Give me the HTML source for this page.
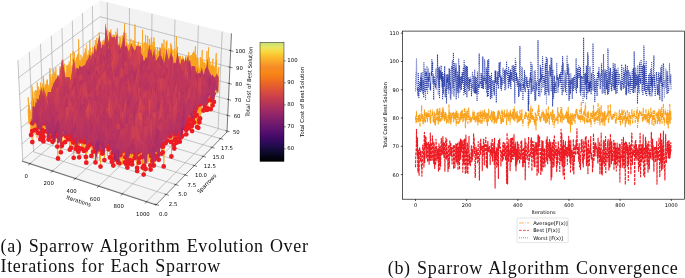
<!DOCTYPE html>
<html><head><meta charset="utf-8"><title>Sparrow Algorithm</title>
<style>
html,body{margin:0;padding:0;background:#fff}
body{width:685px;height:278px;overflow:hidden;position:relative}
svg{position:absolute;left:0;top:0;display:block}
.cap{position:absolute;font-family:"Liberation Serif",serif;color:#111;white-space:nowrap;font-size:18px;line-height:20.5px}
</style></head><body>
<svg width="685" height="278" viewBox="0 0 685 278">
<defs><clipPath id="ca"><rect x="0" y="0" width="343" height="232"/></clipPath></defs>
<g clip-path="url(#ca)">
<g transform="translate(-103.0,-55.0) scale(0.5364)" font-size="10" font-family="'DejaVu Sans','Liberation Sans',sans-serif"><g><g><path d="M 233.65 403.28 L 380.11 280.51 L 378.08 103.46 L 224.6 215.45 " style="fill: #f2f2f2; opacity: 0.5; stroke: #f2f2f2; stroke-linejoin: miter"/> </g> </g> <g><g><path d="M 380.11 280.51 L 615.14 348.82 L 623.52 165.67 L 378.08 103.46 " style="fill: #e6e6e6; opacity: 0.5; stroke: #e6e6e6; stroke-linejoin: miter"/> </g> </g> <g><g><path d="M 233.65 403.28 L 482.79 484.65 L 615.14 348.82 L 380.11 280.51 " style="fill: #ececec; opacity: 0.5; stroke: #ececec; stroke-linejoin: miter"/> </g> </g> <g><g><path d="M 247.73 407.88 L 393.45 284.39 L 391.98 106.98 " style="fill: none; stroke: #a4a4a4; stroke-width: 1.15"/> <path d="M 289.64 421.57 L 433.11 295.92 L 433.34 117.46 " style="fill: none; stroke: #a4a4a4; stroke-width: 1.15"/> <path d="M 332.32 435.51 L 473.44 307.64 L 475.42 128.13 " style="fill: none; stroke: #a4a4a4; stroke-width: 1.15"/> <path d="M 375.79 449.71 L 514.46 319.56 L 518.25 138.99 " style="fill: none; stroke: #a4a4a4; stroke-width: 1.15"/> <path d="M 420.07 464.17 L 556.17 331.69 L 561.85 150.04 " style="fill: none; stroke: #a4a4a4; stroke-width: 1.15"/> <path d="M 465.19 478.9 L 598.6 344.02 L 606.22 161.29 " style="fill: none; stroke: #a4a4a4; stroke-width: 1.15"/> </g> </g> <g><g><path d="M 225.46 214.83 L 234.47 402.6 L 483.53 483.89 " style="fill: none; stroke: #a4a4a4; stroke-width: 1.15"/> <path d="M 246.7 199.33 L 254.67 385.67 L 501.85 465.09 " style="fill: none; stroke: #a4a4a4; stroke-width: 1.15"/> <path d="M 267.44 184.2 L 274.41 369.11 L 519.74 446.72 " style="fill: none; stroke: #a4a4a4; stroke-width: 1.15"/> <path d="M 287.7 169.41 L 293.73 352.92 L 537.22 428.79 " style="fill: none; stroke: #a4a4a4; stroke-width: 1.15"/> <path d="M 307.5 154.96 L 312.62 337.09 L 554.29 411.27 " style="fill: none; stroke: #a4a4a4; stroke-width: 1.15"/> <path d="M 326.85 140.84 L 331.11 321.59 L 570.98 394.14 " style="fill: none; stroke: #a4a4a4; stroke-width: 1.15"/> <path d="M 345.78 127.03 L 349.2 306.43 L 587.3 377.4 " style="fill: none; stroke: #a4a4a4; stroke-width: 1.15"/> <path d="M 364.28 113.52 L 366.9 291.59 L 603.25 361.03 " style="fill: none; stroke: #a4a4a4; stroke-width: 1.15"/> </g> </g> <g><g><path d="M 615.23 346.8 L 380.09 278.55 L 233.55 401.21 " style="fill: none; stroke: #a4a4a4; stroke-width: 1.15"/> <path d="M 616.56 317.69 L 379.77 250.36 L 232.11 371.4 " style="fill: none; stroke: #a4a4a4; stroke-width: 1.15"/> <path d="M 617.92 288.16 L 379.44 221.78 L 230.66 341.14 " style="fill: none; stroke: #a4a4a4; stroke-width: 1.15"/> <path d="M 619.29 258.2 L 379.11 192.81 L 229.18 310.42 " style="fill: none; stroke: #a4a4a4; stroke-width: 1.15"/> <path d="M 620.68 227.8 L 378.77 163.44 L 227.68 279.24 " style="fill: none; stroke: #a4a4a4; stroke-width: 1.15"/> <path d="M 622.09 196.96 L 378.42 133.66 L 226.15 247.59 " style="fill: none; stroke: #a4a4a4; stroke-width: 1.15"/> </g> </g> <g><g><path d="M 233.65 403.28 L 482.79 484.65 " style="fill: none; stroke: #000000; stroke-width: 0.95; stroke-linecap:square"/> </g> <g><g><path d="M 249 406.8 L 245.18 410.04 " style="fill: none; stroke: #000000; stroke-width: 0.95; stroke-linecap:square"/> </g> <g><text text-anchor="middle" x="240.86" y="434.14" transform="rotate(-0 240.86 434.14)">0</text> </g> </g> <g><g><path d="M 290.89 420.47 L 287.13 423.76 " style="fill: none; stroke: #000000; stroke-width: 0.95; stroke-linecap:square"/> </g> <g><text text-anchor="middle" x="282.8" y="448.01" transform="rotate(-0 282.8 448.01)">200</text> </g> </g> <g><g><path d="M 333.55 434.39 L 329.85 437.74 " style="fill: none; stroke: #000000; stroke-width: 0.95; stroke-linecap:square"/> </g> <g><text text-anchor="middle" x="325.51" y="462.12" transform="rotate(-0 325.51 462.12)">400</text> </g> </g> <g><g><path d="M 377 448.57 L 373.36 451.98 " style="fill: none; stroke: #000000; stroke-width: 0.95; stroke-linecap:square"/> </g> <g><text text-anchor="middle" x="369.01" y="476.5" transform="rotate(-0 369.01 476.5)">600</text> </g> </g> <g><g><path d="M 421.26 463.01 L 417.69 466.49 " style="fill: none; stroke: #000000; stroke-width: 0.95; stroke-linecap:square"/> </g> <g><text text-anchor="middle" x="413.32" y="491.15" transform="rotate(-0 413.32 491.15)">800</text> </g> </g> <g><g><path d="M 466.35 477.72 L 462.85 481.27 " style="fill: none; stroke: #000000; stroke-width: 0.95; stroke-linecap:square"/> </g> <g><text text-anchor="middle" x="458.47" y="506.07" transform="rotate(-0 458.47 506.07)">1000</text> </g> </g> <g><text text-anchor="middle" x="337.84" y="480.67" transform="rotate(-341.91 337.84 480.67)">Iterations</text> </g> </g> <g><g><path d="M 615.14 348.82 L 482.79 484.65 " style="fill: none; stroke: #000000; stroke-width: 0.95; stroke-linecap:square"/> </g> <g><g><path d="M 481.43 483.2 L 487.73 485.26 " style="fill: none; stroke: #000000; stroke-width: 0.95; stroke-linecap:square"/> </g> <g><text text-anchor="middle" x="496.47" y="505.92" transform="rotate(-0 496.47 505.92)">0.0</text> </g> </g> <g><g><path d="M 499.77 464.42 L 506.02 466.43 " style="fill: none; stroke: #000000; stroke-width: 0.95; stroke-linecap:square"/> </g> <g><text text-anchor="middle" x="514.65" y="486.95" transform="rotate(-0 514.65 486.95)">2.5</text> </g> </g> <g><g><path d="M 517.68 446.07 L 523.88 448.03 " style="fill: none; stroke: #000000; stroke-width: 0.95; stroke-linecap:square"/> </g> <g><text text-anchor="middle" x="532.39" y="468.42" transform="rotate(-0 532.39 468.42)">5.0</text> </g> </g> <g><g><path d="M 535.17 428.15 L 541.32 430.07 " style="fill: none; stroke: #000000; stroke-width: 0.95; stroke-linecap:square"/> </g> <g><text text-anchor="middle" x="549.73" y="450.33" transform="rotate(-0 549.73 450.33)">7.5</text> </g> </g> <g><g><path d="M 552.26 410.64 L 558.36 412.52 " style="fill: none; stroke: #000000; stroke-width: 0.95; stroke-linecap:square"/> </g> <g><text text-anchor="middle" x="566.67" y="432.65" transform="rotate(-0 566.67 432.65)">10.0</text> </g> </g> <g><g><path d="M 568.97 393.53 L 575.02 395.36 " style="fill: none; stroke: #000000; stroke-width: 0.95; stroke-linecap:square"/> </g> <g><text text-anchor="middle" x="583.22" y="415.37" transform="rotate(-0 583.22 415.37)">12.5</text> </g> </g> <g><g><path d="M 585.3 376.8 L 591.3 378.59 " style="fill: none; stroke: #000000; stroke-width: 0.95; stroke-linecap:square"/> </g> <g><text text-anchor="middle" x="599.4" y="398.48" transform="rotate(-0 599.4 398.48)">15.0</text> </g> </g> <g><g><path d="M 601.26 360.44 L 607.22 362.19 " style="fill: none; stroke: #000000; stroke-width: 0.95; stroke-linecap:square"/> </g> <g><text text-anchor="middle" x="615.23" y="381.96" transform="rotate(-0 615.23 381.96)">17.5</text> </g> </g> <g><text text-anchor="middle" x="579.93" y="447.35" transform="rotate(-45.74 579.93 447.35)">Sparrows</text> </g> </g> <g><g><path d="M 615.14 348.82 L 623.52 165.67 " style="fill: none; stroke: #000000; stroke-width: 0.95; stroke-linecap:square"/> </g> <g><g><path d="M 613.26 346.23 L 619.18 347.95 " style="fill: none; stroke: #000000; stroke-width: 0.95; stroke-linecap:square"/> </g> <g><text text-anchor="middle" x="632.58" y="351.8" transform="rotate(-0 632.58 351.8)">50</text> </g> </g> <g><g><path d="M 614.58 317.12 L 620.54 318.82 " style="fill: none; stroke: #000000; stroke-width: 0.95; stroke-linecap:square"/> </g> <g><text text-anchor="middle" x="634.04" y="322.71" transform="rotate(-0 634.04 322.71)">60</text> </g> </g> <g><g><path d="M 615.91 287.6 L 621.93 289.27 " style="fill: none; stroke: #000000; stroke-width: 0.95; stroke-linecap:square"/> </g> <g><text text-anchor="middle" x="635.52" y="293.22" transform="rotate(-0 635.52 293.22)">70</text> </g> </g> <g><g><path d="M 617.27 257.65 L 623.33 259.3 " style="fill: none; stroke: #000000; stroke-width: 0.95; stroke-linecap:square"/> </g> <g><text text-anchor="middle" x="637.02" y="263.3" transform="rotate(-0 637.02 263.3)">80</text> </g> </g> <g><g><path d="M 618.65 227.26 L 624.75 228.89 " style="fill: none; stroke: #000000; stroke-width: 0.95; stroke-linecap:square"/> </g> <g><text text-anchor="middle" x="638.55" y="232.94" transform="rotate(-0 638.55 232.94)">90</text> </g> </g> <g><g><path d="M 620.04 196.43 L 626.19 198.03 " style="fill: none; stroke: #000000; stroke-width: 0.95; stroke-linecap:square"/> </g> <g><text text-anchor="middle" x="640.09" y="202.14" transform="rotate(-0 640.09 202.14)">100</text> </g> </g> <g><text text-anchor="middle" x="660.05" y="254.89" transform="rotate(-87.38 660.05 254.89)">Total Cost of Best Solution</text> </g> </g> </g>
<path d="M106.4,78.6l0-33.3 .4,21.4 0-25.1 .4,25.4 0-20.5 .3,6.9 .1-7.7 .4,16.2 .1-22.7 .3,25.6 .2-15.7 .5,35.1-.2-42.3 .5,26.1 .1-4.6 .1-9.6 .3-5.3 .2,12.6 0-15.2 .5,10.5 0-17.1 .3-5.5 .4,35 .2,7.5 .1-33.5 .3,10.1 0-10.4 .4-.9 .3,18.1 .2,2.1 0-24.4 .4,19.6 .1-16.8 .2,15.9 0-15.5 .5-6 .3,22.4 0-21.7 .5,41.6 0-39.2 .3,28.4 .3,3.8 .1-19.4 .3,13.9 .2-17 .3,.5 .3,35.3 0-47.7 .2,32 .3-19.9 .2,18.5 .2,6-.1-43.6 .4,10.5 .4,36.5 .4-2.3 0-22.7 .1-4.9 .1,17 .5,3.1 0-23.6 .4,24.3 .2-19 .1-11.5 .1,25.3 .5-5.1 .1-16.9 .2,23 .1-16 .4,6.8 .2,23.2 .1-31.8 .3,28.1 .3-37.3 .1,24.7 .3-7.7 .2,13 .3-20.8 .1,20.6 .2-30.1 .4,46.7 .1-46.5 .3,15.3 .2-27.2 .1,40.3 .2-19.4 .3,34.9 .3-12.9 .1-14 .2,23.3 .2-42.5 .4,37.6 .2-17.1 .1,17.4 .2-29 .2,3.5 .3,17.1 .4,14.9 .1-16.2 .1,10.3 .3-16.3 .2,6.1 .3-16.7 .2,12.3 .1,26.6 .2-38.1 .2,23.6 .2,1.7 .2-24 .3,32.9 .1-36.4 .3,6 .1,22 .5-1.8 .2-14.4 .1,13.6 .1-17.4 .4,4.4 .3-6.4 .1,5 .3,22.8 .3-29 .1,27.6 .2-11.2 .2-15.1 .2,22.1 .3-20.1 .2,13 .3-23.4 .1,28.8 .5-45.1 .2,20.2 .1,15.5 .4-15.9-.1,33 .2-2.8 .4-28.5 .3,17.1 0,9.6 .2-10.8 .3-11.9 .1,13.9 .3-16.4 .2,9.1 .2,17.3 .3-13.9 .2-18.3 .4,3.9-.1,34.5 .5-7.8 .2-21.6 .1-.5 .2,21.9 .3-24.3 0,32.9 .4-25 .1,22.6 .2,9.5 .4-38.5 .3-.3 .1,24 .2-19.2 .2,22.3 .1-4.6 .7-41.7-.2,38.3 .2-13.7 .4-2.5 .1,22 .1,10.9 .3-24.3 .4,2.6 .4-20.7 .1,32 .2-22.1 .2-.1-.1,20.8 .9-38.1-.2,33.9 .3-8.1 0,21 .7-38.8-.1,25.2 0,7.6 .3-20.8 .5,12.2 .2-12.6 0,17.8 .4-36.4 0,37 .2-8.5 .5-17.3 0,27.2 .4-4.4 .5-30.8 .2,1.6-.2,27.2 .6-23.5-.1,30.1 .1,.1 .4-18.3 .6-11.3-.2,29.1 .6-36.6-.2,32.5 .3-11.2 .1,10.4 .5-23.6-.1,36.4 .2-6.5 .3-14 .4-5.9 .1,12.2 .4-20.1 .2,15.2 .3-16.2-.2,30.5 .7-35.7-.2,34.5 .7-21.7 0,15.2-.1,12.7 .6-31.8-.2,34.3 .7-25.1-.1,17.4 .4-20.8 .3,19.4 .4-21.1-.3,26.2 .6-31.6 .4,10.1-.2,21.6 .2-6.3 .4-13.7 .4-10.1-.1,16.2 .4,.3 .3-10.2 .1,17.7 .6-27.1-.2,20.8 .5-12.7-.3,32.1 .7-40 .1,14.7 .2-9.4 .3,10.7 .5-14.4-.2,23.1 .7-29.3-.3,26.1 .6-13.1-.1,14.2 .6-26-.2,28.4 .7-23.6-.4,34.4 .6-28.2 0,19 .3-13.3 .1,20.4 .8-34.1-.3,26.1 .6-16.3 .4-3.3-.1,9.3-.2,22 .8-34.1-.2,33 .9-40.1 .1,9.6-.5,30.9 .4-2.7 .4-15.8 .3,7.4 .4-13.2 0,2.3 .1,8.9 0,17.3 .7-22.6 .4-17.8-.3,30.1 .2,3 .6-13.1 .4-11.7-.2,23.9 .5-21.7-.3,20.2 .9-29.3 0,21.5 .3-12.3 0,12.3 .7-26-.2,29 .1,12.7 .9-37.2-.6,34.4 .5-19.9 .4-4.5-.1,18.3 .5-8.5 .5-10.8-.7,37.2 1.3-46.4-.3,27.5 .8-28.4-.4,28.4 .3-6.2-.2,23.9 .6-18.5 .3-1.1 .6-20.6 .6-18-.8,43.6 .5-10.4 .4-10.5-.3,24.7 .9-21.7 .4-15.4-.3,28.5 .2,8.9 .3-8.1 .2-7-.1,9.4 .6-3.4 .3-7.8-.5,31.5 .8-31.2 .3,1.2 .1,11.3 .5-16.8-.3,23.1 .8-23.2-.2,20 .3-4.9 .5-10.5 .2,5.8-.1,10.2 .3,3.7 .6-21.2 .4-4.5-.4,18.1 .5-11 0,7.7 0,12.4 .9-31.1-.2,25.8 .7-23.4 0,7.8-.2,19.1 .6-16.2-.1,14.2 .3-3.6 .9-19-.3,13.8 .9-20 .2,4.4-.7,30.7 .9-28.9 .1,8.3 .4-10.6-.2,18.1 .1,8.9 .8-27.4-.2,20.9 .7-21.4 .2,3.7-.2,17.7 .7-17.2-.4,18 .6-11.8-.5,25.5 1.5-39.2-.6,28.2 .1,1.1 .6-14.1-.1,17.5 1-27.8-1.1,41.1 1.3-32.9 .1,5.6 .2-3.8 .2,2.2 .6-16.1 .4,5.8-.6,22.7 .2,3.2 1.2-37.4-.9,44.9 .8-21.1 .3,2.3 .8-24.9-.4,25.4 .4-9.4 .8-22.2-1.2,46.3 1.4-38.4-.5,26.3-.1,10.3 .8-22.6 0,14.7 .9-26-.4,21.5 .9-21.3-.5,27.4 .9-25.9-.4,26.8 .8-20-.3,15.9-.3,12.4 .8-12.6-.3,11 0,11.8 1.2-34.1-.4,20.7 .8-19 .6-2.1-.6,21.5 .8-18.5-.2,15.5 .7-11.5-.5,18 .1-.4 1.9-44-.6,26.8 .7-17.1 .2,5.7-.8,24.7-.2,10.4 1.5-38.5-.2,17.9 .5-6.7-.2,14.7 1-24.9-.3,17.7-.1,6.9-.1,9.4 .9-20 .8-12.2-1,31.2 .7-12.8 .3-5.1 .1,10.1 1.5-37.2-.3,17.7-.5,16.1 .8-15.7-.6,22.1 1.5-32.3-.5,20.9 .5-13-.8,27.7-.1,15.3 1.7-40.8 .4-3.8-1.5,43 1.9-43.7-.9,28.6 1-13.8 .6-13.6-.3,17.7 .6-11.7-.4,14.9 .9-19.7-.7,26.4 1.2-23.2-.9,26.3 1.6-32-.7,21.8 1.4-27.6-.6,17.7-.7,21 1.6-31.2-.7,27.6 .7-12.3 .7-15.9-1.2,39.7 1.4-27.9-.4,13.6 1.1-23.5-1,31.7 1-22.4 1.5-23.6-.8,25-.3,10.5 1.5-29.1-.5,14.6-.1,11.6-.1,8.4 1-21.3 0,6.2-.4,11.4 .7-6.1 .8-13.3 .3-3.7-.7,25.9 .3-2.5 1.1-24.1M102.6,73.7l0-30.5 .2,8.3 .3,16.4 .2-25.2 .2,10.8 .4,7-.1-20.7 .3,5.7 .4,20.8 .2-3 0-15.4 .1-6.6 .5,25.7 .3-4.2 0-8.6 0-30.4 .4,26.6 .3,1 .2,9.3 .1-20.2 .5,23.4-.1-27.3 .4,25.8 .2-23 .4,27.6 0-36.4 .4,31.8 0-5.7 .3,15.6 .4-3.6-.1-23 .3,.1 .4,23.6 0-13.7 0-23.5 .6,18.5 .4,33.9 0-15 .1-29.2 0-11 .4,22.7 .2-12.1 .2,27.1 .5,10 0-25.1 .3-4.5 .3,33.6 .2-17.5 .1-28.7 .2,16.6 .3,21.1 .2-4.5 0-23.3 .3,2.9 .5,18.7 .3,3.6 0-30.8 .3,7.6 .2,22.2 .2-32 .3,26.6 .3,7.6 0-16.1 .2,14.2 .2-22.9 .3,39 0-32 .4,11.5 0-26 .5,23.2 .2-11.2 .4,22.7 0-19.5 .2,13.6 .2-16.3 .3,8.7 .1-5.9 .3,16.6 0-14.4 .6,14 .1-24.4 .1-7.3 .1,24 .5,5.5 .1-6 .4,9.3 .1-21.7 .2,21.7 .1-22.2 .2-5.8 .3,23 .4,2.3 .1-13.6 .2,30 .3-35 .1,26.4 .2-44 .2,40 .1-34.1 .4,7.7 .1,44.5 .4-8.6 .2-33.1 .4,28.3 .1-22.1 .1,12.8 .2-18.7 .2,34.1 .2-37.9 .3-.5 .1,39.8 .3-6.4 .2-28.3 .5-2.3 .1,24.9 .3-4.2 .1-21.8 .1,15.4 .2-13.2 .4,19.5 .2-9.4 .2,3.3 .3-19.5 .3,.9 .1,16.8 .2-7.2 .2,20.5 .1,3.8 .3-28.3 .2-5.5 .3,33.9 .3-7.6 .2-18.3 .3,1.7 .1,27.5 .1-14.2 .2-18.5 .2,26 .4-25.8 .2,14.9 .3-9.5 0,27.7 .4-32.3 .1,1.5 .1,20.4 .4-10 .2,7.8 .2,11.2 .3-19.3 .2,11.1 .3-22.8 .2,4.3 .2,17.6 .3-18.7 .1,29.8 .1-10.6 .2-22.1 .3,12.8 .3,16.6 .2-33.6 .2,35.4 .2-22.9 .1,20.1 .5-29 .1,18.1 .2-11.6 0,15.2 .5,13.5 .3-32.4 .3-3.7 0,28.9 .4-19.9 0,16.1 .5-18.5 .1,14.6 .3-20.8 .1,24.3 .1,1.2 .3-18.1 .2,19.2 .3-24.1 .3-6.5-.1,33 .5-32.7 .1,41.3 .3-33.5 .1,29 .3-20.6 .1,6.6 .3,1.9 .3-11.2 .2,28.7 .4-35 .1,22.1 .4-21.8 0,7.4-.1,25.4 .7-38.9 0,21.9 .5-6.2-.1,27.3 .4-34.2 .2,20.5 0,3.8 .3-16 .5-15.8-.3,42.7 .7-34.1 0,20.7 .6-27.9 0,22.6 .2,4.1 .4-17.7 0,11.4 .4-17.6 .1,9.8 0,28.7 .2-8.3 .6-28.4-.1,26.7 .5-25.5 .2,2.6 0,23.5 .3-10.5 .4-28 .1,22.1 .2,8.1 .2-2 .5-19.9 .2,11.2 0,18 .5-11.1 .2-9.8 .1,.1 .1,23.9 .5-34.6-.2,25.1 .4-1.3 .4-23.9 .1,34 .4-19.9 .1,11.2 .2-10.4 .2,12.6 .4-17-.1,17.5 .3-14.1 0,24.7 .3-5.9 .5-21.3-.1,23 .3,4.7 .6-25.9 .3-.9-.3,25.7 .9-29.3-.1,16.2 0,7.4 .5-15.7 .2,11.2 .3-12.4 .4-6.5-.2,21.1 .4-4.7 .4-13.3 .2-1.2-.3,28 1-34.4-.3,27 .1,13.8 .6-30.9 .3-7-.1,20.8 .1,1.8 .4-12.4 .7-25.9-.5,43.3 .7-24.8 0,19.8 .1,5.7 .5-15.6 0,9 .5-23.9 .4,1.9-.5,34.4 1.1-47.8-.5,39.4 1.1-40.4-.6,38 0,28.2 .7-32.7 .2,2.1 .4-12.8-.2,26.6 .7-34.8 .1,7.8 .1,14.7 .5-15.9-.2,16.3 .3-1 .6-14.4 .3-11.8-.3,26.6 .4,.2 .4-16.1 .2,.9-.2,20.3 .9-17.9-.5,29.9 .6-20.4-.2,18 .3-3.5 .8-24.2-.3,25.8 .6-19 .6-11.9-.2,17.3 .1,5.4 .6-20.6-.6,39.7 1-41.4-.1,17.8 .4-15.1 .3,1.2-.2,23.2 0,12.6 1-32.1 .1,6 .5-19 .4,1.1-.3,22.2 .7-24-.4,24.1 0,10.7 .7-22.7-.4,27.5 .9-21.3 .1-1.2 .6-14-.6,33.9 .7-23.9 .6-10-.3,21.4-.1,13.5 1.2-35.9-.1,11.1-.2,20.4 .4-11.9 .5-11.7 .2,3.3-.1,13.4 .2,10.8 .7-25.5-.1,18.4 .8-25.7-.4,24.8 .9-27.1 .1,5.9-.4,19.8 .6-16.3-.1,11.5 .1,9.4 .8-27.6-.1,26.8 .6-19.7 .2,.9-.3,19.9 .3,3.4 .7-23.6 .3-.5-.3,14 .2,7.9 .6-18.4 .3-5.1-.2,20.7-.1,10 1-34.7-.4,34.6 1-30.5 .4-6.1-.3,19.3-.1,11.7 .7-20.8-.1,16.7 .6-15.5 .4-6.7-.5,20.5 .7-3.4-.5,23.6 1.4-48.8-.5,31.9 .4-11.7-.1,18.4 .5-14.8-.4,19.3 .7-13.8 .9-20.1 .5-2.8-.8,31.8 .5-7.1 .8-22.8 .2,2.9-.4,15.2 .3-1.5 .5-5.9 .2-2-.4,22.9-.2,12.8 1.5-38.2-1,38.7 1.6-51.8-.1,17.7 .9-19.5-.9,33.5 .5-12.4 .8-10.6-.6,23.4 .9-20.5-.7,28.8 .6-13.2 1.2-26.1-1,35.5 1.4-33.2 .1,2.3-.8,27.7 .1,7.7 1.1-23.4-.2,9.9 .5-7.6 .5-2.3-.6,22.3 1-18 .8-21.5-.9,33.8 .2-3.5 1.2-27.4-.5,21.2 .9-18.3-.5,22 .4-1.8 .7-18 .7-6.2-.7,24.8 .7-18-.2,14.9 .4-8.5 .1,5 0,15.2 .3-7.1 .7-9.6-.4,16.3 .4-7.7 .9-21.3 .3,3.6-.8,26.4 1-15.5-.6,18.4 .8-11.1 .4-8.6-.6,24.5 .8-18.8 .1,2.6-.2,9.9 .3,2.1 .8-14.2 1.4-35-1.7,52.7 .4-3.8 .9-13.8 .2,1.9 .7-13.5 0,3-.6,24.2 1.7-35.8-.9,28.6 1-24.2-1.1,35.1 1.5-29.4-.7,20.8 .4-3.7 1.2-23.9-.3,15-.6,19.8 1.6-34.3-.9,27.5 .2,.6 .9-17.3 .5-6.6-.7,24 .2,6 1.2-28.4-.7,23.4 1.3-28.3-.1,12.2-.2,7.8 .5-3.3-.6,18.3 .5-2.4 .9-19.4M98.4,49.4l.6,27.5-.1-23.2 .4,18.4 .4-2-.2-23.4 .4-4.9 .3,15.6 .1,1.6 .3,16.4 .1-25.2 0-8.4 .3,3.1 .5,16.6 .3,6.1-.1-14 .7,32.1 0-23 0-18.4 .5,26.9 0-30.5 .4,28 .2-6-.1-20.4 .4,8.4 .2,11.4 .3,1.6 .2-8.8 .1-11.9 .3,16.5 .4,21.9 .1-18.5 .2,9.6 .1-14.7 .3,2.3 .3,8.1 .1-11.7 .5,24 .3-4.3-.2-26.4 .5,17.8 0-14 .6,26.3-.2-27.7 .4,25 0-22.7 .2,.2 .4,13.7 .1-20 .4,21.1 .2-1.4 .1-16.3 .2-6.9 .4,26.3 .1-1.9 0-28.7 .4,29.5-.1-24 .4,3.4 .3,21.4 .3-16.8 .2,11.9 .3,13.3-.1-21.9 .5,18.6 .1-29.9 .2,18.1 .3-8.5 .4,15.3 0-21 .2,16.5 .3-16 .1,11.9 .2,14.3 .2-29.3 .2,18.7 .4-7.4 .3,9.4 .2-16.9 .2,14.3 0-33.8 .5,37.9 .1-15.8 .3,37.8 .1-15.2 .2-13.7 .3,9.9 0-23.2 .4,16.4 .1-15.8 .6,24.9 0-25.7 .3,22.8 .1-5.3 .4-17 .1,14.3 .2,2 .2,9.1 .1-32.7 .2,28.7 .4-15.7 .3,18.9 0-24.5 .2,20.6 .3,12 .3-24.2 .3-2.6 .2,34.2 .2-18.9 .2-6.9 .1-9.9 .1,18.8 .5-16.2 .2,9.9 .1,2.6 .3-20.5 .1-5 .2,31.3 .4,1 .1-34.3 .5,23 .1,12.3 .1-8.9 .2-20.6 .4,50.3 .1-47.3 .4-3 .1,27.4 .1,0 .2-26.7 .2,35.3 .2-35.7 .3,25.4 .1-27.6 .3,30.1 .1-17.6 .6,19.6 .1-5.2 .2-12.9 .1,22.2 .4,.9 .2-14.1 .1-.7 .2-11.9 .4,3.8 .2,16.1 .4-32.9 0,25.6 .1,7.9 .2-13.3 .4-17.1 .2,27.2 .3,7.7 .2-23.2 .2-4.4 .1,19 .5-32.2 0,48.3 .3-5.4 .2-20.6 .1,9.3 .2-7.3 .4,4.1 .2-10.1 .2,13.3 .3-7.9 .2,19.1 .3-36.2 0,33.4 .2-30.7 .3,15.1 .3-3.4 .3-9.9 0,26.6 .3-27.6 .1,28.1 .4,12.8 .3-32.7 0,26.1 .3-40.3 .2,16.7 .2,12.5 .3,2.9 .3-20.4 .4-1.9 .1,6.4 .1,6.9 .4-14.5 .1,30.6 .4-38.4 .2,3.5 .1,17.1 .1,12.9 .3-25.8 .1,12.2 .1,15.3 .3,18.7 .5-47.2 .3,14 0,13.6 .2-15.2 0,13.3 .6,1.3 .2-17.6 .3-1.2 0,21.8 .2-11.7 0,10.4 .7-19.8 .1,11.7 0,13.3 .4-14.8 .5-10-.1,23 .4-27.9 .1,24.3 .3-6.8 .3-18.3 .2,8.7 0,12.3 .3,1.1 .3-20.2 .1,14.8 0,9.5 .4,7.9 .6-37.9-.3,39.1 .5-39 .5-3.1-.2,33.8 .5-28.5-.2,42.1 .4-16.7 .3,7.6 .4-31.1-.1,30.2 .5-5.6 .4-26.8-.1,17.8 .1,8.6 .7-33.3-.1,30.2 .4-21.4-.1,34.5 .4-13.2 .5-17-.4,41.6 .6-43.4 .7-20.3-.4,41.3 0,21.5 .7-36.9-.2,30.9 .8-35.1 0,28.6 .5-34.8-.2,25.7 .4-20.4 .4-3.8-.2,27.7 .3,.2 .5-22.1 0,29.1 .5-29.5 .3,4.5-.5,44 .8-28.9 .3-8.9 .1,16.4 .3-15.2 0,9.5 .5-23.3-.1,32.4 .6-27.7 .1,4.8 .1,8.1 .1,25.5 .8-49.2 .3,6.3-.4,30.2 .6-28.8 0,18.3 .2-5.4 .4-10 .1,18.3 .5-25.7-.1,21.8 0,10.8 .2,3.6 .7-19.1-.2,16.2 .8-24.7-.3,27.8 .7-31-.3,31.7 .8-33.9-.5,39.4 .5-24 .1,18.9 .7-36.8 .2,10.5 .1,13.4 0,20.7 .7-36 .1,15.8-.1,10.8 .2,4.6 .8-33-.3,25.9 .6-27.2-.3,35.4 .9-36.8 0,19.3 0,6.4 .4-1.3 .5-18.4-.3,21.2 .4-18.6 .8-10.8-.4,27.8 .5-5.1 .5-21.8-.8,44.3 .7-28.9 .3,7.3 .6-17.2-.2,24.4 .4-17.8 .4,.3-.1,17.1 .5-11.4-.1,13.9 .7-32.5-.1,17.7-.4,29.2 .9-37.8-.1,23.6 .6-24.2 .5-6-.5,32.4 1-24.1-.2,16.7-.2,13.1 .9-26.7 .4-7.8-.1,16.3 .4-10.4-.1,13.4 .8-21.7-.5,34.3 .8-29.8-.5,24.7 .3,2.4 1.1-33.6 0,6.9-.4,22.1 .5-2 .7-24 .1,7.1-.6,27.7 1.2-33.7-1,43.8 1-25.5 .9-26.5 .1,8.6-.1,10.2 0,16.7 .8-24.8-.3,20.7 .8-23.8-.7,35.4 1-28.1-.4,22.3 1-28.7-.8,41.4 1.1-37.1-.3,24.5 .8-26.2 .1,9.6 .4-5.4 .3-9.9-.7,31.1 1.2-30.6-.7,36.8 .8-12.7-.2,9.6 0,6.9 1.2-43.4 .3,7.1-.8,34.4 1.1-24.2-.4,18.8 .3-6.3 .6-12.2-.3,28.4 1.4-47.5-.7,28.7 .7-10.9 0,2.6-.4,22.3 .5-9.4 .7-11.5 .4-11.8-.7,33.7 1.1-29.4-.7,28.6 .7-12 .7-12.6 0,6.8 1.1-27.4-1,39.3 .9-20.5-.4,23.4 .9-28.5 .7-15.7-1,37.1 .8-15.3-.3,16.3 .9-17.1-.2,13.9-.1,9.7 1.1-24.4-.3,18 .9-22.8-.6,27.9 1.3-40.9 .4-.4-1,37.3-.1,12.2 .9-26.5-.1,15.1 1.2-27.2-.4,19.7-.3,16 1-19.1-.7,25.8 1.1-27.1-.7,26.2 1.3-34.4-.7,26 .3,4.1 1.3-36-.1,11.5-.3,20.5 .1,.8 .5-8.3 .5-.8 .6-16.5-.5,17.9 1.3-27-1.3,41.8 1.5-41.5-.4,30.2 .8-21.1-.2,17.6 .7-16.6 .1-1.9-.2,15.9 1-16.8-.3,11.1-.2,9.5 .7-12.9 .2,.2-.3,14.4 1.5-33.3-1,38.8 .1-.9 .9-21.6-.5,25.5 .9-18.7-.4,16.2 1.1-23.7 .7-9.7-.4,17.3 .7-12.2-.9,29.8 .3,.4 1.1-27.4 .1,5.2-.3,9.4-.3,18.5 2.1-46.9-1,36.9 .9-21.7 1.1-19.6-1.5,44.9 .2-3 .8-12.5 .3-5.3-.1,6.1 .3,7.5 .9-20.9-.6,22.8 .6-12.5 .2,4.1 .7-11-.7,23.9 1.3-31.6-1.1,39.3 .9-20.6M94.6,52.5l.3,16.3 .5,3.9-.3-26.2 .8,29.6-.2-17.8 .5,10.9 0-14.5 0-9.4 .5,30 .1-37.5 .5,33.1-.1-13.1 .7,28.8 .2-14.2-.3-28.8 .7,27.7-.1-21 .2,11.5 .4,14.8 0-18.2 .5,25.7-.3-51.5 .9,53.9-.3-32.4 .5,22.8 .4,0 0-12.9 .4,18-.2-30.1 .2-4.5 .4,17.5 .2,4.5 0-24.6 .6,28.1 0-20.3 .3,6.9 .4,27.1 0-33 .4,19.8 .4,7.1-.1-21.6 0-10.2 .4,21.4 .3,3.8 .1-17.6 .4,17.7 .1-19.8 .4,10.9 .3,16.8-.1-19.3 0-20 .5,24.7 .2-11.8 .3,1.6 .4,29-.2-36.9 .3,17.5 .3,.5 .2-12.2 .2,12.5 .2,9.3 .4-1.6-.1-27.2 .4,2.4 .2,18.5 .5,7-.2-38.2 .6,41 0-23.8 .2,7.8 0-23.8 .3,4.1 .4,29.5 .2-17.7 .4,19.8 .1-1.5 .2-22.4 .1-6.4 .4,28.1 .1-.2 .1-7.7 .5-9.8 .2,18.4 .4,11.9 0-14.5 .2-2.7 .1-24.8 .3,34.6 .1-8.9 .2-17.9 .5,27.4 0-37.5 .3,34.7 .3-15.6 .2,20.4 .1-22.2 .4,32.7 .1-33 .4,21.1 .2-20.6 .1,7.6 .1-11.1 .4,31.2 .3-35.6 .2,21.2 0-12.6 .2,21.1 .4,1 .2-18.9 .3,18.3 .1-21.9 .2-4.1 .3,30.8 .2-31.7 .3,22 .1,7.2 0-25.6 .4,14.8 .3-17.6 .2,36.5 0-32.7 .4,12.8 .2-11.7 .3,24.2 .3-19.8 .3-7.2 .1,23.3 .1-36.2 .3,35.7 .4-27.4 .1,10.9 .2,1.2 .3,10.2 .2-26.1 .2,22.7 .1,2.9 .1,13.1 .6,2.5 .1-28 .1-11.9 .1,42.4 .5-7.4 .1-16 .2,7.4 .1-25.3 .4,22 .2-13.4 .2-6.7 .2,23.2 .2-24 .2,27.8 .4-11.7 .2,5.3 .3-18.9 .1,31.2 .4-20.8 .1,12.2 .2,2.5 .3-28.7 .1,47.1 .2-22.9 .3-5.6 .3-30.2 .3,25.7 .1,25.1 .1-29 .2,24.6 .5-29.6 .1,9 .1,12.9 .4-34.1 0,48.7 .2-40.5 .3,19.1 .3,16.1 .2-39.9 .3,18.9 0,25 .5-33.8 0,23.9 .2-14 .4-.9 .2,24.5 .4-45-.1,34.3 .3,1.1 .3-30.4 .2,2.8 .3,18.8 .3-21.8 .1,26.3 .2,4.2 .2-17.1 .2,14.5 .4-28 .3,2.6 0,28.8 .1,9.1 .5-35 .2,6.5 0,22.7 .5-22.3-.1,22.4 .3-5 .2-18.1 .5,11.8 .2-16.2 .2,10.5 0,15.5 .6-19.1 0,17.6 0,8.6 .4-24.9 .1,15.8 .3-19.2 .2,19.1 .4-22.7 .1,16.3 .2-10 .2,24.2 .3-17.1 .1,25.6 .6-46.6 0,30.5 .4-19 .1,17.5 .3-20.9 .1,7.4 .2,13.9 .3-.5 .3-20.2 .2,9.4 .1,19.3 .4-29.7 .1,24.9 .4-10.7 0,9.7 .4-1.8 .4-32.1 0,20.9 .2,5.6 .4-17 0,24.8 .3-15.4-.2,29.5 .6-26.9-.1,20.1 .7-22.7 .1,13.1 .3-19.6-.1,35.2 .6-26.6 .1,2.4 .3,3.6 0,12 .2-2.9 .4-7.3 .1,6.4 .6-25.6 .1,6 0,26.4 .5-31.1-.2,39.9 .4-8.9 .4-26.8 .1,14.7 .2-7.8 .5-2.4-.1,18.2 .1,3 .3-15 .7-11.5-.4,33.2 .4-8.8 .4-24 .1,29.2 .3-16.8 .7-13.4-.3,25.8 .2,8.6 .8-44 0,5.9-.1,33.4 .6-21.4-.1,15.9 .2,1.2 .5-17.4 0,6.6 .3-11.9 .4,0-.2,32.2 .5-14.1 .3-14.2 0,16.2 .5-12.6 0,23.1 .6-30.1-.3,26.6 .7-23.4 .3-3.8-.2,21.3 .6-18.3-.3,23.8 .3,7 .5-27.9 .2,2.3-.2,20.9 .6-9.3 .7-27.6-.1,25.5-.1,12.8 .8-34.3-.3,28.3 .6-23.4 .1,17 .1-2.4 .4-8.8 .3-2.7-.4,30.8 .7-15.6 .3-11.8 .1,16.1 .6-22.4 .1,1.3 0,16.5 .2-2.7 .5-14.7 .4-3.6-.4,31 .4-8.9-.2,12.8 1.1-36.2-.2,20.7 .4-3.8-.1,19.7 .3-11.9 1-43.4-.5,48.3 .6-20.2-.4,27.2 .6-14.3 .1,2.5 .6-16.8 .3-.2-.2,18.1 .3-2.4 .3-11.2 .6-11.5-.5,35.8 .6-11.4 .6-16.6-.1,19 .4-11.3-.1,13.7 .9-30.2-.7,38.7 .7-22.1 .6-17.8-.7,37.8 1-28 .1,8.7-.3,23 1.1-35.3-.5,27.3 .9-25.2-.3,15.2 .7-21.9-.4,32.2 1-31-.9,44.7 1-33.9-.7,40.7 1.4-45-.6,33.9 .9-32.2-.1,27.7 .8-30.9 .2,1.1-.3,23.6 .3-8 .8-18.2 0,4.5-.1,20 .5-14.2-.2,18.6 .3-3.3 .8-22.7-.5,24.4 .7-16.4 .1,4.4-.3,17.5 .5-6.8 .8-17.8 .4-11.4-.4,19.4 0,17.3 1.1-31.2-.5,24.8 1-34-.4,30.3 .6-21.5-.7,39.8 1.2-31.4 .4-5.4-.5,28.1 0,2.7 1-31.4 .3,1.8-.4,27.9 .8-17.9-.1,8.3 .8-21.7-.5,24.5 0,7.7 .7-20.9 .8-6.7-.4,19.8 .2-3.3 .3-8.6 .1,12.4 .6-15.9 .6-7.2-.4,22.6-.1,13.4 1.3-39.3 .4-7.5-.8,31.6 .5-5.2 .5-11.4 .1,9-.6,25.7 .7-15.9 .8-25.9 .6,.1-.5,20.3-.2,13 1.1-28-.1,9 .6-12.7 .7-6.1-1,37.7 .9-25-.4,24.1 .9-25.4-.5,22.4 .7-11.7-.1,11.1 1.4-31.3-.7,26.1 .9-23.5-.5,21.2 1.1-19.5-.8,28.2 0,8.3 1.2-29.6-.3,19 .8-20.6-.3,17.7 .8-23-.2,16.7 .4-6.3-.5,20.6 .9-18 .8-14.5-.8,27.6 .3,5.1 .8-20 .1-.1-.6,24.6 .9-19.7 .6-10.3 .5-5-1.3,43 1.4-30-.3,16.2 .1-1.2 1-17.5-.3,12.1 1.1-27.5 .2,11.3-.8,26.3 .2-3.6 1.3-25.1 .1,3.5-.7,23.9 1.2-28.1-.9,34.4 .3-1.5 1.4-32.9-.3,20.4 .4-10.3 1-17.5-1.2,37.6 .2,1.1 1.1-28.3-.7,27.1 1.2-25.6-.1,12.8 .7-14.9M90.6,51.6l.7,22.7 .1-3.7-.1-18.2 .4,12.1 .6,29.7-.2-38.1 .7,40.2-.3-34.6 .3,12.9 .6,9-.3-30.2 .5,19.3-.1-13.9 .5,14.6-.2-17.1 .3-2.7 .5,23 .3-2.4-.1-22.9 .7,21.5-.2-19 0-13.8 .4,18.8 .7,18.3-.3-28.4 .6,23.6 .1-9.8 .2,8.1 0-20.5 .5,28-.1-16.5 .2-14.5 .5,22 .1-16.2 .3,17.4 .3-5.3 .3,6.9 0-17.4 .3,17.3 .3,1.7-.1-17.6 .7,34.2-.1-33.6 .1-1.2 .4,23.2 .2-8.8 .1-14.6 .2-1.2 .5,16.7 .1,3.3 .1-19 .4,15.4 .1-17.8 .5,22.6 0-13.7 .4,15.2-.2-29.5 .3,9.2 .5,18.7 .1-2.4 0-13.7 .3-1.9 .3,7.9 0-17 .3,20.7 .7,19.1-.1-30.2 .5,16.6 0-15.9 .4,26.3-.1-24.7 .2,3.3 .2-10.3 .6,37.3-.1-25.9 .4-1.8 .1-9.8 .3,15.5 .2,8.7 .2-20.6 .2,19.5 0-33.5 .4,40.2 .2-36.2 .4,22.3 .2,8.8 .2-11.7 .2,12.3-.1-26.3 .5,14.4 .2,14.2 .5-6.5-.1-33.1 .7,54.9-.2-40.5 .2,11 .4,18.4 .2,4.6-.2-48.4 .4,7.8 .3,40.7 .5-8.6 .1-11.7 0-13.9 .3,9.9 .3,24-.1-41.6 .6,29.5 .2-10.5 .2,28.7 0-44.2 .5,8 .1-6.8 .3,33.2 .1-41.3 .4,39.7 0-25.7 .3,12.1 .2-18.7 .3,26.9 .3-6.9 .2,13.4 .1-17.4 .2,6.8 .3-19.8 .1-1.7 .4,21.5 .1-18.8 .1,16.3 .4,14.1 .3-18.6 .4,16.9 0-12.8 .2,13.1 .3-14.8 .3,21.5 .1-28.5 .4,34.5 .1-35.3 .1,22.1 .1-20 .5,27.8 0-50.5 .4,39.8 .2-24.2 .2,35.8 .2-25.8 .2,1.1 .2,22.5 .2-13.4 .4-22.4 .3,15.8 .1,21.3 .3-6.8 .2-38.4 .1,39.9 .2-16.8 .4-18.9 .2,44.3 .1-10.6 .1-27.9 .3,26.6 .3-39.5 .2,41.1 .3-28 .3,15 .2-21 .1,18.3 .2,15.9 .3-5.7 .2-33.4 .2,36.4 .1-19.3 .4,19 .2-23.4 .2,3.4 .2,27.9 .2-9.9 .4-11.3 0,19.4 .2-16.2 .4-26.2 .1,32.9 .5-20.3 .1,19.2 .4-9.1 0,20.3 .3-18.8 .1,10.7 .3-26 0,31.4 .3-.5 .3-21.7 .2,19.6 .4-10.1 .1,10 .2-11.7 .4,12.5 .3-31.3 0,6 .1,16.1 .3,6.6 .4-19.9 0,34.6 .2-29.2 .4,13.6 .1,10.1 .3-23.2 .2,34.7 .2-19.5 .2-10.7 .2,16.8 .5-22.4 .4-6.4 0,21 .2-15.8 .1,11.5 .3-4.8 .2,6.3 .2-2.2 .2,29.5 .4-25.7 .2-16.2 .4-5.9 0,28.9 .2-2.7 .4-22.6 .2,3.9-.1,27.2 .5-27.4-.1,26.7 .3,11.3 .4-43.2 .3-.8-.1,38.6 .8-34.9-.1,27.7 .4-18.4 .1,9.2 .1-.1 .3-14.3 .1,23.6 .4-18 .1,27.1 .5-49.1 0,47.4 .3-28.9 .4,8 .1,6.6 .2-17.6 .1,31.1 .4-33.4 0,26.9 .4-17-.2,27.8 .5-8.2 .8-47.6 .1,23.9 0,11.3-.1,15 .4-28.3 .3,21.1 .4-27.9 .1,23.9 .4-16.1 .2,4.9 0,20.2 .2-9.9 .5-15.7-.1,19.6 .5-14.4 .1,24.3 .4-30.4 0,20.7 .4-24 .3,2.5 0,22.9 0,10.6 .7-28.8 .4-3.2-.2,24.4 .5-10 .3-20.8 .2,4.4 0,17.2 .4-23.8 .1,23.3 0,10.2 .5-13.8 .3-4-.1,24.1 .4-3.3 .2-11.3 .3-13.1-.2,32.6 1-56.2-.4,40.6 .8-22.7-.2,18 .4-4-.1,16.5 .6-16.7-.1,15.2 .4-13.7 .1,14.6 .3-8.8 .2-8.9 .5-9.7-.1,17.9 .6-4.3 .5-20.9-.2,26.2 .6-22.8 0,2.6-.1,15.6 .4-.4 .2-6.4 .3,11.7 .6-28 .2-.1-.4,41.8 1-45.4-.6,45.2 .7-26.9-.3,29.8 .4-3.3 .6-27.7 .2-1.8-.1,30.8 .5-16.8 .1,5.6 .5-16.4-.2,20.1 .5-9.9 .6-17.7-.1,15.2-.5,35 1.3-47.4-.5,36 .8-36.2-.3,26.7 .4-8.3 0,12.5 1-30.5-.2,22.1 .1-2.8 .5-9.1 .4-14.7-.1,18.1 .1,16.7 .5-22.2 .4-2.9-.2,14.3 .8-14.7-.1,9.8-.3,28.3 .9-40.7 .7-14.9-.7,46.6 .8-35.9-.4,24.5 .7-4.6 .4-14-.3,22.7 .7-17.8 .5-8.8-.5,29.3 .1,.6 .6-19.5 .8-17.5-.6,35.7 .3-.9 .6-16 .4-7-.4,25.4 1.4-49-1.1,55.8 1.3-48.1-.7,35.4 .1,9.4 .6-20.3 .6-3.7-.7,35.1 1.2-41.3-.2,18.5 .2,.9 .9-35.6-.5,39.2 .6-15-.2,16 .6-10.9 .1,10.4 .7-22.3-.2,17.6 .3-6.8-.3,20.8 1.1-36.1 .1,5.5-.5,29.9 1-31.8-.5,26.5 .6-8.3 .4-7 .3,1.6-.2,10.8 .7-15.3-.2,20.3 .7-19.7 .4-4.6 .1,.1-.3,20.3 .2,1.6 1.1-36.7 .2,13.4-.7,30.8 .7-10.1 .7-22.9 .3-8.9-.8,36.5 1.1-27.3-1.1,42.8 .9-18.6 .7-22 .2,7-.2,15.2 .5-.9 1.4-45.5-1.4,55.7 .8-23.7-.1,22.8 .7-21.6-.4,17.9 1-26.7 .3,.7 0,8.2-.3,21.1 .8-20.7 .5-4.7-.5,21.7 .2,7.1 1.1-37.1-.2,11.5-.4,22.8 1.5-34.4-1.1,41.3 1-30.5-.7,29.2 1.1-27.5-.1,16.8-.1,6.5 .8-12.8-.5,23.3 1.4-40.4-.2,14.7-.1,7.3 .5-7.1-.2,18 .3-.9 1.1-29-.8,29.7 1.3-31.2-.5,19.2 1-20.1-1,36 1.1-30.3 0,11.5 1-21.8-1,40.5 .8-18.9 .1,2.8 1.2-30.9-1.3,46 1.2-31.6 .3,2.3-.1,10.4 1.2-24.2-1.7,56.9 .9-24.5 .9-18 .2-.3-.7,25.7 .8-11.4 1-23.1-1.3,42.3 1.6-41.6 .4,4.5-.6,22.8 .8-19.9-.6,21.1 .7-3.3 .7-18.7-.4,20 .5-7.2-.2,8.8 .7-18.4-.5,25.9 .7-13.7 .3-1.4 1-18.1M86.6,44.4l.6,30.1 .1-5.9-.1-13.1 .7,18.6-.1-9.7 .7,12.9-.3-23.1 .2,.3 .8,32.8-.1-19.2 .1-14.8 0-3.4 .7,25-.1-15.6 .5,16.1 .4-.8-.2-20.4 .2,8.8 .6,15.6-.2-26.8 .6,30.5 .2-8.9 .1-5.1 0-10.8 .7,24.6 .1,4.4-.4-39.4 .4,8.2 .5,28.4 .1-26.5 .5,25.5 0-12.8 .2-7.1 .6,28-.2-27.2 0-18.2 .5,21.9 .3,10.5-.1-19.5 .3,.1 .4,22.1 .5,7.4-.3-43.4 .6,28.8-.2-32.1 .4,26.2 .3,9 .3,1.5 .1-10.9 .6,15.1-.1-21.1 .4,14.4 .1-9.7 .3,4.9 0-12.9 .4,11.9 .2,11.8 .1-21.3 .3,10.4 .2-3.2 .3,14.1 .3-1.9 0-13.3 .4,8.9 0-22.2 .3,8.5 .3,15.6 .3,13.4 .1-21.4 .4,23.3 0-26.2 .4,22.1-.3-45.9 1,57.7-.2-35.1 .3-4.6 .2,9.4 .4,20.3-.3-46.6 .5,34.5-.1-23.4 .7,8.9 .3,20 0-9.9 .4,5.3 .1,6 .1-26 .6,28.3 0-16.5 .1,4.3 0-28.4 .7,40.2 0-12.4 .1-18 .3,20 .1-18.1 .6,28.1 .1-7.1 .1-10.5 .1-9.6 .6,27.4 0-5.4 .2-6.2 .1-14.2 .5,17.2 .3-5 .2,17.2 .3,2.8 0-27.4 .2,18.8 .1-13.2 .2-19.6 .5,26.3 .2-9.6 .2,14.7 .4,5.6-.1-33.7 .2,9.7 .4,24.7 .2-9.1 .2,9.7 .2-20.6 .3,25.8 .3-9.9 0-7.8 .3-11 .3,14.7 .1-27.5 .3,22.3 .4,4.1 0-25.5 .2,7.9 .2,17.6 .4-16.6 .2,20.9 .3-4.5 0-27.5 .3,38.3-.1-43.9 .4,10.4 .3,33.2 .2-16.1 .3-11.5 .1-3.8 .5,35.3 .3,.5 0-29.5 .2-.7 .2,28.2 .3-9.9 .1-8 .4,13.4 0-26.7 .3,27.2 .1-20.4 .4,5.1 .3,26.7 .1-7.1 .3-30.4 .4,1.1 .1,16.5 .1-11.2 .3,21.9 .2-16.8 .3,16.4 .2-37.5 .1,15.8 .3,22.6 .2-36.7 .2,32.4 .1-22.4 .4,19.3 .3-12.3 .1,6.4 .1-13.4 .5,15.8 .2-11.6 .2,5.2 .3,4.1 .2,19.8 .1-26.9 .3-14.9 .1,34.2 .3-15.6 .2-9.8 .4,26.3 .2-15.5 .1-15.6 .2,18.1 .4-19.5 0,27.7 .5,2.9 .1-25.3 .2,16.5 .3-13.2 .2-6.9 .2,26.7 .2,1.7 .3-24 .1-5.4 .3,29.3 .1,1.1 .2-15.2 .3,9.1 .2-22.3 .3,15 .1-11.7 .2,31.7 .4,7.5 .4-15 .1-14.5 .3,21.2 .2-32.4 .2,22.7 .2-28.2 .3,42.4 .1-16.6 .1,13.9 .2-30.4 .4,6.4 0,25.4 .4-19.6 0,13.2 .4-13 .4-18.3 .2,27.4 .3-13.1-.1,27.7 .5-42.8 .1,28.4 .3-13.6 .2,22.3 .2-23.6 .5-1.8 0,25.2 .3-6.5 0,23.8 .3-26.8 .2-19.1 .1,44.2 .6-49.3 .3,13.5 0,17.9 .2,5.1 .2-19.5 .4-17.3 0,25.7 .2,7.1 .5-19 .1-5.7-.1,32.7 .4-8.8 .7-41.1 .1,25 .2-8.3 .1,33.2 .3-27.8 .3-2.3 0,23.4 .3-22.7 .2,5.6 .5-9.5 0,23.1 .1,2.3 .4-25 .3-9.9-.4,55.7 .9-49 0,26.5 .5-28.8-.3,45.8 .5-31.5 0,12.6 .6,3.9 .2-16.2 0,10.7 .5-9.6 .2-6.1 .1,23.9 .3-20.6 .1,12.3 0,24 .4-31.8 .4-4.7 0,12.9 .6-3.8 .2-8.7 .2-3.8-.3,34.5 .5-12.6 .4-27.1 .1,27.3 .3-21.6 0,31.2 .6-34.7 .1,14.2 .4-21 .4,6.4-.3,32 .2,0 .7-43.6-.2,56.4 .9-56.4-.1,24.8-.1,16.4 .8-22.5-.1,16.4 .2-13 .2-6.4 .2,21.2 .4-17.2 .3-2.3-.2,26.5 .7-28.4-.1,14.9 .4-10.3 0,14.8 .5-9.7 .3-11.3 .6-9.3-.3,30 .5-11.9-.1,18.1 .5-22.6 0,18.1 0,7.2 .4-17.1 .3,8.4 .6-25.7-.5,41.7 .7-26.4 .1,8.9 .5-21.7 .1,14.4 .1,5.5 .1,15.8 .7-30.7 .1,2.4-.4,29.4 .6-8.3 .5-22.6 .3,.6-.4,31.5 .9-38.7-.1,16.9 .2,5.9 .7-20 .1-1.8-.2,31.8 .5-12.9 .3-9.4 .3-7-.2,21 .3,6.7 .5-19.8 .3-2.4 0,11.8 .9-24.2-.4,28.4 .7-29.6-.9,55.5 1.4-55.3-.3,33.8 0,1.6 .7-22.3 .6-17.5-.4,38.8 .3,0 .5-16.4-.5,29 .6-25.8 .5,7.2 .4-14.1 .5-5.8-.2,15.9 .3-10.2-.2,14.1 .3,1.5-.1,10.8 .9-23 0,9.7 .7-19-.3,22.4 .5-14.5-.2,18.6 .7-15.2-.3,23.6 .4-9.8 .6-13.1-.1,13.8 .6-16.3 .1,7.3 .6-15.9-.2,27.2 .8-31.1-.5,34.4 .8-26.5-.1,13.3-.2,14.6 1-34.3-.2,21.3 .4-6-.2,16.5 1.1-35.9-.6,31.3 .7-6 .7-25.1-.7,33.2 .3-7.8 .3,8.2 .9-28.4-.7,37.2 .7-14 .5-16.6 .1,9.2 .7-24.8-.7,40 .6-15.1-.1,17 .4-11.4 .2,9 1.2-32.9-.6,26.8 .3-6.4 .2,3.6-.2,19.1 1-29.6-.7,29.4 1.3-35.8-.2,15.3 .7-20.7-.3,26.7 .6-18.2-.2,17.6 .5-9.6-.1,20.3 1.1-36.2 .1,2.6-.3,18.6 .6-10.6-.7,29.6 .5-9.1 1.2-30.3 .3,3.6-.4,16.6-.1,7.3 .6-8.5 .2,1.9 .6-12.7 .2,.8-.5,25.3 .2,4 1-31.3-.3,24 .5-15.1 0,16.6 1-30.1 .3,2.8-.9,35.5 .9-28.3 0,9.6-.4,23.1 1.5-46 .1,9-.1,9.3 .8-14.5-.3,12.4 .1,10.3 .5-9.1 .7-17.5-.4,21.4 .8-21.8-.4,18.8-.1,16 .6-13.6-.1,11.2 .4-10.9-.3,21.1 1.5-39.5 0,7.8-.2,19.7 .6-13.2-.6,21.7 1.5-34.8-.7,26.9 .4-1.6-.7,23.7 1.5-31.4 1-26.2-.6,21.9-.5,19.9 1.4-31.8-.8,28.2 .2,12.4 .9-23.4-.8,25.6 1.7-43.8-.4,18.9 1.1-23.8M82.8,61l.5,15.9-.2-20.5 .6,16.9 0-10.9 .8,25.6-.1-16.5-.1-6.7 0-12.1 .7,30.4 .1-16.5 .7,24.8-.4-36.1 .7,30.2-.3-23.7 .5,19.9 .6,7.1-.1-17.7 .2,8.8-.1-17.2 .6,14.6 0-8.3 .3,3.8 .3,13.1 .1-15.5-.1-11.8 .7,9 .2,8.8 .3,4 0-8.4-.1-20.6 .6,24.2 .2,1.1-.2-36.6 .8,43.2 .1-14.7 0-4.4 .4,18.1 .6,6.3-.3-28.9 .2,.7 .5,22.1 .1-15 .2,6.1 0-12.1 .5,16.8 .2-.4 0-6.8 .2-13.8 .5,19 .2-3.5 .3,6.1 .2-6.9 .3,16.1 0-17.8 0-22.4 .4,18.1 .2,8.7 .3-17.5 .5,27.8-.2-18.3 .5,18.8 .3-5.2-.3-31.5 .8,32.7 0-10.5 .2,2.1 .3,15.5 .4-7.6 0-13.8 0-3.2 .7,33-.2-28.8 .2,6.8 .8,25.6-.3-32.8 .4,9.8 .1-17.6 .4,27.1 .2-13.2 .1-6.1 .5,21.4-.1-17 .1-20.1 .3,16.9 .3,16.6 .1-21.6 .4,23 .3-2.7-.1-15.5 .8,18.9-.1-17.9 .4,28.2-.1-39.2 .2,11.1 .4,15.1 0-33.1 .6,52.7 .2-3.2 0-42.5 .3,22.7 .2-18.1 .2,12.3 .4,31.2-.1-40.9 .4,10.1 .3,6.1-.1-26.7 .7,36.2 .1-15.4 .3,.7 .2,11.3 0-11.8 .3,16.3 .1-25.3 .5,21.3 .1-25.2 .4,28.7 0-10.8 .2-8.2 .4,18.9-.1-31.6 .4,15.9 .1-11.7 .3-1.1 .2,15.2 .1-17.9 .5,31.1 0-29.7 .4,18.9 .2-14.9 .3,31 .2-23.1 .3,6.8 .3,23.7-.2-60 .6,40.1 0-28.9 .1,2.5 .4,32.7 .3-22.1 .2,22.6 .3-24.7 .2,23.4 .2,1 .1-21.8 .3,15.2 0-14.9 .5,11.3 .1-9 .3,15 .3-12.3 .1,0 .1,12.8 .5-29.6 .2,20.7 .1-7.5 .3,18.4 .1-15.6 .4,8.8 .1,5.2 .3-18.8 .3,44.8 .1-48 .3,6.4 .1,11.9 .2-10.3 .2,17.3 .6,4.3 0-17.8 .2,1.8 .2,10.4 .3,13.7 .2-36.5 .2,18.4 .3-24 .1,23.9 .2-17.8 .3,23.2 .3-35.6 .3,4.9 .2,33.7 .1-6.8 .1-22.6 .6,23.1 0-33.8 .3,46.3 .2-34.6 .2,16.2 .2,10.3 .4,4.9 .1-9.7 .3-5.2 .2-24.8 .3,18.7 .1,18.8 .3-25.5 .1,24 .2-29.8 .1,29.7 .5-2.1 .1-26.4 .2,13.8 .3,18.3 .4-28.3 .1,26.3 .2-17.6 .3,12.3 .3-7.5 .1,28.7 .1-30 .2-12.7 .3,19.2 .1-9.7 .4,41 .2-45.6 .2,1 .1,19.3 .3,13.7 .3-24.3 .5-15.5 0,36.5 .4-5.6 .1-8.3 .2,8.2 .3-28.5 .3-7.6 .1,22.2 .4-20.6 .1,22.5 0,20.4 .5-28.3 .2-4.8 0,23.1 .4-12.8 .3-14.6 .1,3.4 .2,30.1 .4,.5 .2-35.5 .2-4.8 0,16.5 .5-5.9 .1,27.8 .1-6.7 .4-21.2 .3,25.4 .3-36.2 .2-7.2 0,31.9 .4,13.4 .2-20.6 .1,2.6 .3,19 .1-7.3 .5-22.5 0,23 .2-8.4 .4-9.1-.1,30.3 .7-19.4 .2-9.8 .1,16.7 .3-19.4 .1,6.3 .3,9.5 .1,14.8 .5-30.7 0,20.5 .3-19.4 .5,2.3 0,8 .1,8.5 .3-27.8 .3,34.2 .3-29.3 0,15.7 .3-23.1 .4,8 0,17.6 .5-13.6-.1,24.9 .5-21.2-.2,30 .5-26.4 .2,13.2 .2,8.4 .5-27.2 .1,9.1 .3-13.5 .2,2.9 .1,18.5 0,19.8 .8-49.2-.3,42.5 .4-30 .2,18.5 .5-18.7 0,7.9 .4-12.1 .1,15.2 .2-14.7 .1,45.1 .6-39.1 .5-11.9-.3,33.5 .4-23.4 .1,22.2 .2-13 .7-22.7-.1,27.1 .4-27.8 0,24.6 .4-8.1 0,13.8 .5-26.4 .2,22.9 .3-13.5 .1,9.8 .1,8 .2-7 .2,6.6 .3-6.8 .1,7.7 .6-18.8 .1,14.9 .5-23.5-.2,30.9 .3-9.6 .1,17.4 .3-3.3 .6-30.8 .1,5.7-.1,21.8 .1,9.1 .5-17.1 .4,2.9 .5-24.5-.1,18.2 .4-19.2 .1,16.6 0,18.8 .7-35.8-.3,34.2 .1,4 .6-29.1 .4-1.9 0,16.5 .2,.5 .3-12.6 .3,20.3 .6-31.2 .2,1.4-.3,25.6 .7-18.9-.2,17.2 0,12.3 .6-19.2-.2,22.6 1.1-41.2-.3,23.3 .6-26.8 .2,20-.3,25.9 .7-31.7-.4,40.2 .9-37.4 0,5.1 .7-10-.2,17.9 .4-12.5 0,10.5 .3,3 .7-32.2 .1,8.1-.6,40.8 .9-33.2-.2,21.2 .2,3.3 .7-15 .4-15.6-.3,30.8 1-32.2-.5,33.9 .9-27.6-.5,30.9 .3-2.9 .7-30.7 0,13 .1,5.7 .3,9.7 .3-12.3 .5-9.4-.6,32.5 1.1-36.1-.4,29.8 .3-6.2 .6-22.6 .2,13.4-.1,16.3 .3-10.4 .7-22.5 .3,1.1-.3,28 1-30.1-.4,22.7 .3-1.6 .5-16.3 0,9.8-.2,13.7-.3,28.3 1.2-48.4 .5,7-.3,17 .5-15.6-.1,17.7 .3-2.2 .9-28.5 0,5 0,15.9 .3-10-.3,31.2 .5-17.9 .9-22.7-.6,28.4 .8-21.4 .2,4.8 0,10.5 .9-25.1-.6,27.7 .8-21.4-.3,21.5 .7-20.1-.4,20.1 .5-3.6 .8-18.1 .1,.7-.6,26.7 1.1-27-.4,20.1 .3,3.5 .8-26.8 .1,9.9-.2,11 .8-6.1 .3-9.9-.2,18.8 .6-18.6 0,8 .7-16.8-.7,34.5 .7-20.9 .3,8.6 .7-21.7-.3,18 .7-12.8 0,6.1-.5,30.6 .3-7.4 1.4-36.1-.7,33.9 1.5-45.9-1,40.9 .5-12.9 .7-3.9-.4,17.2 .3-1 .5-13.5 .2,4.4-.1,10.8 .8-22.1-.8,32.8 1.4-31.8-.6,26.3 .6-6 .5-14.4 .2-1.9-.6,30.1 .9-17.4-.5,21.8 1.5-42.6-1.3,47.7 .9-20.8 .9-17-.1,7.2-.2,14.3 1-27.1-.6,26.1 .1,8.7 1.8-46.7-.1,5.6-.6,30.5 0,4.1 .9-23.9 0,10.8 .6-12.3 .9-12.6-1.3,46.1 .4-10 1.2-26.5M79.2,87.7l-.6-40.3 0-8.1 1,35.8 .2-6.7 .6,18.4-.1-16.5 .7,24.7-.4-27.5 .5,12.5 .5,18.4-.8-43.5 .4,2.3 .7,16 0-10.2 .5,15.5 .1-12.9 .2,5.6-.1-13.3 .6,15.2 .4,11.3-.1-16.7 0-8.4 .6,20.5-.2-20.7 .6,20.6 .4,9.3-.2-16.3 .2-17.8 .8,34.3-.4-40.8 .6,30.7 .3,6-.4-33.8 .4,2.9 1,44.8-.5-34.7 .6,26.1 .1-18.1 .3,11.7 .2,.8-.2-29.1 .9,37.1-.4-34.1 .3,4.1 .3,12.8 .7,15.3-.3-30.3 .8,38.7-.4-29.9 .4,1.3 .4,15 0-12.4 0-20.4 .6,31.2 0-14.6 .5,20-.2-25.7 .3,5.3 .4,15.3 .3,1.3 0-26.3 .6,35.3-.3-36.9 .7,26.4 0-11.1 .3-3.3 .4,19 .4,3.1-.1-14-.2-30.3 .6,29.1-.1-16.1 .5,24.7 .1-17.2 .6,23.1 .1-7.2 0-14.6 .6,26.1-.2-29.3 .6,28.9-.1-30.5 .2,4.8 .4,21.5 .6,9.9 0-13.1 .3,19.9-.1-20.7 .3,.4-.1-22.6 .4,3.1 .5,16.7 .2,6.1 .1-12.4 .4,1.4-.1-21.8 .2,8.9 .8,44.1-.4-48 .7,34.9-.4-48.1 .4,32 .5-10.2 .3,19 .1-24.3 .4,26.7-.1-36.4 .5,30.2-.2-28.7 .6,29.7 .1-15.9 .4,20.8 .1-4.3-.2-25.5 .5,13.6 .4,8.1 0-18.7 .6,29.8 .1-7.9 .1-19.5 .3,24.3 .1-25.5 .3,9.6 .4,16.5 .2,11.4 0-31 .4,22.1 .2-11 0-29.4 .4,34.3 .4,1.3 .1-7.4 .2-6.5 .3,14.2 .3,3.2-.1-38.2 .4,33.1 0-24.3 .5,37.2-.2-37.1 .4,1.7 .3,22.9 .2-14.2 .2,18.3 .3-4 .3-10.1 0-12.6 .5,35.8 .1-21.8 .1-10.9 .7,28.3-.1-31.1 .3,9.1 .2,10.1 .5,10.9-.1-26.2 .2-12.1 .3,24.5 .1-3.3 .5,14.8 .3-9.1 .1,10.2 .1-.2 .1-21.7 .4-2.5 .3,16 .3,16.4 .1-26.4 .2,17.7 .1-28.8 .2,6 .3,26.7 .5-6.1 0-32.5 .4,15 .1,5.8 .4,20.7 0-35.7 .4,36.1 0-9.6 .2-32.2 .1,18.9 .5-2.3 .2,14.9 .4-.2 .1-22.5 .1,5.9 .3,27.7 .1-29 .3,24.5 .2-26.3 .2,33.8 .3-22.5 0-19.2 .4,23.9 .2-30.8 .4,31.6 .2-29.6 .2,12.6 .3,27.3 .1-29.6 .2,24.2 .5,8.7 .1-31.2 .2,2.6 .1,15.2 .3-5.8 .1-11.5 .4,27.2 .3-6.4 .2,6.9 .1-33.1 .2,42 .4-25.4 .1-9.5 .1,23.5 .5-26.8 .1,12.2 .4,16.8 .1-16.8 .2,4.5 .1,3.6 .3,7.5 .3-24.8 .2-2.8 .2,31.4 .3-7.8 .3-18.1 .1-1.5 .3,31 .4-34.7 .1,30.5 .4-24.5 0,38.7 .3-52 .2,38.7 .3-24.6 .2,12.3 .1,6.5 .1-18.5 .6-6.8 .1,22.2 .1-10.5 .1,12 .3,.5 .5-28.7 .1,23.3 .2-18.6 .3-3.8-.1,34.8 .5-27.3 0,18.5 .3,15.9 .4-21.3 .1,25.4 .4-22.6 .3,14.8 .2-20.5 .2-6.6 .1,16.1 .2,4.2 .4-15.1 .1,15.7 .1-9.1 .7-35.6-.1,34 .2-.9 .2-11.6 .6-14.4-.1,46.6 .3-22.4 0,28.1 .7-26-.1,21.6 .4-28.9 .2,12.6 .2,1.6 .3-18.2 .3-9.7 .1,29.4 .2,5.3 .2-17.7 .5-10.9-.1,17.6 .4-10.8 .1,16.5 .6-15.5-.1,17 .4-21.5 0,19.3 .2,1.8 .5-26.7-.1,30.7 .6-23.4 .2,13.6 0,16.6 .4-30.3-.2,35.6 .5-15.2 .5-17.8 .1,3.7-.2,29.6 .7-16.4 .3-11.7-.1,14.7 .4-28.8 .4,20.4 .4-22.9-.3,34.3 .3-17 .3,13.8 .3-18.3 .4,1.6-.1,28.7 .3-13.7 .6-35 .4,4.6-.1,22.8 .2-6.1 .1,18.8 .1-2.4 .4-25.1 .2,16.2 .1,6.6 .6-16.6-.2,28.7 .6-33.9-.2,27.2 .7-23.9 0,15 .4-6.8 .4-16.7-.2,33.1 .4-10.3 .4-5.4 .3-15.5 .2,2.7-.2,25.5 .7-15.6 0,14.2 .5-26.4-.3,37 .7-25.1-.1,23.1 .4-12.9 .4-16 .2,2.3 .1,17.2 .3-17.4-.1,25.8 .8-21.7-.2,20.4 .4-.6 .4-21.3-.1,22.9 .6-23.5-.2,17.6 .5-19.4 .5-10.7-.4,49.5 .6-33.8 0,26.5 .9-40.6-.7,54.4 .7-39.5-.4,40.4 1.2-49.8-.3,25.6 .5-4.8 .4-14.6-.2,25.5 .6-28 0,15.9 .3-15.8 .3,3.9 .1,19.7 .5-19.3 .1,10.8 .3-11.8-.2,25.1 .8-24-.2,18.8 .4-4.9 .5-15.6 .4-10.2-.2,17.6 .9-25.8-.3,30.1 .4-15.8-.3,20.7 .5-10-.2,20 .8-13.5 .4-14.3 0,14.3 .5-13.9 .3-2.5-.2,15.9 .7-24.4-.3,23.4 .1,15.3 .6-22.8-.2,26.6 .8-32.8 0,13.2 .2-4.1-.1,33.3 .9-37 .5-9.6-.5,33.7-.3,16.6 1.2-49.1 .2,10.1-.3,20.6 1.1-37.7-.3,24.6 .4-1.8-.1,12.8 .1,3.9 .9-37 .5,3.7-.4,25.4 .6-17-.3,23.4 .5-13.2-.1,14.7 .4-11.9 .4-13.1 .7-11.1-.5,37.1 .6-24-.4,27.7 1.2-39.2-.2,19.2-.2,19.2 .3-8.5 .5-4.9 .6-15.6 .7-19.3-.8,36.4 .9-10-.3,14.5 .8-23.7-.7,39.5 .6-13.8 .5-13.6 .6-10.8-.2,17-.3,23.8 .7-18.7 .3-10-.1,19.2 1-24.7-.6,29.2 .8-29.7-.3,17.9 1.1-23.4-.4,24.6 .3-2.1 .5-16.1 .2,13 .5-17.7-.7,33.1 .9-26.2 .5-4.4-.6,31.9 .3-6.3 1.2-30 .1-.7-.3,25.1 .8-15.9-.5,21.2 .9-20.2-.7,29.7 .3-3.7 .9-21.5 .1-.6 .7-20.8-.4,28.7 .5-14.4 .9-8.3-.7,26.4-.3,15.3 1.1-33.5 1.1-22.2-1,45.5 .8-19.4-.3,12.7 .6-10.3-.2,8.3 .4,8.4 .8-23.6-.1,13.4-.4,17.7 .4-6.3 1-31-.7,36.7 .8-17.6 .7-14.8-.5,17.6M75.4,89.8l-.3-20.1 .1-4.2 .6,17.5-.2-20.9 .9,36.1 .1-6.9-.2-22.4 0-11.8 .8,29.2 .1-.8 .4,15.7 .3-11.1-.6-35.5 .7,23.8-.1-10.9 .9,28.1-.2-18.9 .1-10.7 .6,22.3-.3-21.4 .8,22.2-.2-12.1 .6,18.9-.2-28 .6,20.3 .6,15.9-.6-41.2 0-2.4 .5,13.5 .8,22.3-.4-31.9 .1,.1 .7,17.4 .6,16.8-.3-22.6 .2,6.7-.2-23.9 1.1,35.5-.4-28 .5,13.8-.1-18.2 .7,27-.5-34.2 .3,7 .6,24 .5,.1-.3-24.6 .3,13.5 .6,26 .2-8.7 .1-13.7 .6,20.8-.3-30 .5,24.7-.3-21.7 .4,3.5 .6,14.7-.2-26.4 .5,22.8 .5,15.9-.4-42.4 .4,10.6 .6,31.1-.2-28.6 .8,36.1-.4-44.4 .8,33.3-.3-28.5 .4,19.1 .2-17.4 .4,16.4-.6-40.1 1,40.6 0-8.9 .6,17.7-.2-20.1 .7,32.2-.1-35.6 .4,20.6-.1-20.3 .4,12.3-.1-16.6 .6,18.7 .1-4.4 .2,9.8 .3-7.7 .1-13.6 .2-3.4 .2,10.8 .3-6.9 .5,22.1 .2,2.3-.5-38.1 .5-10.3 .7,45 .1-11.8 .4,13.6 0-6.2 .1-16.9 .4,22.2-.2-29.5 1,49.1-.4-41.9 .4,16-.1-20.9 .6,26.1 0-15.1 .2-8.5 .6,28.8-.1-25.9 .3,18.7 .4-16.4 .2,12.8-.2-28.9 .5,31.4-.1-34.8 .8,39-.2-24.7 .5,22.3 .2-17-.1-17.3 .6,25.5 .1-14 .2,1.9 .2,9.4 .7,17-.3-33.9 .3,13 .2,11.5 .5,14.1 .1-21.1 .1-10.4 .3,14.1 .6,14.3-.2-26.6 .4,17.7 .1-8.8 .3,10.5 0-21.7 .5,29.6-.1-36.1 .3,7 .2,16.1 .5,14.9-.1-41.3 .4,17.6 .2,10.1 .2-28.8 .4,27.3 .5,15.9-.1-25.3 .3,28.2-.1-36.5 .5,28.8 .2-25.5 .2,21 .2-7.6 .3,6.4 .2,12.2 .2-16.5 0-28.6 .4,5 .4,27.2-.1-32.1 .4,38.2 .1-28.3 .3,23.2 .4,7 0-16.2 .4,12.4 .1-20.5 .4,5.5 .2,10.8 .4,9.7 .1-17.2 .2-9.5 .2,30.8 .2-23.2 .1,15.2 .4-23.3 .2,28.2 .2-10.8 .2,5.9 .6,10.4-.1-34.7 .2-1.6 .5,41.4 0-18.7 .2-10.3 .5,20.8 0-37.7 .2,33 .2-24.6 .3-6.2 .2,21.7 .4-11.2 .1,10.7 .1-.2 .1-13.1 .4,24.2 .2-26.9 .5,20.6 .1-11.7 .1-11.1 .4,19.5 0-16.9 .4,25.6 .1-19.4 .3,18.2 .2-5.6 .1,11.6 .4-32.1 .2,20.7 .3,1 .2-15.3 .4,16 .1-23 .2,15.3 .2,12.9 .3-7 .1-10.4 .4,31.8 .1-36.9 .2-5.4 .2,25.4 .5,1.9 .1-17.5 .3-13 .2,26.7 .3,15.1 .1-45.2 .1,7.7 .3,35.2 .2-23.6 .3,15.1 .3,2.5 .2-16.8 .1,12.9 .4-8.8 .1-10.2 .3,26.6 .3-25.3 .1,19 .2,1.2 .1-25.9 .5,2.8 .1,6.9 .2,3.3 .4,8.2 .1,1 .1-10.8 .4-2.6 .1,22.2 .4,6.1 .1-22.4 .2,15.6 .3-24.2 .3-1.3 .1,16.2 .3-11.5 .2,18.4 .2,1.7 .5-30 .1,.8 .3,13.6 .2-29.1 .2,27.5 .3-7.5 .1,9.8 .2,13.3 .2-21.7 .3,30.6 .4-33 0,27.6 .4-11.4 0,16.2 .3-38.9 .2,40.3 .4-42.8 .2,9.6 .2,30 .3-39.3 0,46.1 .6-19.9 .1-10.4 .2-15.9 0,43.2 .3-5.5 .3-18.3 .2,15.7 .4-17.8 .3,9.1 .2-11.4 .3,14.9 .1-7.9 0,21.5 .5-50.4 .4,26.2 0,10.4 .1-.9 .1,10.7 .6-36-.2,35.6 .6-31.1-.1,35.3 .5-22.7 0,24 .5-28.5 .3,9.8 .3-8.1 0,8.3 .2,9 .3-15.5 .2,13.8 .2-15.9 .8-20.9-.2,37.9 0,8.1 .2-8.5 .3,4.6 .6-30.1 .3,4.7 0,19.3 .1,6.3 .4-27.1 .1,19.3 .4-7.4 .2-7.3 .1,26.5 .2,3.4 .5-40.5 .1,12.3 .4-14.7 .1,25.4-.2,24 .4-12.2 .5-18.4 .1,7.7 .2-6.3 0,30.2 .6-35.9 0,25.8 .4-19.6 .3-4.6 0,16.7 .7-34.4-.1,32 .2,19 .5-28.6 0,17.9 .5-29.9 0,17.7 0,16.2 .3-1.1 .6-27-.2,28.1 .6-19.9 .2,6.8 .4-16.6 .3-7.6-.3,25.4 .3,6.1 .5-26.5 .2,26.7 .6-32.2 0,17.4 .4-11.6 .1,18.5 .2-11 .6-20.6-.4,32.1 .4-.2 .3-14.4 .2,19.3 .5-22.1 .2,2.5-.3,26.5 .3-6.5 .6-23.2 0,16.6 .7-23-.5,42.1 .5-24.6 .3,2.5-.2,26.5 1.1-46.4-.3,34.7-.1,9 .8-23.8-.1,27.3 .6-27.4-.4,32.8 .9-44 .1,25.1 .5-24 .4-9.6-.5,42.8 1-43.4-.3,25.6 0,26.2 .9-43 0,9.8-.2,17.2 .7-25.5-.1,27.1 .7-23.1-.2,14.2 .1,8.6 .7-29.8 .4-3.2-.5,36.9 .5-13.4 .6-24.5 0,29.3 .6-25.1 0,6.7-.4,36.6 .8-23.5 .7-29.8-.5,38.3 .7-21 .4-5.4-.3,21.4 .1,7.9 .5-16.5 .1,7.5 .7-13.8 .3-3-.2,18.2 .3-2.2-.1,16.7 1-39.7-.8,40.1 1.6-51-.6,39 .8-29.2-.6,36.9 .9-20.2-.3,21.4 1.2-43.4-.7,34.3 .9-22.1-.4,25.1 .8-23.7-.6,37.5 .1-.2 1.1-29.1 .6-18.1-.2,21.5 .4-12.2-.5,29.8 .9-26.9-.6,29.5 .7-12.7 .3-7.7 .2,11.4 .6-21.3 .2,1.6-.7,33.2 .8-15.8 .1,8.8 .4-7 .6-13.8-.4,31.1 1.5-54.9-1,45.2 .9-26.3 .2,2.1-.5,29 1.1-33.6-.6,33 .9-23 .4-9.3-.6,36 1.4-49.2-.2,16.2-.2,14.1 .9-11 .5-16.1-.4,28.7 .7-20.5 .5-5-1.1,44.2 1.5-49.4-.9,47.8 .1,4.4 .9-27.5 .8-20.4-.6,25.4 1.1-28.1-.8,42 .9-17.2-.3,13.9 .9-22.3-.3,13.6 .1,5.1 1.1-31.4 .4,1.5-.6,27.5M71,86.9l-.5-33.2 .5,14.7 .7,21.4-.2-18.5 .9,24.4-.3-16 0-12.5 .7,18.6-.2-20.8 .7,23.4-.2-18.9 .2,1.5 .5,14.3-.4-25.8 .9,27.7 .4,6.6-.3-25.4 0-15.7 .8,29.6 .3,7.2-.3-15 .4-1 1,31.4-.6-38.5 .6,20.5 .2,2.6-.4-22.7 .5,5 .7,21.5 .2-6.7-.5-29.5 .4,13.3 .6,22.5 .6,9.9-.5-31.3 .6,14.1 0-12 .5,19.4-.1-20 .7,23.1-.5-35.5 .8,31.9-.2-25.7 .4,15.4 .5,12.8 .5,1.8-.6-33.3 .8,30.4-.1-13.6 .5,8.9 0-6.2 .6,18.6-.4-33.4 .6,11.9-.1-13 .5,11.2 .8,35.1-.2-26.1-.2-19.4 .7,19.3-.2-17.3 .4,20.6 0-16.4-.1-15.1 1.1,45.4-.1-19.5-.1-22.6 .9,35.2-.2-20.6 0-2 .7,22.5 .4,4.5 0-3 0-13.3 .1-9.3 .5,15.1-.1-14.3 .4,6.1 .3,6.7 0-18.1 .7,30.1 .1-2.2-.4-33.2 1,30.7-.1-17.7-.3-25 .9,45.5 0-18.7 0-7 .5,12.6 .1-16.1 .6,30.7-.1-11.1 .4,3.6-.3-34.1 .8,38.6 .1-18.6 0-9.5 .5,16.5 .6,21-.2-29.2 0-8.1 .4,18.8 .6,8.7-.2-25 .2,7.8 .5,19.3 .5,8.5-.2-20.2 .4-2.2-.2-21.1 .4,12 .5,23.4 .1-21.2 .5,28.3 .1-12.1 0-13.8 .6,17.9-.1-19.5 .6,22.7-.3-32.1 .4,27.6-.2-25.1 .6,15.1 .1-16.2 .3-4.6 .4,27.4-.1-23 .6,32-.1-36.4 .4,25.3 .5,16.2-.2-27.6 .2-13.4 .7,37.5 0-26.3 .2,11.8 .3,10.2-.1-34.1 .6,21.2 .3,13.7 .1-12.5 .1,4 0-19.9 .6,29.8 0-23.9 .2,16.1 .2-13.4 .5,16 .3,.9-.2-30.8 .4,22.8 0-11.7 .5,9.9 .3,10 0-23.6 .3,20.3 .2-30.1 .4,33.7 .3-16.3 .3,20.4 .3-3-.1-29.9 .2,5.1 .4,30.1 .2-32.2 .4,37.5 .1-20.3 0-12.9 .4,26.1 0-12.2 .6-5.3 .2,20.6-.2-44.4 .7,41.9 .1,9.9 0-50.5 .2,10.9 .3,21.2 .3-20 .4,21.7 .2-19 .3,27.1 .4,15.4-.2-52 .4-.3 .3,38.2 .1-4.5-.1-38.1 .6,10.9 .2,14.1 .2,5.2 .2-18.9 .2-6 .3,31.1 0-30.2 .5,30.6 .1-1.9 .2-11.7 .3,20.3 .3-26.2 .3,13.9 .1,15 0-60.7 .6,48.5 .2,14.5 .1-20.7 .1-17.6 .3,35.9 .3,3.8 0-29.9 .4-9.5 .4,25.2 .1-21 .2,15.3 .3-11.6 .2,28.3 .2-10.8 .2-19.8 .2-2.9 .2,26.4 .4-12.4 .3,15.1 .2-8.8 .1-12 .2-6.4 .3,34.8 .2-4.8 .2-33 .3,11.6 .2,30.9 .4-8.2 .2-20.9 .2-14.4 .2,22.3 .4,7.9 .1-27.4 .3,22.9 .1-52.2 .2,35.1 .2-11.1 .5,31.6 .1-18.8 .3,1.9 .1,24.4 .2-40.3 .1,35.7 .4-5.5 .2-36.8 .2,8.1 .3,19.5 .1,4.5 .2-9.8 .3,23 .2-22.8 .3,3 .2,16 .2-3.3 .4-21.5 .2,36.6 .1-31.4 .3,9.4 .1-31.3 .6,18.9 .1,18.3 .1,1.2 .3-26.7 .1,25.6 .2-20.6 .3,17.4 .2-14.9 .4,9.5 .2,17.7 .2-35.7 .2,46.1 .1,6 .4-47.9 .2,37.1 .3-34 .2,9.2 .2-15.5 .2,26.1 .3,13.6 .3-41.4 0,23.5 .4-25.9 0,30.3 .4,15.7 .3-32.8 .1,16.1 .5-18.4 0,21 .3-11 .5-10.8 0,22.5 .1,8.4 .4-30.4 .1,21.2 .3-9.2 .2,22 .3-37.5 .1,27.7 .5-27.2 .3-2.2-.1,43.4 .4-32.6 .1,20.7 .1,10.7 .3-29.2 .5-9.7 .1,27.8 .4-23.5 .1,24.6 .4-11.7 .3-24.9 .1,22.4-.1,22.9 .6-33.7-.1,28.1 .5-13.2 .3-30.6 .1,50.9 .5-40 0,6.8 0,16.4 .6-27.5-.1,46.5 .3-5.2 .5-23 0,15.9 .4-25 .3,2.9-.1,26.4 .6-44.7-.1,41.8 .3,2.3 .4-14 .3-6.5-.2,26.5 .5-14.8 .4-19.5-.1,30.8 .3-22.7 .7-18.6-.2,25.9 .5-10-.3,38.8 .7-20.6 .3-18.4 .2-3.3 .1,17.3 .6-21.8-.1,23.2 .1,5.4 .4-22.3 .3,6 .2,7.2 0,10.7 .5-16.6 .5-11.4-.1,21.5 .2-8 .1,20.3 .7-27.4-.2,23.3 .2-8.5 .3-12.4 .4-2-.2,29 .7-17.7 .5-21.3-.2,24.2 .3-8.9 .4-9.9 .2,14.3 0,4.6 .2,15 .6-28.3 0,15.3 .2-6.2 .7-20.5-.3,31 .4-17.9 .1,20 .5-20 .3-8.7-.2,24.6 .6-19.2 0,8.9 .4,2.5-.1,23.1 .3-4.8 .7-29.1-.1,15.1 .1-1.9 .6-5.5 0,13.1 .2-3 .7-22.7 .2,1-.3,29.6 .7-11.7 .5-25.5-.2,30.4 .6-25.7 0,9.3-.3,28.6 1-29-.2,19.1 .5-18.6 0,14 .2,10.8 .6-25.9-.1,10.3 .1,16-.3,22.4 1-51 .3,11.7 0,12.2 .5-3.3 .2-8.7 .4,2.2-.3,19.2 .8-35.5-.6,36.5 1.3-34.2-.4,27.5 .5-14.5 .1,8.6 .5-21.6-.3,23 .5-5.6 .4-6.6 .6-11.4-.4,25.4 .7-28.6-.3,24.2 .1,17.2 1-40.7-.4,27.6 1-30.8 .1,2.6-.1,16.6-.1,17.9 .4-16.9 .1,18.7 .9-31.3-.5,29.5 1-32.4-.4,29.6 1-32.7-.6,33.4 .4-12.7 .4,8.4 .9-31.9-.4,26.3 .5-14.7 .3,1.9-.4,22.6 .8-23.4-.1,13.9-.2,17.4 1.1-29.2-.1,8.4 0,11.1 .9-23.2-.2,19.6 .2-4.4-.2,23.6 .3-6.8 .8-23.1 .5-7.9-.4,25.1 1.1-28.7-.7,33.1 .3-3.3 .6-17.2-.4,28.6 1.6-53-.2,13.5-.4,28.1 .2,.9 .7-17.2 .2,10.7 .7-23.9-.2,10.9-.1,15.4 1.1-25.4-.1,11.6-.4,17.9 1.1-35.8 .1,8.1-.7,32 .6-3.3 1-30.5 .5-4.1-.8,36.5 .9-20.6-.1,8.9M66.5,74.9l.6,10.4 .1-7.7 .8,23.1 .5,10.9-.9-41.4 .1-2.1 .7,15.1 .1,1 .5,15.8-.4-35.7 .7,24 0-8.3 .8,22.2 .1-3-.1-14.3 .6,8.9-.3-20.3 .8,28.5-.4-22.8 .8,22.1-.3-26.3 .4,8.9 0-11.1 .7,21.5-.2-16.5 .2,4 .4,4 .6,14.2-.5-28.4 .4,10.2 .6,19.1-.9-50 1.2,44.9-.2-24 .9,36 .1-9.6-.3-21.1 1,23.2-.8-40.6 1,33.6-.3-17.8 .1-5.3 .5,17.9 .5-.5-.3-21.1 .7,26.4 .1-13.8 .1-4 .7,25.2 0-16.4 .7,23.5-.5-24.7 .7,18.9-.5-33.1 .6,21.7 .5,6-.3-24.6 .7,22.4-.3-18.9 .5,6.4 .7,22.2-.5-31.8 .8,34.6-.1-19.7 .8,23.8-.2-23.5 .3,9.5-.2-20.9 .8,23.8-.2-16.9-.3-23.5 .6,12.2 .6,26.7 .3-4-.3-19 .2-2.5 .7,30.7 .5,5.1-.4-31.3 .8,25.3-.4-30.3 .6,19.3 0-9.1 .2,2.9 .3-7.1 .5,22.9 .1-14.2 .3,8.2-.1-17.4 .7,24.2-.2-24.4 .4,9.4 .3,10.7-.2-21.4 .6,15.3 .4,14.8-.2-29.3 0-10.8 .9,34.8-.1-27.3 .2,7.7 .1-8.9 .5,23.7-.1-19.2 .6,24.6 .2-19.6 .3,15.6-.1-20.8 .4,16.3 0-25.4 .7,36.6-.1-24.8 .3,16.1 .3,5.3 .1-18.5 .2-2.2 .5,22.3 .3-4.9-.3-27.4 .3-1.5 .9,48.3-.1-9.6-.2-25.2 .2-8.8 .7,30.6-.2-33.6 .7,41.6 .3-2.7-.1-17.1 .3,4.1-.2-23.8 .6,7.3 .5,23.5-.1-22.1 .3,17.5 0-24.9 .6,25.9 .3-1.4 0-14 .3,5.8-.3-31.9 .5,23.9-.1-24 .8,41-.1-11.4 .4,.7 .4,8.3 0-14.4 .4,26.6 .6,8.6-.4-44.5 .5,28.2-.1-16.6 .7,31.6 0-31.8 .4,2.8 .2,12.2-.1-29.2 .5,31.3 .1-25.7 .3,23.5 .1-10.6 .5,12.2 .2-4 0-12.8 .4,23.8 .1-14.2 .1-15.8 .6,23.3 0-19.5 .4,26.9 .3-16.6 .2,12.9 .4,2.3-.2-29.6 .6,38.9-.2-34.1 .7,49.3-.2-48.6 .1-8.8 .6,30.4 0-28.2 .4,15.4 .3,23.6 .1-30.3 .5,19.8-.1-32.2 .3,34.2-.1-42.5 .6,39.3 0-20.7 .8,34.7-.3-44.8 .5,26.6 0-12.7 .3-10.6 .4,37.8 0-36.6 .3,11.1 .3,16.1 0-30.8 .2,3 .3,26.7 .5,9.5 .1-18.9 .1-4.1 .2,7.6 .4-8.9 .3,7.2 .3-9.5 .2,14.7 0-24.2 .4,27.1 .2-10.2 .3,8.8 .1,6.1 .3-19.1 .1-7.9 .4,36.4 .2-1.6 .1-32.1 .5,12.8 .2,18.6 .2-40.4 .2,32.8 .3-23.3 .2,22.5 0-19.2 .3,17.6 .3-13.7 .1-13.4 .4,47.4 .2-24.9 .1-11.4 .2,22.1 .3-11.6 .1-21.3 .3-1.8 .4,31.2 .3-26.6 .2,16 .4,15.3 0-17 .3,27.9 .2-42.4 .1,34.1 .3-26.9 .4-.4 .1,8.9 .2-20.2 .3,28.3 .1,1.7 .4-9.8 .1,7.6 .1-14.2 .6,21.1 .1-31.5 .1,14.1 .3-8.3 .2,4 .3,26.9 .4-14.8 .1-31.2 .1,48.6 .2-34.7 .3-.3 .1,28.5 .3-10.8 .2-23 .3,14.7 .3,12.8 .4-10.5 .1,18.9 .1,.9 .2-22 .6-18.1 0,41.1 .2-37.2 .1,28.9 .3-4.9 .2-14.9 .3,21 .2-34 .3,27.2 .3-16.9 .1,24.6 .4-25.8 .2-5.7 0,21.8 .5,9.7 .1-22.5 .4-4.7 .1,36.9 .3-19.4 .2-22.2 .3,16.7 .2,21 .2-12.2 .4-31.3 0,40.4 .3-5.1 .5-19.9 0,27.3 .2,6.1 .4-35.9 0,33.7 .4-30.9 .1,.9 .1,9.5 .6-19.7 0,34.7 .2,4.9 .4-30 0,27 .5-38.4 .3,28 0,10.8 .1-.3 .5-21 0,20.5 .3-35.1 .2,29.1 .6-28.2 0,31.1 .4-31.6 .1,10 0,13.3 .3,7.2 .2-6.5 .4,8.7 .3-19.2 .5-5.8 0,7.1 .2-.8 .2,18.4 .1-7.4 .3-11.3 .1,20.7 .4-27.8 .4,5.2 .1,22.2 0,10.1 .6-27.5 .2-10.5-.2,41.9 .7-39.3 0,10.7 .6-15.3-.1,33.2 .4-16.5 0,11.7 .4-1.2 .3-15.9 0,20.5 .7-36.8 .2,7.4-.2,41.6 .4-28.7 0,19.8 .7-36.1-.3,38.8 .6-25.6-.2,27.2 .8-28 0,15.3 .4-23.4-.2,37.9 .6-5.8 .3-16.8 0,9 .5-18.9 .2,8.9 .1,17.1 .4-26.4 0,28.1 .8-40-.3,41.2 .6-19 0,5.2 .3-8.3 .1,13.7 .5-19.4-.1,17.2 .2,4.7 .7-24.6 .2,.4-.3,31 .6-27.3 .1,24.7 .4-24.2-.2,24.7 .5-14.2 .5-27.2-.2,43 .4-19.5 .5-11.7-.4,35.3 1.1-39.7-.4,34.7 .5-15.4-.3,26.1 1-36 .1,8.3-.3,28 1-38.7 .4-12.5-.2,18 .2,22.6 .5-24.6-.3,24.2 .3-11.2 .5-7.7 .1,17 .3-4 .8-32.5-.8,53.1 1.1-41.6 0,22.3 .3-15 .3-3.1-.6,44.1 .9-23.8 .7-36.3 0,12.8-.2,18.2 .2,14.4 .5-26.1 .5-8.3-.2,22.9 .6-15.1-.1,12.5 .8-18.3-.1,10.9-.2,23.3 .7-29.9 .1,13-.1,14.9 0,11.9 1.3-51.7-.2,24.3 .5-11-.3,17.5 1.1-38.4-.7,52.6 1.3-53.7-.7,42.1 1.1-52.9-.4,45.1-.1,11.3 0,10.6 .9-38.5 .2,9.8-.1,11.5 .7-8-.1,12.6 .1,3.3 1-31.6 .1-1 .1,16.2 .3-11.7 0,16.6 .8-26-.6,36.9 .4-7.1 .8-28.6-.9,54.2 1.1-39.7-.3,34.7 .9-35.2 .1,2.9-.2,17.8 .5-.7 .8-29.2-.7,43.3 1.1-45.9-.4,42 .6-23.8-.6,31.3 1.3-45.2-.3,27.9 .7-22.6-.1,24.1 .6-22.3-.7,34.6 1.2-42.6-.3,25.7 .7-16.8 .2,2.5-.4,29.3 0,4.6 .9-26.6 .5-3.1-.2,14.7 0,10.7 1.1-37.2-.6,30.9 1.3-35.4 .2,5.5-.7,34.7M62.2,70.4l.9,27.4-.4-31.1 1.3,41.4 0-7.4-.9-40.6 1.4,48.4-.8-37.6 1.2,25.2-.3-11.9-.3-15.2 .7,20.8-.4-26.1 .9,28.5 .4-1.9 .6,14.5 .2,2.9-.6-35.1 .6,19.3 0-13.9 0-12.5 .7,24.5 .6,14.1-.4-22.4-.2-16.4 .7,24.9-.2-21.8 .9,32.6 0-13.1 .3,3.3 .8,21-.7-30.9 0-19.8 .9,29.9-.4-23.2 .8,27.7 0-16.6 .6,16.1 0-8.9 .3,5.5 .3-4.9 .4,11.8-.3-15.8 .6,14.7 .1-4.7 .1-6.4 .5,10.7-.5-25.2 .4,5.5 .6,13.3-.6-32.3 1.2,34-.5-29.2 .6,20.3 .2-12.5 .4,14.8 .5,9.4-.8-35.9 .7,14 .6,20.6 .3,3.2 0-14.3 .5,12.5 .1-5.1 .2,4.3-.2-15.8 .5,4.7 .6,19.5-.1-14.2 .4,9.5-.5-31.5 .7,25.5 .2-14.3 .6,24.9-.8-50 1,40 0-13.9 .6,23.7-.1-20.1 .7,16.8 .4,16.8-.6-36.8 .2-7.4 .6,22.8 .5,1.1-.3-20.2 .8,29.2-.1-20.2 .4,17.9-.3-35.1 .5,16.1 .6,25.1-.1-22.2 .4,5.4 .2,5.7 .1-12.6 .2-6.7 .7,32.3 .1-12.3-.2-18.3 .5,12.6-.1-14.9 .4,17.6 0-13.6 .1-5.5 .8,21.4 .7,22.6-.5-32.7 .5,6.9-.1-14.2 .3,12.3-.2-24.3 .5,13.8 .3,7.5 .2-8.9 .6,29.1-.2-24.4 .4,16.2 .1-13.7 .1-11 .6,23.6-.1-22.9 .8,38.2-.2-30.5 .3-1.8 .2,5.5 .3,11.2-.1-20 .8,26.2-.3-25.6 .8,22 0-6.5 .1-11.3 .1-7.5 .5,25.9-.2-34.6 .8,40.4-.1-20.3 .3,1 .7,28.4-.3-23.9 .2-10.3 .2,8.2 .7,19.7-.1-12.9 0-26.9 .8,41.5-.2-30.3 .6,28.6-.1-24.9 .4,11.4 .3,9.1 .1,1.5 0-15.6 .7,29.5-.5-46.9 .6,15.1 .4,20.3 0-26 .4,21.8-.1-34.5 .6,38.7 .1-8.7 .1-14.1 .4,4.2 .2,9.4 .4,11.5 .1-14.9 .2-6.8 .1-7.8 .6,37.5-.3-30.1 .6,18.8-.1-26.4 .4,13.4 .1-20.7 .2,6.6 .4,12.4 .4-7.2 .2,15.9 .2,1.2 0-12.5 .6,26.2-.2-30.8 .7,16.3-.2-29.4 .4,2.1 .4,26.6 .2,2.2-.1-20.1 .5,23.3-.1-26.2 .5,12.4-.1-27.6 .8,39.3 0-10.8 .2-6.5 .4,23.9 .1-7.1-.1-24.1 .7,15.3 .3,18.3-.1-27.7 .6,36.9 .3-3-.2-40.5 .6,33.7-.1-29.6 .3,6.3 .3,15.1 .3-18.3 .3,27.8 .1-32.2 .3,33.2 .1-6.5 .1-36.3 .1,4 .7,39.8 .2-17.6 .2,13 .1-4.8 .1-21.5 .5,8.5 .2,10.8 .3,11 0-28.9 .2,6.5 .2-18.3 .5,36.7 .1-21.9 .1-3.9 .4,9.7 .4,21.7 .1-15.3 .2-5.2 .3,22.2 .1-29.3 .2,23.4 .3-11.8 .1-12.5 .2-2.3 .3,13.7 .2-10.3 .4,17.3 .2-2.3 .1-8.5 .2,3.3 .3-18.1 .2,4.1 .1,19.5 .4-5.1 .4,13.9 .1,11.8 .1-39.5 .3,7.5 .4,14.5 .4,17.1 0-28.1 .3,29.3 .1-34 .3,3.3 .3,15.8 .1-6.9 .2-29.4 .2,30.1 .4-11.5 .2,17.3 .1-32.5 .4,40.9 .2-21.6 .1-3.6 .3,23.8 .2-24.3 .2,12.2 .5-6.3 .1,15.3 .1-24.9 .3,21.7 .3,12.7 .3-41.8 .1,35.4 .3-16.2 .1,25.6 .4-27.7 .1-2.6 .3-8.6 .3,23.8 .3-46.8 .1,10.5 .2,17.3 .2,12.9 .2-26.6 .3-2.4 .1,47.6 .3-15.6 .4-9.1 .2,3.2 .1,12.1 .3,2.3 .4-23.2 .1,12.5 .2-17.9 .4,7.8 0,37.8 .4-16.4 .1-16.5 .3-21.9 .1,27.8 .4,4.4 .2-24.1 .2,13.2 .2,15.5 .3,3.7 .4-37.5 .1,2 .1,19.1 .4-16.1 .1,21 .5-35.2 .1,53 .3-22.1 .3-14.9 0,13.4 .2,22.9 .4-25.3 .1,17.8 .2,2.2 .5-23.3 .2,16.7 .3-32.2 .1,18.4 .4-12.5 .1,5.2 .2,21.4 .1-2.8 .3-7.9 .3-2.4 .2,21.9 .3-27.9 .1,19.7 .3-14.5 .1,25.4 .6-39.2-.1,28.3 .6-13.5-.1,27.3 .1,8.6 .4-39.5 .5-3.4-.1,34.9 .5-36.4-.1,20.4 .4-4.5 .3,12.1 .2,4.6 .3-31 .2,28.2 .4-28.3 .3-3.2 0,16.1 .4,3.7 .3-17.2 0,8.9 .2-9.4 .4,28.1 .2-11.3 .3,11 .6-51.9 0,23.2-.2,43.1 .7-45.4-.3,44.4 .8-29.8-.2,23.7 .5-12.5 .3-16.5 .5-32.9-.1,41.6 0,7.8 .5-25.8 .6-11.5-.3,48 .3-25.4 .2,19.5 .5-13.7 0,15 .1-1.6 .5-24 .1,20.3 .6-37-.1,29.6 .5-27.4-.2,43 .3-15.2 .2,13 .5-17.7 .1,3.5 0,20 .6-26.9-.2,45 .8-33.4-.1,10.1 .4-6.2 .6-39.3-.2,34 .4-4.3 0,6.8 .5-16.4 .4-3.5-.1,26.8 0,8.7 .7-24.4 .2-7.9 0,21.8 .4-3.6 .5-21.4-.2,39.7 .7-39 0,8 0,21.8 .8-26.9-.3,26.6 .6-30.5-.1,27.9 .7-25.2-.3,31.1 .6-23-.1,22.8 .8-24.3-.3,21.4 0,7.5 .9-38.2 0,28.4 .5-23.5 .1,7.5-.1,25.2-.1,11.4 1-39.6 .3-8.8-.1,20.4 .6-20.8-.4,27.2 .8-18.7-.1,21.7 .5-19.9 0,10.8 .4,1.3 .3-13 .4-8.3 0,19.6 .2,4.6 .8-40.1 .1,17.6-.5,31.4 .5-11 0,10.1 .8-29.5 .1,14.8-.2,19.3 .6-27 .3,5.8 0,13.8 .3-.4 .4-16.1 .3,10.1 .7-28.4-.8,45 .9-35 .1,16.5 0,13.4 .2,3.1 .9-31.8-1,51.9 1.1-42 .2,2 .6-8.7 .3-10.8-.4,39.5 .3-4.5 1.1-41.2-.3,21.1-.3,21.2 1-27.4-.7,42.8 .9-23.6 .7-22.9-.5,32.3 .6-16.3 .6-16.7-.3,22.9 .7-24.3-.4,24.2 .8-8.5-.1,8.8 .1,2.5 .6-11.2 .1,2.5 0,4.1 .9-23.2-.4,27.2M58.6,95.1l.6,14.1-.5-24.7 .8,16.4 0-8.6 .7,15.2-.6-23 .7,15.2-.6-30.5 1,30.1-.8-33.2 1.9,51.8-1.2-44.2 1.3,36.6-.6-33.8 .6,13.8 .3,7.9 0-12.6 .4,9.9-.2-15-.3-15.8 1.4,38.2 .2,1.9-.3-20.4 .7,17.7-.4-20.4 .6,12.9-.3-14.1 .4-.2 .7,21.7 .6,.5-.7-26.3 .9,27.7-.6-25.8 1,25.4-.1-12 .1-6.4 .7,21.7-.1-18.7 1.1,30.8-.5-20.5-.2-16.8 .1-6.3 .3,4.3 .8,18.5-.2-16.9 1.1,28.1-.5-24.7 .7,21.9-.3-22.3 .2-.6 .9,25.1-.3-12.9-.1-19.1 1,37-.5-34.8 0-5.2 1.1,30.7 .3,3.1-.6-27.9 1.3,37.3-.6-32.2 .7,24-.3-25.5 .3,6.9 .4,8.1 .4-2.8-.2-13.5 .8,30.3-.6-32.1 .5-3.2 .6,23 .1-8.4 .6,20.3-.2-16 .4,6.9 .4,8.4-.6-38.2 .8,18.2 .6,21.6 0-10.6 0-10.5-.2-18.1 1,35.4-.5-25.3 .7,25.8 .2-5.5-.4-23.9 .6-1.3 .7,29.3-.2-19.5 .7,24.2-.5-30.3 .8,20.8 .2,2.3-.2-24.1 .2,3.2 .6,19.1 .5,12-.1-16.4 .2-7.4 .5,22.3 .4-3-.4-27.3 .5,15.2 .3,4.6 .2,3.5-.4-23.7 .4,1.8 .5,19.1 .1-16.2 .6,25.1 .1-6.7-.2-25.2 .6,15.9 .5,12.8 0-18.9 .6,25.5-.3-25 .6,16.8 .2,2.5-.3-31.4 .8,40.5-.2-25.9 .8,19.1-.2-16.8 0-4.5 .6,16.3 .3-8.9 0-1.9 .8,30.8-.6-45.8 .7,31.6-.1-26.2 .2-3.6 .3,15 .4,4.3-.2-18.2 .5,2.1 .5,23.1 .5,17.1-.3-36.8 .7,26.2-.4-35.1 .3,10.7 .2,6.9 .1-16 .7,32.1-.2-30.4 .5,19 .2-11.3 .4,24.2 .2-14.8-.2-24.4 .5,19.3 .4,9.7 .6,16.3-.5-38.3 .4,16.4-.1-13.6 1,25.9-.3-26.7 .4,24.2-.3-39.3 .4,10.1 .4,22.5 .3-8.3 .4,14.8 .3,7.1-.1-24.2 .6,19.4-.1-13.8 .3-18.9 .4,25.5 .3,16.7 .1-23.1 .3,19.4-.2-30.2 .7,30.1-.1-32.4 .6,28.7 0-14.9 .1-3.1 .4,16.5 .2-11.4 .3,8.6 .2-10.5 .5,26.3-.1-23.9-.1-16 .9,30.2-.1-23.6 .1-2.6 .4,7.4 .2,4.7 .3-3.8 .2,13.9 .1-16.5 .6,32.6-.2-47.3 .3,13.2 .5,20.3 .3-3.7 0-10.2 .1-5.7 .7,31 0-16.2 0-25.2 .4,15 .1-14.8 .4,8.8 .2,9.7 .3,7.9 .1-8.2 .3,3.7 0-19.6 .5,29.5 .1-28.3 .4,7.7 .2,13.4 .3-4.3 .1-5.8 .5,17.3-.1-19.8 .5,12.9-.2-39.4 .7,41.6-.1-23.7 .3,4.8 .2,21.1 .3-20.3 .3,19.5 .3,3.6 .1-21.2 .3,28.5-.1-28.3 .5,1.5 .2,13.2 .1-15 .5,17.1 .1,1.9 .1-17.5 .3-7.7 .4,19.3 .1-24.9 .3,42.8 .2-22.5 0-24.8 .4,17.2 .2,18 .5-4.4 .1-11.9 .1-10.9 .5,38.4-.1-32.3 .5,16.9 .3-13.6 .2,20.1 .2-11.6 .1,15.7 .4-1.4 0-24 .2,4.1 .4,11.6 .2,12.6 .2-35.8 .2,6.8 .2,25.6 .5-23 .1,14.7 .4,4.5 .1-12.5 .4,11.1 .1-12.2 .1-6.1 .2,18.6 .5-21.6 .1,22.2 .4-.2 0-30.9 .2,11.6 .1,28.8 .3-31 .3,14.3 .2-5.9 .3,6.5 .2-7.7 .1,17.5 .5-19.8 .1,21.7 .2-4.6 .2-14.9 .4,22.9 .1-21.7 .3,7.6 .2-11.3 .3-10.3 .3,24.5 .2-22.6 .3,23.5 .1-9 .3,10.9 .2,18.9 .2-38 .2,34.7 .4-44.7 .2,34.3 .2-21.3 .4,21.3 .1-19.7 .1,21.4 .2-28.6 .3,33.8 .2-36.6 .3-.3 .2,20.2 .4-17.7 .2,35.1 .2-42.2 .2,34.3 .2-1.9 .3-13.8 .3,12.9 .2-17.6 .2-15.2 .1,33 .5-23.1 .2,24.2 .3,3.6 .2-27.8 .2,17.9 .3-21.8 .2,17.1 .2-18.1 .1,30 .1-7.7 .3,13.8 .3-25.6 .3-5.4 .1,21.3 .3-1.3 .3-12.8 .3-6.1 .2,29.8 .3-7.7 .2-22.2 .2,9.3 .2-14.5 .3,35.7 .2-15.2 .4,17.6 .3-33.9 .3,10.1 0,23.7 .4-27.6 .1,21.9 .2,8.3 .3-35 .2,25.1 .4-26.2 .1,35.5 .3-26.3 .4-17.4 0,29.6 .4-13.9-.1,26.9 .5-7.7 .3-21.2 .2-8.9-.1,25.3 .5,8.5 .2-11.5 .2-.7 .2,16.3 .1-2.5 .5-21.5 .1,16.3 .2-16.4 .5,.1 .1,16.4 .5-21.2 0,21.7 .3,1.7 .3-22.6 0,26 .5-36.2-.1,32 .4-18.4 .2,9.6 .5-16.4 .3-16-.4,59.5 .8-28.9 0,14.6 .5-11.2-.2,26.3 .5-39.2 .2,11 .1,11.2 .6-23.2 .1,21.2 .4-23.8 0,9-.1,29.8 .3-2.5 .5-35.3 .7-15.3-.3,44.5 .3,4.3 .4-21.1 .4-25.5 0,31.8 .4-15.9-.1,32.7 .6-42.3 .1,18.9 .2,9.6 .5-24.5 .1,6.1 .1,19.3 0,8.6 .6-32.1-.1,30.4 .4-24.2-.1,38 .6-39.5 0,31.3 .6-31.2 .2,6.1 .2,11.9 .2,3.8 .3-12.8 .3,12.4 .6-30.5-.4,34.1 .7-27.5-.4,39.9 1-41.6-.6,41.9 .7-24 .5-16.6-.3,23.3 .2,9 .7-17.7 .3-10.3-.1,29.6-.2,16.7 .9-39.9 0,17 .8-34.1-.2,32.4 .7-32.7 .2,8.9-.2,24.8 .6-16.1 .3-6-.2,18.2 .6-15.2 .2,4.4-.2,17.1 .4-8.3 .3-5.7-.1,25.4 .8-36.5 .5,1.4-.3,22 .4-16.2 .5-13.3-.2,33.1 .6-28.8 .2,5.4 0,15.7 .7-20.7-.4,26.8 .5-14.7 .6-10 .1,1.1-.3,27.7 .9-23.9-.3,23.9 .9-35.3-.3,25.5 .6-13.2-.4,23 .9-15.4 .3-12.6 .5-3.1-.2,13.8 .3-9.3 0,17.5 .7-20.1-.2,15.1 .1,11.8 .9-27.7-.6,35.4 .6-22.5 .7-19.5-.3,29.2 .4-10-.1,13.2M53.6,68.7l1.4,39.4-.6-23 .7,10.8-.3-16.1 .9,23-.8-28.9 1.2,32.3-.6-28.1 .8,14-.5-24.7 1.2,32.4-.6-21.4 1,20.1 .5,10.2-.5-24.6 .9,25.5-1-33.7 .9,11.7 .4,9 .1-2.7-.2-15.8 1.4,33.4-.7-26.1 .6,11.9-.4-19.1 .3,2.7 1.2,31.5-.4-25.4 .6,15.8 .2,1.2-.1-11.6-.2-10.2 .5,9.2 0-15.6 1.4,45.4-.8-40.5 .8,25.2-.4-22 1.1,31.2 0-7.8-.4-20.8-.2-12.9 1.1,29.4 .3,3.3-.6-29.2 1.1,27.7-.8-36.9 .6,12.4 1.2,35.2-.1-5-.5-27 .6,13-.2-9.9 1.1,16.9-.7-27.8 1,28.2-.3-16.3 1,29.6-.6-24.7 .2-6.3 .6,18.7-.5-31.7 1.2,35.4 .1-3-.2-21.1 .5,7.5 .3,5.2 0-10.3 .6,15.1 .1-9.2 .9,31-.6-32.8 .6,17.8-.7-32.6 .8,23 .6,9.9-.9-43.5 1.1,30.1 .5,15.7-.4-27 .6,15.4-.4-20.6 .8,27.8 0-12.5 .5,3.2 .3,8.3-.1-13.8 .6,18.2 .1-12.4 0-2.6 .5,9.5 .9,25-.6-31.6 .2-7.6 .6,20.9-.2-16.8 .8,21-.3-22-.1-16.5 .6,17.9 .2,4.6-.1-24 1.1,43.8-.3-25.9 .5,16 .4,1.4-.1-11.5 .1-8.2 .6,19.8-.3-16.9 .4,11.9 .1-9.5 .4,13.8 .1-23.1 .5,18 0-6.6 .8,25.9 .3-4.7-.4-26 .7,25-.8-45.4 1.2,35.3-.4-26.6 .8,35.5-.1-15.7-.1-17.5 .8,34.1 .1-21.7-.3-21.3 .7,30.6 0-15 .4,13.2 .6,9.5 0-16.9 .5,22.3-.6-41.5 .8,26.1 .2,4.3-.3-20.5 .5,1.9 .5,21.2 .4,10.5-.2-25 .4,10.8 0-19.1 .9,41.2-.5-33.4 .7,21.2-.3-24.6 .4,3.3 .6,16.7-.1-22 .8,36.9 .1-14.2-.3-26.1 .7,35.5-.5-41 1,36.6-.1-18.7 .1-8.2 .5,22.2-.1-18.4 .7,19.2-.1-19.8 .6,24.3-.3-29.2 .6,31.6 .4,2.4-.2-36-.1-9.6 .6,28.2 .6,7.8-.4-28.2 .6,18.8 .4,6.6-.1-21.1 .7,30 .2,1.2-.2-30.7 0-12.5 .7,38.7 .5,13.2-.4-42.5 .8,36.2-.2-28.4 .4,5.2 .6,26.3-.3-30.8 .6,24.4 .2-5.9-.1-16.1 .2-5.2 .7,34.5-.3-57.2 .7,49.4 .1-2.4 0-17.1 .6,23.6-.1-28.2 0-8.4 .5,21.7 .1-15.5 .5,21.1 0-19.4 .5,26.2 .1-26 .4,18.3 .1-2.3 .2,6.7 .2-24.2 .4,26.6 .1-7.1-.1-23.6 .8,22.5-.1-22.9 .2,9.5 0-11.7 .8,32.2-.1-20.3 .2,.4 .6,19.2 0-26.1 .2,18.1 .1-19 .6,28.5-.1-26.1 .6,32.2 0-29.9 .4,16.2 0-12 .3,21.2 .4-4.4 0-12.2 .5,.4 .2,13.1 .1-2.9 .2-22.9 .3,25-.1-22 .6-7.8 .3,32.4 .3-9.5 0-15.4 .1,3.8 .3,20.8 .4,4.6-.1-25.7 .4-10.7 .4,24.7 0-23.9 .6,35.6-.1-27.9 .4,10.6 .3,10.8 .2-13.7 .1-13.7 .3,27.3 .2-24.2 .3,29.6 .1-30.2 .6,40.3 .2-5.1 0-20.6 .3,10.7 0-19.4 .6,27.4 0-40.7 .3,32.3 .3-17 .1,4.2 .3,25 .1-33.6 .5,19.2 .1,15.5 .1-25.7 .6,11.7 .1-10.6 .3,30.4 0-24.7 .3,7.9 .3-15.5 .1-6.3 .3,29.9 .2-27.7 .3,19.6 .4-16.4 .2,16.7 .3-8.9 .2,23.2 .2-8.3 .1-32.8 .2-1.4 .2,24.8 .4-12.4 .1,17.2 .5-9.8 0-26.1 .2-5.8 .2,46.2 .4-8.3 .2-17 .1,.4 .3,10.7 .3-6.4 .2,6.5 .2,14.9 .2-34.7 .4,4.7 .3,48.9 .1-30.9 .3-16.6 .1,7.2 .3,29.3 .3-29.8 .1,19.3 .3-16.9 .2,27.4 .2-24.7 .3,28.7 .2-10.7 .1-22.5 .5,13.6 .3-20.1 .2-.9 .1,22.3 .3-10.1 .1,14.3 .3-4.8 .3-18.4 .3,28.9 .3-29.7 .1,3.9 .3,20.4 .2,4.2 .3-25.8 .3-9.8 0,36.8 .3-2.8 .1-15.2 .5,7.2 .3-22.4 0,24.1 .2-16.8 .4-15 0,49.7 .4-20.7 .4-47.9 .2,23.8 .1,25.7 .3-24.1 .1,17.2 .3,19.1 .4-23.1 .1,16.7 .2-9 .3-9.2 .3,24 .3-19.6 0,21.8 .4-8.7 .2-16.6 .2,17.2 .6-41.5-.2,55.9 .5-34.8 0,38.9 .4-43.1 .2,16 0,14.9 .5-25.3 .1,16.8 .3-2.5 .4-11.3 .1,14.2 .3-9.4 .1,11.7 .3-29 .3,44.8 .5-48.4 0,37.8 .5-40.1-.1,40.3 .5-29.4-.1,31.4 .6-40.9 .2,10 .1,24.4 .2-20.7 0,31.3 .5-27 0,14.5 .6,.8 .2-4.5 .2,14 .3-17.8 .1,12.7 .5-34.2 .1,7.2-.2,30.9 .6-8.6 .5-22.8 0,9.8 .1,14 .6-29.1-.2,33.7 .4-3.4 .4-14.8-.1,22.4 .6-29.8 .1,7.9 0,11.7 .4,7.1 .5-23-.1,22.2 .4-23.9 .3,12.8 .3-8.1 0,23.1 .5-27.1 .5-5.7-.2,31.4 .3-4.3 .5-24.7-.3,31.2 .4-20.3 .3,16.7 .5-19.4 0,24.1 .7-43.3-.1,14.2 0,24.5 .3-.7 .5-29.4 .1,14.1-.1,16.2 .7-8.2 .2-6.9 .5-13.4-.2,28.7 .7-28.3-.2,23.2 .5-10.8 0,13.9 .2-6.6 .5-15.1 .2,16.8 .4-14.7 .1,11.4-.2,20.3 .5-7.2 .4-20.2 .2,15.1 .5-24.6 .1,14.1-.2,17 .6-8 .3-8.2 .4-16.2 0,22.4 .6-33.6-.1,22.9 0,14.5 .4-10.4 .1,12.2 .5-15.5-.3,29.7 .9-38.2-.1,31 .5-25.9-.1,23.8 .9-41.4-.5,41.6 1-33.1-.4,37 .6-22.2 .4-8-.4,29.3 .9-26.4-.1,14.5 0,6.8 1.2-42.8 0,12.8-.5,32.3 .5-8.3 .1,4.7 .4-4.7 .4-12.6 .1,7.6 .4-16.8 .5,10.5-.2,15.6 .8-27-.3,23.7-.1,12.4 .9-27.3 .6-7.9-.4,25.1 .5-19.8-.3,27.3M49.5,82.7l.9,15.6 .2,2.9-.1-11.6 .2,1.2 .3,8.2 .9,14.9-.2-15.9 .6,7.6-.5-17.4 .3,4.5 .8,21.6-.9-37.7 .9,24.6 .2-2.8-.4-19.9 1.4,28.8-.9-30.2 .5,8.4 .8,20.7 .2-3.6-.9-32.2 1.1,28.9-.1-15.5 .2-3.8 1.1,30.7 .1-3.2-.6-27 1.1,28.3-.5-23.4 .6,8.4 .8,23.9-.8-29.3 1,20 0-2.3-.1-11.5-.2-17.5 1.1,28.7 .1-.7-.7-27 .4,1.4 .8,24.5 .6,5-.4-20.7 .6,12.1 .6,13.1-.8-32.2 1.4,43.2 0-10.4-.7-30 1.2,26.9-.5-18.2 .4,3.4-.3-13.2 .6,8.5 .7,20.8 .4,2.9-.8-31.5 1.1,25.5-.2-13.5 1.1,27.3-1-39.3 1.4,40.1-.5-30.6 .8,17.1-.9-36.1 .3,3 1.1,33.9-.1-19 .8,25.7 .3-.9-.1-8.7 .4,8.1-.3-22.4 .6,21.1-.1-14.9 .4,8.1-.2-17.5 0-13 .9,27.4-.2-18.1 .7,22.7-.1-9.5 .9,18.4 .3,4.8-1.1-48.7 .9,22.9-.1-11 .2,3 .8,22 .4,3.1-.2-18.1 .7,20.4-.7-35.5 .9,25.4-.1-16.4 .5,7.4 .8,27.2-.5-24.8-.2-11.6 .6,5.1 .6,17.8 0-6.8-.2-21.1 .5,13.9 .4,13.3-.2-24.3 .9,24.7-.3-18.8 .4,10.8 .4,1.3-.4-21.2 .6,9.4 .7,19.6 .2,.9-.2-16 .2-3.6 1.2,44.5-.1-14.6-.4-22.2 0-13.6 .9,35 .4,2.1-.5-28.7-.2-29.7 1.5,57.6-.1-9.7 .1-9.6 .1-7 .7,21.7-.1-6.1-.1-18.9 .5,13.6-.2-27.2 .6,15.3 .5,19.1 .3-5.4-.2-11.8 .1-6.4 .5,15.2-.4-29.2 .9,39.7 .1-14.2 .2-6.8 0-6 .4,17.2 .8,10.5-.3-21.3 0-11 .9,30.6 .1-2.7-.3-29.4 .7,33.5-.2-21.8 .7,19.7-.1-21.8 .1-2.1 .6,29.8 .3-2.2 0-14.3 .6,19.8-.2-24.6 .1-12.2 .9,36.7 .1-3-.3-19.6 .5-2 .7,35-.4-40.1 .8,31.1-.2-27.4 .4,11.9-.1-17.6 .3,12.2 .7,12.3-.1-13.3 .2,6.4 0-14 .3,.7 .5,27.9 .4-8-.3-23.6 .8,26.9-.1-13-.1-18.9 .9,39.9-.1-20.8 0-23.7 1,44-.2-22.7 .3,5.8-.2-16.5 .2-3.8 .7,29.6 .4,7.7-.1-29.6-.1-12.5 .8,35.3-.2-24 .5,18.2 .6,14.6-.3-29.7 .5,13.4-.2-25 .2-.8 .6,34.2 .6,7.6-.4-41.9 .2,9.2 .6,17.1 .4,3.5-.2-22.2 .6,24.1-.2-24.8 .3,8.6 .7,31.9-.2-37.8 .7,33.7-.1-26 .5,18.8-.2-24 .4,26.9 .2-26.3 .3,17.1 .1-15.2 .4,27.5 .6,2.6-.2-30.2 .1-.2 .5,24.4 .1-9.6 .2-14.4 .2-8.2 .5,42.8 .3-8.8-.2-25.6 .6,19 .1-12.4 .3,6.5-.2-29.4 .6,36.2 .1-25.1 .1-6.6 .4,31.5 .3-13.4 .5,36.8-.3-54.6 .5,41.1 .1-39.1 .5,39 .3-5-.1-36.8 .2,6.7 .6,44.9 .1-26-.1-39.4 .7,47.1 0-13.8 .2,6.4 .2-12.4 .4,22.7 .1-19.1 .2-7.7 .4,24.6 0-34.3 .4,23.8 .4,16 0-22.9 .2,.5 .5,11.9 .1-15.4 .2,10.3 .3,19.6 .1-40.5 .6,35 0-18.6 .1-4.8 .3,25.9 .4-22.9 .3,23.3-.1-34.3 .4,30.7 .3-38.8 .3,37.1 .1-25.1 .3,39.6 .4-13.4 .1-16.1 .4,9.1 .1,8.9 0-32.3 .3,33.5 .4-24.5 .2,13 .1,1 .2-13.9 .5,33.1-.1-48.4 .5,21.2 .3,15.4 .2-8.8 .2,14.1 .2-23.2 .2,12.4 .3,18 .1-22.2 .3,18.5 .3-25.3 .2-1.5 .3,24.5 .3-24.7 .2,12.8 .1-.6 .2-18 .2,1.6 .2,6.8 .5,4.6 .2-27.2 .1,27.9 .3,4.4 .5,18.6 0-26 .2,21.8 .3-31.6 .1-6 .4,33 .4,10.2 .1-24.4 .2-6.6 .1,11.4 .5,16.5 .1-21.6 .2-16.6 .3,29.4 .1-27.8 .1,25.4 .4,2.3 .1-22.8 .6,16.4 .1-9.7 .3,4.7 .2,17.9 .1-9.3 .4-21.4 .2,12.3 .1,26.8 .4,.6 .3-27.4 .3,11.1 .2-34.4 .1,35.2 .2-29.5 .2,23.9 .2-18.1 .4,25.9 .2-23.1 .2,22.9 .3-22.6 .3,3.6 .2,25.2 .2-24.9 .4-11.3 .3,.4 .1,21.9 .4-12.3 .1-12.3 .2,31.6 .2-23.3 .3,11.6 .2-14.1 .4,7.6 .1,16.8 .3-1.2 .2-11 .2-7.8 .1-10.2 .5,6.7 0,19.9 .3-8 .3,9.7 .2,8.4 .2-20.2 .5-2.2 .1,15.2 .1-5.5 .1,24.2 .5-43.2-.1,38.9 .4-15.6 .5-26.8 .2-6.1 0,36.2 .4,6.7 .5-42 .1,34.8 .2-9.2 .1,4.4 .3,13.5 .1-7.6 .5-32.8 .2,3 .1,36.7 .2,9.4 .6-43.6 .2,5.9 0,29.1 .2-10.3 .6-28.6-.2,31.8 .3-6.8 .2,12.7 .5-18.8 .1,24.6 .4-30.6 0,22.5 .2-8.6 .3,17.3 .5-40.6 .4-4.2-.1,25.8 .2-1.4 .3-13.6 .6,.5-.3,37.4 .4-22.3 .1,21.3 .5-31.1-.1,18.3 .5-4.5 0,16.1 .4-17.5 .3-4.2 .5-24.4-.2,39.3 .5-12 .2,7.9 .4-29.1 0,23.3 .3-1.4 .3-18.7-.2,52 1-58.7-.3,43 .5-26.6-.1,27.6 .8-34.6 .6-15.5-.5,43.2 .2,3.2 .6-32 .1,5.1 .1,11.2 0,21 .6-33.3 .2,11.9 .5-18.5 0,18 0,17.9 .5-14.4 .5-11.5 .3,1.1 .1,5.5 0,22.2 .6-34.5-.3,29.6 .8-27.8-.1,24 .5-23.5 .2,11.7 .2-10.7 .1,9.1-.1,20.6 .9-38.9-.1,22.2 .6-2.8-.2,19.2 .6-28.5-.1,24.6 .8-29.6-.3,28.8 .4-17.2-.2,30.6 .5-17.5 .6-11.8 0,10.9 .5-14.3 .2-3.8-.5,49.1 1.1-40.1-.2,21.2 .7-35.4-.2,24 .4,1.7 .4-14.7-.2,22.3 .5-14.9 .2,11.4 .7-33.3-.3,31.7 .7-24.7M46.3,110l-.9-25.6 1,16.5 .6,14.6-.2-14.1-.2-8.4 1.2,22.5-.5-16.7 .5,10.1-.1-11.7 .8,20.8-.5-23.9 .2,1.4-.2-10.7 .8,15.1 .5,11.5-.2-14.6 .5,4.9-.2-8.9 .3,4.8 1,14.2-.5-17.2-.3-20.5 1.3,34.8-.1-11.5 .6,16.1-.9-33.6 .8,14 .1-4.2 .7,15.8 0-5.9-.2-9.1 1.4,33.2-1.4-49.6 1.2,23.9 .6,14.3 .1-5.1-.5-21.5 1.4,38.5-.8-26.2 .3-8.3 1.1,29-1.1-40.3 .8,17.1 .8,19.5-.5-19.3-.4-23.4 1,24.8-.3-13 1.2,33.1 .1-7.6-.5-27.3 .1,2.5 1,21.9-.2-13.6 .7,21.4-.4-29.9 1,27.4-.1-15.9 .6,16.5-.3-20.8 .5,12.8 .6,14.8-1-36.7 .5-.6 .6,17.2-.2-12.1 1.1,32.8-.1-15.1-.3-20.5 1.3,40-.7-34.2 .7,18.2 0-12.3 0-4 1.1,27.8 .1-9.6-.5-19.1 1.2,36.2-.2-17.7 .1-4.6 0-9.1 .8,22.7-.8-38.6 1.5,50.8-1-43.1 1,26.2-.3-23.2 .8,24.1-.3-22.7 0-3.3 1.1,32.4 0-18.9-.6-25 1.2,39.5-.5-22.1 .3-6.9 .8,28.1 .5,7.4-.5-23.5 .8,17.8-.4-24 .3,4.8 1,24.9-.6-28.9 1.2,34.2 .3,1.5-.7-36.1 .5,12.4 0-9 .3,4.2 1,29.3-.8-40.2 .6,20.1 .3,2.5-.2-19.7 1.5,48-.6-28.5 0-15.5 1,30.9-.7-31.5 .7,18.8 .4,9.6 .2-5.7-.4-22.7 .7,25.3 0-24.9 .6,18 .2,6.6-.1-15-.1-20.4 .7,27.7-.2-22.1 .9,28.1-.1-18.2 .2,7.6-.1-16.3 .9,30.7-.2-24 .6,15.7 .5,12.9-.3-19.8 .1-5.6 .5,17.1 .3,.6-.3-20.2 .6,7.1 .6,20.3-.1-13.3-.1-12.4 .3-2.8 .2,7.5 .6-1.4 .3,8.6-.1-17.4 .5,17.1 .4,10.3-.2-27.2 .4,4.4 .4,13.9 0-3.6-.3-21.5 1.1,30.9-.2-17.4 .3,4 .2,8.4 .1-22.2 .9,35.3 .2-.7-.2-24.3 .1,1.8 .6,13.3 .3,7.6-.3-32.4 .7,31.6-.3-30.4 .7,22.4 0-14.5 .3,7.5 0-13.5 .6,9.8 .4,16.7 .3-2.7-.5-34.7 .7,21.8 .6,25.2 .1-4.6 0-15.7 0-5.1 .2-9.9 .4,.9 .4,18.4 .1,1.5-.2-24.6 .5,7.7 .6,25.6 .2-2-.1-29 .2,9.8 .7,19.8-.1-20 .7,28.3-.2-18 .1-17.1 .6,28-.2-20.6 .4-1.8 .3,14.6 .5,9.6-.2-22.5 .6,24.9-.2-36.3 .2,6 .7,32.4-.1-25.7 .5,8.3-.3-23 .8,31.6-.3-35 .5,30.2 .4,4.6 .1-16.6 .1-16.6 .5,22.8 .4,4.2-.3-30.2 .7,25.6 .3,12.6 .3,12-.4-36.2 .9,24.7-.1-14.1-.2-26 1,45.1 .1-3.5-.1-22.4 .3,8.5 .6,17.9-.2-24 .4,22.5 .3-7.6 0-19.7 .5,1.9 .4,31-.1-25.2 .4,18.4 .2-26.7 .5,39.2-.1-25.6-.2-23.5 .9,39.3 0-24.6 .1-2.8 .3,19.5 .5,11.7-.1-45.3 .2,4.2 .6,30.6 .3,16.3-.2-52.7 .8,48-.2-38 .7,42.7-.2-35.9 .1-.6 .3,18.4 .4-26.8 .3,22.8 .2,2.7 .4,23.5-.2-40.5 .5,21.2 .3,13.7 .1-31 .3,17 0-30.6 .3,13.2 .5,31.1 .1-24.6 .2,9 .2-26.6 .5,38.9-.1-33.6 .4,12.8 0-25 .7,48.4 .1-13.2 .2-11.8 .1-16.1 .3,32.4 .4,2.2 .1-21.6 .2,10.8-.1-25.6 .8,41.5 .1-15.3 .2-12.6 .3,36.2 .2-6.3-.1-36.4 .5,28.3 0-23 .5,33.8 0-36.9 .3-.6 .2,16.6 .4-7.1 .4,10.9 .3-5.8 0-21.8 .3,39.6 .1-37.5 .4,38.4 0-34.6 .4,7.3 .3,24.5 .3-2.7 .1-8.3 .5-12.8 .1,14 .2,10.1 .2-33.2 .4,7.1 .2,24.4 0-25.2 .2,16.3 .5-8.1 .1,16.1 .2-60.7 .4,47.6 .2-11.3 .2,31.5 .3-5.1 .1-31.8 .4,24.5 .2,9.8 .3-23.3 .2,4.2 .2-1 .2,21.2 .2-34.2 .2,22.7 .4-26.2 .1,38.2 .4-31.4 .1,24 .2-6.1 .2-31.4 .4,15.7 .3,25 .1-15.1 .1,18.1 .4-.1 .3-21.3 .4,19.2 .1-22.3 .1,32.7 .3-31.7 .2-2.9 .2,26.1 .3-21.1 .3,22.8 .2-2.6 .1-23.3 .6,3.6 .1,20 .2,11.2 .3-29.5 .2-5.5 0,23.9 .5-7 .2-12.3 .2-6.9 .2,19.8 .4,9.1 .3-27 0,29.8 .2-30 .6-2.3 .1,18.8 .2-1.7 .2-25 .2,32.9 .4-10.7 .3-26.8-.1,48.1 .4-26.1 .1,13.3 .5,9.5 .3-32.9 0,19.8 .2-21.9 .5,5 .1,22.4 .6-34.2-.1,47.8 .4-35.4 0,26.9 .4-39.3 .1,35.2 .3-24 .3,11.2 .1,12.8 .3-18.5 .4-13.1-.1,49.4 .6-32 .1,14.1 .3-27.1 0,25.3 .6-24.1-.2,45.4 .6-24.6 .2-12.9 .1,14.1 .4-30.7 .1,38.1 .3-20 .5-.3-.1,27.7 .5-9.8 .2-11.5 .2,11.1 .3-30.5 .2,7.2 0,13.5 .7-27.2-.1,30.6 0,37.6 .6-40.3 .2,6.9 .5-21.6-.1,19.9 .5-25.4-.1,32 .4-28.5 .3,23.6 .3-18.8 .2-1.7 .1,23.6 .4-4.4 .5-39.2-.2,41.4 .3-20.2 .2,16.2 .4-12.4 .1,13.4 .4-13.3-.2,45.3 .7-32.6 .4-13.4 .1,12.4 .5-22.1-.2,27.8 .5-25.4-.2,42 .5-19 .4-16.7 .1,15.4 .2-13.4 .3,7 .3,9 .2,9.3 .5-29.8-.1,18.1 .4-3 .3,9.8 .4-20.3 .2-1.1-.3,34.3 .7-33.7 0,19.5 .5-8.6-.3,26.5 1-35.7-.1,20.3 .5-28.9-.3,46.5 .8-45.5-.1,26.9 .1,4.1 .9-33.7-.5,48.3 .7-37 .5-8.4-.2,21.5 .3,5.8 .3-14.6 .4-8.5 0,13.8 .3,4.1 .4-13.7 .2,3.3-.2,18.3 .4-1.7 .7-17.7-.2,17 .7-26.3-.4,36.7 .8-30.8M41.1,95.4l1,19.6-.8-24.1 1.2,24.3-.3-11.5-.2-9.4 .2-2.4 1.4,26.7 .2,1.9-.9-26.6 1,14.6-.6-21.5 1.8,44.4-1.8-54.8 .6,5.6 1.4,34.5-.2-11.3-.2-8.4 .2-1.1 .9,15.2 0-5.9 .6,11.7-1-31.2 1.5,33.7-.1-7.1-.4-14.2 .9,12.4-.8-29.8 1.8,48.6-.8-30.1 .9,20.5-1.3-40.3 1.3,24.1 0-6.3-.1-6.2 .7,11.9-.3-13.8 1.2,27-.3-15.1 .8,14.7-.1-7.8-.3-14.3 .8,12.4-1.2-37.9 1.3,31.4 1.5,37.5-1.5-53.8 1.4,37.8-.5-23.8 1.4,36.9-.9-36.3 .9,20.9-.3-19.7 0-4.7 0-1.1 1.3,28.5-.9-31.2 1,20.6-.1-5.3 .7,8.4-1-32.9 1.6,39.9-.1-6.5-.3-16.9 1.2,21.4-.8-27.5-.2-13.6 1.3,37.3-.4-18.7 1.1,25.9 0-14.5-.3-12.5 .1,.1 .8,14.4-.2-13.4 .4,9.9 .9,16.8-.5-24.7-.1-9.5 .6,17.8-.2-14.6 .9,22.3 .5,4.3-.5-22.9 .7,17.3-.8-28.2 1.4,31-.2-12.8-.2-14.4 .9,21.8 .6,13.6-.5-26.9 .5,11.3-.5-19.5 .9,17 0-8.2 .7,18.8-.9-38.5 1.8,47-.7-30.1 .5,13-.5-28.3 1.2,39.3-.5-22.2 .8,12.5-.4-18.6 .7,14.5-.2-10.4 .3-5.8 .8,21.4 .6,11-.2-13.1 .9,24.5-.6-30.6 .7,18.4-.6-25.5 1,28.7-.3-25.2 .1-2.1 .9,27.1 .6,6.7-.4-21.4 0-6.1 .8,18.3 .2,5.8-.5-29.8 .7,18.7-.2-22.6 .5,8.4 .6,18 .4,7.8-.3-19.5 .1-13.5 .6,21.5 .2,3.5-.3-24.7 1.1,36.3-.5-26.7 0-10.9 .9,33.6-.4-30.8 .9,22.8 .4,8.7 0-9-.2-22.3 .9,27.3 .1-3.9-.5-24.6 .5,11.2 .9,28.6 0-10-.2-17 .1-13.7 .8,29.1 .3-2.9-.1-14-.2-13.9 1,40.3 .2-16.2-.2-15.4 .5,16.9 .2-6.4 .2,3.2-.2-13.5 .6,12.3 .6,11.5 .3,.2-.2-14.8 .8,22.9-.8-39.7 .5,7.4 .7,19.3-.6-32.4 .9,37.9 .4,0-.5-40.1 .9,38.2-.1-17.7 .6,21.4 0-18.8 0-7.9 .5,9.6 .4,16.2 0-15 .5,12.1-.4-34.4 .7,29.5 0-19 .3,9.7 .4,7.6 .4,9-.3-19.3 .4-4.7 .4,12.9 .4,10.5-.2-17.6 .4-3.7 .7,33.9-.3-36.9 .8,36.5 .1-3.3-.5-38.1 1.1,39.7-.2-28.1 .2-3.2 .3,15.1 .3,.4-.2-26.5 .9,30.9-.3-25.6 .6,29.8 .1-11.6-.2-23.8 1,49.7 .1-14-.2-31.6 .8,37-.3-35.7 .9,43-.5-42 .3,3.9 .6,18.3-.2-22.3 .9,41.6-.5-45 .8,36.4 .1-14.4 .2,4.4 .2-9.2 .3,13.2 .2-7.6-.2-16.8 .7,10.6 0-7.9 .1-8.2 .7,25.8-.1-15 .7,27.3 .2,4-.1-30.1 .5,24.1-.3-26.8 .5,7.4 .7,28.6 .2-3-.2-25.7 .2-5.4 .4,17.9 .2-14.2 .5,18.5 .2-7.7 0-13.9 0-9.6 .9,45.8 .3-.9-.2-28 .1-3.5 .6,18.1 .3,6.3-.3-40.1 .5,17.5 .4,19 .1-18.2 .3,16.5-.1-26.1 .6,32.7 .2,.4-.2-30.9 .8,26 .1-14.5 .2,11 .1-17.2 .6,31.7 0-26 .5,10-.1-16.2 .3,6.9 .3,12.6 .1-13 .4,16.5 .1-31.4 .3,18.6 .4,14.6 0-32.7 .3,8.3 .3,8.7 .1,2.3 .2-10.1 .2,2.1 .4,14.7 .2-20.5 .4,35.8-.2-52 .6,41.2 0-28.1 .2,17 .2-38.8 .6,43.3 .1-.5 .2-14.5 .5,25.5-.1-22.6 .3,9.6 .2,13.7 .5-.2 .1-18 .2,14.3 .3-23.3 .3,39.5 0-24.9 .3-13.7 .4,19.7 0-32.4 .5,38.1 .1-2.6 0-25.2 .7,27.2-.1-23.5 .5,3.2 .2,14.2 .2-21.3 .2,7.2 .5,37.1-.1-40.7 .3,8.7 .3,17.2 .2-32.5 .4,27.1 .2-.1 0-34.5 .5,4.6 .2,36.4 0-34.7 .5,22.7 .1,13.8 .3-42.6 .1,4.4 .4,26.3 .4-2.7 .2,26 .1-28.7 .1-30.5 .4,23.7 .2,20.8 .2,7.4 .1-38.3 .4,17.6 .1-11.7 .4,21.1 .3-20.6 .3,23.8 0-26.3 .4,10.7 .2-17.6 .3,11.5 .1,19.7 .3-18.1 .3-19.6 .4,15.6 .1,11.6 .4-11.3 .1,24 .2,4.1 .1-29.2 .4,31.3 .3-32.1 .2,13.1 .2,27.4 .4-13.6 .1-19.5 .3,18.4 .1-11.6 .2-26.9 .1,45 .4,4.9 .3-29.2 .3-6.7 .2,25.7 .1,19.1 .4-34.9 .3,19.7 .1-36.2 .3,10.4 0,23.7 .5-.6 .2-18 .3,11 .2-20.9 .1,46.6 .5-42.6 .3,19.1 .2-15.5 .3,16.5 .2-15 .1,25.9 .2-26.6 .3,3.2 .2-9.9 .4,29.2 .3-34.6 .2,3.4 .1,40.1 .3-41.6 .3,17.5 .3,19.1 .2-31.1 0,18.9 .4-26.4 .2,41.9 .4-27.7 0,7.3 .3,13.7 .5-26.4 .1,20.5 .3-14.9 0,12.5 .5-30.9 .1,30.2 .2,14.8 .5-33.7 .1-10.8 .3,24.3 .4-6.4 0,16.3 .2-20 .1,31.5 .2-1.2 .5-32.5 .5-1.3 0,20.7 .2-21.5 .2,15.7 .1,16.6 .5-23.5 .1,11.5 .5-20.9 .2,1.8 0,19.7 .5,1.3 .3-25.3 0,30.7 .5-32.8 .2,7.3 .1,20.3 .6-27.3-.2,35.1 .4-32.7-.1,31.1 .5-19 0,26.6 .3-7.2 .5-42.3 .2,45.6 .4-26.5 .2,5 0,14.7 .5-23.1-.2,36.1 .4-7.5 .5-23.9 .1,18.7 .4-25.5 .2,27.5 .3-12 .2-11.2-.2,30.4 .5,4.1 .6-45.6 .3,12.5-.3,36.9 .9-50.4-.3,30.6 .4,5.1 .4-20.7 .2,7.1 0,8.4 .7-21.1 0,20.1-.2,25.5 .7-37.1-.2,32.1 .7-34 0,16.3 .5-19.7 .1,21 .5-25.7-.1,35.7 .6-23-.1,15.2 .4-18.8 .3,2.9 0,17.7 .8-37.7-.5,41.9 .6,1.5 .4-21.6 .4-10.2-.1,16 .1,12.7 .6-14M36.9,101.8l.8,14.1-.7-19.1 1.3,24.7-.7-23 1.2,25.8-.8-26.5 1.1,21.1-1-27.8 1.8,35.1-.2-8-1.1-31.5 .5,5.4 .9,21.3 .9,10.6-1.1-32.5 1.5,30.7-.7-19.4 1.4,30.9-1.2-36-.3-15.1 1.5,33.1 .4,3.3-.4-16.2 .6,9.6-.8-24.3 .6,2.6 .8,17.1-.7-21.6 1.7,37.1-.9-32.2 1.1,24.3-.2-7.6 .8,13.7 .5,6.2-.7-20.9 1.1,17.1-1.2-37.3 1.4,36.9-1.1-33.2 1.5,31.3-1-33.1 1.1,23.5-.6-26.5 1.7,37.5-1.3-38.5 2,49.3-.7-23.5-.6-23.5 1,26.1-.4-22.1 .7,19.1 .4-1.5 .7,11.4-.8-24.4 1.2,29.8 .2-6.9-.3-14.1 .2-5.9 .7,17.8 .6,11.5-.8-26.5 .2-4.5 1.8,45.2-.3-15.2-1.3-45.3 1.3,34.8 0-9.8 .8,15.4-.8-29.4 1,28.8-.5-23.9 1,24.1 0-10-.3-13.8 1,28-.2-19.9-.3-12.2 .4-3 1.5,42.3-1.1-36.3 1.2,25.9 .4,10.2-.5-26.8 .8,22.5-.9-33.3 1.5,29.7-.1-6.7-.1-6.2 .7,16.2 .1-5.8-.8-31.8 1,25.3 .9,15.7-.8-27.5 .7,17.1-.3-24.8 .8,24.1-.2-17.8 1,23.1 .3,3.2-1.2-45.9 .8,19 1,23.6 .2-4.6-.8-30.2 1.4,44.1-.7-26.1 .5,2.8-.2-8.4 1.5,33.4-1.2-49.5 .6,14.8 .9,27.8 .1-6.7-.4-20.4 1.3,33-.4-22.6-.3-20.8 1.2,35.7 0-1.7-.6-36.4 1.1,32.8-.3-20.5 .7,22.8-.6-27.3 .5-1 1,30.1-.6-25.6 .8,22.5 .1-6.3 .6,15.9-.7-41 .5,15.4 .6,4.4 .5,15.6-.1-13.4 .6,13.4 0-9.1-.3-14.8 .6,10.4 .5,9.2 0-3-.1-19.4 1,34.3-.2-21.2 .4,7.9-.3-14.9 .8,22.5-.6-28.8 1.1,24-.4-21.4 .8,22.3 0-11.3 .1,.2 1.5,43.5-.3-19.6-.6-34.7 .3,10 .3,7.6 .8,6.3-.5-24.3 .3,2.8 .5,14 .2-.9-.1-11.4 .8,18.6-.5-28.2 .7,22.7-.3-20.3 .8,21.7-.6-32.1 1.5,43.8-.3-20.8 .2,.2 .8,21.2 .2,.2-.4-30-.3-19.7 1.3,43.3 .7,29.1-.7-50.2 .5,8.8 0-5.1-.1-9.2 1.1,32.9-.6-34.7 1,32.7-.2-15.7 .2,4.7 .5,2-.2-14.4 .8,15.1-.2-14.5 .4,6.1 .6,20.5-.4-27.5 .6,22.7 .5,6.9-.1-12.9 .4,7.7-.3-22.1 .6,5.1 .3,12.3 0-15.4 .7,19.4-.1-16.4 .5,12.9-.5-37.8 .7,32.5 .1-7.8 .8,33.7-.5-45.3 .7,25.2 0-10.8 .7,17.6-.1-13-.3-25.5 .6,19.9 .1-16.1 .2,6.8 .4,14 .3-4.7 .8,27.6 .2-.8-.3-23.9 .6,20.1-.3-29.2 .2-11.7 .7,35.7 .1-24.6 .4,19.2 .3,1.3 .1-8.3 .3,15.6-.1-23.3 .3,2.3 .5,26.2 .2-14.8-.1-17.6 .5,2.8 .3,13.7-.1-18.5 .5,12.7 .1-11.2 .3,7.5 .2-10.1 .4,14.9 .4,23.5-.4-39.3 .8,25.9-.4-34.8 .9,42.7-.2-40.3 .9,48.2-.3-26.4 .7,25.4-.3-44.1 .7,41.6-.4-49.4 .7,29.8-.1-15 .4,4.7 .6,28.9-.4-44.3 .6,30.9 .4,11 .1-12.1 .1-18.8 .3,18.6 .1-12.4 .4,19.5 0-24.8 .7,28 .2-6.5-.1-17.1 .4,17.7-.1-20.1 .4-2.7 .4,17.2 .3,5.2 .1-26.5 .4,21-.1-21.8 .6,15.6-.1-25 .7,42.3-.2-29 .9,49.5-.4-45.8 .4-8 .3,20.4 .4,8.1 0-20.8 .2,7.8 .3,20 .3-20.3 .4,23.2-.1-38.8 .5,38.3 .1-24.8 .3,21.6 .2-23.4 .4,22.9 0-26.3 .4,20 .3-16.7 .3,24.2 .3-1.4 0-15.3 .4-2 .2,21 0-15.7 .3-13.1 .5,30 0-22.6 0-19.6 .5,35.1 .4,7.2-.2-47.9 .6,9.6 .2,18 .5,19.5-.1-32.8 .1-.5 .5,15.5 .2,9.9-.1-26 .5,13.8 0-7.8 .5,25.9 .1-39.2 .4,27.3 .1-12.6 .4,29.9 0-24.5 .6,9.5 0-40.7 .3,28.2 .3,19.6 .3-4.1 .2,6.5 .2-10.1 .3,14 .3-17 .2-11.5 .4,29 0-43.5 .2,12.9 .3,27.6 .3,8.2 .1-30.3 .4-2.2 .2,23.2 .4-17.3 .2,16.9 .2-34.8 .2,36.1 .1-19.7 .3,22.7 .4-.7 0-28.6 .5,7.1 .2,27.8 0-39.8 .5,31 .1,7.8 .2-25.9 .3,19.5 .2-31.4 .2,25.3 .1-22.7 .6,34 .2-12.3 .1-3 .2-8.9 .3,3.9 .2,27.6 .5-21.6 .1,11.3 .2-1.5 .2-14.2 .2-4.4 .3,17.8 .2-34 .2,30.1 .4,1.8 .2-33.3 .2,26.9 .3-10 .3-7.9 .2,27.3 .4-24.9 .1,25.4 .4-33.2 .1,35.3 .2-17 .2,21.1 .3-31.6 .2,21.7 .3-19.9 .2,20.8 .2-21.2 .2,20.9 .4-27.1 .1,48.5 .3-18.1 .3-18.9 .3,5.5 .1,13 .5-42.9 .1,41.7 .3-4.6 0,14 .5-29.3 .2,19.6 .1,6.4 .3-14.7 .3-14.1 0,20.8 .4,16 .4-31.8 .2-7.8 .3,21.4 .2,3 .2-19.1 .3,15.4 .2-10.4 .1,16.3 .3-29.9 .4,3 .1,18.5 .4,25.3 .3-40.5-.1,36.4 .3-30 .3,10.4 .5-23.1 .2,10.6 0,17.5 .3-8.8 .1,7.3 .6-10 .1,13.4 .2,11.2 .5-38-.2,49.7 .5-39.3 .4-22.8-.3,60.9 .7-40.6 .2,21.4 .2,2.6 .4-24.7 .3,9.9 0,17.6 .4-29.3 0,31.4 .3-8.5 .3-9.9 .3,9.3 .3-19.8 .2,1.6 .2,23.6 .3-20.2 .4-18.3 .1,27.8 .2-7 .4-12.7 0,27.2 .5-25.9 0,19 .4,.6 0,19.6 .5-32.9-.1,24.3 .6-22.6 .1,28.3 .2-2.3 .5-21.4 .1,4.5 .4-24.4 .2,26.7 .4-15.2-.2,28.2 .5-27.6 .1,27.1 .7-36.1-.2,38.3 .4-20.6 0,30.8 .6-29.7 .2,6.2 .3-10-.2,31.6 .3-20.9 .6-1.9 0,15.6 .8-40.9-.3,43.7M32.9,114l-1-28.1 .3,2.9 1.4,28.2 0-3.2-.3-9.3 .9,7.7 1.1,22.6-1.1-29.4 .6,12.6-.1-11.3 1.1,23.1 .4,3.3-1.5-41.4 .7,10.9 1,23.2-.2-14.8-.6-21 1.6,31.5-.6-17.7-.1-13.3 1.8,42.6-1.1-32.5 1,19.2 .5,6.8-1.5-44 .7,15.2 1.1,25.8-.6-24.1 1,21-.4-19.2 1.4,27.7 .5,7.7-1.2-33.9-.2-12.9 1.6,34.8-.8-26.4 1.2,24.3-.8-27.7 1.9,44.3-.5-14.6-.2-14.5-.1-11.1 1.6,37.5-.4-16.1-.2-10.6 .6,13-.5-19.5-.2-17.6 1.7,43.6-1.5-45.8 1.3,26.7 .3,5 .5,4-.5-14.9 1.2,22.4 .1-3.4-.6-22.2 .5,6.3 .4,5.2 0-8 .9,21.2-.9-27.8 1.1,24.1 .5-.2-.7-21.4 1.6,39.1-.5-17.4-.4-20.5 1.2,27.6-.1-6.5-.9-29.4 .2-7.8 1.2,27.1 0-5.5 .9,19.3 .2-1.2-.2-11.9-.8-26.1 1.4,37.1-.3-21.7 1,21.5 .4,9.4-.6-24.9 .8,17.9-.2-17.3 .5,8.8 .7,17.8-1.1-39.4 1.6,43.7-.1-15.5 0-9.1 .1,.9 .8,20.5-.2-15-.1-16.6 .6,16.1-.4-19.2 .1-2.4 .9,18.2 .6,13.7-.4-18 1,22.3-.6-30 .1-1.2 1,21.1 0-6.6-.5-23.1 .8,20.8 .6,16.7-.5-32.1 1.2,32.6-.7-31.9 .9,22.4 0-3.8-.2-17.5 .3-2 .4,8.2 .8,25.2-.4-21.1 .9,14.4-.7-27.3 .7,14.3-.1-9.7 .4,8.4 1,31.9-.1-16.5-.5-25.1 0-9.7 1.4,37.8 .2-5.9-.4-17.2 .8,19.8-.4-19.4 .6,16.2-.8-40.2 1.3,41.2-.6-24.2 .7,1.6 .4,10.9 .4,10.8 0-13.6 .3,2-.2-12.7 .6,15.7 .6,19-.6-35.5 .9,28.4-.5-29.7 1,22.4 .1-4.2 .3,8.2-.4-24.8 1.2,38.2-.4-29.1 .4,10.5 .7,17.6-.7-31 1.6,42.4-.6-31.9-.3-15.5 1.3,34.4-.8-37.2 .9,23.7 .5,16-1-50.2 1.5,43.2-.5-26.9 .8,29.8-.2-24.3 .2,5.5 .8,19.7-.2-15.5 .6,15.8 0-9.3 .5,15.6-.5-44.5 1.1,40.7-.1-9.3-.3-18.4 .1-9.3 1.2,35.2-.3-18.9 .6,19.7 .3-8.2-.2-14.6 .1,.6 .8,27.1 .5,4.2-.5-33.2 1,33.9-1.1-55.7 .7,16.4 .5,12.7 .1-5.4 1.1,36.1-1.3-62 1.3,43.9-.4-29 .7,18.8 .2,1.9 .7,23.2-.4-26.2 .4,12.5-.4-33.9 .8,23.2 .2-11 .6,25 .3,.9-.5-34.2 .6,16.6 .6,15.9 .1,1-.6-41.9 .9,36.1 0-17.5 .4,2.4 .4,13.8 .1-2 .4,15.1 .3-8.5 0-16.3 .5,21.7-.1-25-.1-11.2 .7,24.1-.1-21.5 1.2,49.4-1.1-63 1.1,43.2 .1-13 .4,18.3-.1-30.9 .4,13.1-.4-26.6 1.3,49.7-.1-7.5-.4-30 .7,16.4 .3,11.4 .1-20.7 .5,15.5 .2,3.8 0-22.3-.2-19.3 .9,33.4 .5,9.7 0-7 .1,.4-.1-13.6 .7,22.9-.2-34.9 .3,3.6 .5,20.3-.3-34.7 .8,46.1 .1-28.9 .5,22.7-.1-12.6 .4,15.2 .4-15.5 .4,22.2-.5-40.5 .8,28.2 .1-10.8 .6,26.5-.6-55.1 1,57.2-.1-38.2 .6,30.6-.2-31.6 .5,22.7 0-23.5 .6,29.4-.2-21.2 .5,25.4 .5,15.7-.3-30.4 .1-18.5 .6,31.9 0-31.8 .7,29.2 0-9.6-.1-15.6 .9,21.9-.3-30.3 .7,36.9 0-22.1 .1,1.1 .4,15.7 .4,12-.1-29.4 .3-5 .4,14.5-.2-25.5 .6,30.1 .1-9 .3,15.1 .5,13.2-.1-21.2 .6,17.6 .1-20.6 .2-6.4 .3,22.2 0-30.2 .3,24.1 .4-3.6 .1-17.1 .5,38.8 0-16.2 .5-13.3 .2,14.2 .1-15.3 .3,13.5-.1-28.4 .5,27.5 .3,3.3 .1-21.1 .3-2.9 .3,19.3 .3,6.3 0-37.8 .7,32.4 0-4.6 .2-4.1 0-22 .3,7.3 .6,33.9 .1-15.8 .5,24.1-.2-35.2 .4,15.5 .3-9.7 .2,19.5 .1-18 .5,10.2 .2-20.5 .3,26.2-.1-30.2 .4,23.3 .5,14.9 .1-15.2 .3-5.8 .3,25.8-.1-30.4 .3,22.3 .5-.4 .1-15.7 .1-7 .3,18.5 .6,12.2-.1-38.1 .4,23.7 .1-21.1 .4,10.6 .1-12.8 .3,15.7 0-18.1 .5,27.8 .2-19.8 .2,24.4 0-22.8 .5,33.2 .2-33 .5,35.2-.1-35.3 .3-2.3 .2,31.6 .5-10.4 .1-37.3 .4,29.9 .2,8.7 .1-32.2 .4,40.5 0-33.8 .3,4.2 .4,11.8 .2,14.6 .3-8.6 0-34.8 .3,34.5 .2-28.7 .3,35.6 .2-30.4 .4,4.4 .3,24.9 .2-3.9 .1-12.3 .3-10 .2,31.8 .5-30.2 .1,18.6 .3-17.3 .2,36.1 .1-37.1 .4,28.5 .1-.8 .4-19.7 .1,31 .1-35.4 .6,26.9 .2-39.7 .1,31.9 .4-26.6 .3,25.5 .2-21.9 .1,22.2 .2-31.3 .4-4.1 .2,36.3 .3,4.3 .2-27.9 .3,21.6 .1-9.4 .4-4.5 0,30.5 .6-27.2 .1,18 .1-21.2 .3,22.9 .2-2.1 .1-18 .7-14 .1,22 .1,9.2 .4-25.8 .1,13.2 .1-14 .4,8.3 .4,3.4 .2,8.7 .2-26.5 .4,23.6 .2-27 0,27.8 .1,11.3 .6-40.4 .2,37.5 .5-33 0,29.5 .2-15.2 .1,19.2 .3,15.1 .3-34 .3,22.8 .3-33.1 .3,.9 0,22.9 .3-3.2 .4-2.7 .2-13.2 .2,16.5 .2-7.2 .1,14.5 .6-3.1 .3-30.9 .2,24.5 .3-26.6 0,22.3 .1,4.8 .8-25.8-.1,35.4 .2,1.5 .4-33.3 .4,6.8-.1,28 .3,3.3 .2-17.9 .2,5.8 .4,4.8 .4-26.7-.2,40.6 .6-28.2 0,17 .2,1.1 .3-20.4 .4,26.6 .4-25.2 .1,8.9 .4-16.1-.1,27.2 .5-31.1 .1,32.4 .3-7.9 0,12.7 .4-18.9 .4-10.4 0,19 .5-17.6 .2,19.5 .4-30.5-.1,33.8 .6-18.5 .3-16.1 .1,37 .3-17.9 .6-29.4-.4,56.9 .6-25.7-.1,16.1M28,109.3l.9,13.7 .2,1.2-.9-26.8 1.2,22.7-.5-12.7 1.1,16.4-.6-18.6 .8,13.3 .9,16.4 .1-.6-.7-23.9 .2,1.3 1.6,30.4-1-29.7 .9,18.8 0-6.2-.8-23.4 .4,2.2 .9,16.9-.1-7.9 .8,15.3-1-29.6 1.5,33.4-1.2-40.7 1.8,37-.2-11.5-.3-10 0-8.7 1.1,24.5-.3-10.1 1,16.1-.2-6.9-.4-19.8 .5,5.9 1.4,30.2-.6-17.4-.6-19.8 1.1,18.9-.6-21.8 1,22.6-.1-8.9 1,16.9-.4-12.6-.3-13.5 .8,13.8 .3,3.7-.5-16 .8,8.3 1.3,27.2-.3-12.8-1.2-36.4 1.5,35.8-.2-15.2 .5,8.2-.3-10.5 .8,7.9 .6,12.5 .1-2.2-.7-21 .7,10.3 1.2,23.9 .4,1.6-1.2-34.1 1.3,29.8-.8-28.8 1.3,26.6-1.1-34.2 .8,17.5 .7,10.6-.8-23.9 1.2,21.9 .4,5.6-.9-29.2 .3,3.5 1,19.2 .1-1.4-.1-6.5 .9,16-1-35 .6,3 1.3,33.1 .4,3.6-.9-28.7 1,17.3-.4-13.9 .5,7 .6,12.4-.9-29.4 .9,21.3 .4,.2-.3-13.1 .5,9.1-.3-15.3 1.5,29.6-.8-26.8 .1-.2 .6,12.9 .7,3.8-.7-22.8 1.2,31.9-.5-24.3-.2-11.8 1.7,41.4 0-7.6-.5-21.3 1.4,33.9-.8-27.1 .4,2.7 .8,17.9 .4,1.5-.7-24.6 .3,1.2 .6,16.1 .3,.2-.2-13.7-.3-21.2 1.4,39.7-.7-26.3 1.2,27.1-.2-11.3-.4-13.9 .3-4.7 1.5,38.7 .7,11.9-.8-30.8-.6-21.7 1.1,29.1-.6-26.5 .8,13.8 .1-1-.2-8.9 1.1,21.5-.5-24.6 .8,12.9 .6,15.2-1-35.3 1,25.5 0-9.7 1.1,34.3-.6-30.7 .5,13.4 .3-12.1-.5-17.9 1.5,38.8-1-39.2 .3,7.2 .7,10 .1-1.1 .2,5.4-.2-20.5 1,24.5 .2,.7-.7-26.1 1.4,31.7-.4-22.9 .5,14.8 .2-5.7 .7,19.6-.5-28.5 .7,19.2-.5-26.6 .8,15.7 .6,13.7-.8-35 .9,26.7 .2-6.6 .6,18.1 .2-3.8-.5-28.2 .2-5 .8,25.2 .6,13.4-.6-32.8 .2,6.1 .7,22.1 .3-8.3 .1-5.8 .3,7 0-5.8-.1-19.4 .8,21.3 .1-3.8 .8,26.9-.6-32.2 1.1,29.7 0-11.7-.7-34.3 .8,24 .6,16.1 .3-.1-.2-14.6 0-11.6 .8,18.6-.2-11.4 .5,10.5 .6,12.3-.5-25.9 .3-2.3 .9,31.7 .1-15.5-.3-16.3 .9,26.1-.3-23.4 .9,31.4-.7-37.6 .2,.1 1,28.9-.8-42.9 1.2,37.5 .5,11.8-.5-30.7 .7,26-.5-26.9 .9,13.3 .3,5.6 .1-2.6 .5,11.5-.3-25.2 .7,28 .3-6.2-.4-21.3 .1-7.5 .7,26.7 .3-.2 .1-15.7 .6,19.7 0-13.1-.1-10.6 1,31.2-.5-27.4 .8,28.5-.4-33.7 .7,30.6 .3-4.5-.2-17.4 .3-2.3 .7,18.2 .4,10-.7-43.1 .6,19.2 .2,3.2-.1-22.7 1,40.5 .2-2.5-.2-24.9 .3-6.6 1,48.7-.4-44.4 .5,24.7 .4,5-.4-33.6 .2,6.7 1,31.5-.2-17.2 0-4.2 .6,12.8-.1-28.1 0-6.8 .7,31 .4-8.1 .3,11.5-.2-19.2 .5,9.4 .4,8.9 0-8.2 .1-5.4 .6,18.6 .2-12.2 .5,20.5-.2-25.6 .4,6.7 .3,6.5 0-8.1 .5,10.9-.1-16.7 .4-3.6 .5,25.8-.2-24.6 .1,2.6 .5,10.5 0-15 .8,25.2-.2-31.3 .1,2 .7,29.9 .5,11.3-.4-33.6 .5,19.6-.1-30 .2-5.5 .6,21.9 .4,13.5 0-19.6 .3-6.6 .4,20.8 0-8.3 .2-13.2 .2,8 .6,16.4 .2,7.4-.2-25.8 .7,26.6-.1-15.4 .6,22-.2-36.6 .5,1.8 .6,40.8-.2-30.4 .1-21.4 .2,6.8 .3,9.9 .4,9.9 0-29.4 .4,25.1 .2-17.6 .2-1.4 .4,28.6 .3-23.4 .4,29.9 0-21.4 .5,21.7-.2-29.9 .6,17.9 .1-18.4 .4,23.6 .1-.6 .2-17.8 .2,4.9 .2,13.9 .5-3.3 0-21.6 0-12.2 .5,25.9 .1-17.3 .5,29.6 .1-16.6 .4,24.5 0-26.9 .3,16.7 .2-16 .5,17.8 .3,1.6-.1-25.3 .4,22.1 .3-16.8 .3,26.9 0-48.6 .5,31.5 0-25.6 .5,28.7 0-18.5 .5,20.3-.1-28.7 .5,14.9 .3,31.6 .3-31.4 .2,12.1 .2,15.7 0-24 .8,31.3-.2-41.1 .3-9 .3,23.2 .3,21.3 .2-15 .4,17.5-.1-27.3 .3,.7 .3,7.2 .5,16.1 .1-19.2 .1-23.8 .3,15.2 .2,16.3 0-24.9 .6,16.1 .1,6.2 .3,7.7 .1-39.8 .5,19 .3,21.4 0-10.6 .1-13.2 .4-7.5 .2,26.4 .2-25.5 .3,40.4 .5-39 .2,34.9 .1-27.2 .3,16.8 .4,16.4 0-19.7 .3,3.3 .3-26.3 .2,21.2 .1,15.6 .5-22.9 .3,28.2 0-31.2 .2,9.6 .5-1.6 .1-14.2 .3,10 .2,21.8 .5-1 .1-35.2 .1,18.2 .3,21.3 .3-11.4 .1-9.5 .4,9.7 .3-20 .1-19.1 .1,42.5 .4-20.9 .1,22.7 .6-7.6 .1,18.9 .1-7.6 .3-18.5 .2,22.5 .3-30.1 .4,20 .1-17.8 .2,21.2 .3-30.8 .2,3.5 .4,20.9 .3-36.7 .2,35.7 .4-20.1 .1,20.1 .1,14.6 .4-21.5 .1-14.3 .3,28.7 .4-37.9 .2,22.1 .3-18.2 0,32.2 .4-19.6 .1,14 .4-6.4 .2,14.9 .3-23.7 .1,21.7 .3-19.1 .1,20.5 .6-40.1 .1,30.3 .4-3.7 .2-17.1 0,33.9 .5-32.1 .1,24.7 .4-16.5 .2,3 .1,30.8 .3-35.6 .3,10 .2-11.5 .2,20.7 .3,8.1 .3-30.4 .4-.7 0,30.3 .6-29.3 0,19.2 .3-13.4 0,16.1 .4-1.1 .3-7.1 .2,7.5 .4-19.8 0,10.8 .4-11.7 .3-12.8-.1,36.9 .6-31.8-.1,45.1 .6-32.1 .2,10.3 .4,.2 .2-13.1-.2,38.7 .7-37.7 .3,7.1 0,15.2 .2,7.7 .4-24.2 .2,7.6 .3-14.1 .5,.1 0,16.6 .4-4.9 0,11.6 .3-22.8 .2,22.1" fill="none" stroke="#f9a21d" stroke-width="0.80" stroke-linejoin="round"/>
<path d="M106.4,78.6h0M106.4,71.6h0M99,76.9h0M59.3,106.2h0M63.2,92.6h0M106.8,66.7h0M103.1,67.9h0M64,108.1h0M67.9,94.4h0M68.5,111.6h0M92.3,94.2h0M84.5,88h0M64.5,108.5h0M34.8,130.1h0M92.8,96.3h0M92.8,89.1h0M43.8,120.5h0M100.6,75.4h0M31.1,134.9h0M39.9,126.2h0M81.6,98.4h0M77.7,101.2h0M35.8,129.8h0M61.8,117.9h0M45.1,131.4h0M109.1,84.2h0M32.3,142.1h0M97.9,86.6h0M70.2,99.2h0M40.9,124h0M32.2,131.2h0M66.5,104.8h0M102.2,78.8h0M102.4,85.7h0M54.1,107.3h0M32.4,123.2h0M42,133.7h0M37.2,121.5h0M99,76.6h0M102.9,71.2h0M71.6,101.3h0M50.7,111.8h0M99.5,84.1h0M38.3,133.1h0M63.7,104.8h0M68,104.1h0M80.3,95.9h0M100.1,86.5h0M111.5,76.3h0M38.7,126.6h0M100.3,76.9h0M92.7,82.1h0M92.8,86.5h0M81.3,104.1h0M100.7,76.9h0M60.9,112.4h0M48.5,129.3h0M101.1,82h0M108.7,64.6h0M44.2,123.3h0M69.9,112.2h0M82,96.3h0M93.9,82.7h0M57.6,117.7h0M53.6,123.7h0M40.9,136.7h0M74.3,95.2h0M109.7,69.4h0M36.4,130.2h0M74.9,107.8h0M87.1,98.6h0M62.9,121.2h0M102.7,76.3h0M67,106.8h0M103,86.6h0M110.7,84.6h0M55,124.2h0M42,130h0M107.2,76.2h0M68,118.9h0M46.5,121.6h0M80.1,96.1h0M103.8,80.5h0M55.6,118.7h0M100.3,90.1h0M96.4,87.9h0M108.1,79.9h0M43.4,136.5h0M108.3,77.2h0M112.1,77.1h0M52.6,137h0M112.3,73.8h0M116.2,68.6h0M61.2,124.5h0M112.7,81.1h0M116.6,83.2h0M89.8,92.5h0M90,99.3h0M53.4,134.1h0M40.3,139.3h0M65.8,110.5h0M113.4,68.8h0M113.5,72.6h0M78.7,107.4h0M82.8,101.6h0M86.9,99.2h0M78.9,101.6h0M110.3,71.2h0M71,113.7h0M49.9,125.2h0M54.3,121.3h0M107,86.1h0M63,115.2h0M118.4,68.4h0M118.6,73.2h0M84.2,113.4h0M67.8,117.2h0M71.9,107.5h0M67.8,110.2h0M96.2,85h0M88.6,102.7h0M72.6,116.9h0M96.5,85.5h0M43,139.8h0M64.6,123.8h0M81.1,106.5h0M43.4,141.4h0M52.5,141.8h0M43.5,137.1h0M52.2,126.6h0M89.8,109.5h0M81.8,110.6h0M116.8,85.4h0M48.6,139.6h0M77.9,103.2h0M48.7,136.7h0M102,90.4h0M109.8,78.7h0M57.5,122.6h0M66.1,117.8h0M102.5,92.3h0M106.4,84.5h0M98.9,97h0M71,123.8h0M102.9,88.2h0M87.3,101.9h0M122,72.5h0M75.3,111.8h0M99.4,89.9h0M103.6,100h0M91.8,96.5h0M91.9,97.3h0M75.9,111.1h0M84.1,103.2h0M92.4,109.4h0M92.5,104.1h0M64,127.4h0M84.6,108.3h0M64,119.8h0M55.8,132.7h0M81,116.4h0M96.9,93.1h0M89.2,101.9h0M123.9,81.6h0M56.3,132.5h0M109,82.4h0M116.8,91.6h0M69.3,118.6h0M65.4,130.9h0M69.6,123.4h0M98,100.8h0M77.9,108.5h0M98.3,107.6h0M90.4,100h0M125.1,79h0M48.6,132.8h0M121.6,71.5h0M53.6,140.2h0M57.7,127.9h0M78.8,108h0M125.7,75.4h0M87.2,101.7h0M79.3,112.7h0M95.4,95.2h0M103.5,98h0M75.8,129.9h0M58.7,128.2h0M58.9,131.3h0M122.9,85.2h0M75.8,111.4h0M111.9,95.5h0M76,111.6h0M88.5,106.1h0M72.1,114.3h0M104.6,104.6h0M100.9,110.8h0M104.8,101.4h0M127.6,66.9h0M127.7,77.3h0M101.2,97.7h0M93.5,107.7h0M124.3,90.7h0M81.5,114.2h0M124.5,74.4h0M56.5,136.1h0M98.1,114.6h0M117.4,85.9h0M78,119.6h0M121.3,82.4h0M52.5,131.7h0M129,83.4h0M70.2,128.7h0M61.8,134.7h0M121.9,86.6h0M87.1,120.4h0M122.1,89.8h0M125.9,83.4h0M95.4,108.7h0M99.4,99.1h0M53.8,137.8h0M115.1,94.9h0M126.5,84.8h0M130.3,77.1h0M71.6,131h0M126.8,78.4h0M67.6,133.1h0M119.6,85.2h0M80,109.2h0M116,85.1h0M131.1,69.3h0M88.7,109.9h0M96.9,107.7h0M120.2,82.7h0M73,141.7h0M77.3,138.2h0M72.9,129h0M73,127.4h0M81.3,117.4h0M81.5,120h0M73.4,128.6h0M121.1,90.8h0M77.7,122.8h0M69.4,130.6h0M94.4,116.8h0M86.3,120.1h0M117.8,84.6h0M114.2,95h0M57.3,146.6h0M106.7,104.4h0M61.9,145.8h0M58,158.5h0M78.9,124.1h0M107.1,95.5h0M83.2,118.7h0M95.5,111.8h0M130.2,73.8h0M130.3,77.6h0M95.8,109.1h0M99.9,104h0M96,107.6h0M127,83.5h0M88.4,128.3h0M112.1,97.5h0M131.1,77.7h0M88.5,114.1h0M100.7,109.1h0M120.2,83.9h0M84.7,114h0M135.3,76.5h0M112.9,104.9h0M105.2,99.7h0M132,81h0M72.9,131.3h0M121,90.9h0M77.2,124.2h0M68.8,127.4h0M109.8,102h0M60.9,152.3h0M121.5,96.9h0M94.4,118.4h0M106.3,100.4h0M90.6,127.7h0M118.1,90.2h0M102.7,102.1h0M86.7,121.4h0M122.3,91.5h0M91,117.1h0M122.5,89h0M70.5,135h0M66.2,136.3h0M62.1,143.8h0M119.2,94.1h0M87.8,129.3h0M95.9,113.8h0M111.8,102.7h0M87.9,119.8h0M88,117.1h0M134.8,80.2h0M75.9,135.3h0M123.8,86.6h0M75.9,125.3h0M100.9,117.3h0M92.8,117.2h0M101,110.4h0M109,106h0M68.2,139.3h0M132.1,81h0M89.4,127.4h0M97.7,123.1h0M125,84.7h0M139.9,80.7h0M73.7,157.8h0M89.9,122.6h0M73.4,138.2h0M94.3,123.3h0M121.8,100h0M65.1,142.2h0M69.8,149.7h0M110.6,104h0M126.1,94.8h0M86.7,124.9h0M130,97.5h0M99.1,111.6h0M137.7,80.7h0M119.1,114.2h0M137.9,76.7h0M123.1,90.8h0M87.5,124.8h0M70.8,139.2h0M123.4,88.9h0M108,106.1h0M131.2,89.6h0M100.3,113.9h0M116.2,104.1h0M88.5,135.2h0M88.5,131.6h0M92.7,123.6h0M80.4,133.9h0M139.3,84.1h0M88.9,126.2h0M101.3,121.9h0M117.1,99.3h0M105.4,108.4h0M143.6,75.4h0M121.3,103.9h0M85.4,127h0M77.1,133h0M109.9,107.4h0M98.1,122.8h0M73.3,142.6h0M73.3,136.9h0M73.5,140.2h0M110.5,114.8h0M106.7,116.3h0M137.4,91.2h0M73.9,138.8h0M107.2,131.5h0M118.9,102.6h0M118.9,93h0M119.1,102h0M79.2,157.3h0M127,97.9h0M115.5,102.6h0M145.7,81.7h0M96,130h0M142.4,77.4h0M71,148h0M135.2,90.5h0M108.4,115.3h0M96.4,123.7h0M112.6,121.6h0M88.5,134h0M124.4,93.4h0M76.1,142.7h0M120.8,103.2h0M117.1,113.2h0M109.2,106.8h0M76.6,146.9h0M93.4,128.1h0M97.5,120.4h0M105.7,109.7h0M77.1,147.6h0M117.8,105h0M121.8,105.1h0M110.2,115.8h0M140.9,78.6h0M110.5,117.6h0M98.5,127.7h0M94.5,125.9h0M94.6,128.2h0M90.6,128.2h0M78.4,151.7h0M73.9,141.6h0M141.7,99h0M87,138.8h0M111.4,113.9h0M103.7,129.2h0M99.6,124h0M103.9,127.8h0M123.6,99.5h0M87.6,135.1h0M96.1,130.2h0M79.6,148.5h0M146.5,89.1h0M116.4,107.9h0M88.2,136.7h0M116.6,111.1h0M108.9,125.8h0M136,95.9h0M76,149.1h0M109.2,122.8h0M105.4,126.8h0M117.3,106h0M147.6,90.1h0M97.5,129.9h0M80.8,138.1h0M133.1,96.4h0M133.3,97.7h0M133.4,100.1h0M129.7,110.8h0M118.2,114.8h0M86.1,149.6h0M118.5,110.9h0M110.7,117.3h0M126.4,108.7h0M90.7,143.8h0M94.8,134.3h0M111.1,118.3h0M90.8,129.8h0M130.8,118.6h0M99.5,135.4h0M87,136.3h0M99.6,125.3h0M91.4,135.2h0M135.2,100.1h0M150,90.1h0M131.6,107h0M92,142.5h0M116.4,118h0M83.7,141h0M116.6,116.4h0M136,98.8h0M139.9,88.2h0M139.9,105.2h0M154.7,82.2h0M125,115.4h0M93.1,142h0M89,145.3h0M155.1,84.7h0M89.2,144.5h0M155.4,84.6h0M105.8,120.3h0M148.3,90.5h0M81,141.4h0M102.2,132.7h0M85.9,157h0M98.4,139.1h0M114.6,114.7h0M102.6,126.7h0M81.9,148.9h0M134.3,106.4h0M126.8,108.5h0M123,119.5h0M130.9,101.5h0M119.4,126h0M123.4,111.3h0M103.6,137.3h0M131.3,115.7h0M111.9,125h0M142.9,97.3h0M150.4,85.8h0M87.6,147.8h0M139.5,98.1h0M92,143.9h0M116.5,116.1h0M139.7,114.5h0M96.5,139.6h0M84,150.9h0M136.4,103h0M121,108.3h0M140.3,112.8h0M155.3,78.9h0M155.4,82.1h0M129.3,107.1h0M144.6,90.1h0M84.8,142h0M152.2,89.8h0M97.8,142.8h0M159.6,87.8h0M122.2,123.9h0M106.5,146h0M126.3,112.6h0M152.7,101.2h0M106.7,132.5h0M138.2,98.6h0M86.3,162.7h0M94.7,146.8h0M157.1,83.1h0M107.3,132.4h0M157.3,82.9h0M153.6,100.3h0M142.7,104h0M150.3,96.4h0M146.7,96.7h0M120,128.8h0M157.9,87.2h0M108.3,142.2h0M100.2,145.5h0M136,113.7h0M96.3,149.2h0M100.5,144.6h0M132.5,105.4h0M132.6,106.4h0M96.7,148.2h0M121.2,128.4h0M117.3,117.6h0M105.4,142.7h0M121.5,129.6h0M117.6,121.7h0M144.8,97.3h0M148.6,95.4h0M129.8,119h0M106,138h0M114.3,133.8h0M134,105.7h0M114.5,128.7h0M106.5,142.7h0M153,99.6h0M126.7,119.5h0M153.4,90.7h0M156.9,108.4h0M94.6,147.8h0M103,139.2h0M146.2,116.9h0M95,149.9h0M161.3,84.7h0M165,85.2h0M123.8,122.7h0M108,146.8h0M91.4,155.9h0M154.6,89.6h0M165.6,84.1h0M147.3,111.4h0M100.1,135.6h0M108.6,141.2h0M104.6,145.3h0M155.2,96.3h0M140.4,110h0M117.1,131.7h0M166.5,81.8h0M133.1,117.3h0M133.2,122.5h0M133.3,128.5h0M109.6,136.3h0M159.7,101.1h0M93.2,151.8h0M137.7,113.8h0M118.2,137.5h0M106.1,136.1h0M114.4,131.5h0M167.6,88.3h0M167.7,88.7h0M157,96.9h0M110.8,137.6h0M149.8,114.8h0M127.1,122.3h0M146.3,110.8h0M150.2,109.1h0M168.7,81.4h0M150.6,91.2h0M115.7,140.7h0M111.8,140.2h0M131.8,110.8h0M95.5,162.4h0M139.7,114.4h0M95.6,150.6h0M162.3,91.3h0M104.4,160.1h0M124.6,121.8h0M120.8,135.3h0M100.4,149.6h0M166.5,86.9h0M166.3,106.9h0M159.4,97.4h0M148.4,115.6h0M129.4,128.1h0M156.2,95.3h0M129.6,124.3h0M152.6,106.6h0M113.9,138.8h0M156.5,103.5h0M145.5,108.7h0M164,97.7h0M118.4,139.1h0M114.5,147.1h0M106.3,144.7h0M102.3,153.6h0M122.9,126.9h0M153.8,103.5h0M98.4,145.8h0M102.8,150h0M146.6,114.3h0M158,95.7h0M146.9,112.3h0M127.7,135.7h0M111.6,140.3h0M131.8,138h0M135.9,115.8h0M172.9,95.9h0M162.4,98.9h0M128.4,128.7h0M140.1,122.1h0M120.6,136.1h0M166.5,95.6h0M144.3,115.8h0M100.5,166.6h0M113,152.6h0M167,88.5h0M113.2,142.8h0M125.5,146.6h0M174.4,91.2h0M174.4,94.7h0M171.1,92.5h0M164,95.6h0M130,128.9h0M134,123.7h0M126.3,135.6h0M149.6,112.7h0M110.2,141.7h0M171.9,90.6h0M118.7,136.5h0M126.9,120.5h0M142.6,113.1h0M127.1,135.1h0M127.2,135.6h0M131.3,129.6h0M146.9,113.8h0M165.6,100.1h0M127.7,139.6h0M135.7,130h0M119.9,136.8h0M173,101.5h0M124.2,140h0M173.4,94.9h0M169.8,102.9h0M116.5,155.7h0M136.5,129.3h0M163.1,100.2h0M136.8,120.4h0M148.4,110.1h0M163.4,103.3h0M125.2,131.2h0M160,103.4h0M174.4,99.8h0M125.6,141.4h0M145.2,123.3h0M178.3,98.8h0M145.5,118.1h0M168.1,94.2h0M109.9,157.5h0M160.8,110.7h0M149.8,117.5h0M126.5,138.3h0M118.5,141.9h0M154,105.5h0M122.8,136.2h0M179.7,86.4h0M127.1,129.5h0M172.5,105h0M131.3,130h0M150.7,124h0M169.5,98.5h0M176.7,93.6h0M162.4,107.2h0M165.9,116.4h0M139.9,126.5h0M132.2,128.4h0M162.8,108.3h0M147.9,120.7h0M120.5,155.1h0M151.9,125h0M112.5,153.5h0M140.7,129.2h0M129,135.9h0M174.5,98.7h0M108.7,149.3h0M163.8,109.5h0M113.2,158.3h0M121.5,147.8h0M133.7,140h0M129.8,144.3h0M141.7,132.1h0M141.8,140.7h0M130.2,144.9h0M149.7,130.6h0M183,88.7h0M122.5,136.5h0M138.6,127.7h0M154,124h0M176.3,96.1h0M118.9,152h0M127.1,139.1h0M115,157.8h0M127.4,138.6h0M135.5,133.1h0M154.9,113.7h0M155,117.3h0M139.8,130h0M155.3,116.2h0M143.9,128.9h0M111.8,161.8h0M144.1,128.1h0M128.4,147.3h0M170.5,112.1h0M156,111.2h0M148.4,129.1h0M163.6,112h0M178.3,97.6h0M137.1,134.7h0M160.2,121.9h0M117.1,150.1h0M167.7,121.7h0M113.3,165.5h0M160.8,114.6h0M117.6,160.5h0M175.6,102h0M153.7,112.2h0M161,128.4h0M138.3,141h0M118.3,162.7h0M161.3,129.3h0M165.2,121.7h0M122.7,151.2h0M138.8,145.1h0M131.1,139.3h0M127.1,154.5h0M173.4,99.1h0M154.9,121.8h0M184.4,90.4h0M147.3,138.9h0M177.2,108h0M177.5,102.7h0M147.7,137.9h0M119.9,147.6h0M177.5,114.8h0M128.3,146.3h0M188.6,95.3h0M148.3,131.8h0M128.7,151.2h0M181.8,105.6h0M167.5,115h0M152.7,121.5h0M185.9,95.4h0M182.6,93h0M125.3,157.3h0M157,122.1h0M129.6,160.1h0M186.5,95.3h0M141.8,142.9h0M125.9,147h0M190,102.1h0M130.3,144.9h0M176.5,96.9h0M150.3,130h0M161.8,121.9h0M142.7,132.5h0M176.6,113.9h0M169.7,108.2h0M169.7,110.8h0M139.2,140.3h0M162.4,126.3h0M139.4,144.2h0M184.6,102.2h0M119.4,163.3h0M174.1,109.6h0M163.2,114.6h0M132,160.9h0M192.4,88.8h0M185.3,100.3h0M188.8,104.1h0M163.7,117.8h0M182.2,99.6h0M148.5,143.1h0M160.2,126.7h0M164.1,119.4h0M164,132.5h0M171.7,117.1h0M125.2,162.4h0M145.5,134.4h0M190.1,98.4h0M186.6,104.8h0M149.6,143.9h0M179.8,105.4h0M157.6,127.2h0M153.9,131.9h0M165.4,122.8h0M126.3,164.3h0M146.5,135.2h0M187.6,100h0M154.3,150h0M195,90.9h0M158.5,132.9h0M166.1,131.2h0M135.3,154.1h0M184.6,108.5h0M143.5,147.6h0M151.4,139.9h0M178,105h0M159.3,133.2h0M188.9,100.2h0M132.1,164.4h0M132.2,151.3h0M185.7,102.5h0M182.4,100.5h0M171.2,126.3h0M152.6,131.3h0M192.9,108h0M137,152.4h0M124.9,162.3h0M186.6,100.8h0M175.3,134.4h0M137.5,145.5h0M141.5,156.6h0M194.1,96.5h0M179.9,111.7h0M190.9,97.2h0M146,143.6h0M154,137.6h0M187.6,101.7h0M197.9,104h0M130.4,162.7h0M184.3,106.7h0M165.7,143h0M146.9,144.2h0M169.9,130h0M166.4,122.8h0M151.2,135.8h0M139.4,151.5h0M195.8,97.1h0M127.4,167.6h0M127.5,160h0M185.2,116.8h0M163.2,143.6h0M178.3,123.5h0M128,164h0M152.4,130.7h0M197,89.5h0M148.5,148.1h0M156.4,145.4h0M168,126.3h0M190,107.3h0M149,147.1h0M157,137.2h0M183.2,115.2h0M161.1,130.6h0M161.2,131.1h0M183.5,115h0M145.6,169h0M149.9,145.9h0M176.8,114.4h0M201.6,100.6h0M202.1,90h0M191.4,110.2h0M173.4,124.8h0M142.7,149.2h0M173.6,125.2h0M138.9,162.7h0M195.6,101.6h0M139.1,158.6h0M166.6,130.7h0M163,134.3h0M195.9,108.3h0M163,146.5h0M182,113.6h0M196.3,107.4h0M196.6,101.5h0M167.3,140.6h0M171.3,129.7h0M167.9,121.1h0M175.4,122.1h0M152.4,161.1h0M197.2,103.1h0M186.6,114.6h0M204.4,96.1h0M160.8,135.4h0M137.1,168h0M190.8,107h0M179.8,125.7h0M153.5,146.4h0M169,133.9h0M205.5,88.3h0M176.6,129.8h0M161.5,153.7h0M191.5,112.6h0M191.7,109h0M142.4,156.8h0M150.4,165.5h0M142.6,167.6h0M181.2,124.9h0M134.8,157.8h0M170.2,136.4h0M159.1,137h0M199.6,104.6h0M181.9,118.8h0M155.4,148h0M192.7,118.9h0M167.3,131.9h0M182.3,123.3h0M207.2,100.9h0M207,109.9h0M152.2,154.2h0M144.4,153.8h0M171.9,127.1h0M194,107.7h0M207.6,108.3h0M186.8,122.1h0M168.5,135.6h0M179.7,128.6h0M179.9,127.4h0M137.2,171.1h0M194.7,111.2h0M205.4,100.7h0M180.7,115h0M180.6,121.6h0M184.3,122.9h0M191.5,120.3h0M158.1,146.9h0M146.4,152.2h0M195.5,115.1h0M150.6,151.9h0M181.2,131.9h0M185.1,124.2h0M173.9,145h0M151.1,156h0M206.9,100h0M174.5,132.5h0M203.7,103.6h0M196.6,115h0M174.7,140h0M178.6,134.5h0M178.9,127.7h0M190,119.3h0M144.1,165.7h0M186.7,117.6h0M171.4,156.5h0M211.6,97.4h0M156.5,157.5h0M186.9,127.1h0M187.2,123.4h0M176.1,138.9h0M205.4,102.6h0M161.2,145.1h0M180.5,122.9h0M205.7,103h0M157.5,156h0M198.3,127.8h0M176.8,142.5h0M212.7,105.3h0M210,93.1h0M191.9,126h0M154.3,159.4h0M162.4,146.6h0M192.1,131.1h0M203.5,103.6h0M188.9,128.2h0M158.8,159.8h0M210.7,100.3h0M174.3,148.5h0M200.1,118.5h0M193.6,109h0M178.7,132.7h0M186.2,129.9h0M143.7,174.6h0M186.3,134.3h0M197.1,127.1h0M163.7,166.4h0M194.1,122.5h0M205,107.1h0M212.3,94.2h0M179.7,137.1h0M179.7,141.7h0M179.8,141.7h0M153.1,159.5h0M187.7,125.7h0M195.2,116h0M184.3,128.1h0M191.7,125.2h0M188.3,122.4h0M153.8,165.5h0M180.9,137.4h0M199.3,120.1h0M154.3,155.6h0M199.4,122.3h0M203.4,110.5h0M213.9,101.9h0M150.6,169.6h0M162.7,152.4h0M210.7,109.2h0M170.8,141.8h0M182.2,135.9h0" fill="none" stroke="#ed1c24" stroke-width="4.8" stroke-linecap="round"/>
<g fill-opacity="0.95"><path fill="#bf375d" d="M110.4,42.4l2.2,7.2 2.1-7.3 2.3,6.6 2.1-5.7 2.2,9.1 2.2-13.6 2.2,20.6 2.2-1.7 2.2,4.4 2.2-12.6 2.2,8.1 2.2-3.5 2.2,.6 2.3,.3 2.1,11.5 2.3-9.5 2.2,4.1 2.2,1.2 2.3,.7 2.3-8.5 2.1,11.7 2.4-10.9 2.3,.9 2.1,7.7 2.3-2.2 2.1,9.9 2.7-19.1 2.2,5.2 1.9,16.2 2.8-22 2.1,11.3 2.1,7.6 2.5-7.3 2.4-2.4 2,8.9 2,11.6 2.7-10.7 2.1,5.6 2.4-3.1 2.4-.3 2,9.3 2.8-13.3 2.5-2.4 2.1,5.7 2.3,4 2.2,2.6 2.6-5.1 2.1,3.8-.6,15.5-2.1-3.7-2.6,5.1-2.2-2.7-2.2-3.9-2.2-5.6-2.4,2.3-2.8,13-2-9.1-2.3,.3-2.5,3-2.1-5.5-2.6,10.5-2-11.4-2.1-8.9-2.3,2.4-2.5,7.1-2.1-7.4-2-11.2-2.8,21.7-1.9-16-2.2-5.2-2.6,18.8-2.1-9.7-2.3,2.2-2.1-7.7-2.3-.9-2.4,10.8-2.1-11.6-2.3,8.4-2.2-.8-2.2-1.2-2.2-4-2.3,9.4-2.1-11.4-2.2-.3-2.2-.7-2.3,3.5-2.1-8-2.2,12.4-2.2-4.4-2.2,1.7-2.2-20.4-2.1,13.5-2.2-9-2.2,5.6-2.2-6.6-2.1,7.2-2.2-7.1z"/><path fill="#b53263" d="M106.6,41.2l2.2,8.5 2.1-13.5 2.3,11.4 2.1-2.5 2.3,7.9 2.2-2.4 2.1-5.9 2.3,1.7 2.2-.3 2.2,10 2.2-10 2.2,6.9 2.3-.1 2.2-5.2 2.2,13.1 2.2-.5 2.3,.4 2.2-1.5 2.3-1.6 2.2,9.4 2.3-4.2 2.2,1.2 2.4-6.4 2.1,7.2 2.3-1.1 2.2,4.8 2.4-1.9 2.2,1.4 2.3,1.7 2.4-5 2.4-2.5 2,14 2.5-11.6 2.4-.5 2.1,7.3 2.6-8.3 2.4-3.3 1.9,14.9 2,12.5 2.7-12.1 2.2,5 2.8-12.9 2.1,8.8 2.2,4 2.5-4.2 2.3,3.9 2.1,5.4 2.4-1.8-.7,15.6-2.3,1.7-2.1-5.3-2.3-3.9-2.5,4.2-2.2-4-2-8.7-2.8,12.7-2.2-5-2.7,12-1.9-12.4-1.9-14.7-2.4,3.3-2.6,8.1-2.1-7.2-2.3,.4-2.6,11.5-2-13.8-2.3,2.4-2.4,4.9-2.3-1.7-2.2-1.3-2.3,1.8-2.2-4.7-2.3,1-2.1-7.1-2.4,6.3-2.2-1.2-2.3,4.1-2.2-9.2-2.2,1.5-2.3,1.5-2.2-.5-2.2,.5-2.2-12.9-2.2,5.1-2.2,.1-2.2-6.9-2.2,9.9-2.2-9.9-2.2,.3-2.2-1.7-2.2,5.8-2.2,2.3-2.2-7.7-2.2,2.4-2.2-11.3-2.1,13.3-2.2-8.4z"/><path fill="#bf375d" d="M102.8,49.5l2.3,14.1 2.1-7.7 2.2-3.5 2.1-1.1 2.3,5.9 2.1-17.1 2.3,12.9 2.2,2.2 2.2-3 2.2,6.4 2.2,9 2.3-5.5 2.2-9.8 2.2,10.3 2.3-3.3 2.2-1.5 2.3-2.3 2.2,4.5 2.2,11.1 2.3-9.2 2.4-6.3 2.3-3.3 2,27.4 2.3-8.8 2.3-.2 2.5-10.6 2,14.8 2.5-10.8 2.1,14 2.6-14.9 2.1,8.8 2.4-1.9 2.4-4.5 2.3-.8 1.9,17.8 2.8-18.6 2.2,8.7 2.1,6.7 2.3,2.2 2.3,2 2.4-1.9 2.3,1.8 2.2,5.8 2.6-6.5 2.2,4.1 2.3,4.2 2.9-14.7 1.9,8.6-.6,15.7-1.9-8.6-2.9,14.5-2.2-4.1-2.2-4.1-2.6,6.4-2.2-5.8-2.2-1.8-2.4,1.9-2.3-2-2.3-2.1-2.1-6.7-2.2-8.6-2.7,18.4-1.9-17.6-2.4,.8-2.4,4.3-2.3,1.9-2.1-8.6-2.6,14.6-2.1-13.8-2.4,10.6-2.1-14.6-2.4,10.5-2.3,.2-2.3,8.6-2-27-2.3,3.2-2.3,6.2-2.3,9-2.2-11-2.2-4.4-2.2,2.2-2.3,1.5-2.2,3.2-2.2-10.1-2.2,9.7-2.3,5.3-2.2-8.9-2.2-6.3-2.2,2.9-2.2-2.1-2.2-12.8-2.1,16.9-2.2-5.8-2.2,1-2.2,3.4-2.1,7.6-2.3-13.9z"/><path fill="#b53263" d="M98.9,53.2l2.2-5.3 2.2,9.1 2.2-.9 2.3,2.8 2.1-2.1 2.3,5.1 2.1-10.4 2.3,4.6 2.2,7.5 2.3,8.9 2.2-17.2 2.2-3.1 2.2,1.4 2.3,14.3 2.2-.6 2.3,2 2.3-13 2.2,7.7 2.2,6.4 2.3-3.7 2.3-1 2.2,2.3 2.4-6.4 2.3,1.9 2.1,13 2.5-14.6 2.3,2.9 2.1,10.2 2.3-.1 2.4-1.9 2.2,3.1 2.2,7 2.5-9.8 2.5-3.7 1.9,19.3 2.6-11.3 2.4-1.1 2.2,4.3 2.3,.8 2.4-1.3 2.4-.1 2.6-9 2.3,5.8 2.3,1.6 2.3,2.5 2.2,6 2.6-5.1 2.4-4.8-.6,15.9-2.4,4.7-2.6,5-2.1-6-2.3-2.5-2.3-1.5-2.2-5.7-2.7,8.8-2.3,.1-2.4,1.2-2.3-.8-2.2-4.3-2.4,1.1-2.6,11.1-1.9-19-2.4,3.6-2.5,9.7-2.2-6.9-2.2-3.1-2.3,1.8-2.3,.1-2.2-10.1-2.2-2.9-2.5,14.4-2.1-12.8-2.3-1.9-2.3,6.3-2.2-2.3-2.3,1-2.3,3.7-2.2-6.4-2.2-7.7-2.3,12.9-2.2-2-2.3,.6-2.2-14.1-2.2-1.4-2.2,3-2.2,17-2.2-8.9-2.3-7.4-2.2-4.6-2.1,10.3-2.3-5-2.1,2-2.2-2.7-2.2,.8-2.3-8.9-2.1,5.1z"/><path fill="#bf375d" d="M95.1,59.5l2.2,5.4 2.1-8.1 2.3,6.6 2.2-.4 2.2-.8 2.2-2.2 2.2,.6 2.2-8.5 2.3,23.7 2.2-8.2 2.3,4.1 2.2-.7 2.2-3.1 2.3,4 2.2-7.3 2.3,9.8 2.3-16.6 2.2,2.5 2.3,12.2 2.2-3 2.4-5.2 2.2,8.4 2.3-7.4 2.2,15.4 2.3-3.9 2.4-6.5 2.2,6.4 2.3,4.3 2.4-8.4 2.5-8.4 2.1,14.5 2.5-8.9 2.1,12.7 2.6-12.9 2.1,10.7 2.2,7.9 2.4-2.9 2.6-11.5 2.3,2.5 2.4-1.3 2.2,8.5 2.4-1.9 2.1,11.6 2.3,1.8 2.6-5.9 2.6-6.7 2.2,6 2.6-8.2-.6,15.9-2.5,8.1-2.2-5.9-2.6,6.5-2.6,5.8-2.3-1.7-2-11.5-2.4,1.8-2.2-8.4-2.4,1.3-2.3-2.5-2.6,11.4-2.4,2.8-2.1-7.9-2.2-10.5-2.5,12.7-2.1-12.5-2.5,8.7-2.1-14.3-2.4,8.3-2.4,8.2-2.3-4.3-2.2-6.3-2.3,6.5-2.4,3.8-2.1-15.2-2.3,7.2-2.2-8.3-2.3,5.1-2.3,3-2.2-12.1-2.3-2.4-2.3,16.3-2.2-9.6-2.2,7.1-2.3-4-2.2,3.1-2.2,.7-2.2-4.1-2.2,8.1-2.3-23.4-2.2,8.4-2.2-.6-2.2,2.1-2.1,.8-2.2,.3-2.3-6.5-2.1,8-2.2-5.4z"/><path fill="#b53263" d="M91.2,68l2.1-8.2 2.2-3 2.2,3 2.3,7.1 2.3,8 2.1-7.1 2.3-1.2 2.1-7.6 2.3,13 2.3-.6 2.2-9.4 2.2-2.8 2.3,10.1 2.2,1 2.3,4.9 2.3-.9 2.2-6.9 2.3-5.1 2.3,10.3 2.3-2.7 2.2,8 2.2,12.6 2.5-20.7 2.2,2 2.4-.2 2.2,2.8 2.2,9.5 2.3,3.7 2.4-8.1 2.3,2.7 2.2,10 2.5-12.9 2.3,3 2.6-11.5 1.9,24.1 2.6-14.6 2.2,8.6 2.7-13.3 2.1,11.9 2.3,.1 2.4-.4 2.5-3.1 2.3,2.3 2.5-1.6 2.3,1.5 2.5-2.4 2.3,3.7 2.3,.6-.5,15.9-2.3-.6-2.3-3.7-2.4,2.4-2.4-1.6-2.4,1.7-2.3-2.3-2.5,3-2.3,.4-2.4-.2-2.1-11.7-2.6,13.1-2.2-8.5-2.6,14.3-1.9-23.7-2.5,11.3-2.3-3-2.5,12.7-2.2-9.9-2.3-2.6-2.4,7.9-2.2-3.6-2.2-9.4-2.3-2.8-2.3,.1-2.3-1.9-2.4,20.4-2.2-12.4-2.2-7.9-2.3,2.6-2.2-10.2-2.3,5-2.2,6.8-2.3,.9-2.2-4.9-2.3-1-2.2-10-2.3,2.7-2.1,9.3-2.2,.6-2.4-12.8-2.1,7.5-2.2,1.1-2.1,7-2.3-7.9-2.3-7-2.2-3-2.2,3-2,8z"/><path fill="#bf375d" d="M87.2,66.6l2-12 2.3,6.1 2.4,8.1 2.1-5.7 2.2-1 2.3,3.1 2.2,4.8 2.3,1.9 2.2-1.3 2.2-3.9 2.3,1.6 2.3,4.7 2.2,3.3 2.3,.8 2.2-3.9 2.3,1.7 2.3,5.2 2.3-3.2 2.2-2 2.3,1.7 2.3,11.9 2.4-21.7 2.2,17.5 2.3-5.4 2.3-.1 2.3,4.2 2.4-7.3 2.3,6.6 2.3-1.8 2.3,2.1 2.3,.7 2.3,4.6 2.5-6.6 2.2,5.1 2.5-3.1 2.4-5.5 2.1,13.1 2.4,.4 2,17.2 2.9-21 2.4-2.7 2.1,12.3 2.3,2.4 2.9-17.5 2.3,4.2 2.2,9 2.7-10.9 2.2,3.4-.5,16-2.2-3.4-2.7,10.8-2.2-9-2.2-4.1-2.9,17.2-2.3-2.3-2.1-12.1-2.4,2.5-2.8,20.7-2-16.9-2.4-.4-2.1-13-2.4,5.4-2.4,3.1-2.3-5.1-2.4,6.5-2.3-4.6-2.3-.7-2.3-2.1-2.3,1.8-2.3-6.5-2.3,7.2-2.3-4.2-2.3,.1-2.3,5.3-2.2-17.3-2.4,21.4-2.2-11.8-2.3-1.6-2.2,1.9-2.3,3.1-2.3-5.1-2.2-1.7-2.3,3.8-2.2-.8-2.2-3.2-2.3-4.7-2.3-1.6-2.1,3.8-2.3,1.3-2.2-1.9-2.3-4.7-2.2-3.1-2.2,1-2.1,5.6-2.3-8.1-2.3-6-2,11.8z"/><path fill="#b53263" d="M83.2,70.3l2.2-3.4 2.3,6.3 2.1-5 2.3,6.1 2.2-6 2.4,11.4 2-12.7 2.2-9.5 2.3,11.9 2.4,10.1 2.2-1.2 2.2-11.1 2.3,9.3 2.3,5.7 2.2-11.1 2.3-5.5 2.3,6.1 2.3-.9 2.3,11.3 2.3-2 2.3,.1 2.3-1.5 2.3-3.7 2.3,12.3 2.3-6.1 2.3,3.3 2.3,3.2 2.4-6.3 2.3,2.3 2.3,6.9 2.4-9.7 2.4-3.2 2.2,12.3 2.5-4.9 2.3-1.3 2.4,3.2 2.3,1.3 2.3,5.1 2.1,14.4 2.6-13.2 2.6-6.1 2.2,9.8 2.5-4.5 2.3,1.5 2.4,3.2 2.4-.9 2.3,6.1 2.5-7.1-.5,15.9-2.5,7-2.2-6-2.5,.9-2.3-3.1-2.3-1.6-2.5,4.4-2.2-9.7-2.5,6.1-2.6,13-2.1-14.3-2.3-5-2.3-1.3-2.3-3.2-2.4,1.2-2.4,4.9-2.2-12.2-2.4,3.2-2.4,9.5-2.3-6.8-2.3-2.3-2.3,6.2-2.3-3.2-2.3-3.2-2.3,6-2.3-12.2-2.3,3.6-2.3,1.5-2.2-.1-2.3,1.9-2.3-11.2-2.3,.9-2.3-6-2.2,5.5-2.2,10.8-2.3-5.6-2.3-9.2-2.2,11-2.2,1.1-2.3-9.9-2.4-11.9-2.1,9.5-2,12.4-2.4-11.2-2.1,5.9-2.3-6.1-2.1,5-2.3-6.3-2.2,3.3z"/><path fill="#bf375d" d="M79,65.2l2.3,2.9 2.3,1.8 2.4,8.9 2.3,5.7 2.1-8.5 2.1-5.4 2.3,1.2 2.3,10 2.1-10.6 2.3-2.4 2.4,17.9 2.3-.9 2.2-3.6 2.2-1.9 2.3,4.3 2.3,2.1 2.3-5.3 2.3,6.9 2.3-3.6 2.3-2.3 2.3-.3 2.3-3.1 2.3,9.3 2.3-6.1 2.3,9.6 2.4-11.5 2.2,13.3 2.4-2.9 2.3-1.5 2.3,7.2 2.4-4.3 2.2,12.6 2.5-12.8 2.5-9.2 2.2,11.9 2.4,.2 2.3,7.9 2.4-6.4 2.6-10.2 2.1,16.2 2.3,3.9 2.7-10.5 2.5-4.2 2.1,11 2.7-9.4 2.2,9.6 2.8-13.8 1.8,16.7-.4,16-1.9-16.6-2.8,13.7-2.1-9.6-2.7,9.3-2.1-10.8-2.5,4.1-2.6,10.3-2.3-3.9-2.1-16-2.5,10.1-2.5,6.3-2.2-7.8-2.4-.3-2.2-11.7-2.5,9-2.5,12.6-2.1-12.4-2.4,4.2-2.3-7.1-2.3,1.5-2.4,2.8-2.2-13.1-2.4,11.3-2.2-9.5-2.3,6-2.3-9.2-2.3,3.1-2.3,.2-2.3,2.3-2.3,3.6-2.3-6.9-2.2,5.2-2.3-2.1-2.2-4.2-2.3,1.8-2.2,3.5-2.2,.9-2.4-17.7-2.3,2.4-2.1,10.5-2.3-10-2.3-1.1-2.1,5.2-2.1,8.4-2.3-5.6-2.3-8.8-2.3-1.8-2.2-2.9z"/><path fill="#b53263" d="M75.2,78.1l2-10.1 2.3,5 2.4,5.6 2.1-6.8 2.2,.5 2.4,11.4 2.2-4.7 2.4,10.8 2-14 2.4,7.9 2.2-2.1 2.3,3.6 2.3-5.6 2.3,2.1 2.3,8.7 2.2-6.8 2.3-.6 2.4,10.4 2.3,3.5 2.2-18.1 2.3,5.6 2.4-1.7 2.3-5.1 2.3,17.5 2.3-3.8 2.4-3.1 2.3,5.2 2.4-3.9 2.3-5.8 2.4,4.4 2.3,7.9 2.4-6.6 2.4-1.2 2.2,9.4 2.5-9.5 2.3,8.4 2.3,7.7 2.5-4.7 2.4-1.9 2.3,4.9 2.6-9.7 2.2,12.6 2.3,2.1 2.7-11.1 2.1,15.7 2.8-16.3 2.1,15 2.4-4.2-.5,16.1-2.4,4-2-14.7-2.8,16-2.1-15.5-2.6,10.9-2.4-2-2.1-12.5-2.6,9.5-2.3-4.9-2.4,2-2.4,4.5-2.3-7.5-2.3-8.3-2.4,9.2-2.3-9.2-2.4,1.2-2.4,6.4-2.3-7.8-2.3-4.3-2.3,5.7-2.4,3.8-2.3-5.2-2.3,3.1-2.3,3.8-2.3-17.3-2.3,5-2.3,1.6-2.3-5.5-2.3,17.9-2.3-3.6-2.3-10.2-2.3,.5-2.2,6.7-2.3-8.6-2.3-2-2.2,5.4-2.3-3.5-2.2,2-2.3-7.7-2.1,13.8-2.4-10.8-2.1,4.6-2.4-11.2-2.3-.5-2,6.6-2.4-5.5-2.3-4.9-1.9,9.9z"/><path fill="#bf375d" d="M71.2,85.7l2-9.5 2.3,4.4 2.2-.9 2.3,3.5 2.2-5.3 2.4,8.2 2.2-1.8 2.1-9.2 2.4,13.5 2.2-8.2 2.3,6.1 2.2-5.4 2.3,2.2 2.3,1.8 2.4,3.2 2.2-11.2 2.4,15.2 2.3,.8 2.2-5.9 2.4,12.5 2.3-12.4 2.3,1.9 2.3-1.1 2.4-.4 2.3,2.3 2.3,5.3 2.4,.2 2.3,5.4 2.4-2.6 2.3,4.4 2.4-8.9 2.4,3.5 2.3,3.3 2.5-12.4 2.2,14.6 2.5-5.8 2.4-1.5 2.4,5.4 2.2,8.1 2.4,.8 2.6-7.5 2.4-.8 2.1,16 2.8-18.5 2.4,4.7 2.3,5.4 2.1,12.5 2.4-2.7-.4,16-2.4,2.6-2.1-12.4-2.3-5.3-2.3-4.6-2.8,18.2-2.1-15.8-2.4,.8-2.5,7.3-2.4-.8-2.3-8-2.3-5.3-2.4,1.5-2.4,5.7-2.3-14.5-2.4,12.2-2.4-3.3-2.3-3.4-2.4,8.7-2.3-4.3-2.4,2.5-2.3-5.3-2.3-.2-2.3-5.3-2.3-2.3-2.3,.4-2.4,1.1-2.3-1.9-2.2,12.2-2.4-12.3-2.2,5.7-2.3-.8-2.4-14.9-2.2,11-2.3-3.3-2.3-1.7-2.3-2.2-2.1,5.3-2.4-6-2.1,8-2.5-13.3-2,9-2.2,1.8-2.4-8.1-2.1,5.2-2.3-3.5-2.2,.9-2.3-4.4-2,9.4z"/><path fill="#b53263" d="M66.9,80.3l2.5,12.9 2-8.2 1.8-18.1 2.7,19.7 2-14.9 2.7,25.2 2.1-9.1 2.1-6.9 2.4,4.9 2.3,4.4 2.3,.7 2.2-3.2 2.4,6.6 2.2-4.1 2.5,12.3 2.2-7.8 2.3,2.3 2.2-4.6 2.3-4.8 2.4,10.5 2.3-10.2 2.3,.6 2.4,7.2 2.3-1 2.3-1.2 2.4,12.4 2.3-5.7 2.4,.8 2.3-2.6 2.4-3.1 2.4,3.3 2.4,.5 2.4-3.5 2.3,5.8 2.4,3.5 2.4-6 2.4,6.3 2.3,3.2 2.3,7.9 2.6-8.8 2.2,10.7 2.8-18.8 2.2,8.9 2.5,.2 2.4,2.5 2.5-3.1 2.6-5.6 2,11.8-.4,16.1-2-11.7-2.6,5.6-2.5,3-2.3-2.5-2.5-.2-2.2-8.8-2.7,18.5-2.3-10.5-2.5,8.6-2.3-7.8-2.3-3.2-2.3-6.2-2.5,5.9-2.3-3.5-2.4-5.7-2.3,3.4-2.4-.5-2.3-3.2-2.4,3-2.4,2.5-2.3-.8-2.3,5.6-2.4-12.2-2.3,1.2-2.3,.9-2.3-7.1-2.4-.7-2.2,10.1-2.4-10.3-2.2,4.7-2.3,4.5-2.3-2.3-2.2,7.7-2.4-12.2-2.2,4.1-2.4-6.6-2.2,3.2-2.2-.8-2.3-4.3-2.4-4.9-2.1,6.8-2.1,8.9-2.7-24.8-1.9,14.7-2.7-19.5-1.8,17.8-2,8.1-2.5-12.7z"/><path fill="#bf375d" d="M62.3,70.6l2.5,7.7 2.5,9.8 2.1-2.2 2.2-2.7 2.3,3 2.3-.2 2.4,8.9 2.3-.6 2.3,.2 2-10.1 2.6,13.9 2.1-8.8 2.3,2.2 2.3-2.4 2.4,9.3 2.3-2 2.2-4.1 2.3-.8 2.4,4.4 2.3-1 2.4,4.4 2.3,3.7 2.3-4.8 2.4-2 2.3,5 2.4-5.9 2.3,10.3 2.4-5.4 2.4,9.4 2.3-1.6 2.4-7.9 2.4,6.7 2.4,1.9 2.3,4.1 2.4-2.9 2.5-4 2.5-13.7 2.3,13.9 2.5-10.5 2.2,22.6 2.5-5.7 2.5-8.8 2.3,12.7 2.4-1.4 2.6-6.3 2.5,.3 2.4,1.3 2.2,5.5-.3,16.2-2.2-5.4-2.5-1.4-2.4-.3-2.5,6.2-2.5,1.4-2.2-12.6-2.6,8.7-2.4,5.6-2.2-22.3-2.5,10.3-2.3-13.6-2.5,13.4-2.4,4-2.4,2.7-2.3-4-2.4-1.9-2.3-6.6-2.4,7.7-2.4,1.6-2.3-9.2-2.3,5.2-2.4-10.1-2.3,5.7-2.4-4.9-2.3,2-2.3,4.7-2.3-3.7-2.4-4.3-2.3,.9-2.3-4.3-2.3,.7-2.2,4.1-2.3,1.9-2.4-9.2-2.2,2.3-2.3-2.2-2.2,8.7-2.5-13.7-2,9.9-2.3-.2-2.2,.6-2.4-8.7-2.3,.1-2.3-2.9-2.2,2.6-2.1,2.1-2.5-9.7-2.4-7.6z"/><path fill="#b53263" d="M58.5,86.8l2.3,2.4 2.2,.2 2.4,6.8 2-11.9 2.6,15.2 2-9.3 2.3-.3 2.3,.2 2.2-.2 2.5,7.9 2.2-1.1 2.4,2.1 2.1-6.7 2.4,1 2.1-9.3 2.3,.4 2.5,12.6 2.3-7.3 2.4,12.8 2.3-6 2.4,.9 2.3,1.5 2.3-6.5 2.4,2.4 2.4,6.4 2.4,7.9 2.3-2.7 2.4,.1 2.3,1.1 2.4,7.1 2.4-7.6 2.4,2.3 2.4-9.8 2.4,14.1 2.4-8 2.4,6.9 2.4-4.2 2.4,4.7 2.5-2.6 2.4,1.3 2.5-3.2 2.3,7.1 2.4,4.7 2.7-18 2.1,22.5 2.5-.6 2.5-5 2.4-1-.3,16.2-2.4,1-2.5,4.9-2.5,.6-2-22.1-2.8,17.6-2.3-4.6-2.4-7-2.4,3.1-2.4-1.3-2.4,2.6-2.4-4.7-2.4,4.1-2.4-6.8-2.4,7.8-2.3-13.9-2.5,9.6-2.3-2.2-2.4,7.4-2.3-6.9-2.4-1.1-2.3-.2-2.4,2.7-2.4-7.9-2.3-6.3-2.4-2.4-2.3,6.4-2.3-1.5-2.3-.8-2.3,5.8-2.4-12.6-2.3,7.1-2.4-12.4-2.3-.4-2.2,9.1-2.3-1-2.1,6.7-2.4-2.2-2.2,1.1-2.4-7.7-2.3,.1-2.2-.3-2.3,.4-2,9.1-2.6-15.1-1.9,11.8-2.4-6.7-2.3-.2-2.3-2.4z"/><path fill="#bf375d" d="M54.1,87.4l2.5,6.1 1.8-11.6 2.6,8.7 2.3,1.4 2.4,7.6 2.1-5.1 2.4,3.1 2.1-5.2 2.2-6.2 2.3,2.5 2.6,13.2 1.9-17.5 2.5,5.5 2.6,18.8 2.1-11.6 2.5,8.2 2.1-8.9 2.4,2.4 2.4,6.2 2.3-6.7 2.4,8.9 2.4,3.2 2.2-9.9 2.5,12.6 2.3-9 2.3-5.2 2.4,.2 2.4,11.8 2.4-.7 2.4-1.3 2.4,6.4 2.4-1.2 2.4-.7 2.4-3.9 2.4,8.4 2.4-1.7 2.5-14.8 2.4,3.9 2.3,18.5 2.5-6.7 2.4,2.7 2.2,17 2.8-22.6 2.4,3.3 2.4,1.9 2.5-.4 2.6-5.2 2.2,10.1-.4,16.3-2.1-10-2.6,5.1-2.4,.4-2.4-1.9-2.4-3.3-2.7,22.2-2.3-16.7-2.4-2.6-2.4,6.5-2.3-18.3-2.4-3.8-2.5,14.5-2.4,1.7-2.4-8.3-2.4,3.8-2.4,.7-2.3,1.2-2.4-6.3-2.4,1.2-2.3,.7-2.4-11.7-2.4-.2-2.3,5.1-2.3,8.9-2.4-12.5-2.3,9.7-2.3-3.1-2.4-8.8-2.3,6.6-2.4-6.1-2.3-2.4-2.2,8.7-2.4-8-2.1,11.4-2.6-18.7-2.4-5.4-2,17.3-2.5-13-2.3-2.5-2.2,6.1-2.1,5-2.3-3-2.1,5-2.5-7.5-2.3-1.4-2.5-8.6-1.9,11.4-2.4-6z"/><path fill="#b53263" d="M50,96.4l2.2-3 2.4,4.7 2.2,.9 2-8.3 2.8,16.5 2-10 2.1-7.2 2.6,14.8 2.2-3.7 2.2-6 2.3,4 2.5,5.1 2.1-6.7 2.5,6.5 2.2-2.6 2.4,1.2 2.3-.8 2.4,3.8 2.5,10.3 2.2-3.2 2.4-2.6 2.3,2.6 2.3-3.9 2.4-.7 2.3-3.2 2.4,1.8 2.4,4 2.5,8.5 2.3,3.2 2.4-.4 2.4-1.2 2.4-13.8 2.4,8.1 2.4-1.4 2.4,6.3 2.4-.2 2.5,1.6 2.4-8.5 2.4,14.6 2.5-4.3 2.5-5 2.4-.8 2.4,4.8 2.5,0 2.5-3.3 2.3,12.9 2.6-8.9 2.3,5.6-.3,16.3-2.2-5.6-2.6,8.9-2.3-12.8-2.5,3.3-2.5-.1-2.3-4.7-2.5,.7-2.5,5-2.4,4.2-2.4-14.5-2.4,8.4-2.4-1.6-2.4,.2-2.4-6.2-2.4,1.3-2.4-8-2.4,13.6-2.3,1.1-2.4,.5-2.4-3.2-2.4-8.4-2.4-4-2.3-1.8-2.4,3.2-2.3,.6-2.3,3.9-2.3-2.6-2.3,2.5-2.3,3.1-2.5-10.1-2.3-3.8-2.3,.7-2.4-1.1-2.2,2.5-2.4-6.4-2.2,6.5-2.4-4.9-2.4-4-2.1,5.8-2.2,3.7-2.6-14.6-2.1,7.1-1.9,9.8-2.8-16.3-2,8.2-2.2-.9-2.4-4.7-2.1,2.9z"/><path fill="#bf375d" d="M45.7,100.5l2.4,4.7 2.1-5.6 2.3,1.1 1.8-13.8 2.7,12.6 2.1-6.4 2.7,16.5 2.1-7.8 2.4,6 2.3,.9 2.4,.9 2-12.4 2.6,14.8 2.3-3 2.3-1.4 2.1-6.5 2.6,13.1 2.4,4.5 2.3-2.5 2.2-12.3 2.4,8.1 2.5,7.3 2.3-6.7 2.3,.4 2.5,6 2.2-11.3 2.5,13.2 2.4-5.6 2.3-3.4 2.5,.1 2.4,11.4 2.4-5.4 2.4,6.6 2.4-3.8 2.4,5 2.5-5.3 2.4,3.9 2.5-3.7 2.4,3.8 2.5-12.1 2.4,5.3 2.4,9.7 2.4,5.6 2.6-10.5 2.4,5.8 2.4,12.6 2.6-14.8 2.4,3.5-.3,16.4-2.3-3.5-2.7,14.6-2.3-12.4-2.4-5.7-2.5,10.2-2.4-5.5-2.4-9.6-2.4-5.2-2.5,11.9-2.4-3.7-2.4,3.5-2.4-3.8-2.5,5.2-2.4-4.9-2.4,3.6-2.4-6.5-2.3,5.4-2.5-11.3-2.4-.1-2.3,3.3-2.3,5.5-2.5-13-2.3,11.1-2.4-5.9-2.3-.5-2.3,6.7-2.4-7.3-2.5-7.9-2.1,12-2.3,2.5-2.4-4.5-2.5-12.9-2.2,6.4-2.3,1.3-2.2,3-2.6-14.6-2,12.2-2.3-1-2.3-.9-2.5-5.9-2,7.7-2.8-16.3-2,6.3-2.7-12.4-1.8,13.5-2.3-1.1-2,5.5-2.4-4.6z"/><path fill="#b53263" d="M40.7,87.9l2.9,14.9 2.4,5.4 1.7-15.2 2.6,8.5 2.5,7.4 1.9-12 2.7,13.2 2.4,3.5 2-11.3 2.6,10.8 2.2-4.1 2.3,1.2 2.2-5.9 2.5,8.7 2.3-.1 2.7,18.2 1.9-22.2 2.6,10.6 2.1-8.3 2.3-3.4 2.5,4.4 2.4,3.2 2.4,2 2.3-3 2.4-.3 2.5,8.6 2.3-8.3 2.4,1.8 2.4,4.1 2.4-3.3 2.5,11.8 2.4,.1 2.4,5.4 2.4-14.2 2.4,8.2 2.5,3.8 2.4-4.8 2.5-6.1 2.4,10.3 2.4-3 2.6-8 2.4,8.6 2.5-3.8 2.5,.5 2.5-1.7 2.4,8.9 2.3,11.5 2.4-.2-.2,16.3-2.4,.2-2.3-11.3-2.4-8.9-2.5,1.6-2.4-.4-2.5,3.7-2.4-8.5-2.5,7.9-2.5,2.9-2.4-10.2-2.4,6.1-2.4,4.6-2.4-3.8-2.5-8-2.3,13.9-2.5-5.3-2.3-.2-2.5-11.5-2.4,3.2-2.4-4.1-2.4-1.8-2.3,8.2-2.4-8.5-2.4,.2-2.3,2.9-2.4-1.9-2.4-3.2-2.4-4.4-2.3,3.4-2.1,8.2-2.6-10.5-1.8,21.8-2.7-18-2.3,.2-2.5-8.6-2.2,5.7-2.3-1.1-2.2,4-2.6-10.6-1.9,11.1-2.4-3.5-2.7-13.1-1.8,11.9-2.5-7.3-2.6-8.4-1.7,14.9-2.5-5.3-2.8-14.7z"/><path fill="#bf375d" d="M36.6,98.8l2.3,.5 2.7,12.1 2-7.4 2.4,3.1 2.4,4.4 2.1-6.2 2.5,5.4 2.5,6.4 2.2-.3 2-11.5 2.4,4.6 2.5,5.6 2.2-3.3 2.2-7.9 2.5,7.4 2.2-6.9 2.4,1.5 2.7,16.9 2.3-1.8 2.3-2.9 2.4,1.2 2.4,2.3 2.4,4.9 2.3-5.5 2.4-1.1 2.4,1 2.5,11.5 2.4,.5 2.3-4 2.5,1.7 2.3-10.5 2.5,14.5 2.4-2.5 2.5,3 2.4-2.1 2.4-.3 2.4-8.4 2.5,2.1 2.5,.4 2.4,12 2.5-12.1 2.5,3.1 2.5-2.3 2.5-1 2.4,6 2.4,10.3 2.7-16.1 2.2,16.3-.2,16.4-2.2-16.1-2.6,15.9-2.4-10.2-2.4-5.9-2.5,.9-2.5,2.3-2.4-3-2.5,11.9-2.5-11.9-2.4-.5-2.4-2-2.5,8.2-2.4,.3-2.4,2.1-2.4-3-2.4,2.4-2.5-14.3-2.3,10.4-2.4-1.7-2.3,3.9-2.4-.6-2.5-11.3-2.4-1-2.3,1.1-2.3,5.4-2.5-4.9-2.3-2.3-2.4-1.2-2.3,2.8-2.3,1.8-2.7-16.7-2.3-1.4-2.2,6.7-2.5-7.3-2.1,7.8-2.2,3.2-2.5-5.5-2.4-4.6-2,11.3-2.2,.3-2.5-6.4-2.5-5.3-2,6.1-2.4-4.3-2.4-3.1-2,7.3-2.7-12-2.3-.5z"/><path fill="#b53263" d="M32.3,106.5l2.3,.2 2.4,4.3 2.3,0 2.2-1.6 2.1-5.1 2.8,13.2 2.2-2.9 2.5,5.4 2.1-5.6 2.4,2.5 2.2-2.2 2.3,.4 2.1-7.6 2.8,14 2.2-5.3 2.3-.7 2.5,4.7 2.3-1.3 2.3,.8 2.5,5.4 2.2-6.9 2.5,3.2 2.4,3.8 2.5,2.6 2.3-3.4 2.5,5.1 2.3-4.7 2.6,12 2.2-15.6 2.5,12.8 2.3-10 2.5,2.4 2.5,5.8 2.4,3 2.5,.3 2.4-1 2.5-5.1 2.4,1 2.5,5.4 2.5,8.8 2.4-6.9 2.5-1 2.5-5.1 2.5,2.1 2.5,3.7 2.6-7.9 2.3,17.3 2.4,.2-.1,16.5-2.4-.3-2.4-17-2.5,7.8-2.5-3.7-2.4-2.1-2.5,5-2.5,1-2.5,6.7-2.4-8.6-2.5-5.4-2.4-1-2.4,5-2.4,1-2.5-.4-2.4-2.9-2.5-5.7-2.4-2.5-2.3,9.9-2.5-12.6-2.2,15.3-2.6-11.8-2.3,4.6-2.4-5-2.4,3.3-2.4-2.6-2.4-3.8-2.4-3.1-2.2,6.8-2.5-5.5-2.3-.8-2.3,1.3-2.5-4.6-2.3,.7-2.2,5.2-2.7-13.9-2.1,7.5-2.3-.4-2.2,2.1-2.4-2.4-2.1,5.4-2.5-5.3-2.1,2.8-2.8-13-2.1,5.1-2.2,1.5-2.2,0-2.5-4.3-2.2-.2z"/></g>
<g fill-opacity="0.93"><path fill="#942571" d="M124.3,81.5l.4-8.5 3.7-3.1-.4-.1z"/><path fill="#9c286e" d="M170.6,84.9l.6-6.4 3.2,16.2-.2-12.1zM194.6,88l.5-.9 2.8,16.9 .1-18.3z"/><path fill="#a02a6c" d="M105,48.6l.5,10.7 3.9,8.7-.3,16.2zM170.2,82.1l.4,2.8 3.6-2.3-.5-.1zM171.2,78.5l.5-2.2 3.4,4.9-.7,13.5zM193,92.1l.5,.1 3.6-6.5-.6,3.1zM212.5,100.2l.5-2.6 3.6-6.9-.6,2.8z"/><path fill="#a82d69" d="M108.7,71l.4-2.9 3.7-3-.5-11.1zM164.1,70.7l.2,13.4 3.4,4.6-.2-11.9zM192.6,90.1l.4,2 3.5-3.3-.2-6.9zM195.1,87.1l.8-12.2 3.1,8.5-1.1,20.6zM197.2,78.6l0,14.6 3.4-.9-.4-2.5zM197.2,93.2l.5,.2 3.9-18.1-1,17zM209.3,95.2l1.2-18.2 2.2,28.3 .3-18.2zM210.5,77l-.1,15.9 3.3-1-1,13.4z"/><path fill="#ae2f66" d="M111.6,54.4l.5,11.8 3.7-4.1-.4,3.8zM123.8,35.8l.5,45.7 3.7-11.7-.4-.1zM124.7,73l.5-16.3 3.7,11-.5,2.2zM126.5,75.4l.4-14.3 3.7,10-.4-14.6zM147.6,87.4l.7-20.6 3.6-5.4-.5,6.7zM149.6,70.2l.3,9.8 3.7-3.1-.3-13.9zM163.1,74.9l.5-3 3.4,6.3-.5,3.6zM164.3,84.1l.8-23.6 3.4,9.6-.8,18.6zM169.8,81.2l.4,.9 3.5,.4-.1-13.4zM171.7,76.3l.2,14.3 4.1-27.8-.9,18.4zM192.6,74.9l0,15.2 3.7-8.2-.7,6.7zM193.5,92.2l1-16.6 3.1,10.5-.5-.4zM194.5,75.6l.1,12.4 3.4-2.3-.4,.4zM197.7,93.4l.7-9.3 3.3,5-.1-13.8zM198.4,84.1l.4,1.8 3.3,4.5-.4-1.3zM205.3,88.3l.1,12.4 4.3-26.8-1,13.4zM205.4,100.7l.6-5 4-17.7-.3-4.1zM207.1,90.8l.4,1.8 3.5-3.2 0-11.4zM208.6,89.4l.6-2.6 3.6-8.3-1.2,18.9zM210.4,92.9l.7-7.4 3.5-3.8-.9,10.2zM211.6,97.3l.7-5.1 3.9-15.5-.9,11.3zM212.3,92.2l.2,8 3.5-6.7 .2-16.8zM213,97.6l.9-10.4 3.4-1.6-.7,5.1z"/><path fill="#b33164" d="M109.1,68.1l.2-23.1 3.9,13.7-.4,6.4zM114.6,52.4l.5,4.6 3.7,.9-.4,7.1zM115.5,51.5l.5,10.4 3.7,1.1-.4-2.7zM116,61.9l.4-9.3 3.7,7.4-.4,3zM121.2,54.7l.4,7.6 3.8,6.8-.5-12.5zM121.6,62.3l.5-11.9 3.7,12-.4,6.7zM122.5,53.1l.4-5.4 3.8,21.7-.4,1.1zM126,61.3l.5,14.1 3.7-18.9-.4,3.3zM126.9,61.1l.5-6.6 3.7,16.1-.5,.5zM132.7,65.4l.4-4.9 3.7,2.4-.5,6.4zM133.5,69.6l.5-2.2 3.7-2.1-.4-8.7zM136.7,45.2l.4,10.6 3.5,32-.3-18.9zM138.9,69.1l.5-11 3.5,15.8-.4-9.4zM139.4,58.1l.4-3.6 3.6,19.6-.5-.2zM139.8,54.5l.4,6.9 3.6,12.8-.4-.1zM140.2,61.4l.5-.6 3.6,4.9-.5,8.5zM141.6,64.6l.3,12.6 3.8-13.9-.5,1.6zM141.9,77.2l.5,.7 3.8-21.3-.5,6.7zM145.1,74.9l.3,10.1 4-34.1-.6,10.6zM149.1,75.1l.5-4.9 3.7-7.2-.6,8.2zM149.9,80l.6-10.6 3.9-20.7-.8,28.2zM155.3,80.7l.5-6.9 3.8-13-.6,9.5zM157.1,78.1l.6-5.3 3.6-3.9-.3-7.9zM157.7,72.8l.3,10 3.9-22.3-.6,8.4zM160,69.9l.3,8 3.5,3.6-.2-15.5zM160.3,77.9l.6-11.9 3.6-.5-.7,16zM162,58.1l.2,17.7 3.4,8.3-.3-8.5zM163.6,71.9l.5-1.2 3.4,6.1-.5,1.4zM169.5,73.3l.3,7.9 3.8-12.1-.5-.4zM173,80.7l.1,17.2 4.5-44.3-.9,18.3zM174.7,67.6l-.1,26.5 4-24.6-.5,.6zM174.6,94.1l1-24.9 3.6-3.6-.6,3.9zM177.2,78.1l.6-4.7 3.3,5.9-.3-5.8zM177.8,73.4l.4,3.2 3.3,8-.4-5.3zM178.2,76.6l.4,1.4 3.7-10.3-.8,16.9zM183.8,73.2l.6-5 3.1,12.8-.6,4.2zM185.3,69.5l0,17.5 3.5-3.7 0-13.9zM185.3,87l.6-6.2 3.8-12.9-.9,15.4zM187,59.8l-.3,27.8 3.4,1.2-.4-1.9zM186.7,87.6l1.3-32.7 2.6,32.3-.5,1.6zM188.9,72.9l.4,1.9 3.1,14-.4-1.3zM190.3,92l.8-12.9 3.5-1.4-.5-.9zM191.1,79.1l.1,11.4 4-18.5-.6,5.7zM191.2,90.5l.7-5.7 3.6-6.9-.3-5.9zM191.9,84.8l.7-9.9 3,13.7-.1-10.7zM198.8,85.9l1-15.2 2.8,19.2-.5,.5zM199.8,70.7l-.2,20.4 3.9-14.6-.9,13.4zM199.6,91.1l.9-13.1 3,12.6 0-14.1zM200.5,78l.6-3.6 2.6,22.1-.2-5.9zM201.1,74.4l.4,1.7 3.3,3.4-1.1,17zM204.4,76l.6-3.7 2.1,33.2 .1-15.9zM205,72.3l-.2,17.7 4.2-23.7-1.9,39.2zM204.8,90l.5-1.7 3.4-1 .3-21zM206,95.7l.6-1.9 4.1-21.1-.7,5.3zM206.6,93.8l.5-3 3.9-12.8-.3-5.3zM207.5,92.6l1-12 3.5-5.1-1,13.9zM208.5,80.6l.1,8.8 3,8 .4-21.9zM209.2,86.8l.1,8.4 3.7-8.1-.2-8.6zM212,74.6l-.4,22.7 3.7-9.3-.1-9.7z"/><path fill="#bb3560" d="M105.5,59.3l.2-33.7 4,25.7-.3,16.7zM108,39.7l.7,31.3 3.6-17-.4,.4zM112.1,66.2l.3-23.3 3.8,11.4-.4,7.8zM112.9,58.2l.5,6.8 3.7-14.8-.5-10.2zM114.2,53l.4-.6 3.8,12.6-.5-14.5zM115.1,57l.4-5.5 3.8,8.8-.5-2.4zM116.4,52.6l.4,.7 3.8,3.9-.5,2.8zM117.7,63.6l.5,.6 3.7-15.8-.5,8.5zM122.1,50.4l.4,2.7 3.8,17.4-.5-8.1zM122.9,47.7l.5-1.1 3.7,20.1-.4,2.7zM125.2,56.7l.4-9.1 3.7,22.6-.4-2.5zM125.6,47.6l.4,13.7 3.8-1.5-.5,10.4zM127.4,54.5l.4-4.3 3.7,4.9-.4,15.5zM128.7,69.5l.4-8.4 3.8-11.3-.5,4zM130,49.7l.5,6.5 3.6,13-.4-6.5zM130.5,56.2l.4-11 3.7,26.4-.5-2.4zM130.9,45.2l.5,11.7 3.6,7.7-.4,7zM131.4,56.9l.4-6.1 3.6,21.1-.4-7.3zM132.3,46.2l.4,19.2 3.6,3.9-.4-14.5zM133.1,60.5l.4,9.1 3.8-13-.5,6.3zM134,67.4l.5-8.9 3.6,3.2-.4,3.6zM134.5,58.5l.3,17.2 3.8-25.9-.5,11.9zM134.8,75.7l.5-8.3 3.7-7-.4-10.6zM137.1,55.8l.5,.8 3.7-3.6-.7,34.8zM140.7,60.8l.5-6.6 3.5,20.2-.4-8.7zM141.2,54.2l.4,10.4 3.6,.3-.5,9.5zM142.4,77.9l.6-21.6 3.6,3.5-.4-3.2zM143,56.3l.3,10 3.7-1.1-.4-5.4zM143.3,66.3l.5,3.6 3.8-23.8-.6,19.1zM143.8,69.9l.4,.7 3.6,.2-.2-24.7zM144.2,70.6l.5-9.2 3.7-1.9-.6,11.3zM144.7,61.4l.4,13.5 3.7-13.4-.4-2zM145.4,85l.7-25.6 3.7-5.4-.4-3.1zM146.1,59.4l.4,9.5 3.5,7-.2-21.9zM146.5,68.9l.5-8.2 3.6-1-.6,16.2zM147.4,62.8l.2,24.6 3.8-19.3-.2-19.3zM148.9,50.6l.2,24.5 3.6-3.9-.4-2.8zM150.5,69.4l.4,4.3 3.7-12.7-.2-12.3zM150.9,73.7l.4,.6 3.8-15.8-.5,2.5zM151.3,74.3l.7-22.6 3.4,19.7-.3-12.9zM152,51.7l.3,17.7 3.7-7.3-.6,9.3zM152.3,69.4l.5-5.8 3.5,10.7-.3-12.2zM152.8,63.6l.4,1.1 3.7-4.9-.6,14.5zM153.7,64.4l.5-1.1 3.6,1.5-.5,1.8zM154.2,63.3l.3,12.3 3.7-8-.4-2.8zM154.5,75.6l.7-21.2 3.5,10.7-.5,2.5zM155.2,54.4l.1,26.3 3.7-10.4-.3-5.2zM158,82.8l.8-22.4 3.4,5.9-.3-5.8zM159.1,68.3l.4,.2 3.6,.1-.3-7.9zM159.5,68.5l.5,1.4 3.6-3.9-.5,2.6zM162.2,75.8l.7-16.2 3.5,.2-.8,24.3zM162.9,59.6l.2,15.3 3.4,6.9-.1-22zM166.5,86.9l.6-8.4 4-21-.6,2.6zM167.1,78.5l.3,11.6 4.3-43.2-.6,10.6zM167.4,90.1l.7-15.6 3.8-13.6-.2-14zM171.9,90.6l.8-19 3.7-8.6-.4-.2zM172.7,71.6l.3,9.1 3.7-8.8-.3-8.9zM173.1,97.9l1.2-35.7 3.3,10.7 0-19.3zM176.9,72.3l.3,5.8 3.6-4.6-.4-4zM178.6,78l.7-8.9 3.2,10.2-.2-11.6zM179.7,71.8l.5-1.7 3.1,12.2 .1-20.8zM180.2,70.1l.6-5.2 3.2,8.5-.7,8.9zM180.8,64.9l0,18.2 3.8-12.7-.6,3zM183.7,59.1l.1,14.1 3.1,12-.1-11.5zM184.4,68.2l.3,6.5 3.4,1.5-.6,4.8zM185.9,80.8l1.1-21 2.7,27.1 0-19zM188,54.9l-.2,24.5 3.2,7.9-.4-.1zM187.8,79.4l.6-4.4 3.6-5.2-1,17.5zM188.4,75l.5-2.1 3.1,14.6 0-17.7zM189.3,74.8l.8-11 2.9,19.3-.6,5.7zM190.4,70.2l-.1,21.8 3.8-15.2-.3-3.2zM195.9,74.9l.4,2.9 3.3,2.6-.6,3zM196.3,77.8l.7-6.6 3.2,5.8-.6,3.4zM197,71.2l.2,7.4 3,11.2 0-12.8zM203.5,87l.9-11 2.8,13.6 .7-31.4zM211.1,85.5l.9-10.9 3.2,3.7-.6,3.4z"/><path fill="#bf375d" d="M107.2,51.6l.4-6.4 3.9,13.7-.6-22.8zM107.6,45.2l.4-5.5 3.9,14.7-.4,4.5zM110.2,49.6l.5,.6 3.8,7.1-.5-13zM116.8,53.3l.4-10.1 3.8,7.3-.4,6.7zM117.2,43.2l.5,20.4 3.7-6.7-.4-6.4zM118.2,64.2l.4,2.3 3.7-29.8-.4,11.7zM118.6,66.5l.4-6.9 3.7-12.1-.4-10.8zM123.4,46.6l.4-10.8 3.8,33.9-.5-3zM128.3,51.6l.4,17.9 3.7-15.7-.4-.6zM129.1,61.1l.5-6.8 3.7,2.4-.4-6.9zM129.6,54.3l.4-4.6 3.7,13-.4-6zM131.8,50.8l.5-4.6 3.6,8.6-.5,17.1zM135.3,67.4l.5-16.8 3.7,6.4-.5,3.4zM135.8,50.6l.5-2 3.6,19.5-.4-11.1zM136.3,48.6l.4-3.4 3.6,23.7-.4-.8zM137.6,56.6l.4,12.5 3.7-9.5-.4-6.6zM138,69.1l.5-20.8 3.7,8.3-.5,3zM138.5,48.3l.4,20.8 3.6-4.6-.3-7.9zM148.3,66.8l.6-16.2 3.4,17.8-.4-7zM153.2,64.7l.5-.3 3.6,2.2-.4-6.8zM155.8,73.8l.5,.5 4-26.3-.7,12.8zM156.9,61.1l.2,17 3.9-17.1-.4-8.6zM158.8,60.4l.3,7.9 3.7-7.6-.6,5.6zM160.9,66l.6-4.2 3.5,3.5-.5,.2zM161.5,61.8l.5-3.7 3.3,17.5-.3-10.3zM165.1,60.5l.5,1 3.4,8.7-.5-.1zM166.7,49.1l-.2,37.8 4-26.8-.6,11zM168.1,74.5l.6-8.1 3.7-6.6-.5,1.1zM169.1,69.6l.4,3.7 3.6-4.6-.3-8.3zM174.3,62.2l.4,5.4 3.4,2.5-.5,2.8zM175.6,69.2l.5-2.5 3.2,10.4-.1-11.5zM176.1,66.7l.7-10.4 3.2,12.2-.7,8.6zM176.8,56.3l.1,16 3.5-2.8-.4-1zM179.3,69.1l.4,2.7 3.7-10.3-.9,17.8zM180.8,83.1l1-24.9 3.3,11.3-.5,.9zM184.7,74.7l.6-5.2 3.5-.1-.7,6.8zM190.1,63.8l.3,6.4 3.4,3.4-.8,9.5zM201.5,76.1l.6-4.4 3.1,8.2-.4-.4zM202.1,71.7l.5,1.1 3.3,2.1-.7,5zM202.6,72.8l.4,1.3 3.3,1.7-.4-.9zM203,74.1l0,14.1 4.1-21.8-.8,9.4zM203,88.2l.5-1.2 4.4-28.8-.8,8.2z"/><path fill="#c63b58" d="M106.3,46.1l.4-1.7 3.9,8.6-.5-7.4zM106.7,44.4l.5,7.2 3.7-15.5-.3,16.9zM111,38l.6,16.4 3.8,11.5-.6-29.2zM112.4,42.9l.5,15.3 3.7-18.2-.4,14.3zM113.4,65l.3-21.2 3.7-10-.3,16.4zM119,59.6l.4-3.7 3.8-17.5-.5,9.1zM119.4,55.9l.5,6.6 3.7-22.9-.4-1.2zM119.9,62.5l.4-3.5 3.7-25.1-.4,5.7zM120.8,62.7l.4-8 3.7,1.9-.4-28.1zM127.8,50.2l.5,1.4 3.7,1.6-.5,1.9zM147,60.7l.4,2.1 3.8-14-.6,10.9zM156.3,74.3l.6-13.2 3.7-8.7-.3-4.4zM165.6,61.5l.4,3.7 3.7-8.7-.7,13.7zM168.7,66.4l.4,3.2 3.7-9.2-.4-.6zM181.8,58.2l0,19.5 4.1-21.7-.8,13.5zM182.9,72.3l.8-13.2 3.1,14.6-.2-9.2z"/><path fill="#cc3f54" d="M109.3,45l.4-13.8 3.8,11.8-.3,15.7zM110.7,50.2l.3-12.2 3.8-1.3-.3,20.6zM113.7,43.8l.5,9.2 3.7-2.5-.5-16.7zM166,65.2l.7-16.1 3.2,22-.2-14.6zM181.8,77.7l.9-17.6 3.5,2.9-.3-7zM182.7,60.1l.2,12.2 3.7-7.8-.4-1.5z"/><path fill="#d04251" d="M105.7,25.6l.6,20.5 3.8-.5-.4,5.7zM109.7,31.2l.5,18.4 3.8-5.3-.5-1.3zM120.3,59l.5,3.7 3.7-34.2-.5,5.4z"/><path fill="#9c286e" d="M141.4,74.5l.3,18.9 3.7-8.4-.3-10.1zM166.5,95.6l.5-6.5 3.6-4.2-.4-2.8zM181.7,93.2l.1,12.4 4.1-24.8-.6,6.2z"/><path fill="#a02a6c" d="M163,86.8l.3,4.7 3.8-13-.6,8.4zM166.2,83l.3,12.6 3.7-13.5-.4-.9zM167,89.1l.3,7.6 3.9-18.2-.6,6.4zM188.9,100.2l.9-13.3 3.2,5.2-.4-2zM202.5,87.5l0,11.5 3.5-3.3-.6,5z"/><path fill="#a82d69" d="M104.7,55.7l.6,18.5 3.8-6.1-.4,2.9zM153.9,85.4l.5,0 3.6-2.6-.3-10zM156.2,86l.4,3.4 3.7-11.5-.3-8zM167.3,96.7l.6-7.9 3.8-12.5-.5,2.2zM187.7,93.1l.5,0 3.7-8.3-.7,5.7zM189.8,86.9l.3,2.4 3.4,2.9-.5-.1zM190.9,97.2l.5-1.3 3.7-8.8-.5,.9zM193.2,96.4l.5,.1 3.5-3.3 0-14.6zM203.8,102.9l.6-3.3 4.1-19-1,12zM205.7,103l.6-2.9 4.2-23.1-1.2,18.2zM209.5,90l.3,4 3.2,3.6-.5,2.6z"/><path fill="#ae2f66" d="M105.3,74.2l.4-2.4 3.6-26.8-.2,23.1zM114.4,74.2l.4-14.2 3.8,6.5-.4-2.3zM120.5,55.6l.5,12.1 3.7,5.3-.4,8.5zM138.3,63.1l.4,8.1 3.7,6.7-.5-.7zM141.7,93.4l.7-27.9 3.7-6.1-.7,25.6zM143.7,64.2l.3,18.4 3.6,4.8-.2-24.6zM144,82.6l.6-13.6 3.7-2.2-.7,20.6zM147.2,74.6l.5,2.3 3.6-2.6-.4-.6zM154.4,85.4l.5-4.7 3.9-20.3-.8,22.4zM155.7,85.9l.5,.1 3.8-16.1-.5-1.4zM163.3,91.5l.9-26.8 3.2,25.4-.3-11.6zM167.9,88.8l.7-12.9 3.3,14.7-.2-14.3zM170.9,77.6l.3,8.8 3.4,7.7 .1-26.5zM181.2,93l.5,.2 3.6-6.2 0-17.5zM187,86.7l.4,.8 3.7-8.4-.8,12.9zM187.4,87.5l.3,5.6 3.5-2.6-.1-11.4zM188.7,89.3l.2,10.9 3.7-10.1 0-15.2zM190.1,89.3l.4,3.3 4-17-1,16.6zM190.5,92.6l.4,4.6 3.7-9.2-.1-12.4zM191.4,95.9l.4,.1 4.1-21.1-.8,12.2zM196,99l.8-11 3.7-10-.9,13.1zM202.1,83l.4,4.5 2.9,13.2-.1-12.4zM202.5,99l1.1-18.3 3,13.1-.6,1.9zM203.9,86l-.1,16.9 3.7-10.3-.4-1.8zM205.9,84.7l-.2,18.3 3.6-7.8-.1-8.4zM206.3,100.1l.4,.1 3.7-7.3 .1-15.9zM206.7,100.2l1-12.3 3.4-2.4-.7,7.4zM208.5,91.4l.7-5.9 3.1,6.7-.7,5.1zM209.2,85.5l.3,4.5 3,10.2-.2-8z"/><path fill="#b33164" d="M104.4,71.5l.3-15.8 4,15.3-.7-31.3zM107.8,58.7l.5,6.1 3.8,1.4-.5-11.8zM113.9,57l.5,17.2 3.8-10-.5-.6zM121,67.7l.4-5.3 3.8-5.7-.5,16.3zM122.3,65.7l.4,1.6 3.8,8.1-.5-14.1zM122.7,67.3l.5-12.5 3.7,6.3-.4,14.3zM124.5,75.8l.4-5 3.8-1.3-.4-17.9zM124.9,70.8l.5-9.5 3.7-.2-.4,8.4zM128.9,65l.5,17.7 3.7-22.2-.4,4.9zM129.4,82.7l.4-19.5 3.7,6.4-.4-9.1zM141,71.9l.4,2.6 3.7,.4-.4-13.5zM144.9,80.8l.5,.9 3.7-6.6-.2-24.5zM145.4,81.7l.6-19.2 3.6,7.7-.5,4.9zM146,62.5l.3,12.9 3.6,4.6-.3-9.8zM146.3,75.4l.6-10.5 3.6,4.5-.6,10.6zM147.7,76.9l.4,6.1 3.9-31.3-.7,22.6zM152.2,74.8l.5,1.1 3.6-1.6-.5-.5zM153.8,55l.1,30.4 3.8-12.6-.6,5.3zM156.6,89.4l.7-18.8 3.6-4.6-.6,11.9zM158,85.1l.5-2.3 3.7-7-.2-17.7zM158.5,82.8l.3,7.6 4.1-30.8-.7,16.2zM164.2,64.7l.3,8.8 3.6,1-.7,15.6zM165.9,76.5l.3,6.5 3.6-1.8-.3-7.9zM169.6,75.1l.7-13.7 2.8,36.5-.1-17.2zM171.2,86.4l.7-13.9 3.7-3.3-1,24.9zM174.6,78.9l.3,6.1 3.7-7-.4-1.4zM178.5,88.2l.3,10.6 4.1-26.5-.2-12.2zM180.3,91.1l.4,1.8 4-18.2-.3-6.5zM180.7,92.9l.5,.1 4.1-23.5-.6,5.2zM181.8,105.6l.9-16.5 4.3-29.3-1.1,21zM186.6,82.5l.4,4.2 3.3,5.3 .1-21.8zM188.2,93.1l.5-3.8 3.9-14.4-.7,9.9zM192.8,93.2l.4,3.2 4-17.8-.2-7.4zM193.7,96.5l1.4-30 2.6,26.9-.5-.2zM195,84.5l.2,6.9 3.6-5.5-.4-1.8zM195.2,91.4l.5,.2 4.1-20.9-1,15.2zM195.7,91.6l.3,7.4 3.6-7.9 .2-20.4zM196.8,88l.1,11 4.2-24.6-.6,3.6zM196.9,99l.3,4.1 4.3-27-.4-1.7zM197.2,103.1l.7-5.4 4.2-26-.6,4.4zM199,91.3l.5-1.1 3.5-2 0-14.1zM199.5,90.2l.8-9.9 3.2,6.7-.5,1.2zM200.7,98.5l.9-13.6 3.2,5.1 .2-17.7zM201.6,84.9l.5-1.9 3.2,5.3-.5,1.7zM203.6,80.7l.3,5.3 3.2,4.8-.5,3zM204.4,99.6l1.2-19.7 3,9.5-.1-8.8zM209.8,94l.7-6.1 3.4-.7-.9,10.4z"/><path fill="#bb3560" d="M101.1,48.3l.6,14.1 3.8-3.1-.5-10.7zM101.7,62.4l.7,18.4 3.3-55.2-.2,33.7zM106.5,63.9l.4-4.2 3.8-9.5-.5-.6zM108.3,64.8l.3-5.7 3.8-16.2-.3,23.3zM109,50.4l.6,16.2 3.8-1.6-.5-6.8zM111.3,67.7l.4-14.6 3.8-1.6-.4,5.5zM112.1,56.8l.5,5.1 3.8-9.3-.4,9.3zM112.6,61.9l.5,2.5 3.7-11.1-.4-.7zM114.8,60l.4-9.4 3.8,9-.4,6.9zM120.1,69.2l.4-13.6 3.8,25.9-.5-45.7zM121.4,62.4l.5,19.3 3.7-34.1-.4,9.1zM121.9,81.7l.4-16 3.7-4.4-.4-13.7zM123.6,66.3l.5,7.1 3.7-23.2-.4,4.3zM124.1,73.4l.4,2.4 3.8-24.2-.5-1.4zM125.4,61.3l.4,16.2 3.8-23.2-.5,6.8zM125.8,77.5l.5-4 3.7-23.8-.4,4.6zM126.3,73.5l.4,4.2 3.8-21.5-.5-6.5zM128.5,78.2l.4-13.2 3.8,.4-.4-19.2zM129.8,63.2l.5-3.5 3.7,7.7-.5,2.2zM130.7,58l.5,.3 3.6,17.4-.3-17.2zM132.9,83l.5-11.2 3.7-16-.4-10.6zM133.4,71.8l.4-2.7 3.8-12.5-.5-.8zM133.8,69.1l.5,1.4 3.7-1.4-.4-12.5zM134.3,70.5l.4,2.1 3.8-24.3-.5,20.8zM134.7,72.6l.5-1.4 3.7-2.1-.4-20.8zM138.7,71.2l.6-18 3.7,3.1-.6,21.6zM139.7,62.3l.4,3.1 3.7,4.5-.5-3.6zM142.4,65.5l.3,9.4 3.8-6-.4-9.5zM142.7,74.9l.5-6.5 3.8-7.7-.5,8.2zM144.6,69l.3,11.8 4-30.2-.6,16.2zM146.9,64.9l.3,9.7 3.7-.9-.4-4.3zM149.5,73.6l.5-3.7 3.7-5.5-.5,.3zM151.9,59l.3,15.8 3.6-1-.5,6.9zM152.7,75.9l.5-10.3 3.7-4.5-.6,13.2zM154.9,80.7l.6-11.3 3.6-1.1-.3-7.9zM155.5,69.4l.2,16.5 3.8-17.4-.4-.2zM157.6,77.2l.4,7.9 4-27-.5,3.7zM158.8,90.4l.7-18.2 3.6,2.7-.2-15.3zM159.5,72.2l.5,1.2 3.6-1.5-.5,3zM160,73.4l.5-3.6 3.6,.9-.5,1.2zM160.5,69.8l.5-3.9 3.3,18.2-.2-13.4zM161.7,79.6l.4,.7 3.9-15.1-.4-3.7zM162.6,78.2l.4,8.6 3.5,.1 .2-37.8zM168.6,75.9l.6-7 3.5,2.7-.8,19zM169.2,68.9l.4,6.2 3.4,5.6-.3-9.1zM170.3,61.4l.3,8.6 3.7-7.8-1.2,35.7zM174.4,68.3l.2,10.6 3.6-2.3-.4-3.2zM176.8,83.2l.5,.9 3.5-1 0-18.2zM177.3,84.1l.5-3.8 4-22.1-1,24.9zM178.3,78.2l.2,10 4.2-28.1-.9,17.6zM182.7,89.1l.9-18.7 3.1,17.2 .3-27.8zM184.4,75.6l.4,5.9 3.6-6.5-.6,4.4zM191.8,96l.9-13 3.6-5.2-.4-2.9zM192.7,83l.1,10.2 4.2-22-.7,6.6zM195.1,66.5l-.1,18 3.4-.4-.7,9.3zM197.9,97.7l.4,.1 4.3-25-.5-1.1zM198.3,97.8l.7-6.5 4-17.2-.4-1.3zM200.3,80.3l.1,12.3 4-16.6-.9,11zM200.4,92.6l.3,5.9 4.3-26.2-.6,3.7zM205.6,79.9l.3,4.8 3.3,2.1-.6,2.6zM207.7,87.9l.6-3.4 3.7-9.9-.9,10.9zM208.3,84.5l.2,6.9 3.1,5.9 .4-22.7z"/><path fill="#bf375d" d="M102.9,48.3l.6,15.8 3.7-12.5-.5-7.2zM103.5,64.1l.3-7.7 3.8-11.2-.4,6.4zM103.8,56.4l.6,15.1 3.6-31.8-.4,5.5zM105.7,71.8l.4-2.5 3.6-38.1-.4,13.8zM106.1,69.3l.4-5.4 3.7-14.3-.5-18.4zM106.9,59.7l.5,2.2 3.6-23.9-.3,12.2zM107.4,61.9l.4-3.2 3.8-4.3-.6-16.4zM108.6,59.1l.4-8.7 3.9,7.8-.5-15.3zM109.6,66.6l.3-20 3.8-2.8-.3,21.2zM110.8,46.9l.5,20.8 3.8-10.7-.5-4.6zM111.7,53.1l.4,3.7 3.9,5.1-.5-10.4zM113.1,64.4l.4-5.6 3.7-15.6-.4,10.1zM113.5,58.8l.4-1.8 3.8,6.6-.5-20.4zM116.5,43.5l.5,10.8 3.8,8.4-.5-3.7zM117.8,51.2l.5,4.2 3.8-5-.5,11.9zM118.3,55.4l.5,13.5 3.7-15.8-.4-2.7zM118.8,68.9l.4-13.9 3.7-7.3-.4,5.4zM123.2,54.8l.4,11.5 3.8-11.8-.5,6.6zM126.7,77.7l.5-17.3 3.7-15.2-.4,11zM127.6,57.5l.4,9 3.8-15.7-.4,6.1zM128,66.5l.5,11.7 3.8-32-.5,4.6zM130.3,59.7l.4-1.7 3.8,.5-.5,8.9zM131.2,58.3l.5-14.8 3.6,23.9-.5,8.3zM135.2,71.2l.5-18.9 3.7,5.8-.5,11zM138,45.9l.3,17.2 3.6,14.1-.3-12.6zM140.1,65.4l.6-19 3.5,24.2-.4-.7zM140.7,46.4l.3,25.5 3.7-10.5-.5,9.2zM143.2,68.4l.5-4.2 3.7-1.4-.4-2.1zM148.1,83l.7-33.9 3.5,20.3-.3-17.7zM151.4,66.3l.5-7.3 3.4,21.7-.1-26.3zM153.2,65.6l.6-10.6 3.3,23.1-.2-17zM157.3,70.6l.3,6.6 3.9-15.4-.6,4.2zM161,65.9l.5-.6 3.6-4.8-.8,23.6zM161.5,65.3l.2,14.3 3.9-18.1-.5-1zM162.1,80.3l.5-2.1 4.1-29.1-.7,16.1zM164.5,73.5l.8-16.6 3.4,9.5-.6,8.1zM165.6,66l.3,10.5 3.6-3.2-.4-3.7zM170.6,70l.3,7.6 3.8-10-.4-5.4zM171.9,72.5l.3,8.4 3.9-14.2-.5,2.5zM173.4,69.6l.5-.9 3.3,9.4-.3-5.8zM173.9,68.7l.5-.4 3.4,5.1-.6,4.7zM174.9,85l.9-21.3 3.5,5.4-.7,8.9zM177.8,80.3l.5-2.1 3.5-.5 0-19.5zM178.8,98.8l1.2-34.6 3.7-5.1-.8,13.2zM180.4,67.5l-.1,23.6 4.1-22.9-.6,5zM183.6,70.4l.2,10.4 4.2-25.9-1.3,32.7zM186.1,66.2l-.1,22.4 4.1-24.8-.8,11zM186,88.6l.6-6.1 3.8-12.3-.3-6.4z"/><path fill="#c63b58" d="M102.4,80.8l0-36.3 3.9,1.6-.6-20.5zM110.4,54.3l.4-7.4 3.8,5.5-.4,.6zM115.2,50.6l.4-9.7 3.8,15-.4,3.7zM116,44.9l.5-1.4 3.8,15.5-.4,3.5zM117,54.3l.4-9.4 3.8,9.8-.4,8zM117.4,44.9l.4,6.3 3.8,11.1-.4-7.6zM119.2,55l.4,8.9 3.8-17.3-.5,1.1zM119.6,63.9l.5,5.3 3.7-33.4-.4,10.8zM127.2,60.4l.4-2.9 3.8-.6-.5-11.7zM131.7,43.5l.4,18.8 3.7-11.7-.5,16.8zM132.5,53.3l.4,29.7 3.8-37.8-.4,3.4zM136.1,61.8l.5-9.1 3.6,8.7-.4-6.9zM136.6,52.7l.4,.7 3.7,7.4-.5,.6zM137,53.4l.4,9.5 3.8-8.7-.5,6.6zM139.3,53.2l.4,9.1 3.6,4-.3-10zM149.3,45.3l.2,28.3 3.7-8.9-.4-1.1zM150,69.9l.7-19.9 3.5,13.3-.5,1.1zM151.1,50.3l.3,16 3.8-11.9-.7,21.2zM172.2,80.9l.7-8.7 3.9-15.9-.7,10.4zM172.9,72.2l.5-2.6 3.5,2.7-.1-16zM175.8,63.7l.3,11.2 3.6-3.1-.4-2.7zM176.1,74.9l.8-15.2 3.3,10.4-.5,1.7zM176.9,59.7l-.1,23.5 4-18.3-.6,5.2zM183.8,80.8l.6-5.2 3.4,3.8 .2-24.5zM184.8,81.5l1-22.7 3.1,14.1-.5,2.1z"/><path fill="#cc3f54" d="M102.4,44.5l.5,3.8 3.8-3.9-.4,1.7zM109.9,46.6l.5,7.7 3.8-1.3-.5-9.2zM115.6,40.9l.4,4 3.9,17.6-.5-6.6zM132.1,62.3l.4-9 3.8-4.7-.5,2zM135.7,52.3l.4,9.5 3.7-7.3-.4,3.6zM137.4,62.9l.6-17 3.6,18.7-.4-10.4zM150.7,50l.4,.3 3.4,25.3-.3-12.3zM165.3,56.9l.3,9.1 3.5,3.6-.4-3.2zM185.8,58.8l.3,7.4 3.2,8.6-.4-1.9z"/><path fill="#d04251" d="M148.8,49.1l.5-3.8 3.5,18.3-.5,5.8zM180,64.2l.4,3.3 3.4,5.7-.1-14.1z"/><path fill="#942571" d="M162.4,98.9l.5-4.7 3.6,1.4-.3-12.6zM178.1,96.5l.4,.1 3.3,9-.1-12.4z"/><path fill="#9c286e" d="M162.9,94.2l.6-6.5 3.5,1.4-.5,6.5zM177.2,96.2l.3,6.5 3.7-9.7-.5-.1zM177.5,102.7l.6-6.2 3.6-3.3-.5-.2zM178.5,96.6l.6-4.6 3.6-2.9-.9,16.5z"/><path fill="#a02a6c" d="M118.1,80l.4,1 3.8-15.3-.4,16zM129.6,82.1l.4,15.4 3.8-28.4-.4,2.7zM143.5,88.4l.3,7.8 3.9-19.3-.5-2.3zM143.8,96.2l.6-15.8 3.7,2.6-.4-6.1zM163.5,87.7l.5-1.4 3.3,10.4-.3-7.6z"/><path fill="#a82d69" d="M97.9,64.3l.5,3.6 4,12.9-.7-18.4zM130,97.5l.5-23 3.8-4-.5-1.4zM159.4,84.1l.5-5.7 3.4,13.1-.3-4.7z"/><path fill="#ae2f66" d="M100.5,66.6l.5,7.2 3.7-18.1-.3,15.8zM101.7,58.3l.6,10.2 3.8,.8-.4,2.5zM117.6,65.9l.5,14.1 3.8,1.7-.5-19.3zM118.5,81l.5-.6 3.7-13.1-.4-1.6zM120.3,68.4l.4,9 3.8-1.6-.4-2.4zM120.7,77.4l.5-5.7 3.7-.9-.4,5zM121.6,77.3l.5-4.3 3.7,4.5-.4-16.2zM122.1,73l.4-4 3.8,4.5-.5,4zM122.5,69l.4,1 3.8,7.7-.4-4.2zM125.2,68.3l.4,11.3 3.8,3.1-.5-17.7zM125.6,79.6l.5-7 3.7-9.4-.4,19.5zM129.2,69.2l.4,12.9 3.8-10.3-.5,11.2zM131,78.4l.4,2.4 3.8-9.6-.5,1.4zM141.3,75.8l.4,1.4 3.7,4.5-.5-.9zM148.8,92.6l.6-8.2 3.8-18.8-.5,10.3zM152.6,82.1l.6-11.9 3.4,19.2-.4-3.4zM154.5,74.8l.4,6.8 3.6,1.2-.5,2.3zM164,86.3l.7-19.5 3.2,22-.6,7.9zM170.7,94.4l.7-8.7 3.5-.7-.3-6.1zM174.5,91.1l.4,.2 3.6-3.1-.2-10zM174.9,91.3l1-21.2 2.9,28.7-.3-10.6zM177.2,72.4l0,23.8 3.5-3.3-.4-1.8zM182.2,97.9l.7-8.1 3.7-7.3-.6,6.1zM188.2,83.7l.3,6.1 3.3,6.2-.4-.1zM197.3,83.2l-.1,18.1 3.5-2.8-.3-5.9z"/><path fill="#b33164" d="M98.4,67.9l.3-3.7 3.7-19.7 0,36.3zM100,62.8l.5,3.8 3.9,4.9-.6-15.1zM101,73.8l.2-20.8 4.1,21.2-.6-18.5zM101.2,53l.5,5.3 4,13.5-.4,2.4zM102.3,68.5l.3-10.1 3.9,5.5-.4,5.4zM104.5,69.6l.4,4.3 3.7-14.8-.3,5.7zM107.5,67.2l.5,9.6 3.7-23.7-.4,14.6zM108,76.8l.4-.5 3.7-19.5-.4-3.7zM109.2,58.5l.6,19.3 3.7-19-.4,5.6zM119.8,63.6l.5,4.8 3.8,5-.5-7.1zM121.2,71.7l.4,5.6 3.8-16-.5,9.5zM124.7,76.2l.5-7.9 3.7-3.3-.4,13.2zM130.5,74.5l.5,3.9 3.7-5.8-.4-2.1zM140.9,72.4l.4,3.4 3.6,5-.3-11.8zM148.7,59.9l.1,32.7 3.9-16.7-.5-1.1zM152.4,59.9l.2,22.2 3.6,3.9-.5-.1zM153.2,70.2l.2,19.6 3.9-19.2-.7,18.8zM153.4,89.8l.6-15.6 3.6,3-.3-6.6zM154,74.2l.5,.6 3.5,10.3-.4-7.9zM154.9,81.6l.6-13 3.3,21.8-.3-7.6zM162.3,73.2l.1,25.7 3.8-15.9-.3-6.5zM165.4,80.4l.2,19.2 4-24.5-.4-6.2zM167.2,85.1l.5-3.2 3.5,4.5-.3-8.8zM168.3,98.1l.8-13.7 3.8-12.2-.7,8.7zM170.3,94.3l.4,.1 3.9-15.5-.2-10.6zM173.2,84.7l.6-4 3.5,3.4-.5-.9zM173.8,80.7l.3,6.5 3.7-6.9-.5,3.8zM174.1,87.2l.4,3.9 3.8-12.9-.5,2.1zM175.9,70.1l-.2,29.6 4.3-35.5-1.2,34.6zM182,89.8l.2,8.1 3.8-9.3 .1-22.4zM182.9,89.8l.6-5.9 3.5,2.8-.4-4.2zM183.5,83.9l.5,1.4 3.4,2.2-.4-.8zM185.2,74.7l.1,13.7 3.4,.9-.5,3.8zM185.3,88.4l.8-11.2 2.8,23-.2-10.9zM186.6,90l.6-2.8 3.3,5.4-.4-3.3zM187.2,87.2l.8-12.1 2.9,22.1-.4-4.6zM188,75.1l.2,8.6 3.2,12.2-.5,1.3zM188.5,89.8l.7-5.8 3.5-1-.9,13zM189.2,84l.1,11.1 3.5-1.9-.1-10.2zM189.3,95.1l1.1-20.1 2.8,21.4-.4-3.2zM190.4,75l-.1,18.3 3.4,3.2-.5-.1zM195.1,76.4l.3,5.4 2.9,16-.4-.1zM197.2,101.3l1.2-24.2 3.2,7.8-.9,13.6zM200.1,97.1l.9-11.4 2.8,17.2 .1-16.9zM201,85.7l.6-3.5 2.8,17.4-.6,3.3zM202.8,87.5l1-13.7 2.5,26.3-.6,2.9zM203.8,88.3l.4,.3 3.5-.7-1,12.3zM204.9,95.7l.2,9.4 4.1-19.6-.7,5.9zM205.1,105.1l1.1-18.5 3.3,3.4-.3-4.5zM206.5,91.1l.2,8.4 3.8-11.6-.7,6.1z"/><path fill="#bb3560" d="M97.5,67.7l.4-3.4 3.8-1.9-.6-14.1zM102.6,58.4l.4-3 3.9,4.3-.4,4.2zM103,55.4l.5,7.5 3.9-1-.5-2.2zM103.5,62.9l.4-9.6 3.9,5.4-.4,3.2zM103.9,53.3l.6,16.3 3.8-4.8-.5-6.1zM104.9,73.9l.4-7.4 3.7-16.1-.4,8.7zM105.3,66.5l.4-8.7 3.9,8.8-.6-16.2zM105.7,57.8l.5,8.3 3.7-19.5-.3,20zM107.1,68.1l.4-.9 3.8,.5-.5-20.8zM108.4,76.3l.3-22.4 3.9,8-.5-5.1zM109.8,77.8l.2-20.9 3.9,.1-.4,1.8zM110,56.9l.5,2.5 3.9,14.8-.5-17.2zM110.5,59.4l.4-1.4 3.9,2-.4,14.2zM115.8,66.8l.4-11.3 3.9,13.7-.5-5.3zM117.1,60.3l.5,5.6 3.8-3.5-.4,5.3zM119,80.4l.4-17.8 3.8-7.8-.5,12.5zM122.9,70l.5-19.3 3.8,9.7-.5,17.3zM124.2,44.4l.5,31.8 3.8,2-.5-11.7zM131.4,80.8l.5-14.9 3.8-13.6-.5,18.9zM134.6,72.3l.4-3.7 3.7,2.6-.4-8.1zM137.3,72.3l.5-15.2 3.6,17.4-.4-2.6zM137.8,57.1l.5-4.5 3.4,40.8-.3-18.9zM138.3,52.6l.4,10 3.7,2.9-.7,27.9zM140,65.1l.5-1.8 3.5,19.3-.3-18.4zM140.5,63.3l.4,9.1 3.7-3.4-.6,13.6zM141.7,77.2l.6-10.4 3.7-4.3-.6,19.2zM142.7,69.6l.5-2.3 3.7-2.4-.6,10.5zM143.2,67.3l.3,21.1 3.7-13.8-.3-9.7zM144.4,80.4l.5-1.9 3.9-29.4-.7,33.9zM145.8,77.8l.5-8.9 3.7,1-.5,3.7zM150.5,67.5l.4-3.3 3.5,21.2-.5,0zM150.9,64.2l.4,5.1 3.6,11.4-.5,4.7zM151.3,69.3l.4,7.2 3.8-7.1-.6,11.3zM151.7,76.5l.7-16.6 3.3,26-.2-16.5zM155.5,68.6l.5-2.6 3.5,6.2-.7,18.2zM156,66l.1,22.2 3.9-14.8-.5-1.2zM156.1,88.2l.8-24.7 3.6,6.3-.5,3.6zM158.2,68.4l.4,10.6 3.5,1.3-.4-.7zM158.6,79l.7-18 3.3,17.2-.5,2.1zM159.3,61l.1,23.1 3.6,2.7-.4-8.6zM159.9,78.4l.5-1.4 3.8-12.3-.9,26.8zM160.4,77l.2,16.9 3.9-20.4-.3-8.8zM160.6,93.9l.6-8.4 4.1-28.6-.8,16.6zM164.7,66.8l.4,9 3.5,.1-.7,12.9zM165.6,99.6l.7-15.2 4-23-.7,13.7zM166.3,84.4l.4,4.7 3.9-19.1-.3-8.6zM166.7,89.1l.5-4 3.7-7.5-.3-7.6zM167.7,81.9l.7-13.1 3.5,3.7-.7,13.9zM168.4,68.8l-.1,29.3 3.9-17.2-.3-8.4zM169.1,84.4l.4,.8 3.9-15.6-.5,2.6zM171.4,85.7l.6-9.5 3.8-12.5-.9,21.3zM172.8,83.3l.4,1.4 3.6-1.5 .1-23.5zM179.1,92l.9-17.3 3.6-4.3-.9,18.7zM184,85.3l.9-18.2 2.8,26-.3-5.6zM184.9,67.1l.3,7.6 3,18.4-.5,0zM186.1,77.2l.4-.5 3.3,10.2-.9,13.3zM186.5,76.7l.1,13.3 3.5-.7-.3-2.4zM191.4,87.2l.6-2.6 3.2,6.8-.2-6.9zM192,84.6l.9-14.8 2.8,21.8-.5-.2zM192.9,69.8l0,14.3 3.1,14.9-.3-7.4zM192.9,84.1l.8-8.9 3.1,12.8-.8,11zM194.3,70.5l.3,4.8 2.6,27.8-.3-4.1zM194.6,75.3l.5,1.1 2.8,21.3-.7,5.4zM195.4,81.8l.5-1.5 3.1,11-.7,6.5zM195.9,80.3l.4,2.7 3.2,7.2-.5,1.1zM198.5,88.7l.6-4.8 3.4,3.6-.4-4.5zM199.1,83.9l.5-.9 2.9,16 0-11.5zM202.4,85.9l.4,1.6 2.9,15.5 .2-18.3zM203.8,73.8l0,14.5 2.9,11.9-.4-.1zM204.9,82l0,13.7 3.6-4.3-.2-6.9zM206.2,86.6l.3,4.5 3.3,2.9-.3-4z"/><path fill="#bf375d" d="M98.7,64.2l.4-3.6 3.8-12.3-.5-3.8zM99.3,35.6l.7,27.2 3.8-6.4-.3,7.7zM106.2,66.1l.4-2.9 3.8-8.9-.5-7.7zM106.6,63.2l.5,4.9 3.7-21.2-.4,7.4zM108.7,53.9l.5,4.6 3.9,5.9-.5-2.5zM110.9,58l.6,11.8 3.7-19.2-.4,9.4zM112.7,64.1l.6,14.7 3.7-24.5-.5-10.8zM113.3,78.8l.3-14.9 3.8-19-.4,9.4zM115.3,55.5l.5,11.3 3.8-2.9-.4-8.9zM116.2,55.5l.5,4.5 3.8-4.4-.4,13.6zM116.7,60l.4,.3 3.9,7.4-.5-12.1zM119.4,62.6l.4,1 3.8,2.7-.4-11.5zM128.7,54.4l.5,14.8 3.7,13.8-.4-29.7zM133.2,80.7l.5-14.6 3.7-3.2-.4-9.5zM133.7,66.1l.4,12.4 3.9-32.6-.6,17zM134.1,78.5l.5-6.2 3.7-9.2-.3-17.2zM135.9,71.3l.5-10 3.7,4.1-.4-3.1zM138.7,62.6l.4,.4 3.6,11.9-.3-9.4zM139.1,63l.5,1.5 3.6,3.9-.5,6.5zM139.6,64.5l.4,.6 3.7-.9-.5,4.2zM142.3,66.8l.4,2.8 3.6,5.8-.3-12.9zM145.4,74.6l.4,3.2 3.7-4.2-.2-28.3zM150,63.2l.5,4.3 3.4,17.9-.1-30.4zM157.6,78.8l.6-10.4 3.5,11.2-.2-14.3zM161.9,70.9l.4,2.3 3.6,3.3-.3-10.5zM165.1,75.8l.3,4.6 3.8-11.5-.6,7zM175.7,99.7l.8-17.6 3.9-14.6-.4-3.3zM176.5,82.1l.7-9.7 3.1,18.7 .1-23.6zM180,74.7l.4,3.7 3.4,2.4-.2-10.4zM180.4,78.4l.4,2.6 3.6-5.4-.6,5.2zM180.8,81l.5-2.6 3.5,3.1-.4-5.9zM181.3,78.4l.2,13.2 4.3-32.8-1,22.7zM181.5,91.6l.5-1.8 4.1-23.6-.3-7.4zM190.3,93.3l1.3-27.2 3.5,.4-1.4,30zM193.7,75.2l.6-4.7 2.6,28.5-.1-11zM196.3,83l1-14.9 3,12.2-.8,9.9zM197.3,68.1l0,15.1 3.1,9.4-.1-12.3zM198.4,77.1l.1,11.6 3.6-5.7-.5,1.9zM199.6,83l.9-12.9 3.1,10.6-1.1,18.3zM200.5,70.1l-.4,27 3.8-11.1-.3-5.3zM201.6,82.2l.7-7.8 3.3,5.5-1.2,19.7zM204.2,88.6l.7-6.6 3.4,2.5-.6,3.4z"/><path fill="#c63b58" d="M99.1,60.6l.2-25 4.2,28.5-.6-15.8zM112.3,68.3l.4-4.2 3.8-20.6-.5,1.4zM113.6,63.9l.5-1.5 3.7-11.2-.4-6.3zM114.1,62.4l.4-3.5 3.8-3.5-.5-4.2zM114.5,58.9l.3-19.6 4,29.6-.5-13.5zM126.1,72.6l.4-27.8 3.8,14.9-.5,3.5zM131.9,65.9l.4,2.5 3.8-6.6-.4-9.5zM132.3,68.4l.5-9 3.8-6.7-.5,9.1zM132.8,59.4l.4,21.3 3.8-27.3-.4-.7zM146.3,68.9l.5,2.6 3.9-21.5-.7,19.9zM147.1,78.9l.6-6.9 3.7-5.7-.3-16zM147.7,72l.4-1.6 3.8-11.4-.5,7.3zM148.1,70.4l.6-10.5 3.5,14.9-.3-15.8zM149.4,84.4l.6-21.2 3.8-8.2-.6,10.6zM157.4,60.3l.2,18.5 3.9-13.5-.5,.6zM161.2,85.5l.7-14.6 3.7-4.9-.3-9.1zM169.5,85.2l1-27.6 3.4,11.1-.5,.9zM170.5,57.6l-.2,36.7 4.1-26-.5,.4zM172,76.2l.4,1.4 3.7-2.7-.3-11.2zM172.4,77.6l.4,5.7 4.1-23.6-.8,15.2zM191.6,66.1l-.2,21.1 3.6-2.7 .1-18zM202.3,74.4l.1,11.5 3.5-1.2-.3-4.8z"/><path fill="#cc3f54" d="M111.5,69.8l.3-18.3 3.8-10.6-.4,9.7zM114.8,39.3l.5,16.2 3.9-.5-.4,13.9zM123.4,50.7l.4,7.2 3.8-.4-.4,2.9zM123.8,57.9l.4-13.5 3.8,22.1-.4-9zM126.5,44.8l.4,17.9 3.8-4.7-.4,1.7zM126.9,62.7l.5-13.9 3.8,9.5-.5-.3zM128.3,62.6l.4-8.2 3.8-1.1-.4,9zM135,68.6l.5-19 3.8,3.6-.6,18zM135.5,49.6l.4,21.7 3.8-9-.4-9.1zM136.9,46.3l.4,26 3.7-.4-.3-25.5zM144.9,78.5l.5-3.9 3.9-29.3-.5,3.8zM146.8,71.5l.3,7.4 4-28.6-.4-.3zM156.9,63.5l.5-3.2 3.6,5.6-.5,3.9z"/><path fill="#d04251" d="M111.8,51.5l.5,16.8 3.7-23.4-.4-4zM127.8,55l.5,7.6 3.8-.3-.4-18.8z"/><path fill="#d7474c" d="M136.4,61.3l.5-15 3.8,.1-.6,19z"/><path fill="#da4b49" d="M127.4,48.8l.4,6.2 3.9-11.5-.5,14.8z"/><path fill="#9c286e" d="M145.1,95.9l.5-3.5 3.8-8-.6,8.2z"/><path fill="#a02a6c" d="M125.8,84.8l.5-19.8 3.7,32.5-.4-15.4zM192.7,118.9l.9-15 3.6-2.6 .1-18.1z"/><path fill="#a82d69" d="M96.7,77.7l.4-6.1 3.9,2.2-.5-7.2zM105.6,87.7l.3-13 3.9,3.1-.6-19.3zM114.7,82.8l.4-11.6 3.9,9.2-.5,.6zM117.4,81.1l.4,3.5 3.8-7.3-.4-5.6zM117.8,84.6l.5-4.8 3.8-6.8-.5,4.3zM121,90.9l.4-8 3.8-14.6-.5,7.9zM139.8,79.2l.5-2.1 3.5,19.1-.3-7.8zM156.5,94.7l.5-1.5 3.6,.7-.2-16.9zM158.9,90.2l.6-11.7 3.4,15.7-.5,4.7zM178.2,98.6l.5-.4 3.5-.3-.2-8.1z"/><path fill="#ae2f66" d="M94.6,76.2l.3-4.6 3.8-7.4-.3,3.7zM96.3,74.4l.4,3.3 3.8-11.1-.5-3.8zM100.7,78.8l.2-17.5 4,12.6-.4-4.3zM103.3,79.6l.4-7.3 3.8-5.1-.4,.9zM105.9,74.7l.5,9.8 3.6-27.6-.2,20.9zM114.2,56.4l.5,26.4 3.8-1.8-.4-1zM116.5,83.5l.4-8.4 3.8,2.3-.4-9zM116.9,75.1l.5,6 3.8-9.4-.5,5.7zM121.8,71.1l.5,20.4 3.8-18.9-.5,7zM125.4,76.8l.4,8 3.8-2.7-.4-12.9zM126.3,65l.4,15.1 3.8-5.6-.5,23zM142.9,93.2l.5-8.3 3.7-6-.3-7.4zM149.2,92.6l.5-1.2 3.7-1.6-.2-19.6zM156.1,94.5l.4,.2 3.9-17.7-.5,1.4zM157,93.2l.7-19.3 3.5,11.6-.6,8.4zM158.5,83.6l.4,6.6 3.5,8.7-.1-25.7zM166.8,88.5l.6-6.8 3.3,12.7-.4-.1zM170.7,77.5l-.1,28.3 3.9-14.7-.4-3.9zM174.7,68.1l-.2,31.4 3.6-3-.6,6.2zM174.5,99.5l.8-19 3.2,16.1-.4-.1zM178.7,98.2l.6-6.6 3.6-1.8-.7,8.1zM185.4,92l.1,15.1 3.8-12-.1-11.1zM193.6,103.9l.4,3.8 4.4-30.6-1.2,24.2zM196.9,90.4l-.3,24.6 4.4-29.3-.9,11.4zM201.6,93.7l.1,11.6 3.4-.2-.2-9.4z"/><path fill="#b33164" d="M93.6,70l.2-13.1 4.1,7.4-.4,3.4zM93.8,56.9l.8,19.3 3.8-8.3-.5-3.6zM94.9,71.6l.5,1.9 3.7-12.9-.4,3.6zM97.1,71.6l.4-2.4 3.7-16.2-.2,20.8zM100.2,71.6l.5,7.2 3.8-9.2-.6-16.3zM102.4,74.6l.3-6.5 3.9-4.9-.4,2.9zM102.7,68.1l.6,11.5 3.8-11.5-.5-4.9zM103.7,72.3l.3-8.9 4,13.4-.5-9.6zM104,63.4l.5-.3 3.9,13.2-.4,.5zM105,71.3l.6,16.4 3.6-29.2-.5-4.6zM107.3,89.6l.2-33.4 4,13.6-.6-11.8zM115.1,71.2l.5-1.8 3.8-6.8-.4,17.8zM116,72.9l.5,10.6 3.8-15.1-.5-4.8zM118.3,79.8l.4-12.4 3.8,1.6-.4,4zM120.5,84.5l.5,6.4 3.7-14.7-.5-31.8zM121.4,82.9l.4-11.8 3.8,8.5-.4-11.3zM122.3,91.5l.4-6.4 3.8-40.3-.4,27.8zM126.7,80.1l.5-6.9 3.8,5.2-.5-3.9zM129.4,83.7l.5-1.8 3.8-15.8-.5,14.6zM129.9,81.9l.4,.7 3.8-4.1-.4-12.4zM130.3,82.6l.5-3.7 3.8-6.6-.5,6.2zM136.6,79.1l.4,13.5 3.9-20.2-.4-9.1zM137,92.6l.6-17 3.7,.2-.4-3.4zM139.4,76.7l.4,2.5 3.7,9.2-.3-21.1zM140.3,77.1l.5-18.8 3.6,22.1-.6,15.8zM144.8,76.1l.3,19.8 3.7-3.3-.1-32.7zM147.4,100.3l.6-16.1 3.7-7.7-.4-7.2zM148.9,77.5l.3,15.1 4-22.4-.6,11.9zM149.7,91.4l.6-11.8 3.7-5.4-.6,15.6zM151.1,87l.4,5.3 4-23.7-.6,13zM155.8,78.3l.3,16.2 3.8-16.1-.5,5.7zM159.5,78.5l.4,5 3.6,4.2-.6,6.5zM159.9,83.5l.6-8.3 3.5,11.1-.5,1.4zM165,86l.6-10.9 3.5,9.3-.8,13.7zM167.4,81.7l.3,7.8 3.7-3.8-.7,8.7zM169.2,80.9l.2,18.6 3.8-14.8-.4-1.4zM179.3,91.6l.5-1.5 3.7-6.2-.6,5.9zM191.3,102.3l.2,10.3 4.4-32.3-.5,1.5zM191.5,112.6l.7-7.8 4.1-21.8-.4-2.7zM192.6,105l.1,13.9 4.6-35.7 0-15.1zM194,107.7l.4,2.8 4.1-21.8-.1-11.6zM194.4,110.5l.9-13.6 3.8-13-.6,4.8zM199.8,105.3l.7-9.6 3.7-7.1-.4-.3zM201.7,105.3l1-15.3 3.5-3.4-1.1,18.5z"/><path fill="#bb3560" d="M97.5,69.2l.4-5.2 3.8-5.7-.5-5.3zM97.9,64l.3-5.9 4.1,10.4-.6-10.2zM98.2,58.1l.6,8.1 3.8-7.8-.3,10.1zM99.7,71.1l.5,.5 3.7-18.3-.4,9.6zM100.9,61.3l.4-.5 4,5.7-.4,7.4zM101.8,62.8l.6,11.8 3.8-8.5-.5-8.3zM104.5,63.1l.5,8.2 3.7-17.4-.3,22.4zM106.4,84.5l.2-25.4 3.9,.3-.5-2.5zM106.6,59.1l.7,30.5 3.6-31.6-.4,1.4zM108.4,57.3l.6,23.1 3.7-16.3-.4,4.2zM109,80.4l.2-31 4.1,29.4-.6-14.7zM109.2,49.4l.6,18 3.8-3.5-.3,14.9zM112.9,77.5l.4-8.8 3.8-8.4-.4-.3zM113.7,60.7l.5-4.3 3.9,23.6-.5-14.1zM115.6,69.4l.4,3.5 3.8-9.3-.4-1zM118.7,67.4l.5,12.2 3.7-9.6-.4-1zM119.2,79.6l.4,4.6 3.8-33.5-.5,19.3zM119.6,84.2l.5,.1 3.7-26.4-.4-7.2zM120.1,84.3l.4,.2 3.7-40.1-.4,13.5zM123.2,77.8l.4,5.7 3.8-34.7-.5,13.9zM124.5,74.1l.5,11.6 3.7-31.3-.4,8.2zM125,85.7l.4-8.9 3.8-7.6-.5-14.8zM127.2,73.2l.4-10.6 3.8,18.2-.4-2.4zM127.6,62.6l.5,7.3 3.8-4-.5,14.9zM128.1,69.9l.4,6.8 3.8-8.3-.4-2.5zM129,65l.4,18.7 3.8-3-.4-21.3zM130.8,78.9l.5-13.3 3.7,3-.4,3.7zM137.6,75.6l.4-2.2 3.7,3.8-.4-1.4zM138,73.4l.4,8.8 3.9-15.4-.6,10.4zM138.4,82.2l.5-5.9 3.8-6.7-.4-2.8zM140.8,58.3l.4,20 3.7,.2-.5,1.9zM141.2,78.3l.5-16.4 3.7,12.7-.5,3.9zM141.7,61.9l.3,22 3.8-6.1-.4-3.2zM143.4,84.9l.5-11.6 3.8-1.3-.6,6.9zM145.6,92.4l.6-18.8 3.8-10.4-.6,21.2zM147.1,80.4l.3,19.9 3.9-31-.4-5.1zM150.3,79.6l.5-1 3.7-3.8-.5-.6zM150.8,78.6l.3,8.4 3.8-5.4-.4-6.8zM151.5,92.3l.5-4.6 4-21.7-.5,2.6zM152,87.7l.7-19.9 3.4,20.4-.1-22.2zM157.7,73.9l.3,12 3.9-15-.7,14.6zM158,85.9l.5-2.3 3.8-10.4-.4-2.3zM162,67.8l.4,7.6 3.2,24.2-.2-19.2zM162.4,75.4l.5-6.4 3.4,15.4-.7,15.2zM163.8,71.7l.1,24.1 3.8-13.9-.5,3.2zM163.9,95.8l.7-14.6 3.8-12.4-.7,13.1zM164.6,81.2l.4,4.8 3.3,12.1 .1-29.3zM165.6,75.1l.4,6.3 3.5,3.8-.4-.8zM167.7,89.5l.7-11 3.6-2.3-.6,9.5zM168.6,88.2l.6-7.3 3.6,2.4-.4-5.7zM169.4,99.5l.8-22 3.6,3.2-.6,4zM170.6,105.8l1.5-50.7 2.8,36.2-.4-.2zM172.7,71.9l.4,3.1 3.4,7.1-.8,17.6zM173.3,87.4l.6-7.2 3.3,16 0-23.8zM173.9,80.2l.8-12.1 2.8,34.6-.3-6.5zM175.3,80.5l.9-17.2 2.9,28.7-.6,4.6zM175.8,100.2l.7-8.2 3.9-13.6-.4-3.7zM176.5,92l.6-4.3 3.7-6.7-.4-2.6zM177.1,87.7l.4,1.6 3.8-10.9-.5,2.6zM178.4,68.5l-.2,30.1 3.8-8.8-.5,1.8zM179.8,90.1l.6-3.9 3.6-.9-.5-1.4zM185.1,86.5l.3,5.5 3.8-8-.7,5.8zM185.5,107.1l1.4-34 3.5,1.9-1.1,20.1zM187.8,91.3l.4,3.4 3.8-10.1-.6,2.6zM188.2,94.7l.4,3.1 4.3-28-.9,14.8zM189.4,103.9l.6-4.9 4.3-28.5-.6,4.7zM192.2,104.8l.4,.2 4.7-36.9-1,14.9zM195.3,96.9l.2,8.9 4.1-22.8-.5,.9zM196.6,115l1.4-29.6 3.6-3.2-.6,3.5zM199.5,97.1l.3,8.2 4-17 0-14.5zM202.7,90l0,11.6 3.8-10.5-.3-4.5zM202.7,101.6l1.1-16.5 2.9,14.4-.2-8.4z"/><path fill="#bf375d" d="M95.6,55.7l.7,18.7 3.7-11.6-.7-27.2zM98.8,66.2l.3-10.2 3.9-.6-.4,3zM99.1,56l.6,15.1 3.8-8.2-.5-7.5zM101.3,60.8l.5,2 3.9-5-.4,8.7zM107.5,56.2l.5,11 3.8-15.7-.3,18.3zM108,67.2l.4-9.9 3.9,11-.5-16.8zM109.8,67.4l.3-13.7 4,8.7-.5,1.5zM110.1,53.7l.6,24.1 3.8-18.9-.4,3.5zM111.6,71.9l.4-10.9 3.8,5.8-.5-11.3zM113.3,68.7l.4-8 3.9,5.2-.5-5.6zM122.7,85.1l.5-7.3 3.7-15.1-.4-17.9zM124,68.1l.5,6 3.8-11.5-.5-7.6zM128.5,76.7l.5-11.7 3.8-5.6-.5,9zM132.1,78.7l.5-15.7 3.8-1.7-.5,10zM136.2,65.3l.4,13.8 3.9-15.8-.5,1.8zM138.9,76.3l.5,.4 3.8-9.4-.5,2.3zM142,83.9l.7-25.2 3.6,10.2-.5,8.9zM142.7,58.7l.2,34.5 3.9-21.7-.5-2.6zM143.9,73.3l.5-3.5 3.7,.6-.4,1.6zM148,84.2l.5-6.3 3.9-18-.7,16.6zM148.5,77.9l.4-.4 3.7,4.6-.2-22.2zM152.7,67.8l.4,7.3 3.8-11.6-.8,24.7zM155,71l.3,13.1 4-23.1-.7,18zM155.3,84.1l.5-5.8 3.6,5.8-.1-23.1zM160.5,75.2l.4,5.3 3.8-13.7-.7,19.5zM166.5,77.5l.3,11 3.5,5.8 .2-36.7zM168.4,78.5l.2,9.7 3.8-10.6-.4-1.4zM170.2,77.5l.5,0 3.4,9.7-.3-6.5zM172,81.9l.7-10 3,27.8 .2-29.6zM173.1,75l.2,12.4 3.9-15-.7,9.7zM176.2,63.3l-.4,36.9 4.2-25.5-.9,17.3zM177.5,89.3l.9-20.8 3.1,23.1-.2-13.2zM180.4,86.2l.4,2.2 4.1-21.3-.9,18.2zM181.2,90l.7-7 3.4,5.4-.1-13.7zM181.9,83l.5-3.6 3.7-2.2-.8,11.2zM182.4,79.4l.2,13 3.9-15.7-.4,.5zM182.6,92.4l.9-15.3 3.1,12.9-.1-13.3zM183.5,77.1l.4-.6 3.3,10.7-.6,2.8zM185,72.8l.1,13.7 3.4,3.3-.3-6.1zM186.9,73.1l0,16.3 3.4,3.9 .1-18.3zM186.9,89.4l.6-2 4.1-21.3-1.3,27.2zM187.5,87.4l.3,3.9 3.6-4.1 .2-21.1zM189.6,78.7l-.2,25.2 4.3-28.7-.8,8.9zM190,99l.6-5.1 4-18.6-.3-4.8zM191.3,86.5l0,15.8 4.1-20.5-.3-5.4zM195.5,105.8l.8-12.6 4.2-23.1-.9,12.9zM196.3,93.2l.6-2.8 3.2,6.7 .4-27zM198.8,90.5l.6-3.7 3.4,.7-.4-1.6zM199.4,86.8l.1,10.3 4.3-23.3-1,13.7zM200.5,95.7l1.1-17.2 3.3,3.5-.7,6.6zM201.6,78.5l0,15.2 3.3,2 0-13.7z"/><path fill="#c63b58" d="M95.4,73.5l.2-17.8 3.7-20.1-.2,25zM110.7,77.8l.4-19.8 3.7-18.7-.3,19.6zM123.6,83.5l.4-15.4 3.8-13.1-.4-6.2zM131.7,65.7l.4,13 3.8-7.4-.4-21.7zM133.5,63.2l.5,6.4 3.8-12.5-.5,15.2zM134.9,72.7l.4-5.7 3.8-4-.4-.4zM144.4,69.8l.4,6.3 3.9-16.2-.6,10.5zM146.7,67.2l.4,13.2 3.8-16.2-.4,3.3zM153.5,76.2l.5-2.4 3.6,5-.2-18.5zM154,73.8l.6-6.2 3.6,.8-.6,10.4zM154.6,67.6l.4,3.4 3.6,8-.4-10.6zM160.9,80.5l.5-5.4 3.7,.7-.4-9zM161.4,75.1l.6-7.3 3.4,12.6-.3-4.6zM162.9,69l.8-17 3,37.1-.4-4.7zM163.7,52l.1,19.7 3.4,13.4-.5,4zM166,81.4l.5-3.9 4-19.9-1,27.6zM180.8,88.4l.4,1.6 4-15.3-.3-7.6zM188.6,97.8l1-19.1 3.3,5.4 0-14.3zM190.6,93.9l.7-7.4 3.8-10.1-.5-1.1zM198.5,85.7l.3,4.8 3.6-4.6-.1-11.5z"/><path fill="#cc3f54" d="M111.1,58l.5,13.9 3.7-16.4-.5-16.2zM112.3,37.2l.6,40.3 3.8-17.5-.5-4.5zM131.3,65.6l.4,.1 3.8-16.1-.5,19zM133,73.5l.5-10.3 3.8,9.1-.4-26zM134.4,68.4l.5,4.3 3.8-10.1-.4-10zM135.3,67l.5-3 3.8,.5-.5-1.5zM135.8,64l.4,1.3 3.8-.2-.4-.6zM146.2,73.6l.5-6.4 3.8,.3-.5-4.3zM153.1,75.1l.4,1.1 3.9-15.9-.5,3.2zM172.1,55.1l-.1,26.8 3.9-11.8-1,21.2zM198,85.4l.5,.3 3.8-11.3-.7,7.8z"/><path fill="#d04251" d="M112,61l.3-23.8 3.9,18.3-.4,11.3zM132.6,63l.4,10.5 3.9-27.2-.5,15zM134,69.6l.4-1.2 3.9-15.8-.5,4.5zM183.9,76.5l.9-15 3.2,13.6-.8,12.1z"/><path fill="#d7474c" d="M184.8,61.5l.2,11.3 3.2,10.9-.2-8.6z"/><path fill="#942571" d="M189.5,110.2l.7-7.6 3.4,1.3-.9,15z"/><path fill="#9c286e" d="M103,83.8l.6,16.2 3.7-10.4-.7-30.5z"/><path fill="#a02a6c" d="M102.1,83.5l.4,.1 3.9,.9-.5-9.8zM139.2,91.8l.4,2.4 3.8-9.3-.5,8.3zM141,94.6l.4,5.4 3.7-4.1-.3-19.8zM141.4,100l.6-19.4 3.6,11.8-.5,3.5zM189.7,84.6l-.2,25.6 3.2,8.7-.1-13.9z"/><path fill="#a82d69" d="M101.2,83.3l.3-11.3 4.1,15.7-.6-16.4zM101.5,72l.6,11.5 3.8-8.8-.3,13zM102.5,83.6l.5,.2 3.6-24.7-.2,25.4zM103.6,100l.1-26.7 3.8-17.1-.2,33.4zM111,92.9l.3-15 3.8-6.7-.4,11.6zM112.7,83.3l.4,3.4 3.8-11.6-.4,8.4zM113.1,86.7l.5-2.1 3.8-3.5-.5-6zM126.5,78.8l.5,19.1 3.8-19-.5,3.7zM146.1,85.8l.2,24.6 4-30.8-.6,11.8zM152.5,84.2l.4,11.1 3.6-.6-.4-.2zM162.4,107.2l.4,.8 4-19.5-.3-11zM174.7,94.2l.4,7.2 3.6-3.2-.5,.4zM190.2,102.6l.5-2 3.3,7.1-.4-3.8zM190.7,100.6l.7-8.6 3,18.5-.4-2.8z"/><path fill="#ae2f66" d="M90.4,64.4l.7,11.8 3.8-4.6-.3,4.6zM95.8,74.2l.6,7.6 3.8-10.2-.5-.5zM96.4,81.8l.2-13.4 4.1,10.4-.5-7.2zM100.8,83.1l.4,.2 3.8-12-.5-8.2zM112.2,81.3l.5,2 3.8,.2-.5-10.6zM113.6,84.6l.3-12.5 3.9,12.5-.4-3.5zM113.9,72.1l.6,12.5 3.8-4.8-.5,4.8zM118.4,63.4l.5,16.1 3.8,5.6-.4,6.4zM118.9,79.5l.4,3.6 3.9-5.3-.5,7.3zM121.6,80.9l.4,8.5 3.8-4.6-.4-8zM126.1,85.3l.4-6.5 3.8,3.8-.4-.7zM133.3,95.3l.5-19.1 3.8-.6-.6,17zM136,94.7l.4-4.4 3.9-13.2-.5,2.1zM138.7,97.4l.5-5.6 3.7,1.4-.2-34.5zM145.7,78.4l.4,7.4 3.6,5.6-.5,1.2zM152.9,95.3l.6-17.9 3.5,15.8-.5,1.5zM154.7,98.5l.5-7.3 3.7-1-.4-6.6zM160.2,96.8l.4,3.4 4-19-.7,14.6zM160.6,100.2l.5,.2 3.9-14.4-.4-4.8zM162.8,108l.7-10.3 3.9-16-.6,6.8zM165.3,100.6l.6-9.8 3.5,8.7-.2-18.6zM172.2,105.4l.8-16.6 3.5,3.2-.7,8.2zM175.1,101.4l.6-8.3 3.6-1.5-.6,6.6zM181.8,97.3l.3,5 3.4,4.8-.1-15.1zM183.2,115.2l.9-17.2 3.7-6.7-.3-3.9zM188.1,92.2l.4,1.9 3,18.5-.2-10.3zM188.5,94.1l.5-.1 3.2,10.8-.7,7.8zM191.9,91.1l-.2,23.9 3.8-9.2-.2-8.9z"/><path fill="#b33164" d="M90.2,76.2l.2-11.8 4.2,11.8-.8-19.3zM91.1,76.2l.2-14.4 4.1,11.7-.5-1.9zM92,79.2l.2-13.4 4.1,8.6-.7-18.7zM92.4,52.8l.9,30 3.8-11.2-.4,6.1zM93.3,82.8l.1-25.1 4.1,11.5-.4,2.4zM96.6,68.4l.5,3.5 3.8-10.6-.2,17.5zM98.5,73.9l.4-3 3.8-2.8-.3,6.5zM98.9,70.9l.4,.5 4,8.2-.6-11.5zM99.3,71.4l.4-6.6 4,7.5-.4,7.3zM103.7,73.3l.6,16.7 3.7-22.8-.5-11zM110.4,74.8l.6,18.1 3.7-10.1-.5-26.4zM116.6,67.2l.4-5.1 4,28.8-.5-6.4zM119.3,83.1l.4-17.4 3.9,17.8-.4-5.7zM120.2,83.1l.5,5.2 3.8-14.2-.5-6zM120.7,88.3l.4-17.9 3.9,15.3-.5-11.6zM121.1,70.4l.5,10.5 3.8-4.1-.4,8.9zM122,89.4l.5-9.2 3.8-15.2-.5,19.8zM122.9,74.4l.5,15.2 3.8-16.4-.5,6.9zM125.6,71.6l.5,13.7 3.8-3.4-.5,1.8zM132.9,64.2l.4,31.1 3.7-2.7-.4-13.5zM134.7,83.9l.4-2.4 3.8-5.2-.5,5.9zM137.8,90.5l.4,3.1 3.8-9.7-.3-22zM138.2,93.6l.5,3.8 4-38.7-.7,25.2zM139.6,94.2l.5-8 3.8-12.9-.5,11.6zM140.5,94.5l.5,.1 3.8-18.5-.4-6.3zM143.9,68.7l.3,16.9 3.8-1.4-.6,16.1zM146.3,110.4l.9-44.1 3.6,12.3-.5,1zM147.9,87.2l.5-5.4 3.6,5.9-.5,4.6zM151.1,87l.2,22.4 4-25.3-.3-13.1zM151.3,109.4l.8-30.3 3.7-.8-.5,5.8zM155.2,91.2l.5-.4 3.8-12.3-.6,11.7zM159.9,86.7l.3,10.1 3.7-1-.1-24.1zM161.1,100.4l.5-5.2 4-20.1-.6,10.9zM162.1,93l.3,14.2 4.1-29.7-.5,3.9zM165.9,90.8l.4,1.6 3.9-14.9-.8,22zM166.7,95.9l.8-13.9 3.1,23.8 .1-28.3zM169.5,97.5l.5,1.3 3.9-18.6-.6,7.2zM170.4,101.2l.4,.8 3.7-2.5 .2-31.4zM170.8,102l.7-9.9 3.8-11.6-.8,19zM171.9,97.2l.3,8.2 3.6-5.2 .4-36.9zM175.7,93.1l.4,4.2 3.7-7.2-.5,1.5zM176.1,97.3l.4,3.2 3.9-14.3-.6,3.9zM181.1,106.1l.7-8.8 3.6-5.3-.3-5.5zM183.2,97.1l0,18.1 4.3-27.8-.6,2zM184.8,89.8l.2,9.9 3.6-1.9-.4-3.1zM189,94l.7-9.4 2.9,20.4-.4-.2zM191.4,92l.5-.9 3.4,5.8-.9,13.6zM191.7,115l1.4-32.7 3.2,10.9-.8,12.6zM198.6,107.1l.6-3.5 3.5-2 0-11.6z"/><path fill="#bb3560" d="M89.5,62.7l.7,13.5 3.6-19.3-.2,13.1zM91.3,61.8l.7,17.4 3.6-23.5-.2,17.8zM92.2,65.8l.2-13 4.3,24.9-.4-3.3zM93.4,57.7l.5,7.8 4-1.5-.4,5.2zM93.9,65.5l.8,20.8 3.5-28.2-.3,5.9zM97.1,71.9l.5,1.7 3.7-12.8-.4,.5zM97.6,73.6l.3-7.2 3.9-3.6-.5-2zM97.9,66.4l.6,7.5 3.9,.7-.6-11.8zM99.7,64.8l.5,7.5 3.8-8.9-.3,8.9zM100.2,72.3l.6,10.8 3.7-20-.5,.3zM104.3,90l.2-28.8 3.9-3.9-.4,9.9zM104.5,61.2l.5,10.5 4,8.7-.6-23.1zM105,71.7l.5,5.1 3.7-27.4-.2,31zM105.9,69.9l.5,10.8 3.7-27-.3,13.7zM106.7,55.3l.7,30.3 3.7-27.6-.4,19.8zM107.4,85.6l.3-16.8 3.9,3.1-.5-13.9zM107.7,68.8l.5,8.6 3.8-16.4-.4,10.9zM108.9,60.3l.6,12.3 3.8-3.9-.4,8.8zM111.3,77.9l.4-7.2 3.9-1.3-.5,1.8zM111.7,70.7l.5,10.6 3.8-8.4-.4-3.5zM114.5,84.6l.3-18.8 3.9,1.6-.4,12.4zM115.6,55.7l.5,2.6 4,26-.5-.1zM116.1,58.3l.5,8.9 3.9,17.3-.4-.2zM117.9,61.7l.5,1.7 3.9,28.1-.5-20.4zM119.7,65.7l.5,17.4 3.8-15-.4,15.4zM122.5,80.2l.4-5.8 3.8,5.7-.4-15.1zM124.7,72.2l.5,10.2 3.8-17.4-.5,11.7zM125.2,82.4l.4-10.8 3.8,12.1-.4-18.7zM127,97.9l.4-35.7 3.9,3.4-.5,13.3zM127.9,75.1l.4,12.4 3.8-8.8-.4-13zM128.3,87.5l.5-20.2 3.8-4.3-.5,15.7zM133.8,76.2l.4,3.1 3.8-5.9-.4,2.2zM134.2,79.3l.5,4.6 3.7-1.7-.4-8.8zM135.6,66.8l.4,27.9 3.8-15.5-.4-2.5zM137.4,90l.4,.5 3.9-28.6-.5,16.4zM140.1,86.2l.4,8.3 3.9-24.7-.5,3.5zM142,80.6l.4-1.2 3.8-5.8-.6,18.8zM142.4,79.4l.4,17.6 3.9-29.8-.5,6.4zM144.2,85.6l.6-14.2 3.7,6.5-.5,6.3zM145.2,76.2l.5,2.2 3.5,14.2-.3-15.1zM147.6,64.5l.3,22.7 3.6,5.1-.4-5.3zM152.1,79.1l.4,5.1 3.6,10.3-.3-16.2zM153.5,77.4l.4,5.7 3.8-9.2-.7,19.3zM154.5,74l.2,24.5 3.8-14.9-.5,2.3zM155.7,90.8l.6-11.3 3.6,4-.4-5zM156.3,79.5l.2,17.7 4-22-.6,8.3zM156.5,97.2l.7-17.1 3.7,.4-.4-5.3zM161.6,95.2l.5-2.2 3.9-11.6-.4-6.3zM163.5,97.7l.7-18.8 3.5,10.6-.3-7.8zM164.6,87.2l.5-1.7 3.5,2.7-.2-9.7zM165.1,85.5l.2,15.1 3.9-19.7-.6,7.3zM166.3,92.4l.4,3.5 4-18.4-.5,0zM167.9,108.6l.8-16.4 4-20.3-.7,10zM169.4,81.3l.1,16.2 3.8-10.1-.2-12.4zM170,98.8l.4,2.4 4.3-33.1-.8,12.1zM173,88.8l.7-12.1 3.4,11-.6,4.3zM173.7,76.7l0,24.6 3.8-12-.4-1.6zM173.7,101.3l.7-12.4 4-20.4-.9,20.8zM174.4,88.9l.3,5.3 3.5,4.4 .2-30.1zM176.5,100.5l.8-15 3.5,2.9-.4-2.2zM179.4,95.1l.3,9.8 4.2-28.4-.4,.6zM182.1,102.3l.8-12 4-17.2-1.4,34zM184.1,98l.7-8.2 3.4,4.9-.4-3.4zM185,99.7l.6-4.8 4-16.2-1,19.1zM185.6,94.9l.5-.7 3.3,9.7 .2-25.2zM186.1,94.2l.9-16.5 3,21.3-.6,4.9zM187.6,92.2l.5,0 3.2,10.1 0-15.8zM193.7,78.3l0,18.6 2.9,18.1 .3-24.6zM193.7,96.9l1.1-21.5 3.2,10-1.4,29.6zM194.9,102.9l.9-12.4 3.6-3.7-.6,3.7zM196.2,92.6l.5-1.5 3.1,14.2-.3-8.2zM196.7,91.1l.6-4.1 3.2,8.7-.7,9.6zM197.9,98.2l.8-9 3,16.1-.1-11.6zM198.7,89.2l-.1,17.9 4.1-17.1-1,15.3zM199.2,103.6l.8-9.7 3.8-8.8-1.1,16.5z"/><path fill="#bf375d" d="M94.7,86.3l-.1-40.2 4.2,20.1-.6-8.1zM95.1,55.8l.7,18.4 3.9-3.1-.6-15.1zM105.5,76.8l.4-6.9 3.9-2.5-.6-18zM106.4,80.7l.3-25.4 4,22.5-.6-24.1zM109.5,72.6l.4-9.2 3.8-2.7-.4,8zM114.8,65.8l.4-12.2 4,26-.5-12.2zM115.2,53.6l.4,2.1 4,28.5-.4-4.6zM117,62.1l.4-18.4 4,39.2-.4,8zM123.4,89.6l.4-28.2 3.8,1.2-.4,10.6zM124.3,68.7l.4,3.5 3.8,4.5-.4-6.8zM129.7,79.9l.4-6.2 3.9-4.1-.5-6.4zM135.1,81.5l.5-14.7 3.8,9.9-.5-.4zM136.4,90.3l.6-23.4 3.8-8.6-.5,18.8zM137,66.9l.4,23.1 3.8-11.7-.4-20zM142.8,97l.7-37.2 3.6,20.6-.4-13.2zM143.5,59.8l.4,8.9 3.5,31.6-.3-19.9zM144.8,71.4l.4,4.8 3.7,1.3-.4,.4zM148.4,81.8l.5-2.4 3.8-11.6-.7,19.9zM149.3,78.6l.5,.4 3.7-2.8-.4-1.1zM149.8,79l.4,3.8 3.8-9-.5,2.4zM150.2,82.8l.4,9.7 4-24.9-.6,6.2zM150.6,92.5l.5-5.5 3.9-16-.4-3.4zM153.9,83.1l.6-9.1 3.5,11.9-.3-12zM157.2,80.1l.5-1.1 3.7-3.9-.5,5.4zM158,89.2l.5-1.3 3.9-12.5-.4-7.6zM158.5,87.9l.5,.5 3.9-19.4-.5,6.4zM164.2,78.9l.4,8.3 3.8-8.7-.7,11zM171.5,92.1l.4,5.1 4.3-33.9-.9,17.2zM177.3,85.5l.6-4 3.3,8.5-.4-1.6zM177.9,81.5l.3,4.8 3.7-3.3-.7,7zM178.2,86.3l.3,8.9 3.9-15.8-.5,3.6zM178.5,95.2l.7-11.3 3.4,8.5-.2-13zM179.2,83.9l.2,11.2 4.1-18-.9,15.3zM179.7,104.9l.4,1.5 4.7-44.9-.9,15zM181,87.9l.1,18.2 4-19.6-.1-13.7zM182.9,90.3l.3,6.8 3.7-7.7 0-16.3zM187,77.7l.3,6 3.3,10.2-.6,5.1zM187.3,83.7l.3,8.5 3.7-5.7-.7,7.4zM194.9,89.6l0,13.3 3.9-12.4-.3-4.8zM195.8,90.5l.4,2.1 3.3,4.5-.1-10.3z"/><path fill="#c63b58" d="M108.2,77.4l.4-4.8 3.7-35.4-.3,23.8zM108.6,72.6l.3-12.3 4,17.2-.6-40.3zM109.9,63.4l.5,11.4 3.8-18.4-.5,4.3zM117.4,43.7l.5,18 3.9,9.4-.4,11.8zM127.4,62.2l.5,12.9 3.8-9.4-.4-.1zM129.3,58.4l.4,21.5 3.8-16.7-.5,10.3zM130.6,56.3l.4,21.8 3.9-5.4-.5-4.3zM131,78.1l.5-14.2 3.8,3.1-.4,5.7zM147.2,66.3l.4-1.8 3.5,22.5-.3-8.4zM148.9,79.4l.4-.8 3.8-3.5-.4-7.3zM157.7,79l.3,10.2 4-21.4-.6,7.3zM159,88.4l.2,11.5 4.5-47.9-.8,17zM159.2,99.9l.7-13.2 3.9-15-.1-19.7zM167.5,82l.6-8.9 4-18-1.5,50.7zM168.1,73.1l-.2,35.5 4.1-26.7 .1-26.8zM168.7,92.2l.7-10.9 3.7-6.3-.4-3.1zM180.1,106.4l.9-18.5 4-15.1-.2-11.3zM193.1,82.3l.6-4 3.2,12.1-.6,2.8zM198.1,77.1l-.2,21.1 3.7-4.5 0-15.2z"/><path fill="#cc3f54" d="M94.6,46.1l.5,9.7 4,.2-.3,10.2zM123.8,61.4l.5,7.3 3.8,1.2-.5-7.3zM128.8,67.3l.5-8.9 3.7,15.1-.4-10.5zM130.1,73.7l.5-17.4 3.8,12.1-.4,1.2zM132.5,59.6l.4,4.6 3.7,14.9-.4-13.8zM194.8,75.4l.1,14.2 3.6-3.9-.5-.3zM197.3,87l.8-9.9 3.5,1.4-1.1,17.2z"/><path fill="#d04251" d="M131.5,63.9l.5,4.4 3.8-4.3-.5,3zM132,68.3l.5-8.7 3.7,5.7-.4-1.3z"/><path fill="#942571" d="M98.9,70.6l.7,24.7 4,4.7-.6-16.2z"/><path fill="#9c286e" d="M99.6,95.3l.2-21.6 3.9-.4-.1,26.7z"/><path fill="#a02a6c" d="M106.6,84.2l.5,7.6 3.9,1.1-.6-18.1zM107.1,91.8l.3-9.3 3.9-4.6-.3,15zM130.8,116.8l.5-24.1 3.8-11.2-.4,2.4zM132.2,90.9l.4,5.7 3.8-6.3-.4,4.4zM142.3,85.4l.3,19.4 3.7,5.6-.2-24.6zM157,95.1l.4,8.8 3.7-3.5-.5-.2zM158.9,93.8l.5-.2 3.4,14.4-.4-.8zM176,108.8l.5,.4 3.6-2.8-.4-1.5z"/><path fill="#a82d69" d="M86.3,83.3l.6,5.5 3.5-24.4-.2,11.8zM86.9,88.8l.3-6.2 3.9-6.4-.7-11.8zM116.4,88.9l.5,3.2 3.8-3.8-.5-5.2zM134,88.2l.5,9 3.7-3.6-.4-3.1zM134.5,97.2l.5-15.9 3.7,16.1-.5-3.8zM142.6,104.8l.6-10 4-28.5-.9,44.1zM147.2,102.5l.7-18.6 3.4,25.5-.2-22.4zM157.4,103.9l.5-3.9 3.7-4.8-.5,5.2zM158.3,102.2l.6-8.4 3.5,13.4-.3-14.2zM175.5,109l.5-.2 3.7-3.9-.3-9.8zM177.4,109.9l.7-8.7 3.7-3.9-.7,8.8z"/><path fill="#ae2f66" d="M87.2,82.6l.4-3.1 3.7-17.7-.2,14.4zM87.6,79.5l.5,5.3 3.9-5.6-.7-17.4zM96.7,75.7l.4-1.9 4.1,9.5-.4-.2zM97.1,73.8l.6,9.2 3.8-11-.3,11.3zM101.7,84.6l.5,2.4 3.7-17.1-.4,6.9zM103.4,82.1l.5,1.2 3.8-14.5-.3,16.8zM107.4,82.5l.6,9.8 3.7-21.6-.4,7.2zM109.1,73.4l.6,14.4 3.9-3.2-.5,2.1zM117.7,87.9l.5-6.5 3.8,8-.4-8.5zM118.2,81.4l.4,6.3 3.9-7.5-.5,9.2zM124,78.7l.5,21.6 3.8-12.8-.4-12.4zM124.5,100.3l.5-12.6 3.8-20.4-.5,20.2zM130.4,78l.4,38.8 3.9-32.9-.5-4.6zM131.7,101.4l.5-10.5 3.8,3.8-.4-27.9zM132.6,96.6l.5,1.4 3.9-31.1-.6,23.4zM135,81.3l.4,4.1 3.8,6.4-.5,5.6zM135.4,85.4l.5,3.5 3.7,5.3-.4-2.4zM137.7,86.7l.4,3.2 3.9-9.3-.6,19.4zM146.9,89.9l.3,12.6 3.9-15.5-.5,5.5zM157.9,100l.4,2.2 3.8-9.2-.5,2.2zM159.4,93.6l.5-2.2 3.6,6.3-.7,10.3zM171.1,96.4l.2,11.1 3.8-6.1-.4-7.2zM176.5,109.2l.5-2.7 4-18.6-.9,18.5zM177,106.5l.4,3.4 3.7-3.8-.1-18.2zM179.4,106.4l.8-15.4 3,24.2 0-18.1z"/><path fill="#b33164" d="M85.5,63.3l.8,20 3.9-7.1-.7-13.5zM88.1,84.8l0-26.7 4.1,7.7-.2,13.4zM92.2,65.9l.6,9.8 3.8-7.3-.2,13.4zM96.1,65.8l.6,9.9 4.1,7.4-.6-10.8zM97.7,83l.3-10.7 4.1,11.2-.6-11.5zM98,72.3l.4-3.7 4.1,15-.4-.1zM98.4,68.6l.5,2 4.1,13.2-.5-.2zM99.8,73.7l.4-1.8 4.1,18.1-.6-16.7zM102.2,87l.2-15.8 4,9.5-.5-10.8zM105.1,69.7l.8,37.3 3.6-34.4-.6-12.3zM105.9,107l.1-33.2 3.9-10.4-.4,9.2zM108,92.3l.2-20.6 4,9.6-.5-10.6zM108.7,68.3l.4,5.1 4,13.3-.4-3.4zM109.7,87.8l.3-18.1 3.9,2.4-.3,12.5zM112.9,103.2l.4-18.2 3.7-22.9-.4,5.1zM115,85.5l.4-10.4 3.9,8-.4-3.6zM115.9,85.9l.5,3 3.8-5.8-.5-17.4zM116.9,92.1l.4-10.3 3.8-11.4-.4,17.9zM117.3,81.8l.4,6.1 3.9-7-.5-10.5zM120.9,85.9l.4-1.3 3.9-2.2-.5-10.2zM122.2,72.2l.5,19.2 3.8-12.6-.4,6.5zM122.7,91.4l.4-22.8 3.9,29.3-.5-19.1zM125.9,87.7l.4,7.1 3.8-21.1-.4,6.2zM129,78.4l.5,17 3.8-.1-.4-31.1zM129.5,95.4l.5-25.2 3.8,6-.5,19.1zM131.3,92.7l.4,8.7 3.9-34.6-.5,14.7zM133.6,73.9l.4,14.3 3.8,2.3-.4-.5zM135.9,88.9l.5-15.3 3.7,12.6-.5,8zM137.3,69l.4,17.7 3.7,13.3-.4-5.4zM138.6,85.1l.4,8.9 3.8,3-.4-17.6zM139,94l.5,.7 4-34.9-.7,37.2zM140.4,88.8l.4,18.7 4-36.1-.6,14.2zM151,95.3l.6-13.4 3.6,9.3-.5,7.3zM155.2,89.2l.4,4.9 3.6,5.8-.2-11.5zM156.9,73.2l.1,21.9 3.6,5.1-.4-3.4zM167.1,83.3l.3,9.6 3.4,9.1-.4-.8zM168.6,79.2l.2,15.4 3.4,10.8-.3-8.2zM170.2,91.1l.2,15.9 4-18.1-.7,12.4zM170.4,107l.7-10.6 3.6-2.2-.3-5.3zM171.3,107.5l.9-17.5 3.5,3.1-.6,8.3zM174.8,100.5l.3,8.3 4.1-24.9-.7,11.3zM175.1,108.8l.4,.2 3.9-13.9-.2-11.2zM178.1,101.2l.5-.5 3.5,1.6-.3-5zM178.6,100.7l.4,.6 3.9-11-.8,12zM179,101.3l.4,5.1 3.8-9.3-.3-6.8zM181.3,104.7l.8-12.5 3.5,2.7-.6,4.8zM182.1,92.2l-.1,21.4 4.1-19.4-.5,.7zM182,113.6l.6-2.6 4.4-33.3-.9,16.5zM184.4,97.7l.1,13.8 4-17.4-.4-1.9zM184.5,111.5l.9-15.5 3.6-2-.5,.1zM185.7,102l.3,3.9 3.5,4.3 .2-25.6zM186,105.9l.9-14.5 3.3,11.2-.7,7.6zM191.8,106.1l.1,12.5 4.3-26-.4-2.1z"/><path fill="#bb3560" d="M88.7,68.6l.5,2.1 4.1,12.1-.9-30zM89.2,70.7l.2-13.6 4,.6-.1,25.1zM89.8,54.3l.6,10.7 4.3,21.3-.8-20.8zM90.4,65l.6,9.5 3.6-28.4 .1,40.2zM91.6,58.7l.6,7.2 4.2,15.9-.6-7.6zM92.8,75.7l.3-3.9 4,.1-.5-3.5zM93.1,71.8l.5,.2 4,1.6-.5-1.7zM93.6,72l.5,4.1 3.8-9.7-.3,7.2zM94.1,76.1l.4-2.2 4,0-.6-7.5zM94.5,73.9l.4-3 4,0-.4,3zM94.9,70.9l.5,2.5 3.9-2-.4-.5zM95.4,73.4l.4,.2 3.9-8.8-.4,6.6zM95.8,73.6l.3-7.8 4.1,6.5-.5-7.5zM100.2,71.9l.4-4.9 3.9-5.8-.2,28.8zM101,65.9l.7,18.7 3.8-7.8-.5-5.1zM102.9,75.2l.5,6.9 4,3.5-.7-30.3zM103.9,83.3l.2-24 4.1,18.1-.5-8.6zM106,73.8l.6,10.4 3.8-9.4-.5-11.4zM108.2,71.7l.5-3.4 4,15-.5-2zM110.4,63.5l.6,18.4 3.8-16.1-.3,18.8zM112.3,73.7l.6,29.5 3.7-36-.5-8.9zM114.6,85.9l.4-.4 3.9-6-.5-16.1zM115.4,75.1l.5,10.8 3.8-20.2-.4,17.4zM118.6,87.7l.5-9.9 3.8-3.4-.4,5.8zM119.1,77.8l.4-1.3 3.9,13.1-.5-15.2zM119.5,76.5l.5,16.4 3.8-31.5-.4,28.2zM120,92.9l.4-12.7 3.9-11.5-.5-7.3zM120.4,80.2l.5,5.7 3.8-13.7-.4-3.5zM121.3,84.6l.5-1.8 3.8-11.2-.4,10.8zM121.8,82.8l.4-10.6 3.9,13.1-.5-13.7zM125.4,94.6l.5-6.9 3.8-7.8-.4-21.5zM127.2,95.1l.5-2.3 3.8-28.9-.5,14.2zM127.7,92.8l.4-5 3.9-19.5-.5-4.4zM133.1,98l.5-24.1 3.8,16.1-.4-23.1zM136.4,73.6l.5-3.4 3.6,24.3-.4-8.3zM136.9,70.2l.4-1.2 3.7,25.6-.5-.1zM138.1,89.9l.5-4.8 3.8-5.7-.4,1.2zM140.8,107.5l.6-22.5 3.8-8.8-.4-4.8zM141.4,85l.4,9.3 3.9-15.9-.5-2.2zM141.8,94.3l.5-8.9 3.8,.4-.4-7.4zM146.5,82.8l.4,7.1 3.7,2.6-.4-9.7zM147.9,83.9l.5-4.5 3.7-.3-.8,30.3zM148.8,78.5l.5-.4 3.6,17.2-.4-11.1zM150.7,78.2l.3,17.1 3.7,3.2-.2-24.5zM151.6,81.9l.4,6.7 3.7,2.2-.5,.4zM152,88.6l.5-2.5 3.8-6.6-.6,11.3zM152.5,86.1l.4,4.6 3.6,6.5-.2-17.7zM152.9,90.7l.5-3.9 3.8-6.7-.7,17.1zM153.8,89l.5-2.8 3.7,3-.3-10.2zM154.3,86.2l.5,1.6 3.7,.1-.5,1.3zM154.8,87.8l.4,1.4 3.8-.8-.5-.5zM155.6,94.1l.7-14.1 3.6,6.7-.7,13.2zM159.9,91.4l.6-11.5 3.7-1-.7,18.8zM161.3,90.1l.6-8.7 3.4,19.2-.2-15.1zM161.9,81.4l.5-.1 3.5,9.5-.6,9.8zM163.3,80.2l.3,15.8 3.9-14-.8,13.9zM164.9,73.1l.1,20.3 3.7-1.2-.8,16.4zM165,93.4l.3,10.2 4.1-22.3-.7,10.9zM165.3,103.6l.8-19.1 3.4,13-.1-16.2zM166.1,84.5l.4,4.5 3.5,9.8-.5-1.3zM166.5,89l.6-5.7 3.3,17.9-.4-2.4zM167.4,92.9l.7-14.8 3.4,14-.7,9.9zM168.8,94.6l.7-12.6 3.5,6.8-.8,16.6zM169.7,92.1l.5-1 3.5,10.2 0-24.6zM172.2,90l.5-2.9 3.4,10.2-.4-4.2zM172.7,87.1l.4,.8 3.4,12.6-.4-3.2zM173.1,87.9l.3,11.4 3.9-13.8-.8,15zM174.5,90.4l.3,10.1 3.7-5.3-.3-8.9zM180.2,91l.8-12.3 3.1,19.3-.9,17.2zM181.1,94.1l.2,10.6 3.7-5-.2-9.9zM183.5,92.8l0,18.5 4.1-19.1-.3-8.5zM183.5,111.3l.9-13.6 3.7-5.5-.5,0zM185.4,96l.3,6 4-17.4-.7,9.4zM186.9,91.4l.4,3.8 3.4,5.4-.5,2zM188.1,100.2l.9-13.9 2.7,28.7 .2-23.9zM191.7,92.8l.1,13.3 4-15.6-.9,12.4zM191.9,118.6l1.4-30.6 3.4,3.1-.5,1.5zM193.8,104.6l.4,1.9 3.7-8.3 .2-21.1zM195.5,93.4l.8-8.6 2.9,18.8-.6,3.5z"/><path fill="#bf375d" d="M91.5,77.4l.1-18.7 4.2,15.5-.7-18.4zM102.4,71.2l.5,4 3.8-19.9-.3,25.4zM104.1,59.3l.5,10.6 4,2.7-.4,4.8zM104.6,69.9l.5-.2 3.8-9.4-.3,12.3zM110,69.7l.4-6.2 4.1,21.1-.6-12.5zM114.1,72.8l.5,13.1 3.8-22.5-.5-1.7zM123.1,68.6l.5,1.5 3.8-7.9-.4,35.7zM125,87.7l.4,6.9 3.9-36.2-.5,8.9zM126.3,94.8l.5-19.8 3.8-18.7-.5,17.4zM126.8,75l.4,20.1 3.8-17-.4-21.8zM128.1,87.8l.5-.3 3.9-27.9-.5,8.7zM130,70.2l.4,7.8 3.8,1.3-.4-3.1zM140,78l.4,10.8 3.8-3.2-.3-16.9zM144.3,71.5l.4,5.6 3.7,4.7-.5,5.4zM145.6,78.1l.4,3.4 3.8-2.5-.5-.4zM146,81.5l.5,1.3 3.7,0-.4-3.8zM148.4,79.4l.4-.9 3.7,5.7-.4-5.1zM149.3,78.1l.4,5.6 3.8-6.3-.6,17.9zM149.7,83.7l.5,.2 3.7-.8-.4-5.7zM153.4,86.8l.4,2.2 3.9-10-.5,1.1zM156.3,80l.6-6.8 3.3,23.6-.3-10.1zM161,82.3l.3,7.8 3.8-4.6-.5,1.7zM162.4,81.3l.6-7.4 3.3,18.5-.4-1.6zM163,73.9l.3,6.3 3.4,15.7-.4-3.5zM163.6,96l.6-8.1 3.9-14.8-.6,8.9zM164.2,87.9l.7-14.8 3,35.5 .2-35.5zM168.1,78.1l.5,1.1 3.3,18-.4-5.1zM173.4,99.3l.6-9.3 3.9-8.5-.6,4zM181,78.7l.1,15.4 3.7-4.3-.7,8.2zM182.6,111l.9-18.2 3.8-9.1-.3-6zM187.3,95.2l.8-13.1 3.3,9.9-.7,8.6zM188.1,82.1l0,18.1 3.8-9.1-.5,.9zM189,86.3l.3,4.5 3.8-8.5-1.4,32.7zM190.3,91l-.1,20.3 4.6-35.9-1.1,21.5zM191.4,85.5l.3,7.3 3.2,10.1 0-13.3zM193.3,103.3l.5,1.3 4.3-27.5-.8,9.9zM194.2,106.5l1.2-23.7 3.3,6.4-.8,9zM195.4,82.8l.1,10.6 3.1,13.7 .1-17.9z"/><path fill="#c63b58" d="M88.1,58.1l.6,10.5 3.7-15.8-.2,13zM91,74.5l.5,2.9 3.6-21.6-.5-9.7zM100.6,67l.4-1.1 4,5.8-.5-10.5zM113.3,85l.4-6.3 3.7-35-.4,18.4zM123.6,70.1l.4,8.6 3.9-3.6-.5-12.9zM128.6,87.5l.4-9.1 3.9-14.2-.4-4.6zM139.5,94.7l.5-16.7 3.9-9.3-.4-8.9zM143.2,94.8l.5-13.1 3.9-17.2-.4,1.8zM143.7,81.7l.6-10.2 3.6,15.7-.3-22.7zM144.7,77.1l.5-6.1 3.7,8.4-.5,2.4zM145.2,71l.4,7.1 3.7,.5-.4,.8zM150.2,83.9l.5-5.7 3.8-4.2-.6,9.1zM160.5,79.9l.5,2.4 3.6,4.9-.4-8.3zM169.5,82l.2,10.1 4-15.4-.7,12.1zM174,90l.5,.4 3.7-4.1-.3-4.8zM189.6,97.7l.7-6.7 3.4,5.9 0-18.6zM190.2,111.3l1.2-25.8 3.5,4.1-.1-14.2zM193.3,88l0,15.3 4-16.3-.6,4.1zM196.3,84.8l.4,1.8 3.3,7.3-.8,9.7z"/><path fill="#cc3f54" d="M89.4,57.1l.4-2.8 4.1,11.2-.5-7.8zM111,81.9l.3-17.4 3.9-10.9-.4,12.2zM189.3,90.8l.3,6.9 4.1-19.4-.6,4z"/><path fill="#d04251" d="M111.8,66.6l.5,7.1 3.8-15.4-.5-2.6zM113.7,78.7l.4-5.9 3.8-11.1-.5-18z"/><path fill="#da4b49" d="M111.3,64.5l.5,2.1 3.8-10.9-.4-2.1z"/><path fill="#9c286e" d="M126.5,99.3l.5-.3 3.8,17.8-.4-38.8z"/><path fill="#a02a6c" d="M97.8,91l.4-4.1 4,.1-.5-2.4zM127,99l.5-24 3.8,17.7-.5,24.1zM128.8,92.7l.5,6.7 3.8-1.4-.5-1.4zM171.4,112.3l.4,.1 3.7-3.4-.4-.2z"/><path fill="#a82d69" d="M82.1,73.7l.5,3.6 4.3,11.5-.6-5.5zM82.6,77.3l.4-.3 4.2,5.6-.3,6.2zM83,77l.7,9.9 3.9-7.4-.4,3.1zM83.7,86.9l.2-9.4 4.2,7.3-.5-5.3zM127.9,91.4l.5-.3 3.8-.2-.5,10.5zM171.1,102.9l.3,9.4 3.7-3.5-.3-8.3zM171.8,112.4l.8-12.6 3.4,9-.5,.2z"/><path fill="#ae2f66" d="M91.5,85.6l.5,3.2 3.8-15.2-.4-.2zM95.1,86l.3-9.6 4.2,18.9-.7-24.7zM95.4,76.4l.6,13.5 3.8-16.2-.2,21.6zM96,89.9l.5,5.6 3.7-23.6-.4,1.8zM96.5,95.5l.4-2.4 3.7-26.1-.4,4.9zM97.4,90.9l.4,.1 3.9-6.4-.7-18.7zM105.4,93l.4-3.5 3.9-1.7-.6-14.4zM106.8,102l.4-8.6 3.8-11.5-.6-18.4zM108.4,79.1l.5,13.5 4,10.6-.6-29.5zM108.9,92.6l.3-26.9 4.1,19.3-.4,18.2zM114.3,88.7l.5,6.9 3.8-7.9-.4-6.3zM114.8,95.6l.4-5.7 3.9-12.1-.5,9.9zM121.1,78.2l.5,20 3.8-3.6-.4-6.9zM125.6,99.3l.5,.5 3.9-29.6-.5,25.2zM128.4,91.1l.4,1.6 3.8,3.9-.4-5.7zM129.3,99.4l.4-5.3 3.9-20.2-.5,24.1zM136.6,98.9l.5-14.7 3.7,23.3-.4-18.7zM167.4,99.3l.2,9.9 3.7-1.7-.2-11.1zM172.6,99.8l.3,6.2 3.6,3.2-.5-.4zM172.9,106l.7-10.8 3.4,11.3-.5,2.7zM173.6,95.2l.3,9.6 3.5,5.1-.4-3.4zM178.9,96l.2,12.5 3.5,2.5-.6,2.6zM181.4,91.1l-.4,35.8 4.4-30.9-.9,15.5zM181,126.9l1-20 3.7-4.9-.3-6zM182,106.9l.1,11.7 3.9-12.7-.3-3.9zM182.1,118.6l.7-8.3 4.1-18.9-.9,14.5z"/><path fill="#b33164" d="M89.1,69.5l.9,29.1 3.6-26.6-.5-.2zM90,98.6l0-27.3 4.1,4.8-.5-4.1zM91,77.3l.5,8.3 3.9-12.2-.5-2.5zM92,88.8l.3-8.5 3.8-14.5-.3,7.8zM92.7,74.8l.6,11.3 3.8-12.3-.4,1.9zM93.3,86.1l.3-12.2 4.1,9.1-.6-9.2zM93.6,73.9l.6,15.2 3.8-16.8-.3,10.7zM96.9,93.1l.5-2.2 3.6-25-.4,1.1zM101.1,67.2l.5,7.8 4.3,32-.8-37.3zM101.6,75l.4-6.6 4,5.4-.1,33.2zM105.8,89.5l.4-5.9 3.8-13.9-.3,18.1zM110.7,87l.4-10.6 3.9,9.1-.4,.4zM112.4,77.6l.5,2.4 4,12.1-.5-3.2zM112.9,80l.5,.6 3.9,1.2-.4,10.3zM115.6,75l.6,26.8 3.8-8.9-.5-16.4zM116.2,101.8l.3-34.7 3.9,13.1-.4,12.7zM117,92l.4-13.8 3.9,6.4-.4,1.3zM120.6,77.3l.5,.9 3.9,9.5-.5,12.6zM121.6,98.2l.3-36.1 4,25.6-.5,6.9zM123.8,78.8l.5,7.3 3.8,1.7-.4,5zM125.2,74.1l.4,25.2 3.9-3.9-.5-17zM126.1,99.8l.4-.5 3.9-21.3-.4-7.8zM127.5,75l.4,16.4 3.8,10-.4-8.7zM130.2,88.1l.5-3.8 3.8,12.9-.5-9zM130.7,84.3l.4,13 3.9-16-.5,15.9zM134.8,94.9l.5-8.2 3.7,7.3-.4-8.9zM135.3,86.7l.4,8 3.8,0-.5-.7zM135.7,94.7l.4,5.3 3.9-22-.5,16.7zM136.1,100l.5-1.1 3.8-10.1-.4-10.8zM137.1,84.2l.4,7.6 3.9-6.8-.6,22.5zM137.5,91.8l.5,2.7 3.8-.2-.4-9.3zM143.1,93.7l.5-7.5 3.6,16.3-.3-12.6zM145.3,101.5l.4,10.4 4-28.2-.4-5.6zM146.6,109.5l.7-17.2 3.7,3-.3-17.1zM153.9,83.9l.4,10.1 3.6,6-.5,3.9zM154.3,94l.6-11 3.4,19.2-.4-2.2zM167.6,109.2l.8-15.1 3.8-4.1-.9,17.5zM169.7,99.1l.2,13.8 4.1-22.9-.6,9.3zM169.9,112.9l.4,3.8 4.2-26.3-.5-.4zM170.3,116.7l.8-13.8 3.7-2.4-.3-10.1zM173.9,104.8l.9-19.8 3.3,16.2-.7,8.7zM178.1,107.4l.8-11.4 3.1,17.6 .1-21.4zM179.1,108.5l.4-.8 4-14.9-.9,18.2zM180.4,92l0,21.7 4-16-.9,13.6zM180.4,113.7l1-22.6 3.1,20.4-.1-13.8zM186.3,107.4l.3,5.8 3.6-1.9 .1-20.3z"/><path fill="#bb3560" d="M81.7,73.4l.4,.3 4.2,9.6-.8-20zM83.9,77.5l.4-2.9 3.8-16.5 0,26.7zM86.9,70.6l.5,6.8 4.1,0-.5-2.9zM87.4,77.4l.5,2.6 3.7-21.3-.1,18.7zM87.9,80l.7,12.8 3.6-26.9-.6-7.2zM88.6,92.8l0-25.1 4.2,8-.6-9.8zM90,71.3l.5,1.9 4,.7-.4,2.2zM90.5,73.2l.5,4.1 3.9-6.4-.4,3zM92.3,80.3l.4-5.5 4,.9-.6-9.9zM98.2,86.9l.2-21.9 4,6.2-.2,15.8zM98.8,65l.6,13.6 4,3.5-.5-6.9zM99.4,78.6l.2-19.2 4.3,23.9-.5-1.2zM102.5,69.3l.4-1.4 4.2,23.9-.5-7.6zM102.9,67.9l.5,2.6 4,12-.3,9.3zM103.4,70.5l.4-5.2 4.2,27-.6-9.8zM103.8,65.3l.6,14.3 3.8-7.9-.2,20.6zM104.8,81.4l.6,11.6 3.7-19.6-.4-5.1zM106.2,83.6l.6,18.4 3.6-38.5-.4,6.2zM108,92.1l.4-13 3.9-5.4-.5-7.1zM110.2,81.1l.5,5.9 3.9-1.1-.5-13.1zM111.1,76.4l.5,4.6 3.8-5.9-.4,10.4zM111.6,81l.3-8.5 4,13.4-.5-10.8zM111.9,72.5l.5,5.1 4,11.3-.5-3zM113.4,80.6l.3-12.3 4,19.6-.4-6.1zM113.7,68.3l.6,20.4 3.9-7.3-.5,6.5zM115.2,89.9l.4-14.9 3.9,1.5-.4,1.3zM116.5,67.1l.5,24.9 3.9-6.1-.5-5.7zM117.4,78.2l.5-5.4 3.9,10-.5,1.8zM118.3,79.4l.5,10 3.9,2-.5-19.2zM120.1,74.7l.5,2.6 3.9,23-.5-21.6zM121.9,62.1l.5,16 3.9,16.7-.4-7.1zM122.4,78.1l.5,3.3 3.9-6.4-.5,19.8zM123.3,67.4l.5,11.4 3.9,14-.5,2.3zM124.3,86.1l.4-12.4 3.9,13.8-.5,.3zM129.7,94.1l.5-6 3.8,.1-.4-14.3zM133.9,81.6l.5,3.1 3.7,5.2-.4-3.2zM134.4,84.7l.4,10.2 3.8-9.8-.5,4.8zM139,79.8l.5-12.9 3.7,27.9-.6,10zM141.7,94.8l.4,8.1 3.9-21.4-.4-3.4zM142.1,102.9l.6-24.4 3.8,4.3-.5-1.3zM143.6,86.2l.5-3.4 3.8,1.1-.7,18.6zM145.7,111.9l.7-30.1 3.8,2.1-.5-.2zM146.4,81.8l.2,27.7 4.1-31.3-.5,5.7zM148.7,85.9l.4,12.6 3.8-7.8-.4-4.6zM149.1,98.5l.6-13.1 3.7,1.4-.5,3.9zM149.7,85.4l.3,10.8 3.8-7.2-.4-2.2zM150,96.2l.6-9 3.7-1-.5,2.8zM150.6,87.2l.3,11.8 3.9-11.2-.5-1.6zM150.9,99l.7-15.2 3.6,5.4-.4-1.4zM151.6,83.8l.2,17.5 3.8-7.2-.4-4.9zM151.8,101.3l.7-16.6 3.8-4.7-.7,14.1zM153.4,83.6l.5,.3 3.5,20-.4-8.8zM154.9,83l.3,9.5 3.7,1.3-.6,8.4zM159.2,107.1l.8-23.3 3.6,12.2-.3-15.8zM167.4,70.8l0,28.5 3.7-2.9-.7,10.6zM175.6,90.9l.4,6.8 3.4,8.7-.4-5.1zM177.4,96l.6-5.7 3.3,14.4-.2-10.6zM178,90.3l.1,17.1 4-15.2-.8,12.5zM179.5,107.7l.9-15.7 3.1,19.3 0-18.5zM186.6,113.2l.7-8.3 4.1-19.4-1.2,25.8zM187.3,104.9l.2,9.9 4.2-22-.3-7.3zM187.5,114.8l1.3-28.4 3,19.7-.1-13.3zM188.8,86.4l.2,11.1 2.9,21.1-.1-12.5zM189,97.5l.4,1.6 3.9-11.1-1.4,30.6zM190.7,103.9l.2,11.5 4.5-32.6-1.2,23.7zM190.9,115.4l.6-4.8 4-17.2-.1-10.6z"/><path fill="#bf375d" d="M84.3,74.6l.4-.9 4-5.1-.6-10.5zM84.7,73.7l.3-8.6 4.2,5.6-.5-2.1zM86.3,60.2l.6,10.4 4.1,3.9-.6-9.5zM88.6,67.7l.5,1.8 4,2.3-.3,3.9zM94.2,89.1l0-36.9 4.2,16.4-.4,3.7zM94.2,52.2l.9,33.8 3.8-15.4-.5-2zM102,68.4l.5,.9 4.1,14.9-.6-10.4zM104.4,79.6l.4,1.8 3.9-13.1-.5,3.4zM107.2,93.4l.2-28.4 3.9-.5-.3,17.4zM109.6,62.5l.6,18.6 3.9-8.3-.4,5.9zM117.9,72.8l.4,6.6 3.9-7.2-.4,10.6zM118.8,89.4l.4-20.1 3.9-.7-.4,22.8zM122.9,81.4l.4-14 3.9,27.7-.4-20.1zM124.7,73.7l.5,.4 3.8,4.3-.4,9.1zM131.1,97.3l.5-29.9 3.8,18-.4-4.1zM131.6,67.4l.5,10.9 3.8,10.6-.5-3.5zM133.4,90.8l.5-9.2 3.8,5.1-.4-17.7zM138,94.5l.6-30.5 3.7,21.4-.5,8.9zM138.6,64l.4,15.8 3.6,25-.3-19.4zM139.5,66.9l.4,20.5 3.8-5.7-.5,13.1zM139.9,87.4l.4,9.1 4-25-.6,10.2zM141.2,95.1l.5-.3 3.9-16.7-.4-7.1zM142.7,78.5l.4,15.2 3.8-3.8-.4-7.1zM144.1,82.8l.4,10.1 3.9-13.5-.5,4.5zM144.5,92.9l.5-3.2 3.8-11.2-.4,.9zM145,89.7l.3,11.8 4-23.4-.5,.4zM147.3,92.3l.6-19 3.7,8.6-.6,13.4zM148.3,81.5l.4,4.4 3.8,.2-.5,2.5zM152.8,101.6l.6-18 3.6,11.5-.1-21.9zM155.2,92.5l.7-13.3 3.5,14.4-.5,.2zM157.1,91.8l.6-7 3.6,5.3-.3-7.8zM157.7,84.8l.3,8.1 3.9-11.5-.6,8.7zM158.9,96.1l.3,11 4.1-26.9-.3-6.3zM160,83.8l.4,9.1 3.8-5-.6,8.1zM160.4,92.9l.4,4.6 4.1-24.4-.7,14.8zM161.6,78l.3,9.9 3.4,15.7-.3-10.2zM161.9,87.9l.6-10.1 3.6,6.7-.8,19.1zM162.8,87.2l.2,16.8 4.1-20.7-.6,5.7zM163,104l.9-23.2 3.5,12.1-.3-9.6zM165.7,86.4l.3,11.5 3.7-5.8-.2-10.1zM166,97.9l.8-20.6 3.4,13.8-.5,1zM168.4,94.1l.4,4.3 3.9-11.3-.5,2.9zM169.5,86.1l.2,13 3.7,.2-.3-11.4zM174.8,85l.4,1.7 3.4,14-.5,.5zM175.2,86.7l.4,4.2 3.4,10.4-.4-.6zM176,97.7l.7-9.6 3.5,2.9-.8,15.4zM176.8,102.9l.6-6.9 3.7-1.9-.1-15.4zM182.8,110.3l1-19.9 3.5,4.8-.4-3.8zM183.8,90.4l0,19.5 4.3-27.8-.8,13.1zM183.8,109.9l.8-11.5 3.5,1.8 0-18.1zM184.6,98.4l.4,2.3 4-14.4-.9,13.9zM186.1,95l.2,12.4 4-16.4-.7,6.7zM189.4,99.1l.5-.5 3.4,4.7 0-15.3zM189.9,98.6l1-16.5 2.9,22.5-.5-1.3zM190.9,82.1l-.2,21.8 3.5,2.6-.4-1.9zM191.5,110.6l.4,1.6 4.4-27.4-.8,8.6z"/><path fill="#c63b58" d="M85,65.1l.5,2.9 3.9-10.9-.2,13.6zM98.4,65l.4,0 4.1,10.2-.5-4zM99.6,59.4l.6,12.6 3.9-12.7-.2,24zM107.4,65l.6,27.1 3.8-25.5-.5-2.1zM109.2,65.7l.4-3.2 4.1,16.2-.4,6.3zM132.1,78.3l.4-.2 3.9-4.5-.5,15.3zM132.5,78.1l.5,11.8 3.9-19.7-.5,3.4zM133,89.9l.4,.9 3.9-21.8-.4,1.2zM140.3,96.5l.5-14.1 3.9-5.3-.4-5.6zM140.8,82.4l.4,12.7 4-24.1-.5,6.1zM152.5,84.7l.3,16.9 4.1-28.4-.6,6.8zM155.9,79.2l.5-4.6 3.5,16.8-.5,2.2zM158,92.9l.5-.8 3.9-10.8-.5,.1zM158.5,92.1l.4,4 4.1-22.2-.6,7.4zM160.8,97.5l.8-19.5 3.4,15.4-.1-20.3zM164.8,85.4l.3,7.8 3.7,1.4-.2-15.4zM165.1,93.2l.6-6.8 3.8-4.4-.7,12.6zM166.8,77.3l.6-6.5 3,36.2-.2-15.9zM168.8,98.4l.7-12.3 3.6,1.8-.4-.8zM176.7,88.1l.1,14.8 4.2-24.2-.8,12.3zM185,100.7l.6-5.4 3.7-4.5-.3-4.5zM185.6,95.3l.5-.3 3.5,2.7-.3-6.9zM191.9,112.2l1.1-18.4 3.7-7.2-.4-1.8z"/><path fill="#cc3f54" d="M85.5,68l.6,7.4 3.7-21.1-.4,2.8zM86.1,75.4l.2-15.2 4.1,4.8-.6-10.7zM100.2,72l.4-10.1 4,8-.5-10.6zM100.6,61.9l.5,5.3 4,2.5-.5,.2zM119.7,68.6l.4,6.1 3.9,4-.4-8.6zM147.9,73.3l.4,8.2 3.7,7.1-.4-6.7zM156.4,74.6l.4,6.7 3.7-1.4-.6,11.5zM156.8,81.3l.3,10.5 3.9-9.5-.5-2.4zM162.5,77.8l.3,9.4 3.7,1.8-.4-4.5zM163.9,80.8l.4,5.4 3.8-8.1-.7,14.8z"/><path fill="#d04251" d="M119.2,69.3l.5-.7 3.9,1.5-.5-1.5zM164.3,86.2l.5-.8 3.8-6.2-.5-1.1z"/><path fill="#9c286e" d="M86,100.8l.3-8.7 3.7-20.8 0,27.3z"/><path fill="#a02a6c" d="M85.3,86l.7,14.8 4-2.2-.9-29.1zM132.3,112.7l.5-10.3 3.8-3.5-.5,1.1zM142.9,110.7l.4-.4 4-18-.7,17.2zM163.9,114.6l.1,17.9 4.4-38.4-.8,15.1z"/><path fill="#a82d69" d="M121.7,86.7l.5,18.8 3.9-5.7-.5-.5zM124.5,93.1l.5,20.3 3.8-20.7-.4-1.6zM125,113.4l.4-24.6 3.9,10.6-.5-6.7zM131.8,94.3l.5,18.4 3.8-12.7-.4-5.3zM163.4,114l.5,.6 3.7-5.4-.2-9.9zM166.3,110.1l.7-12.6 3.3,19.2-.4-3.8zM178.3,107.9l.2,10.6 3.6,.1-.1-11.7zM179.7,128.6l.8-11.2 4.1-19-.8,11.5z"/><path fill="#ae2f66" d="M78.9,93l.1-12.8 4-3.2-.4,.3zM83.9,78.9l.6,10.4 4.1,3.5-.7-12.8zM84.5,89.3l.4-1.2 3.7-20.4 0,25.1zM86.3,92.1l.6,7.1 3.6-26-.5-1.9zM87,83.2l.6,9.3 3.9-6.9-.5-8.3zM87.6,92.5l.2-14.3 4.2,10.6-.5-3.2zM87.8,78.2l.7,14.5 3.8-12.4-.3,8.5zM91.9,80l.4-1.2 4.2,16.7-.5-5.6zM92.3,78.8l.5,1.4 4.1,12.9-.4,2.4zM93.1,72.7l.7,17 4,1.3-.4-.1zM102.6,74.1l.6,15.5 4,3.8-.4,8.6zM106.4,97.9l.4-2.4 3.9-8.5-.5-5.9zM110.5,104.8l.2-26.5 4.1,17.3-.5-6.9zM111.8,99.5l.4-2.7 4,5-.6-26.8zM122.2,105.5l.4-27.2 3.9,21-.4,.5zM136.4,113l.5-9.1 3.9-21.5-.5,14.1zM142.5,103.9l.4,6.8 3.7-1.2-.2-27.7zM148,108.6l.4,1.6 4.1-25.5-.7,16.6zM154.5,112.5l.5-1.9 3.9-14.5-.4-4zM164,132.5l1-28.2 3.8-5.9-.4-4.3zM178.5,118.5l.9-16.5 3.4,8.3-.7,8.3zM179.6,114.7l.1,13.9 4.1-18.7 0-19.5zM183.8,99.8l-.2,26.4 3.9-11.4-.2-9.9z"/><path fill="#b33164" d="M78.1,78.7l.8,14.3 3.7-15.7-.5-3.6zM79,80.2l.4-4 4.3,10.7-.7-9.9zM79.4,76.2l.5,3.7 4-2.4-.2,9.4zM80.1,65.8l1.1,33.1 3.5-25.2-.4,.9zM86.9,99.2l.1-16 4-5.9-.5-4.1zM88.5,92.7l.3-10 3.9-7.9-.4,5.5zM88.8,82.7l.5,6.5 4-3.1-.6-11.3zM89.3,89.2l.2-15.3 4.1,0-.3,12.2zM91,80l.5,3.1 3.9-6.7-.3,9.6zM91.5,83.1l.4-3.1 4.1,9.9-.6-13.5zM92.8,80.2l.3-7.5 4.3,18.2-.5,2.2zM93.8,89.7l.2-18 4.2,15.2-.4,4.1zM97.3,84.9l.8,29.7 3.5-39.6-.5-7.8zM102.2,80.3l.4-6.2 4.2,27.9-.6-18.4zM103.2,89.6l.5,7.2 3.7-31.8-.2,28.4zM103.7,96.8l.4,.4 3.9-5.1-.6-27.1zM104.1,97.2l.3-14.2 4-3.9-.4,13zM104.4,83l.6,14.5 3.9-4.9-.5-13.5zM105,97.5l.5,.2 3.7-32-.3,26.9zM106.8,95.5l.5,1 3.8-20.1-.4,10.6zM107.3,96.5l.4-1.7 3.9-13.8-.5-4.6zM109.9,92.1l.6,12.7 3.8-16.1-.6-20.4zM112.2,96.8l.4-7.9 3.9-21.8-.3,34.7zM113.2,99.9l.3-12.4 3.9-9.3-.4,13.8zM114.4,83.1l.6,17.3 3.8-11-.5-10zM117.2,91l.4-3.9 4,11.1-.5-20zM119.9,95.8l.5,4.9 3.9-14.6-.5-7.3zM121.3,102.3l.4-15.6 3.9,12.6-.4-25.2zM122.6,78.3l.5,17.8 3.9,2.9-.5,.3zM123.1,96.1l.5-5.3 3.9-15.8-.5,24zM124,88.3l.5,4.8 3.9-2-.5,.3zM125.4,88.8l.5-.1 3.8,5.4-.4,5.3zM125.9,88.7l.4,5.5 3.9-6.1-.5,6zM126.3,94.2l.5,11.6 3.9-21.5-.5,3.8zM126.8,105.8l.5-28.2 3.8,19.7-.4-13zM132.8,102.4l.4-11.8 3.9-6.4-.5,14.7zM136,89.5l.4,23.5 3.9-16.5-.4-9.1zM137.9,85.6l.4,11.3 3.8,6-.4-8.1zM140.1,107.7l.5-6 3.9-8.8-.4-10.1zM140.6,101.7l.5-5.2 3.9-6.8-.5,3.2zM141.1,96.5l.4,3.7 3.8,1.3-.3-11.8zM141.5,100.2l.7-25.9 3.5,37.6-.4-10.4zM143.3,110.3l.5,4.2 4.1-41.2-.6,19zM146.7,92.7l.4,17.1 3.8-10.8-.3-11.8zM147.1,109.8l.6-14.3 3.9-11.7-.7,15.2zM147.7,95.5l.3,13.1 3.8-7.3-.2-17.5zM148.4,110.2l.6-5.5 3.8-3.1-.3-16.9zM150.8,108.5l.5,.9 3.9-16.9-.3-9.5zM152.6,111.4l.5,.1 4-19.7-.3-10.5zM153.1,111.5l.5-3.5 4.1-23.2-.6,7zM154.2,99.4l.3,13.1 4-20.4-.5,.8zM155,110.6l.7-20.1 3.5,16.6-.3-11zM167,97.5l.4,5.1 3.7,.3-.8,13.8zM171.9,117l.5-1.2 4.3-27.7-.7,9.6zM173.1,103.3l.2,14.1 4.1-21.4-.6,6.9zM173.3,117.4l.3,7.8 4.4-34.9-.6,5.7zM174.8,115.7l.7-11.8 3.6,4.6-.2-12.5zM178.5,80.9l-.2,27 3.7-1-1,20zM180.5,117.4l.5-1.9 4-14.8-.4-2.3zM182.8,102.6l.4,3.2 3.4,7.4-.3-5.8zM183.6,126.2l.9-16 4.3-23.8-1.3,28.4zM186.5,125.1l1.2-24 3.2,14.3-.2-11.5z"/><path fill="#bb3560" d="M77.4,67.9l.7,10.8 4-5-.4-.3zM79.9,79.9l.2-14.1 4.2,8.8-.4,2.9zM81.2,98.9l-.2-31.3 4-2.5-.3,8.6zM81.9,92.4l.1-19.3 4.1,2.3-.6-7.4zM83,77.8l.3-6.6 4.1,6.2-.5-6.8zM83.3,71.2l.6,7.7 4,1.1-.5-2.6zM84.9,88.1l.4-2.1 3.8-16.5-.5-1.8zM89.5,73.9l.5,2 4.2,13.2-.6-15.2zM96.4,86.2l.5,5.5 3.7-29.8-.4,10.1zM98.1,114.6l-.1-42.3 4-3.9-.4,6.6zM100.4,83.3l.4-7.3 4,5.4-.4-1.8zM100.8,76l.4-1.7 4.2,18.7-.6-11.6zM101.2,74.3l.4-4 4.2,19.2-.4,3.5zM101.6,70.3l.6,10 4,3.3-.4,5.9zM105.9,91.6l.5,6.3 3.8-16.8-.6-18.6zM108.6,99.8l.3-24 4,4.2-.5-2.4zM109.5,88.3l.4,3.8 3.8-23.8-.3,12.3zM110.7,78.3l.5-7.1 4,18.7-.4,5.7zM111.2,71.2l.6,28.3 3.8-24.5-.4,14.9zM112.6,88.9l.6,11 3.8-7.9-.5-24.9zM113.5,87.5l.6,14.1 3.8-28.8-.5,5.4zM114.1,101.6l.3-18.5 3.9-3.7-.4-6.6zM115,100.4l.3-17.4 3.9-13.7-.4,20.1zM120.4,100.7l.4-6.9 3.9-20.1-.4,12.4zM120.8,93.8l.5,8.5 3.9-28.2-.5-.4zM123.6,90.8l.4-2.5 3.9,3.1-.4-16.4zM130.5,81.8l.4,13.5 3.9-.4-.4-10.2zM130.9,95.3l.5-4 3.9-4.6-.5,8.2zM131.4,91.3l.4,3 3.9,.4-.4-8zM133.2,90.6l.5-2.2 3.8,3.4-.4-7.6zM133.7,88.4l.5,5.5 3.8,.6-.5-2.7zM138.3,96.9l.5-11.6 3.9-6.8-.6,24.4zM139.3,91.9l.4,.6 3.9-6.3-.5,7.5zM139.7,92.5l.4,15.2 4-24.9-.5,3.4zM142.2,74.3l.3,29.6 3.9-22.1-.7,30.1zM143.8,114.5l.4-3 4.1-30-.4-8.2zM144.2,111.5l.6-14.5 3.9-11.1-.4-4.4zM144.8,97l.6-6.1 3.7,7.6-.4-12.6zM145.4,90.9l.3,13.9 4-19.4-.6,13.1zM145.7,104.8l.6-11.4 3.7,2.8-.3-10.8zM146.3,93.4l.4-.7 3.9-5.5-.6,9zM149,104.7l.5-5.1 3.9-16-.6,18zM149.5,99.6l.3,17.9 4.1-33.6-.5-.3zM149.8,117.5l.7-25.3 3.8,1.8-.4-10.1zM150.5,92.2l.3,16.3 4.1-25.5-.6,11zM151.3,109.4l.4-.2 4.2-30-.7,13.3zM151.7,109.2l.5,2 4.2-36.6-.5,4.6zM152.2,111.2l.4,.2 4.2-30.1-.4-6.7zM153.6,108l.6-8.6 3.8-6.5-.3-8.1zM156.6,95.2l.5,.1 3.7,2.2-.4-4.6zM162.2,101.1l.3,13.2 4.3-37-.8,20.6zM166.3,86.4l0,23.7 3.6,2.8-.2-13.8zM167.4,102.6l.7-12.8 3.3,22.5-.3-9.4zM168.1,89.8l.7-7.9 3,30.5-.4-.1zM170.3,99.7l.3,11 4.2-25.7-.9,19.8zM171.8,98.4l.1,18.6 4.1-19.3-.4-6.8zM172.4,115.8l.7-12.5 3.7-.4-.1-14.8zM173.6,125.2l1.4-40.7 3.1,22.9-.1-17.1zM175,84.5l-.2,31.2 4.1-19.7-.8,11.4zM175.5,103.9l1-22.2 3,26-.4,.8zM177.3,90.7l-.1,22.1 4.2-21.7-1,22.6zM177.2,112.8l1.3-31.9 2.5,46 .4-35.8zM179.4,102l.2,12.7 4.2-24.3-1,19.9zM183.2,105.8l.6-6 3.5,5.1-.7,8.3zM187.7,101.1l.5-1.9 3.3,11.4-.6,4.8zM188.2,99.2l.4,3.7 3.3,9.3-.4-1.6z"/><path fill="#bf375d" d="M81,67.6l.9,24.8 3.6-24.4-.5-2.9zM82,73.1l.6,11.8 3.7-24.7-.2,15.2zM82.6,84.9l.4-7.1 3.9-7.2-.6-10.4zM90,75.9l.6,6 3.6-29.7 0,36.9zM90.6,81.9l.4-1.9 4.1,6-.9-33.8zM96,88.2l.4-2 3.8-14.2-.6-12.6zM96.9,91.7l.4-6.8 3.8-17.7-.5-5.3zM99,77.6l.5,8.2 3.9-15.3-.5-2.6zM99.9,76.2l.5,7.1 4-3.7-.6-14.3zM105.5,97.7l.4-6.1 3.7-29.1-.4,3.2zM107.7,94.8l.2-25.4 4,3.1-.3,8.5zM107.9,69.4l.7,30.4 3.8-22.2-.5-5.1zM108.9,75.8l.6,12.5 3.9-7.7-.5-.6zM115.3,83l.6,17.7 3.8-32.1-.5,.7zM115.9,100.7l.4-11.9 3.8-14.1-.4-6.1zM116.7,77.5l.5,13.5 3.9-12.8-.5-.9zM117.6,87.1l.5,.4 3.8-25.4-.3,36.1zM118.5,76.5l.5,14.5 3.9-9.6-.5-3.3zM119,91l.4-5.7 3.9-17.9-.4,14zM119.4,85.3l.5,10.5 3.9-17-.5-11.4zM128.2,98.2l.4-9.5 3.9-10.6-.4,.2zM128.6,88.7l.5-4.7 3.9,5.9-.5-11.8zM129.1,84l.5-3.4 3.8,10.2-.4-.9zM134.2,93.9l.4-6.8 4-23.1-.6,30.5zM136.9,103.9l.6-28.7 3.7,19.9-.4-12.7zM137.5,75.2l.4,10.4 3.8,9.2-.5,.3zM138.8,85.3l.5,6.6 3.8,1.8-.4-15.2zM155.7,90.5l.4,6.2 3.9-12.9-.8,23.3zM156.1,96.7l.5-1.5 3.8-2.3-.4-9.1zM159.7,79.5l.1,26.3 4.1-25-.9,23.2zM159.8,105.8l.5-3.6 4-16-.4-5.4zM160.9,93l.3,8.4 3.9-8.2-.3-7.8zM161.2,101.4l.7-9.2 3.8-5.8-.6,6.8zM161.9,92.2l.3,8.9 3.8-3.2-.3-11.5zM163.3,90.1l.1,23.9 4-14.7 0-28.5zM165,104.3l.8-16 3.7-2.2-.7,12.3zM168.8,81.9l.2,14.3 3.6,3.6-.8,12.6zM169,96.2l.7-15.3 3.2,25.1-.3-6.2zM170.1,88.6l.2,11.1 3.6,5.1-.3-9.6zM170.6,110.7l.6-6.4 4-17.6-.4-1.7zM181,115.5l1-20.6 3.6,.4-.6,5.4zM182.4,98l.4,4.6 3.5,4.8-.2-12.4zM185.6,104.3l.7-7.1 3.6,1.4-.5,.5zM186.7,100.6l-.2,24.5 4.2-21.2 .2-21.8zM188.6,102.9l.6-5.7 3.8-3.4-1.1,18.4z"/><path fill="#c63b58" d="M94,71.7l.4-3 4-3.7-.2,21.9zM95.2,63.4l.8,24.8 3.6-28.8-.2,19.2zM98,72.3l.6,6.5 3.9-9.5-.5-.9zM98.6,78.8l.4-1.2 3.9-9.7-.4,1.4zM99.5,85.8l.4-9.6 3.9-10.9-.4,5.2zM116.3,88.8l.4-11.3 3.9-.2-.5-2.6zM127.3,77.6l.4,9.1 3.9-19.3-.5,29.9zM127.7,86.7l.5,11.5 3.9-19.9-.5-10.9zM129.6,80.6l.4-2.8 3.9,3.8-.5,9.2zM130,77.8l.5,4 3.9,2.9-.5-3.1zM135.6,87.6l.4,1.9 3.9-2.1-.4-20.5zM158,96.7l.5-1.5 4-17.4-.6,10.1zM159,94.7l.7-15.2 3.3,24.5-.2-16.8zM160.3,102.2l.6-9.2 3.9-7.6-.5,.8zM169.7,80.9l.4,7.7 3.5,6.6-.7,10.8zM171.2,104.3l.6-5.9 3.8-7.5-.4-4.2zM176.8,90.5l.5,.2 3.1,23 0-21.7zM182,94.9l.4,3.1 3.7-3-.5,.3zM184.5,110.2l.9-16 3.6,3.3-.2-11.1zM185.4,94.2l.2,10.1 3.8-5.2-.4-1.6z"/><path fill="#cc3f54" d="M94.9,72.4l.3-9 4.2,15.2-.6-13.6zM118.1,87.5l.4-11 3.9,1.6-.5-16zM157.1,95.3l.6-14.2 3.9-3.1-.8,19.5zM158.5,95.2l.5-.5 3.8-7.5-.3-9.4zM162.5,114.3l.8-24.2 4.1-19.3-.6,6.5zM165.8,88.3l.5-1.9 3.4,12.7-.2-13zM176.5,81.7l.3,8.8 3.6,1.5-.9,15.7zM186.3,97.2l.4,3.4 4.2-18.5-1,16.5z"/><path fill="#d04251" d="M94.4,68.7l.5,3.7 3.9-7.4-.4,0zM134.6,87.1l.5-5.8 3.9-1.5-.4-15.8zM135.1,81.3l.5,6.3 3.9-20.7-.5,12.9zM157.7,81.1l.3,15.6 3.9-8.8-.3-9.9z"/><path fill="#8f2372" d="M93.6,107.9l.3-9.5 4.2,16.2-.8-29.7z"/><path fill="#942571" d="M160.2,111.1l.3,10.8 3.5,10.6-.1-17.9z"/><path fill="#9c286e" d="M81.9,95.2l.3-2.9 4.1-.2-.3,8.7zM160.5,121.9l.7-11 3.8-6.6-1,28.2z"/><path fill="#a02a6c" d="M116,105.2l.5,.2 3.9-4.7-.5-4.9zM116.9,102.9l.5,10.5 3.9-11.1-.5-8.5zM117.4,113.4l.5-2.4 3.8-24.3-.4,15.6zM145.5,118.1l.5-5.2 3.8,4.6-.3-17.9z"/><path fill="#a82d69" d="M81,76.9l.9,18.3 4.1,5.6-.7-14.8zM82.2,92.3l.2-13.7 4.5,20.6-.6-7.1zM92.9,90.4l.7,17.5 3.7-23-.4,6.8zM93.9,98.4l.3-6.4 3.8-19.7 .1,42.3zM101.9,93.7l.5,5.8 4-1.6-.5-6.3zM102.4,99.5l.4-7 4,3-.4,2.4zM109.2,100.3l.5,1.5 3.8-14.3-.3,12.4zM116.5,105.4l.4-2.5 3.9-9.1-.4,6.9zM117.9,111l.4-13.4 3.9,7.9-.5-18.8zM135.8,104.4l.4,14.9 3.9-11.6-.4-15.2zM136.2,119.3l.6-21.8 3.8,4.2-.5,6zM138.6,100.1l.4,14.2 3.9-3.6-.4-6.8zM159.8,107.8l.4,3.3 3.7,3.5-.5-.6zM171.2,112.6l.1,17.1 4.2-25.8-.7,11.8z"/><path fill="#ae2f66" d="M78.1,86.6l.7,10.6 3.8-12.3-.6-11.8zM80.2,79.6l.6,7.4 4.1,1.1-.4,1.2zM89.9,97.6l.5,2.4 3.6-28.3-.2,18zM92.5,93.5l.4-3.1 4,1.3-.5-5.5zM101.4,89.3l.5,4.4 4-2.1-.4,6.1zM102.8,92.5l.4-7.1 4.1,11.1-.5-1zM103.2,85.4l.5,10.1 4-.7-.4,1.7zM108.7,98.4l.5,1.9 4-.4-.6-11zM110.6,102.7l.4-5.3 4,3-.6-17.3zM115.6,101.7l.4,3.5 3.9-9.4-.5-10.5zM122.9,106.5l.5,.3 3.9-29.2-.5,28.2zM128.4,95l.5,2.3 3.9,5.1-.5,10.3zM129.3,103l.5,16 3.9-30.6-.5,2.2zM132.6,95.6l.4,5.1 3.9,3.2-.5,9.1zM139,114.3l.7-32.7 3.6,28.7-.4,.4zM144.7,102.2l.5,4.2 3.8-1.7-.6,5.5zM145.2,106.4l.3,11.7 4-18.5-.5,5.1zM147.1,101l.4,10.4 3.8-2-.5-.9zM147.5,111.4l.6-19.6 3.6,17.4-.4,.2zM158.4,101.5l.3,16.2 3.8-3.4-.3-13.2zM158.7,117.7l.5-1.7 4.1-25.9-.8,24.2zM167.8,115l.3,8.3 3.8-6.3-.1-18.6zM168.1,123.3l.9-22.9 3.4,15.4-.5,1.2zM169.8,106.6l.6-5.5 3.2,24.1-.3-7.8zM174.3,122.3l.7-10.8 3.5,7-.2-10.6zM180.2,119.5l.7-9.3 3.6,0-.9,16z"/><path fill="#b33164" d="M74,78.7l.5,.9 4.4,13.4-.8-14.3zM74.5,79.6l.3-6 4.2,6.6-.1,12.8zM77.5,78.8l.6,7.8 3.9-13.5-.1,19.3zM78.8,97.2l.1-15.6 4.1-3.8-.4,7.1zM80.1,93.9l.1-14.3 4.3,9.7-.6-10.4zM80.8,87l.2-10.1 4.3,9.1-.4,2.1zM82.4,78.6l.4-2.2 4.2,6.8-.1,16zM82.8,76.4l.7,15.1 4.1,1-.6-9.3zM83.5,91.5l.2-14 4.1,.7-.2,14.3zM84.2,77.4l.5,5 4.1,.3-.3,10zM84.7,82.4l.4-1.7 4.2,8.5-.5-6.5zM87.2,99.3l.1-19.1 4.2,2.9-.5-3.1zM87.9,87l.6,6 3.8-14.2-.4,1.2zM91.8,80.5l.7,13 3.9-7.3-.4,2zM94.6,84l.7,22.5 3.7-28.9-.4,1.2zM99.1,82.8l.5,5.4 4.1,8.6-.5-7.2zM99.6,88.2l.3-15.3 4.2,24.3-.4-.4zM99.9,72.9l.8,36.2 3.7-26.1-.3,14.2zM100.7,109.1l.1-34.6 4.2,23-.6-14.5zM100.8,74.5l.6,14.8 4.1,8.4-.5-.2zM105.5,95l.5-.6 3.9-2.3-.4-3.8zM106,94.4l.2-24.7 4.3,35.1-.6-12.7zM107.7,81.6l.5,6.7 4,8.5-.4,2.7zM108.2,88.3l.5,10.1 3.9-9.5-.4,7.9zM109.7,101.8l.3-19.4 4.1,19.2-.6-14.1zM110,82.4l.6,20.3 3.8-19.6-.3,18.5zM111.9,91.5l.4-6.5 4,3.8-.4,11.9zM118.3,97.6l.5,2.9 3.8-22.2-.4,27.2zM120.6,95.4l.4-9.3 4,27.3-.5-20.3zM121,86.1l.5,6.1 3.9-3.4-.4,24.6zM122.4,81.3l.5,25.2 3.9-.7-.5-11.6zM128,83.1l.4,11.9 3.9,17.7-.5-18.4zM128.9,97.3l.4,5.7 3.9-12.4-.4,11.8zM137.3,97.3l.4,3.6 3.8-.7-.4-3.7zM140.2,77.7l.3,17.3 3.7,16.5-.4,3zM144.3,92.5l.4,9.7 3.7,8-.4-1.6zM146,112.9l.7-21.1 3.8,.4-.7,25.3zM148.1,91.8l.4,8.2 3.7,11.2-.5-2zM148.5,100l.6-9.5 3.5,20.9-.4-.2zM159.2,116l.6-8.2 3.6,6.2-.1-23.9zM167,106.4l.4,5.2 3.8-7.3-.6,6.4zM173.1,112.1l.2,12.6 3.9-11.9 .1-22.1zM175,111.5l.6-1.8 3.8-7.7-.9,16.5zM176.1,108.7l.7-12.6 2.9,32.5-.1-13.9zM176.8,96.1l.5,1.8 3.2,19.5-.8,11.2zM178.6,122.9l.5,.8 4.1-17.9-.4-3.2zM180.1,104.2l.1,15.3 3.4,6.7 .2-26.4zM182.8,112.6l.4,3.3 3.3,9.2 .2-24.5zM183.2,115.9l.7-8.3 3.8-6.5-1.2,24zM184.3,128.1l.6-2.7 4.3-28.2-.6,5.7z"/><path fill="#bb3560" d="M73.5,77.4l.5,1.3 4.1,0-.7-10.8zM74.8,73.6l.5,6.2 4.1-3.6-.4,4zM75.3,79.8l.4-2.9 4.2,3-.5-3.7zM76.2,77l.2-9.7 4.8,31.6-1.1-33.1zM76.9,69.1l.6,9.7 4.4,13.6-.9-24.8zM78.9,81.6l.5,.4 3.9-10.8-.3,6.6zM79.4,82l.7,11.9 3.8-15-.6-7.7zM83.7,77.5l.5-.1 4.3,15.3-.7-14.5zM85.1,80.7l.5-.3 3.9-6.5-.2,15.3zM86.3,74l.9,25.3 3.8-19.3-.4,1.9zM87.3,80.2l.6,6.8 4-7-.4,3.1zM88.5,93l.2-12.6 4.1-.2-.5-1.4zM89.1,75.2l.8,22.4 3.9-7.9-.7-17zM91.6,94.6l.2-14.1 4.2,7.7-.8-24.8zM94.2,92l.4-8 4-5.2-.6-6.5zM95.3,106.5l0-36.9 4.2,16.2-.5-8.2zM96.4,88.4l.6,8.5 3.8-20.9-.4,7.3zM97,96.9l.4-3 3.8-19.6-.4,1.7zM103.7,95.5l.4-6.5 3.8-19.6-.2,25.4zM104.1,89l.5,7.4 4,3.4-.7-30.4zM104.6,96.4l.3-16.8 4-3.8-.3,24zM104.9,79.6l.6,15.4 4-6.7-.6-12.5zM106.2,69.7l.7,22.5 3.8-13.9-.2,26.5zM111,97.4l.3-18.3 4,3.9-.3,17.4zM111.3,79.1l.6,12.4 4,9.2-.6-17.7zM115,84.6l.6,17.1 3.8-16.4-.4,5.7zM118.8,100.5l.4-15.4 3.9,11-.5-17.8zM119.2,85.1l.4-.8 4,6.5-.5,5.3zM120.1,83.7l.5,11.7 3.9-2.3-.5-4.8zM124.3,84.5l.4,7.4 3.9-3.2-.4,9.5zM126.6,97.3l.4-6 3.9,4-.4-13.5zM129.8,119l.5-42.1 3.9,17-.5-5.5zM130.7,99.4l.5,5.5 3.9-23.6-.5,5.8zM132.2,88.8l.4,6.8 3.8,17.4-.4-23.5zM133,100.7l.5,1.7 4-27.2-.6,28.7zM133.5,102.4l.4,12.7 4-29.5-.4-10.4zM133.9,115.1l.6-32.8 3.8,14.6-.4-11.3zM134.5,82.3l.4,28.1 3.9-25.1-.5,11.6zM134.9,110.4l.5-11.4 3.9-7.1-.5-6.6zM135.4,99l.4,5.4 3.9-11.9-.4-.6zM136.8,97.5l.5-.2 3.8-.8-.5,5.2zM139.7,81.6l.5-3.9 3.6,36.8-.5-4.2zM140.5,95l.6-9.5 3.7,11.5-.6,14.5zM143.5,83.3l.3,12.8 3.9-.6-.6,14.3zM143.8,96.1l.5-3.6 3.7,16.1-.3-13.1zM146.7,91.8l.4,9.2 3.7,7.5-.3-16.3zM149.1,90.5l.6-15.2 3.4,36.2-.5-.1zM150.5,90.5l.4,4 3.6,18-.3-13.1zM150.9,94.5l.6-8.6 3.5,24.7-.5,1.9zM151.5,85.9l.2,21.3 4-16.7-.7,20.1zM152.3,96.2l.3,13.4 4-14.4-.5,1.5zM152.6,109.6l.5-1.2 4-13.1-.5-.1zM161.2,110.9l.5-6.5 4.1-16.1-.8,16zM166.7,96.2l.3,10.2 3.6,4.3-.3-11zM167.4,111.6l.4,3.4 4-16.6-.6,5.9zM169,100.4l.5-.9 3.6,3.8-.7,12.5zM169.5,99.5l.3,7.1 3.5,10.8-.2-14.1zM170.9,100.7l.3,11.9 3.6,3.1 .2-31.2zM171.3,129.7l1-27.2 4.2-20.8-1,22.2zM173.3,124.7l.7-11.4 4.5-32.4-1.3,31.9zM174,113.3l.3,9 4-14.4 .2-27zM175.6,109.7l.5-1 3.5,6-.2-12.7zM177.3,97.9l.2,10.3 3.5,7.3-.5,1.9zM177.5,108.2l.4,6.3 4.1-19.6-1,20.6zM178.6,102.3l0,20.6 4.2-20.3-.4-4.6zM179.1,123.7l1-19.5 3.7-4.4-.6,6zM184.6,98.8l-.3,29.3 4.3-25.2-.4-3.7z"/><path fill="#bf375d" d="M75.7,76.9l.5,.1 3.9-11.2-.2,14.1zM76.4,67.3l.5,1.8 4.1-1.5 .2,31.3zM85.6,80.4l.5,3 3.9-7.5-.5-2zM86.1,83.4l.2-9.4 4.3,7.9-.6-6zM88.7,80.4l.4-5.2 4-2.5-.3,7.5zM90.4,100l0-21.7 4-9.6-.4,3zM91,86.7l.6,7.9 3.6-31.2-.3,9zM95.8,77.5l.6,10.9 4-5.1-.5-7.1zM97.4,93.9l.4-7.7 3.8-15.9-.4,4zM97.8,86.2l.3-7 4.1,1.1-.6-10zM98.1,79.2l.5,4 4-9.1-.4,6.2zM98.6,83.2l.5-.4 4.1,6.8-.6-15.5zM106.9,92.2l.4-3.6 3.9-17.4-.5,7.1zM107.3,88.6l.4-7 4.1,17.9-.6-28.3zM112.3,85l.4-1.8 4-5.7-.4,11.3zM113.6,80.5l.6,12.5 3.9-5.5-.5-.4zM114.2,93l.3-15.4 4-1.1-.4,11zM119.6,84.3l.5-.6 3.9,4.6-.4,2.5zM121.5,92.2l.4-5.1 4,1.6-.5,.1zM121.9,87.1l.5-5.8 3.9,12.9-.4-5.5zM123.4,106.8l.4-30.8 3.9,10.7-.4-9.1zM123.8,76l.5,8.5 3.9,13.7-.5-11.5zM127,91.3l.5-13.4 3.9,13.4-.5,4zM130.3,76.9l.4,22.5 3.9-12.3-.4,6.8zM131.2,104.9l.5-17.3 3.9,0-.5-6.3zM137.7,100.9l.5-3.2 4-23.4-.7,25.9zM138.2,97.7l.4,2.4 3.9,3.8-.3-29.6zM141.5,90.1l.5-8.9 3.7,23.6-.3-13.9zM142,81.2l.4,10.4 3.9,1.8-.6,11.4zM142.4,91.6l.5-.5 3.8,1.6-.4,.7zM142.9,91.1l.6-7.8 3.6,26.5-.4-17.1zM149.7,75.3l.3,12.3 3.6,20.4-.5,3.5zM150,87.6l.5,2.9 3.7,8.9-.6,8.6zM151.7,107.2l.6-11 3.8,.5-.4-6.2zM153.1,108.4l.5-3.3 4.1-24-.6,14.2zM153.6,105.1l.5,3.3 3.9-11.7-.3-15.6zM154.1,108.4l.7-16.6 3.7,3.4-.5,1.5zM154.8,91.8l.2,21.4 4-18.5-.5,.5zM155,113.2l.7-17 4-16.7-.7,15.2zM156.1,96l.6-5.3 3.6,11.5-.5,3.6zM156.7,90.7l.3,12.7 3.9-10.4-.6,9.2zM157,103.4l.6-9.2 3.6,7.2-.3-8.4zM157.6,94.2l.4,7.1 3.9-9.1-.7,9.2zM158,101.3l.4,.2 3.8-.4-.3-8.9zM162.3,99.3l.6-6 3.4,16.8 0-23.7zM162.9,93.3l.3,7.8 3.8-3.6-.7,12.6zM163.2,101.1l.5,1.4 3.7,.1-.4-5.1zM163.7,102.5l.5-1.5 3.9-11.2-.7,12.8zM165.4,112.6l.4,7.1 4.3-31.1-.4-7.7zM165.8,119.7l.9-23.5 3.6,3.5-.2-11.1zM170.4,101.1l.5-.4 4.1-16.2-1.4,40.7zM177.9,114.5l.7-12.2 3.8-4.3-.4-3.1zM180.9,110.2l.5-2.4 4-13.6-.9,16zM182.5,104.5l.3,8.1 3.9-12-.4-3.4z"/><path fill="#c63b58" d="M90.4,78.3l.6,8.4 3.9-14.3-.5-3.7zM95.3,69.6l.5,7.9 4.1-1.3-.4,9.6zM113.1,69l.5,11.5 4,6.6-.4,3.9zM114.5,77.6l.5,7 4,6.4-.5-14.5zM124.7,91.9l.5-11.4 3.9,3.5-.5,4.7zM126.1,83.3l.5,14 3.9-15.5-.5-4zM127.5,77.9l.5,5.2 3.8,11.2-.4-3zM131.7,87.6l.5,1.2 3.8,.7-.4-1.9zM141.1,85.5l.4,4.6 3.9,.8-.6,6.1zM155.7,96.2l.4-.2 3.7,9.8-.1-26.3zM161.7,104.4l.6-5.1 4-12.9-.5,1.9zM165.2,96.3l.2,16.3 4.3-31.7-.7,15.3zM172.7,106.1l.4,6 4.2-21.4-.5-.2zM181.4,107.8l.7-5.5 3.5,2-.2-10.1zM182.1,102.3l.4,2.2 3.8-7.3-.7,7.1zM183.9,107.6l.7-8.8 3.6,.4-.5,1.9z"/><path fill="#cc3f54" d="M112.7,83.2l.4-14.2 4.1,22-.5-13.5zM125.2,80.5l.4,1.2 4-1.1-.5,3.4zM164.2,101l.5-.2 4.1-18.9-.7,7.9zM164.7,100.8l.5-4.5 3.8-.1-.2-14.3zM172.3,102.5l.4,3.6 4.1-15.6-.3-8.8z"/><path fill="#d04251" d="M125.6,81.7l.5,1.6 3.9-5.5-.4,2.8z"/><path fill="#942571" d="M180.7,127.2l.2,10.2 4-12-.6,2.7z"/><path fill="#9c286e" d="M74.2,95.1l.7,12.5 3.9-10.4-.7-10.6z"/><path fill="#a02a6c" d="M84.1,103.2l.5,5.1 3.9-15.3-.6-6zM112.5,106.7l.5,6.2 3.9-10-.4,2.5zM113,112.9l.4-14.8 4,15.3-.5-10.5zM161.5,122.7l.5,.6 3.8-3.6-.4-7.1z"/><path fill="#a82d69" d="M74.9,107.6l-.2-27.7 4.2,1.7-.1,15.6zM84.6,108.3l.4-6 3.7-21.9-.2,12.6zM100.3,105.7l.5,8.6 3.8-17.9-.5-7.4zM113.4,98.1l.4-8.9 4.1,21.8-.5,2.4zM129.6,110.8l.5-1.2 3.8,5.5-.4-12.7zM134.7,110.5l.5,4.9 3.8-1.1-.4-14.2zM179.8,141.7l.9-14.5 3.6,.9 .3-29.3z"/><path fill="#ae2f66" d="M73.9,99.2l.3-4.1 3.9-8.5-.6-7.8zM75.5,92.3l.5,3.7 4.1-2.1-.7-11.9zM76,96l.3-5.3 3.9-11.1-.1,14.3zM79,92.9l.6,6.2 3.9-7.6-.7-15.1zM79.6,99.1l.4-1.2 3.7-20.4-.2,14zM83.5,95.4l.6,7.8 3.8-16.2-.6-6.8zM85.6,85.6l.5,6.3 4.3,8.1-.5-2.4zM86.1,91.9l.6,6.9 3.7-20.5 0,21.7zM87.2,101.7l.2-14 4.2,6.9-.6-7.9zM106.1,101.9l.5,6.7 4-5.9-.6-20.3zM106.6,108.6l.3-22.8 4.1,11.6-.4,5.3zM112,90.7l.5,16 4-1.3-.5-.2zM131.9,101.4l.5,1.2 3.8,16.7-.4-14.9zM132.4,102.6l.4,9.5 4-14.6-.6,21.8zM141.8,103l.4,6.7 3.8,3.2-.5,5.2zM162,123.3l.5,.2 4.2-27.3-.9,23.5zM167.5,110.8l.4,1 3.4,17.9-.1-17.1zM168.9,114.4l.1,19.5 4.1-21.8-.4-6zM170.1,125.7l.7-13.6 3.5,10.2-.3-9zM170.8,112.1l.2,13.9 4-14.5-.7,10.8zM176.1,136.9l1-24.2 3.8-2.5-.7,9.3z"/><path fill="#b33164" d="M71.9,91.7l.6,5.3 3.7-20-.5-.1zM73.4,99.9l.5-.7 3.6-20.4-.6-9.7zM76.3,90.7l.4-.8 4.1-2.9-.6-7.4zM76.7,89.9l.5,3.3 3.8-16.3-.2,10.1zM77.2,93.2l.2-14.7 4.5,16.7-.9-18.3zM77.4,78.5l.7,11.7 4.1,2.1-.3,2.9zM78.1,90.2l.3-3.8 4-7.8-.2,13.7zM80.2,86.1l.9,20.4 3.6-24.1-.5-5zM81.1,106.5l.1-16.3 3.9-9.5-.4,1.7zM85,102.3l.3-5.2 3.8-21.9-.4,5.2zM85.3,97.1l.3-11.5 4.3,12-.8-22.4zM86.7,98.8l.5,2.9 3.8-15-.6-8.4zM89.4,72.1l.8,23.9 4-4-.3,6.4zM90.5,85.2l.4-1.9 4.4,23.2-.7-22.5zM92.5,100.2l.2-17.8 4.3,14.5-.6-8.5zM99.6,86.7l.7,19 3.8-16.7-.4,6.5zM100.8,114.3l.1-29.9 4-4.8-.3,16.8zM101.5,94.8l.4-5.9 4.1,5.5-.5,.6zM104.3,97.6l.3-7 4.1,7.8-.5-10.1zM105,85.2l.6,11.7 4.1,4.9-.5-1.5zM105.6,96.9l.5,5 3.9-19.5-.3,19.4zM111.5,85.6l.5,5.1 4,14.5-.4-3.5zM113.8,89.2l.5,9.5 4-1.1-.4,13.4zM114.3,98.7l.5-1.6 4,3.4-.5-2.9zM116.2,109l.5,1.3 3.9-14.9-.5-11.7zM116.7,110.3l.4-.2 3.9-24-.4,9.3zM117.1,110.1l.5-5.2 3.9-12.7-.5-6.1zM118.9,90.1l.5,7.7 4,9-.5-.3zM125.4,89.9l.5,2 3.9,27.1-.5-16zM126.8,94.4l.5,13.9 3.9-3.4-.5-5.5zM129.2,94.3l.4,16.5 3.9-8.4-.5-1.7zM135.2,115.4l.5-8.9 4-24.9-.7,32.7zM136.1,121.9l.4-2.2 4-24.7-.3-17.3zM140.8,114.7l.5-10.2 3.9,1.9-.5-4.2zM141.3,104.5l.5-1.5 3.7,15.1-.3-11.7zM148.9,103.9l.4,6.3 3.8-1.8-.5,1.2zM149.3,110.2l.4,4.9 3.9-10-.5,3.3zM150.6,123.4l.6-9.8 3.8-.4-.2-21.4zM157.5,101.1l.2,22.3 4-19-.5,6.5zM161.1,118.7l.4,4 3.9-10.1-.2-16.3zM163.7,107.9l.4,5.1 3.7,2-.4-3.4zM164.1,113l.6-10.9 3.4,21.2-.3-8.3zM164.7,102.1l.1,26.8 4.2-28.5-.9,22.9zM166.7,127.4l.8-16.6 3.7,1.8-.3-11.9zM167.9,111.8l.5-1.2 3.9-8.1-1,27.2zM169,133.9l1.4-48.7 2.9,39.5-.2-12.6zM171,126l.7-10.4 3.9-5.9-.6,1.8zM171.7,115.6l.4,5.7 4-12.6-.5,1zM175.3,110l.5-1.9 3.3,15.6-.5-.8zM176.3,106.9l-.2,30 4.1-17.4-.1-15.3zM177.3,126.5l.5,1 4.3-25.2-.7,5.5zM179.5,117.1l.3,6 4.1-15.5-.7,8.3zM179.8,123.1l0,18.6 4.8-42.9-.7,8.8z"/><path fill="#bb3560" d="M69.7,89.6l.4-1.4 3.9-9.5-.5-1.3zM70.1,88.2l.3-5 4.1-3.6-.5-.9zM70.4,83.2l.6,8 3.8-17.6-.3,6zM71,91.2l.4-4.1 3.9-7.3-.5-6.2zM71.4,87.1l.5,4.6 3.8-14.8-.4,2.9zM72.5,97l.1-12 3.8-17.7-.2,9.7zM72.6,85l.8,14.9 3.5-30.8-.5-1.8zM74.7,79.9l.8,12.4 3.9-10.3-.5-.4zM78.4,86.4l.6,6.5 3.8-16.5-.4,2.2zM80,97.9l.2-11.8 4-8.7-.5,.1zM81.2,90.2l.4-3 4-6.8-.5,.3zM81.6,87.2l.5,5.9 4-9.7-.5-3zM82.1,93.1l.2-13.5 4-5.6-.2,9.4zM82.7,74.3l.8,21.1 3.8-15.2-.1,19.1zM87.4,87.7l.3-7.8 4.1,.6-.2,14.1zM88.2,82.4l.4-2.4 4.3,10.4-.4,3.1zM88.6,80l.4-5.1 4.6,33-.7-17.5zM89,74.9l.4-2.8 4.5,26.3-.3,9.5zM90.2,96l.3-10.8 4.1-1.2-.4,8zM90.9,83.3l.5,4.4 3.9-18.1 0,36.9zM91.9,85.3l.6,14.9 3.9-11.8-.6-10.9zM92.7,82.4l.4-4.6 4.3,16.1-.4,3zM93.1,77.8l.6,8.4 4.1,0-.4,7.7zM94.9,75.2l.9,33.9 3.8-20.9-.5-5.4zM95.8,109.1l0-30.6 4.1-5.6-.3,15.3zM95.8,78.5l.6,10.1 4.3,20.5-.8-36.2zM96.4,88.6l.4-5.5 4-8.6-.1,34.6zM97.8,86l.4,1 4.2,12.5-.5-5.8zM98.2,87l.4-8 4.2,13.5-.4,7zM99.1,85.7l.5,1 4.1,8.8-.5-10.1zM100.9,84.4l.6,10.4 4,.2-.6-15.4zM102.7,78.5l.6,16.1 4-6-.4,3.6zM103.3,94.6l.5,2.6 3.9-15.6-.4,7zM103.8,97.2l.5,.4 3.9-9.3-.5-6.7zM104.6,90.6l.4-5.4 4.2,15.1-.5-1.9zM109.7,93.2l.5,4.2 4-4.4-.6-12.5zM110.2,97.4l.5,7.3 3.8-27.1-.3,15.4zM114.8,97.1l.4,.9 4-12.9-.4,15.4zM115.2,98l.5,4.3 3.9-18-.4,.8zM115.7,102.3l.5,6.7 3.9-25.3-.5,.6zM117.6,104.9l.4,.6 3.9-18.4-.4,5.1zM118,105.5l.5-5.6 3.9-18.6-.5,5.8zM118.5,99.9l.4-9.8 4,16.4-.5-25.2zM119.4,97.8l.5,10.5 3.9-32.3-.4,30.8zM121.7,103l.5,16.9 3.9-36.6-.5-1.6zM122.2,119.9l.4-28.1 4,5.5-.5-14zM125.9,91.9l.4,5.4 4-20.4-.5,42.1zM128.2,98.9l.5,3.3 3.9-6.6-.4-6.8zM128.7,102.2l.5-7.9 3.8,6.4-.4-5.1zM130.1,109.6l.5-16.7 3.9-10.6-.6,32.8zM131,82.4l.5,16.4 3.9,.2-.5,11.4zM131.5,98.8l.4,2.6 3.9,3-.4-5.4zM132.8,112.1l.6-22.6 3.9,7.8-.5,.2zM133.4,89.5l.4,15.6 3.9-4.2-.4-3.6zM133.8,105.1l.5-4.1 3.9-3.3-.5,3.2zM134.3,101l.4,9.5 3.9-10.4-.4-2.4zM136.5,119.7l.6-16.7 4-17.5-.6,9.5zM138.5,96l.4,20.5 4-25.4-.5,.5zM138.9,116.5l.5-4.7 4.1-28.5-.6,7.8zM140.5,90.5l.3,24.2 3.9-12.5-.4-9.7zM142.2,109.7l.6-17.2 3.9-.7-.7,21.1zM143.2,103l.5-7.8 3.8,16.2-.4-10.4zM145.1,107.3l.3,21.6 4.3-53.6-.6,15.2zM147.4,110.8l.5-2.8 3.8-.8-.2-21.3zM149.7,115.1l.7-21.2 3.7,14.5-.5-3.3zM150.4,93.9l.2,29.5 4.2-31.6-.7,16.6zM151.2,113.6l.6-12.3 3.9-5.1-.7,17zM154.7,93.5l.4,12.4 3.6,11.8-.3-16.2zM155.1,105.9l.6-15.1 3.5,25.2-.5,1.7zM156.2,95.4l.2,19.3 3.8-3.6-.4-3.3zM156.4,114.7l.9-33.4 3.2,40.6-.3-10.8zM157.7,123.4l.9-33.3 3.7,9.2-.6,5.1zM158.5,131.2l1-31 3.7,.9-.3-7.8zM160.7,113.9l.4,4.8 4.1-22.4-.5,4.5zM162.5,123.5l.6-10.7 3.9-6.4-.3-10.2zM163.1,112.8l.6-4.9 3.7,3.7-.4-5.2zM164.8,128.9l1-31.5 3.7,2.1-.5,.9zM166.6,104.4l.1,23 4.2-26.7-.5,.4zM168.4,110.6l.5,3.8 3.8-8.3-.4-3.6zM170.4,85.2l-.3,40.5 3.9-12.4-.7,11.4zM174.9,102.6l.4,7.4 3.3,12.9 0-20.6zM175.8,108.1l.5-1.2 3.8-2.7-1,19.5zM177.1,112.7l.2,13.8 4.1-18.7-.5,2.4zM177.8,127.5l.8-14.8 3.9-8.2-.4-2.2zM179.2,107.2l.3,9.9 3.7-1.2-.4-3.3z"/><path fill="#bf375d" d="M82.3,79.6l.4-5.3 4.5,25-.9-25.3zM87.7,79.9l.5,2.5 4.3,11.1-.7-13zM93.7,86.2l.4-3.9 4-3.1-.3,7zM94.1,82.3l.5,3.2 4-2.3-.5-4zM97.2,75.9l.6,10.1 4.1,7.7-.5-4.4zM98.6,79l.5,6.7 4.1-.3-.4,7.1zM106.9,85.8l.4-.4 4-6.3-.3,18.3zM108.3,93.7l.5-3.5 3.9-7-.4,1.8zM110.7,104.7l.3-20.1 4,0-.5-7zM111,84.6l.5,1 4.1,16.1-.6-17.1zM122.6,91.8l.5,1.2 3.9-1.7-.4,6zM124.5,88.2l.4,.3 4,8.8-.5-2.3zM124.9,88.5l.5,1.4 3.9,13.1-.4-5.7zM126.3,97.3l.5-2.9 3.9,5-.4-22.5zM127.3,108.3l.5-28.2 3.9,7.5-.5,17.3zM135.7,106.5l.4,15.4 4.1-44.2-.5,3.9zM137.9,119.1l.6-23.1 3.9-4.4-.4-10.4zM139.4,111.8l.6-20.7 3.8,5-.3-12.8zM142.8,92.5l.4,10.5 3.9-2-.4-9.2zM143.7,95.2l.6-5 3.8,1.6-.6,19.6zM144.7,94.9l.4,12.4 4-16.8-.6,9.5zM145.4,128.9l.7-26.3 3.9-15-.3-12.3zM147,104l.4,6.8 4.1-24.9-.6,8.6zM147.9,108l.7-23.2 3.7,11.4-.6,11zM148.6,84.8l.3,19.1 3.7,5.7-.3-13.4zM151.8,101.3l.4,3.7 3.9-9-.4,.2zM152.2,105l.5-.8 4-13.5-.6,5.3zM153.7,104.5l.4,2.8 3.9-6-.4-7.1zM154.1,107.3l.6-13.8 3.7,8-.4-.2zM155.7,90.8l.5,4.6 3.6,12.4-.6,8.2zM157.3,81.3l.2,19.8 3.7,9.8-.7,11zM158.6,90.1l-.1,41.1 4.4-37.9-.6,6zM159.5,100.2l.3,8.4 3.9-6.1-.5-1.4zM160.6,91.4l.1,22.5 4-13.1-.5,.2zM166.2,102.4l.4,2 3.8-3.3-.6,5.5zM172.1,121.3l.8-16.1 3.9-9.1-.7,12.6zM178.6,112.7l.6-5.5 3.6,5.4-.3-8.1z"/><path fill="#c63b58" d="M91.4,87.7l.5-2.4 3.9-7.8-.5-7.9zM94.6,85.5l.3-10.3 4.2,7.6-.5,.4zM96.8,83.1l.4-7.2 4.2,13.4-.6-14.8zM101.9,88.9l.3-15.2 4-4-.2,24.7zM107.7,73.6l.6,20.1 4-8.7-.4,6.5zM108.8,90.2l.5,5.1 3.8-26.3-.4,14.2zM109.3,95.3l.4-2.1 3.9-12.7-.5-11.5zM119.9,108.3l.4-27.9 4,4.1-.5-8.5zM120.3,80.4l.5,19.8 3.9-8.3-.4-7.4zM120.8,100.2l.4-14.2 4-5.5-.5,11.4zM121.2,86l.5,17 3.9-21.3-.4-1.2zM124,96.4l.5-8.2 3.9,6.8-.4-11.9zM130.6,92.9l.4-10.5 3.9,28-.4-28.1zM137.6,87l.3,32.1 4.1-37.9-.5,8.9zM140,91.1l.5-.6 3.8,2-.5,3.6zM144.3,90.2l.4,4.7 3.8,5.1-.4-8.2zM146.6,90.9l.4,13.1 3.9-9.5-.4-4zM153.4,85.5l.3,19 3.9-10.3-.6,9.2zM159.8,108.6l.8-17.2 3.6,9.6-.5,1.5zM165.8,97.4l.4,5 3.6,4.2-.3-7.1zM174.3,88.3l.2,10 3.4,16.2-.4-6.3zM174.5,98.3l.4,4.3 3.7-.3-.7,12.2z"/><path fill="#cc3f54" d="M107.3,85.4l.4-11.8 4.2,17.9-.6-12.4zM127.8,80.1l.4,18.8 4-10.1-.5-1.2zM137.1,103l.5-16 3.9,3.1-.4-4.6zM146.1,102.6l.5-11.7 3.9-.4-.5-2.9zM152.7,104.2l.7-18.7 3.6,17.9-.3-12.7zM172.9,105.2l.5-.8 3.9-6.5-.5-1.8zM173.4,104.4l.9-16.1 3.2,19.9-.2-10.3z"/><path fill="#d04251" d="M102.2,73.7l.5,4.8 4.2,13.7-.7-22.5zM123.1,93l.4-15.4 4,.3-.5,13.4zM123.5,77.6l.5,18.8 4-13.3-.5-5.2z"/><path fill="#942571" d="M96.3,112.1l.4-6.8 4.1,9-.5-8.6z"/><path fill="#9c286e" d="M80,103.8l.4-4.2 4.2,8.7-.5-5.1zM132.2,121.6l.5-10.3 3.8,8.4-.4,2.2z"/><path fill="#a02a6c" d="M68,104.1l.3-7 4.2-.1-.6-5.3zM69.3,100.6l.3-4.5 4.3,3.1-.5,.7zM80.4,99.6l.3-4.4 4.3,7.1-.4,6zM112.2,107.5l.5,6 4-3.2-.5-1.3zM112.7,113.5l.4-7.8 4,4.4-.4,.2zM157.2,126.6l.5,.2 3.8-4.1-.4-4zM157.7,126.8l.5-.7 3.8-2.8-.5-.6zM158.2,126.1l.5-6.8 3.8,4.2-.5-.2zM173.6,128.6l.4,0 3.8-1.1-.5-1z"/><path fill="#a82d69" d="M68.3,97.1l.5,3.9 3.8-16-.1,12zM68.8,101l.5-.4 4.1-.7-.8-14.9zM69.6,77.3l1,23.7 4.3,6.6-.7-12.5zM79.3,90l.7,13.8 4.1-.6-.6-7.8zM80.7,95.2l.6,9 4-7.1-.3,5.2zM95.9,113.8l.4-1.7 4-6.4-.7-19zM113.1,105.7l.6,12.5 3.9-13.3-.5,5.2zM125.7,104.7l.4,23 4-18.1-.5,1.2zM126.1,127.7l.5-11.5 4-23.3-.5,16.7zM131.8,102.9l.4,18.7 3.9,.3-.4-15.4zM154.8,124.9l.5,1 4.2-25.7-1,31z"/><path fill="#ae2f66" d="M67.2,88.1l.8,16 3.9-12.4-.5-4.6zM69.6,96.1l0-18.8 4.6,17.8-.3,4.1zM70.6,101l.1-13.1 4-8 .2,27.7zM71.3,92.7l.6,6 4.1-2.7-.5-3.7zM71.9,98.7l.2-9.9 4.2,1.9-.3,5.3zM76.2,92.7l.5,3 4.4,10.8-.9-20.4zM81.3,104.2l.4-3.5 3.9-15.1-.3,11.5zM81.7,100.7l.5,4.4 3.9-13.2-.5-6.3zM82.2,105.1l.2-16.2 4.3,9.9-.6-6.9zM91.7,107.2l.4-4.6 3.7-24.1 0,30.6zM96.7,105.3l.3-5.9 3.9-15-.1,29.9zM99.8,100.8l.5,9 4-12.2-.5-.4zM100.3,109.8l.4-4.2 3.9-15-.3,7zM102.1,100.9l.5,3.2 4,4.5-.5-6.7zM102.6,104.1l.5,4.7 3.8-23-.3,22.8zM113.7,118.2l.3-24 4,11.3-.4-.6zM130.8,102.1l.5,9.6 3.9,3.7-.5-4.9zM132.7,111.3l.4,3.4 4-11.7-.6,16.7zM143.5,116.4l.4,7.1 4-15.5-.5,2.8zM153.5,118.6l.3,9.9 3.9-5.1-.2-22.3zM156.9,110.1l.3,16.5 3.9-7.9-.4-4.8zM172,134.5l.9-21.6 3.2,24 .2-30zM176.8,114.4l.5,.4 3.4,12.4-.9,14.5zM177.3,114.8l.4,1.5 3.2,21.1-.2-10.2z"/><path fill="#b33164" d="M66.4,90.5l.3-3.6 4.3,4.3-.6-8zM66.7,86.9l.5,1.2 4.2-1-.4,4.1zM74.5,76.7l.8,15.6 4.3,6.8-.6-6.2zM75.3,92.3l.1-14.3 4.6,19.9-.4,1.2zM76.7,95.7l.1-17.5 4.4,12-.1,16.3zM82.4,88.9l.4-.7 4.4,13.5-.5-2.9zM91.1,94.3l.6,12.9 4.1,1.9-.9-33.9zM99.3,97.6l.5,3.2 4-3.6-.5-2.6zM101.2,106.8l.4-3.1 4-6.8-.6-11.7zM101.6,103.7l.5-2.8 4,1-.5-5zM106.2,101.5l.5,3.7 4-.5-.5-7.3zM108,100.9l.5,3.9 4,1.9-.5-16zM108.5,104.8l.3-19.4 4.2,27.5-.5-6.2zM108.8,85.4l.6,17.8 4-5.1-.4,14.8zM110.3,104.1l.6,7.6 3.9-14.6-.5,1.6zM111.7,95.9l.5,11.6 4,1.5-.5-6.7zM114,94.2l.5,15 4-9.3-.5,5.6zM117.7,95.1l.5,9 4,15.8-.5-16.9zM118.2,104.1l.5-4 3.9-8.3-.4,28.1zM122.9,105.3l.4,5.9 4-2.9-.5-13.9zM123.3,111.2l.5,7.7 4-38.8-.5,28.2zM124.7,103.8l.5,13.4 4-22.9-.5,7.9zM125.2,117.2l.5-12.5 3.9,6.1-.4-16.5zM127.5,107.1l.5,10.9 3.9-16.6-.4-2.6zM128,118l.5-17.2 3.9,1.8-.5-1.2zM129.4,128.1l.5-18.9 3.9-4.1-.4-15.6zM129.9,109.2l.4,.3 4-8.5-.5,4.1zM131.3,111.7l.5-8.8 3.9,3.6-.5,8.9zM133.6,108l.5,13 3.8-1.9-.3-32.1zM134.1,121l.5-16.3 3.9-8.7-.6,23.1zM141.3,90.5l.4,18.8 3.7,19.6-.3-21.6zM141.7,109.3l.5-11.4 3.9,4.7-.7,26.3zM143.1,109.3l.4,7.1 3.9-5.6-.4-6.8zM153.8,128.5l.7-17.9 4.1-20.5-.9,33.3zM154.5,110.6l.3,14.3 3.7,6.3 .1-41.1zM155.3,125.9l.5-4.9 4-12.4-.3-8.4zM158.7,119.3l.6-4.1 3.8-2.4-.6,10.7zM161.2,117.3l.3,10.6 4.3-30.5-1,31.5zM162.6,119.3l.6-6.3 3.5,14.4-.1-23zM163.2,113l.4,2.1 3.9-4.3-.8,16.6zM167.7,103l.1,23.5 3.9-10.9-.7,10.4zM167.8,126.5l.8-17.5 3.5,12.3-.4-5.7zM171.3,120.4l.2,16 4.3-28.3-.5,1.9zM171.5,136.4l.5-1.9 4.3-27.6-.5,1.2zM172.9,112.9l.4,3 3.8-3.2-1,24.2zM173.3,115.9l.3,12.7 3.7-2.1-.2-13.8z"/><path fill="#bb3560" d="M65.3,84.8l.5,.3 4.3,3.1-.4,1.4zM65.8,85.1l.6,5.4 4-7.3-.3,5zM70.7,87.9l.6,4.8 4.2-.4-.8-12.4zM72.1,88.8l.3-4 4.3,5.1-.4,.8zM75.4,78l.8,14.7 4-6.6-.2,11.8zM77.2,79l.6,6.7 4.3,7.4-.5-5.9zM82.8,88.2l.5,.9 4.1-1.4-.2,14zM83.3,89.1l.6,6.7 3.8-15.9-.3,7.8zM85.9,86.5l.6,4.2 4-5.5-.3,10.8zM87.8,89.2l.4-4.3 4.3,15.3-.6-14.9zM88.2,84.9l.8,19.4 3.7-21.9-.2,17.8zM89.7,94.8l.4-1.1 4-11.4-.4,3.9zM92.1,102.6l.2-12.8 4.1-1.2-.6-10.1zM93.5,109.3l.2-17.8 4.1-5.5-.6-10.1zM95.1,88.7l.8,25.1 3.7-27.1-.5-1zM100.7,105.6l.5,1.2 3.8-21.6-.4,5.4zM103.1,108.8l.3-10 3.9-13.4-.4,.4zM104.4,101.3l.3-6.8 4.1-4.3-.5,3.5zM104.7,94.5l.7,16.8 3.9-16-.5-5.1zM105.4,111.3l.2-19.2 4.1,1.1-.4,2.1zM105.6,92.1l.6,9.4 4-4.1-.5-4.2zM106.7,105.2l.3-10.7 4-9.9-.3,20.1zM109.4,103.2l.4-13.2 4-.8-.4,8.9zM109.8,90l.5,14.1 4-5.4-.5-9.5zM110.9,111.7l.3-18.3 4,4.6-.4-.9zM111.2,93.4l.5,2.5 4,6.4-.5-4.3zM114.5,109.2l.4-21.2 4,2.1-.4,9.8zM115.4,101.2l.4-7 4.1,14.1-.5-10.5zM118.7,100.1l.4,7.5 4-14.6-.5-1.2zM121,103.2l.5,24.4 3.9-37.7-.5-1.4zM121.5,127.6l.4-29.1 4-6.6-.5-2zM122.4,105.7l.5-.4 3.9-10.9-.5,2.9zM123.8,118.9l.5-14.5 3.9-5.5-.4-18.8zM124.3,104.4l.4-.6 4-1.6-.5-3.3zM126.6,116.2l.5,6.1 3.9-39.9-.4,10.5zM127.1,122.3l.4-15.2 4-8.3-.5-16.4zM128.5,100.8l.5-11 3.8,22.3-.4-9.5zM129,89.8l.4,38.3 4-38.6-.6,22.6zM130.3,109.5l.5-7.4 3.9,8.4-.4-9.5zM133.1,114.7l.5-6.7 4-21-.5,16zM134.6,104.7l.5-4 3.8,15.8-.4-20.5zM136.4,117l.6-15.7 3.8,13.4-.3-24.2zM137,101.3l.4,6.8 3.9-3.6-.5,10.2zM137.4,108.1l.5-1.2 3.9-3.9-.5,1.5zM137.9,106.9l.5-6.7 3.8,9.5-.4-6.7zM143.9,123.5l.5-1.5 4.2-37.2-.7,23.2zM145.5,103l.5-4.1 3.7,16.2-.4-4.9zM146,98.9l.4,15.8 4-20.8-.7,21.2zM146.4,114.7l.5-11.6 3.7,20.3-.2-29.5zM146.9,103.1l.6-3.2 3.7,13.7-.6,9.8zM148.3,115.7l.4,.6 4-12.1-.5,.8zM152,119.5l.7-16.2 3.7,11.4-.2-19.3zM155.8,121l.5,1.6 4.3-31.2-.8,17.2zM156.3,122.6l.6-12.5 3.8,3.8-.1-22.5zM159.3,115.2l.4,1.6 4-8.9-.6,4.9zM159.7,116.8l.5,1 3.9-4.8-.4-5.1zM160.2,117.8l.6-9.5 3.9-6.2-.6,10.9zM160.8,108.3l.4,9 3.6,11.6-.1-26.8zM161.5,127.9l.5,.2 4.2-25.7-.4-5zM162,128.1l.6-8.8 4-14.9-.4-2zM163.6,115.1l.6-3.2 3.7-.1-.4-1zM164.2,111.9l.4,2.9 3.8-4.2-.5,1.2zM165.3,101.4l.3,9.5 3.4,23-.1-19.5zM165.6,110.9l.4,5.1 4.4-30.8-1.4,48.7zM166.8,102.5l.1,19.6 3.9-10-.7,13.6zM166.9,122.1l.8-19.1 3.3,23-.2-13.9zM174,128.6l1.1-25 3.5,9.1-.8,14.8zM175.3,117.2l.3,8.1 3.9-8.2-.3-9.9zM175.6,125.3l1.1-29 3.1,26.8-.3-6zM176.7,96.3l.1,18.1 3,27.3 0-18.6z"/><path fill="#bf375d" d="M72.4,84.8l0-17.7 4.8,26.1-.5-3.3zM76.8,78.2l.4,.8 4.4,8.2-.4,3zM77.8,85.7l.4-3.8 4.1-2.3-.2,13.5zM78.5,75.3l.8,14.7 4.2,5.4-.8-21.1zM83.9,95.8l.1-14.6 4.2,1.2-.5-2.5zM85.6,91.4l.3-4.9 4.3,9.5-.8-23.9zM86.5,90.7l.4,.3 4-7.7-.4,1.9zM86.9,91l.4-6.9 4.1,3.6-.5-4.4zM87.3,84.1l.5,5.1 4.1-3.9-.5,2.4zM89,104.3l.1-15.7 4-10.8-.4,4.6zM89.1,88.6l.6,6.2 4-8.6-.6-8.4zM90.1,93.7l.5-1 4-7.2-.5-3.2zM90.6,92.7l.5,1.6 3.8-19.1-.3,10.3zM92.3,89.8l.5,2.1 4-8.8-.4,5.5zM92.8,91.9l.7,17.4 3.7-33.4-.4,7.2zM93.7,91.5l.5,2 4-6.5-.4-1zM94.2,93.5l.5,5.1 3.9-19.6-.4,8zM94.7,98.6l.4-9.9 4-3-.5-6.7zM97,99.4l.3-15.4 4.2,10.8-.6-10.4zM97.3,84l.6,11 4-6.1-.4,5.9zM103.8,95.2l.6,6.1 3.9-7.6-.6-20.1zM107.4,87.6l.6,13.3 4-10.2-.5-5.1zM114.9,88l.5,13.2 4-3.4-.5-7.7zM116.8,97.9l.4-3.7 4-8.2-.4,14.2zM117.2,94.2l.5,.9 4,7.9-.5-17zM119.1,107.6l.5-2.3 3.9-27.7-.4,15.4zM119.6,105.3l.5-4.6 3.9-4.3-.5-18.8zM120.1,100.7l.4,5.6 4-18.1-.5,8.2zM120.5,106.3l.5-3.1 3.9-14.7-.4-.3zM121.9,98.5l.5,7.2 3.9-8.4-.4-5.4zM135.1,100.7l.5-21.7 3.8,32.8-.5,4.7zM136,103.4l.4,13.6 4.1-26.5-.5,.6zM138.4,100.2l.5-.6 3.9-7.1-.6,17.2zM138.9,99.6l.4,7.3 3.9-3.9-.4-10.5zM139.3,106.9l.5-1.1 3.9-10.6-.5,7.8zM144.4,122l.7-26.4 3.8,8.3-.3-19.1zM145.1,95.6l.4,7.4 3.8,7.2-.4-6.3zM147.5,99.9l.5-1.7 3.8,3.1-.6,12.3zM148,98.2l.3,17.5 3.9-10.7-.4-3.7zM148.7,116.3l.6-11.3 4.1-19.5-.7,18.7zM149.8,104.6l.4,3.9 3.9-1.2-.4-2.8zM150.2,108.5l.6-5.8 3.9-9.2-.6,13.8zM150.8,102.7l.4,8.4 3.9-5.2-.4-12.4zM153,114.5l.5,4.1 4-17.5-.2-19.8zM164.6,114.8l.7-13.4 3.6,13-.5-3.8zM168.6,109l.5,.2 3.8-4-.8,16.1zM169.1,109.2l.3,8.6 4-13.4-.5,.8zM169.4,117.8l.3,8.9 4.6-38.4-.9,16.1zM171.1,106.3l.2,14.1 4-10.4-.4-7.4zM175.1,103.6l.2,13.6 3.9-10-.6,5.5z"/><path fill="#c63b58" d="M72.4,67.1l.6,6.2 4.4,5.2-.2,14.7zM73.6,58.3l.9,18.4 4.5,16.2-.6-6.5zM84,81.2l.6,8.7 4-9.9-.4,2.4zM84.6,89.9l.5-1.3 3.9-13.7-.4,5.1zM85.1,88.6l.5,2.8 3.8-19.3-.4,2.8zM97.9,95l.4-5.4 3.9-15.9-.3,15.2zM98.6,79.3l.7,18.3 4-3-.6-16.1zM103.4,98.8l.4-3.6 3.9-21.6-.4,11.8zM107,94.5l.4-6.9 4.1-2-.5-1zM115.8,94.2l.5-5.7 4-8.1-.4,27.9zM116.3,88.5l.5,9.4 4,2.3-.5-19.8zM135.6,79l.4,24.4 4-12.3-.6,20.7zM139.8,105.8l.5-5.1 4-10.5-.6,5zM140.3,100.7l.4,4.7 4-10.5-.4-4.7zM140.7,105.4l.6-14.9 3.8,16.8-.4-12.4zM142.7,94.3l.4,15 3.9-5.3-.4-13.1zM149.3,105l.5-.4 3.9-.1-.3-19zM151.2,111.1l.5-6 4-14.3-.6,15.1zM151.7,105.1l.3,14.4 4.2-24.1-.5-4.6zM152.7,103.3l.3,11.2 4.3-33.2-.9,33.4zM166,116l.8-13.5 3.3,23.2 .3-40.5zM169.7,126.7l.7-7.8 4.1-20.6-.2-10zM170.4,118.9l.7-12.6 3.8-3.7-.4-4.3z"/><path fill="#cc3f54" d="M73,73.3l.3-7.6 4.8,24.5-.7-11.7zM78.2,81.9l.3-6.6 4.2-1-.4,5.3zM142.2,97.9l.5-3.6 3.9-3.4-.5,11.7z"/><path fill="#d04251" d="M73.3,65.7l.3-7.4 4.8,28.1-.3,3.8z"/><path fill="#d7474c" d="M98.3,89.6l.3-10.3 4.1-.8-.5-4.8z"/><path fill="#9c286e" d="M87.5,104.5l.9,23.8 3.7-25.7-.4,4.6z"/><path fill="#a02a6c" d="M88.4,128.3l.2-17.4 3.7-21.1-.2,12.8zM96.3,112.8l.5,.6 3.9-7.8-.4,4.2zM96.8,113.4l.4,.1 4-6.7-.5-1.2zM122.1,108.7l.5,11.4 4-3.9-.5,11.5zM125.4,125.2l.5-13.4 4-2.6-.5,18.9z"/><path fill="#a82d69" d="M95.7,105.2l.6,7.6 4-3-.5-9zM97.2,113.5l.4-4.6 4-5.2-.4,3.1zM122.6,120.1l.5-15.8 4,18-.5-6.1zM128.3,112l.4,10.9 4-11.6-.5,10.3zM140.1,109.5l.4,23.1 3.9-10.6-.5,1.5zM157.1,134.5l.7-10.7 3.7,4.1-.3-10.6zM157.8,123.8l.4,5.2 3.8-.9-.5-.2zM165.5,123.4l.2,19.9 4-16.6-.3-8.9zM165.7,143.3l.7-15.1 4-9.3-.7,7.8z"/><path fill="#ae2f66" d="M66.2,92.8l.8,13.8 3.7-18.7-.1,13.1zM71.8,104.5l.7,8.6 3.7-20.4-.8-14.7zM72.5,113.1l-.1-19.8 4.3,2.4-.5-3zM76.3,105.5l.3-4.5 4.1-5.8-.3,4.4zM77.7,109.4l0-22.2 4.5,17.9-.5-4.4zM87.2,108.9l.3-4.4 4.2,2.7-.6-12.9zM89.4,105.3l.4-2.5 3.9-11.3-.2,17.8zM89.8,102.8l.8,21.9 3.6-31.2-.5-2zM90.6,124.7l0-28.5 4.1,2.4-.5-5.1zM91.5,96.7l.4-2.7 4.4,18.1-.4,1.7zM97.6,108.9l.4-3.7 4.1-4.3-.5,2.8zM98.9,100.5l.6,14.8 3.9-16.5-.3,10zM99.5,115.3l.5-1 3.8-19.1-.4,3.6zM106.3,101.3l.5,10.1 4.1,.3-.6-7.6zM117,112.2l.4-8.6 4.1,24-.5-24.4zM117.4,103.6l.6,13.1 3.9-18.2-.4,29.1zM118.9,112.6l.5,8 3.9-9.4-.4-5.9zM119.4,120.6l.4-17 4,15.3-.5-7.7zM123.5,106.8l.5,14.1 4-2.9-.5-10.9zM125,107.8l.4,17.4 4,2.9-.4-38.3zM128.7,122.9l.5-6.7 3.9-1.5-.4-3.4zM132.5,121.8l.5-1.8 4-18.7-.6,15.7zM139.1,119.7l.5,4.9 3.9-8.2-.4-7.1zM139.6,124.6l.5-15.1 3.8,14-.4-7.1zM140.5,132.6l.5-6 4.1-31-.7,26.4zM144.3,120.8l.5,4.9 3.9-9.4-.4-.6zM154.9,124.2l.4,3.7 4-12.7-.6,4.1z"/><path fill="#b33164" d="M63.4,89.9l.3-6.4 4.6,13.6-.3,7zM63.9,74.5l1,19.2 4.4,6.9-.5,.4zM64.9,93.7l0-15.1 4.7,17.5-.3,4.5zM67,106.6l0-15.7 4.3,1.8-.6-4.8zM67,90.9l.6,7.3 4.3,.5-.6-6zM71.3,101l.5,3.5 3.6-26.5-.1,14.3zM75.3,80.6l1,24.9 4.1-5.9-.4,4.2zM76.6,101l0-22.4 4.7,25.6-.6-9zM76.6,78.6l1.1,30.8 4-8.7-.4,3.5zM77.7,87.2l.8,18 3.9-16.3-.2,16.2zM79.4,103.3l.5,5.1 4-12.6-.6-6.7zM79.9,108.4l.5,.1 3.6-27.3-.1,14.6zM80.4,108.5l.4-1 3.8-17.6-.6-8.7zM80.8,107.5l.3-8.5 4-10.4-.5,1.3zM81.6,101.9l.5,3.7 3.8-19.1-.3,4.9zM86.6,101.8l.6,7.1 3.9-14.6-.5-1.6zM88.7,90.6l.7,14.7 4.1,4-.7-17.4zM91.1,98.5l.4-1.8 4.4,17.1-.8-25.1zM91.9,94l.5-.1 4.3,11.4-.4,6.8zM92.4,93.9l.5,7.3 4.1-1.8-.3,5.9zM95.2,97.5l.5,7.7 4.1-4.4-.5-3.2zM98,105.2l.3-10.2 4.3,9.1-.5-3.2zM98.3,95l.6,5.5 4.2,8.3-.5-4.7zM100,114.3l.3-6 4.1-7-.6-6.1zM106.8,111.4l.4-4.6 4-13.4-.3,18.3zM108.1,103.3l.5-3.7 4.1,13.9-.5-6zM108.6,99.6l.4-.7 4.1,6.8-.4,7.8zM109,98.9l.5-.5 4.2,19.8-.6-12.5zM114.7,107.1l.5,8.6 3.9-8.1-.4-7.5zM115.2,115.7l.4-12 4,1.6-.5,2.3zM119.8,103.6l.5,3 4-2.2-.5,14.5zM120.7,113.8l.5-11 4,14.4-.5-13.4zM121.7,99.4l.4,9.3 4,19-.4-23zM123.1,104.3l.4,2.5 4,.3-.4,15.2zM124,120.9l.5-16.1 4-4-.5,17.2zM125.9,111.8l.5-4.1 3.9,1.8-.4-.3zM127.8,115.3l.5-3.3 3.9,9.6-.4-18.7zM129.2,116.2l.5-11.1 3.9,2.9-.5,6.7zM130.2,102.4l.4,13 4-10.7-.5,16.3zM132,115l.5,6.8 3.9-4.8-.4-13.6zM151.1,115.2l.5-.8 3.7,11.5-.5-1zM154.5,110.4l.4,13.8 3.8-4.9-.5,6.8zM155.3,127.9l.6-7.1 3.8-4-.4-1.6zM156.9,113.5l.2,21 4.1-17.2-.4-9zM158.2,129l.7-18.2 3.7,8.5-.6,8.8zM167.4,129.3l.8-20.9 3.3,28-.2-16zM173.2,130.1l.3,8.6 4.2-22.4-.4-1.5z"/><path fill="#bb3560" d="M63.7,83.5l.2-9 4.9,26.5-.5-3.9zM65.3,77.4l.9,15.4 4.4,8.2-1-23.7zM67.6,98.2l.1-16.4 4.4,7-.2,9.9zM67.7,81.8l.9,18.8 3.8-15.8-.3,4zM70.6,92.4l.7,8.6 4-8.7-.8-15.6zM72.4,93.3l.4-4.1 4-11-.1,17.5zM75.2,95.8l.1-15.2 4.7,23.2-.7-13.8zM78.5,105.2l.3-7.9 4-9.1-.4,.7zM78.8,97.3l.6,6 3.9-14.2-.5-.9zM81.1,99l.5,2.9 4-10.5-.5-2.8zM82.1,105.6l.2-14.2 4.2-.7-.6-4.2zM82.3,91.4l.8,17.9 3.8-18.3-.4-.3zM83.1,109.3l.2-14.8 4-10.4-.4,6.9zM84.2,97.9l.4-2.9 4.4,9.3-.8-19.4zM84.6,95l.4-6.1 4.1-.3-.1,15.7zM85,88.9l.7,16 4-10.1-.6-6.2zM85.7,104.9l.3-11.7 4.1,.5-.4,1.1zM86,93.2l.6,8.6 4-9.1-.5,1zM88.6,110.9l.1-20.3 4.1,1.3-.5-2.1zM90.6,96.2l.5,2.3 4-9.8-.4,9.9zM92.9,101.2l.4-5 4-12.2-.3,15.4zM93.3,96.2l.7,16.8 3.9-18-.6-11zM94,113l.1-25.7 4.2,2.3-.4,5.4zM100.3,108.3l.4-8 4-5.8-.3,6.8zM100.7,100.3l.3-11.8 4.4,22.8-.7-16.8zM101,88.5l.7,16.4 3.9-12.8-.2,19.2zM101.7,104.9l.3-9.9 4.2,6.5-.6-9.4zM102,95l.5,2.5 4.2,7.7-.5-3.7zM102.5,97.5l.6,8.5 3.9-11.5-.3,10.7zM103.9,93.7l.5,6.6 4.1,4.5-.5-3.9zM104.8,96.1l.6,13 4-5.9-.6-17.8zM105.4,109.1l.4-8.5 4-10.6-.4,13.2zM105.8,100.6l.5,.7 4,2.8-.5-14.1zM107.6,93.6l.5,9.7 4.1,4.2-.5-11.6zM109.5,98.4l.5,5.8 4-10-.3,24zM110,104.2l.4-6.5 4.1,11.5-.5-15zM110.9,99l.6,18.8 3.9-16.6-.5-13.2zM111.5,117.8l.3-15.8 4-7.8-.4,7zM112.8,103.4l.5,14 3.9-23.2-.4,3.7zM113.3,117.4l.4-20.2 4-2.1-.5-.9zM115.6,103.7l.4-7.6 4.1,4.6-.5,4.6zM116.5,95.3l.5,16.9 4-9-.5,3.1zM118,116.7l.4-13.9 4,2.9-.5-7.2zM118.4,102.8l.5,9.8 4-7.3-.5,.4zM120.3,106.6l.4,7.2 4-10-.4,.6zM121.2,102.8l.5-3.4 4,5.3-.5,12.5zM127.3,105.6l.5,9.7 4-12.4-.5,8.8zM129.7,105.1l.5-2.7 3.9,18.6-.5-13zM130.6,115.4l.5-12.1 4-2.6-.5,4zM133,120l.5-21.8 3.9,9.9-.4-6.8zM135.3,112.2l.6-8.4 3.9,2-.5,1.1zM135.9,103.8l.4,15.2 4-18.3-.5,5.1zM136.3,119l.5-3.4 3.9-10.2-.4-4.7zM136.8,115.6l.4,7 4.1-32.1-.6,14.9zM137.2,122.6l.5-.1 4-13.2-.4-18.8zM138.6,127.7l.5-8 4-10.4-.4-15zM141,126.6l.4,.1 4.1-23.7-.4-7.4zM142.5,111.2l.4,13 4-21.1-.5,11.6zM142.9,124.2l.5-1.3 4.1-23-.6,3.2zM143.4,122.9l.5-2.8 4.1-21.9-.5,1.7zM143.9,120.1l.4,.7 4-5.1-.3-17.5zM144.8,125.7l.6-17 3.9-3.7-.6,11.3zM147.2,119.3l.6-12.2 3.9-2-.5,6zM149.7,108l.5,.1 3.6,20.4-.3-9.9zM150.2,108.1l.5,3.5 3.8-1-.7,17.9zM150.7,111.6l.4,3.6 3.7,9.7-.3-14.3zM151.6,114.4l.7-17.1 3.5,23.7-.5,4.9zM154.2,99l.3,11.4 3.7,15.7-.5,.7zM155.9,120.8l.5-4.8 3.8,1.8-.5-1zM156.4,116l.5-2.5 3.9-5.2-.6,9.5zM160.3,118.4l.5-.6 3.8-3-.4-2.9zM160.8,117.8l.3,6.2 4.2-22.6-.7,13.4zM161.7,118.2l.4,4.6 3.9-6.8-.4-5.1zM162.7,117.7l.2,15.4 4-11-.1-19.6zM162.9,133.1l.9-21.3 3.9-8.8-.8,19.1zM164.2,115.1l.3,8.9 4.1-15-.8,17.5zM165.1,118.7l.4,4.7 3.9-5.6-.3-8.6zM168.2,108.4l.6-4.4 3.2,30.5-.5,1.9zM169.7,107.7l.1,19.7 3.8,1.2-.3-12.7zM169.8,127.4l1.1-27.1 3.1,28.3-.4,0z"/><path fill="#bf375d" d="M61.9,81.9l.3-4.6 4.5,9.6-.3,3.6zM62.1,58.6l1.3,31.3 4.6,14.2-.8-16zM68.6,100.6l.3-3.9 3.5-29.6 0,17.7zM68.9,96.7l.7,9.8 3.4-33.2-.6-6.2zM74.7,95l.5,.8 4.1-5.8-.8-14.7zM83.3,94.5l.4,1.2 4.1-6.5-.5-5.1zM83.7,95.7l.5,2.2 4-13-.4,4.3zM103.1,106l.4-7.5 3.9-10.9-.4,6.9zM103.5,98.5l.4-4.8 4.1,7.2-.6-13.3zM104.4,100.3l.4-4.2 4-10.7-.3,19.4zM107.2,106.8l.4-13.2 4.1,2.3-.5-2.5zM110.4,97.7l.5,1.3 4-11-.4,21.2zM111.8,102l.5,1.8 4-15.3-.5,5.7zM112.3,103.8l.5-.4 4-5.5-.5-9.4zM114.1,91.7l.6,15.4 4-7-.5,4zM116,96.1l.5-.8 4,11-.4-5.6zM124.5,104.8l.5,3 4-18-.5,11zM126.4,107.7l.4-13.3 4,7.7-.5,7.4zM126.8,94.4l.5,11.2 4,6.1-.5-9.6zM133.5,98.2l.5,1.4 3.9,7.3-.5,1.2zM134,99.6l.4,10.3 4-9.7-.5,6.7zM134.4,109.9l.5-2.5 4-7.8-.5,.6zM134.9,107.4l.4,4.8 4-5.3-.4-7.3zM137.7,122.5l.6-23.4 3.9-1.2-.5,11.4zM138.3,99.1l.3,28.6 4.1-33.4-.5,3.6zM141.4,126.7l.7-27.2 3.9-.6-.5,4.1zM142.1,99.5l.4,11.7 3.9,3.5-.4-15.8zM145.4,108.7l.5-.8 3.9-3.3-.5,.4zM145.9,107.9l.4,4.7 3.9-4.1-.4-3.9zM146.3,112.6l.6-6.7 3.9-3.2-.6,5.8zM146.9,105.9l.3,13.4 4-8.2-.4-8.4zM149.3,102.1l.4,5.9 3.8,10.6-.5-4.1zM153,115.5l.8-25.9 3.4,37-.3-16.5zM153.8,89.6l.4,9.4 3.5,27.8-.5-.2zM158.9,110.8l.5,.8 3.8,1.4-.6,6.3zM159.4,111.6l.6-6.9 3.6,10.4-.4-2.1zM160,104.7l.3,13.7 3.9-6.5-.6,3.2zM161.1,124l.6-5.8 3.9-7.3-.3-9.5zM162.1,122.8l.6-5.1 4.1-15.2-.8,13.5zM163.8,111.8l.4,3.3 3.6,11.4-.1-23.5zM164.5,124l.6-5.3 4-9.5-.5-.2zM166.4,128.2l.9-21.1 3.8-.8-.7,12.6zM167.3,107.1l.1,22.2 3.9-8.9-.2-14.1zM168.8,104l.4,3.7 3.7,5.2-.9,21.6zM171.7,109.8l.4,.8 3.5,14.7-.3-8.1zM173.2,106.2l0,23.9 4.1-15.3-.5-.4z"/><path fill="#c63b58" d="M61,67l.9,14.9 4.5,8.6-.6-5.4zM64.9,78.6l.4-1.2 4.3-.1 0,18.8zM69.6,106.5l0-20.6 3.7-20.2-.3,7.6zM72.8,89.2l.3-3.5 4.1-6.7-.4-.8zM73.1,85.7l.4-3.6 4.3,3.6-.6-6.7zM73.5,82.1l.5,3.5 4.2-3.7-.4,3.8zM74,85.6l.7,9.4 3.8-19.7-.3,6.6zM94.6,91.1l.6,6.4 4.1,.1-.7-18.3zM113.7,97.2l.4-5.5 4.1,12.4-.5-9zM131.6,107.7l.4,7.3 4-11.6-.4-24.4zM147.8,107.1l.7-17.8 3.5,30.2-.3-14.4zM148.9,98.4l.4,3.7 3.7,12.4-.3-11.2zM152.3,97.3l.6-14.6 3.4,39.9-.5-1.6zM152.9,82.7l.1,32.8 3.9-5.4-.6,12.5zM169.2,107.7l.5,0 3.6,8.2-.4-3zM170.9,100.3l.3,10 3.9-6.7-1.1,25zM172.1,110.6l.4,4.4 4.2-18.7-1.1,29z"/><path fill="#cc3f54" d="M60.8,78l.2-11 4.8,18.1-.5-.3zM62.2,77.3l-.1-18.7 5.1,29.5-.5-1.2zM94.1,87.3l.5,3.8 4-11.8-.3,10.3zM131.1,103.3l.5,4.4 4-28.7-.5,21.7zM148.5,89.3l.4,9.1 3.8,4.9-.7,16.2zM171.2,110.3l.5-.5 3.6,7.4-.2-13.6z"/><path fill="#d04251" d="M70.1,88l.5,4.4 3.9-15.7-.9-18.4zM172.5,115l.7-8.8 3.6,8.2-.1-18.1z"/><path fill="#da4b49" d="M69.6,85.9l.5,2.1 3.5-29.7-.3,7.4z"/><path fill="#9c286e" d="M75.7,127l.1-17.8 4.1-.8-.5-5.1zM83.8,102.6l.6,7.5 4.2,.8-.2,17.4zM138.9,141.9l.5-13.8 4-5.2-.5,1.3z"/><path fill="#a02a6c" d="M82.7,115.2l.5,3.5 4-9.8-.6-7.1z"/><path fill="#a82d69" d="M74.5,95.5l1.2,31.5 3.7-23.7-.6-6zM75.8,109.2l.2-7.7 4.4,7-.5-.1zM81.3,117.4l.5,1.6 3.9-14.1-.7-16zM118.2,137.5l.4-25 4,7.6-.5-11.4zM137.1,115.5l.4,14.2 3.9-3-.4-.1z"/><path fill="#ae2f66" d="M64.2,95.1l.8,13.5 3.9-11.9-.3,3.9zM65,108.6l-.1-18.5 4.7,16.4-.7-9.8zM67.2,90.2l.7,9.4 4.6,13.5-.7-8.6zM71.8,110.6l.4-.7 4.1-4.4-1-24.9zM80.9,118l.4-.6 3.7-28.5-.4,6.1zM83.2,118.7l0-23.9 4.3,9.7-.3,4.4zM83.2,94.8l.6,7.8 4.6,25.7-.9-23.8zM84.4,110.1l.6,8.7 3.7-28.2-.1,20.3zM85.9,96.1l.8,16 3.9-15.9 0,28.5zM95.7,101.1l.6,12.9 4-5.7-.3,6zM121,127l.4-21.1 4,19.3-.4-17.4zM127.1,135.1l.5-8.2 4-19.2-.5-4.4zM128,115.4l.5,11 4-4.6-.5-6.8zM128.5,126.4l.5-20.5 4,14.1-.5,1.8zM133.3,105.7l.4,29 4-12.2-.5,.1zM136.6,114.6l.5,.9 3.9,11.1-.5,6zM138.5,117.2l.4,24.7 4-17.7-.4-13zM151,118.8l.4,14.3 3.9-5.2-.4-3.7zM153.4,127.5l.5-6.1 3.9,2.4-.7,10.7zM158.7,128.2l.4,8.8 3.8-3.9-.2-15.4zM162.3,116.6l.3,10.8 3.8,.8-.7,15.1zM163.4,141l.5-4.2 4.3-28.4-.8,20.9z"/><path fill="#b33164" d="M61.9,94.4l.4-1.8 4.7,14-.8-13.8zM62.6,87.7l1.1,20.5 3.9-10-.6-7.3zM63.7,108.2l.1-12 3.9-14.4-.1,16.4zM64.9,90.1l1,18.7 3.7-22.9 0,20.6zM67.1,103l.1-12.8 4.6,14.3-.5-3.5zM67.9,99.6l.3-4.5 4.2-1.8 .1,19.8zM70.4,110.2l.2-10.4 4.1-4.8-.7-9.4zM72.2,109.9l-.1-23.3 4.5,14.4-.3,4.5zM73.2,96.1l.6,6.2 3.9-15.1 0,22.2zM73.8,102.3l.5,1.4 4.2,1.5-.8-18zM74.3,103.7l.2-8.2 4.3,1.8-.3,7.9zM76,101.5l.3-8.4 4.5,14.4-.4,1zM76.8,94.2l.7,11.8 4.1-4.1-.5-2.9zM77.5,106l.2-13.3 4.4,12.9-.5-3.7zM78.3,101.3l.5,1 4.3,7-.8-17.9zM78.8,102.3l.4,1 4.1-8.8-.2,14.8zM79.2,103.3l.6,5.9 3.9-13.5-.4-1.2zM79.9,93.5l1,24.5 3.7-23-.4,2.9zM81.8,119l.1-20.7 4.1-5.1-.3,11.7zM81.9,98.3l.8,16.9 3.9-13.4-.6-8.6zM85.4,94.6l.5,1.5 4.7,28.6-.8-21.9zM91.3,89l.8,20.7 4.2,3.1-.6-7.6zM92.1,109.7l.2-18.2 4.5,21.9-.5-.6zM95,88.8l.7,12.3 4.3,13.2-.5,1zM106.9,117.3l.5-4 4.1,4.5-.6-18.8zM107.4,113.3l.4-10.1 4-1.2-.3,15.8zM113.8,103.4l.6,16.7 4-17.3-.4,13.9zM114.7,96l.6,25 4.1-.4-.5-8zM115.3,121l.4-17.6 4.1,.2-.4,17zM117.6,110.6l.6,26.9 3.9-28.8-.4-9.3zM118.6,112.5l.5,2.1 4-10.3-.5,15.8zM119.5,118.3l.5-6.3 4,8.9-.5-14.1zM120,112l.5,4.9 4-12.1-.5,16.1zM120.5,116.9l.5,10.1 4-19.2-.5-3zM121.4,105.9l.5,1.9 4,4-.5,13.4zM126.6,111.5l.5,23.6 4-31.8-.5,12.1zM127.6,126.9l.4-11.5 4-.4-.4-7.3zM132.3,114.3l.5,6.4 4-5.1-.5,3.4zM132.8,120.7l.5-15 3.9,16.9-.4-7zM133.7,134.7l.5-22.7 4.1-12.9-.6,23.4zM135.2,105.6l.5,12.1 3.9,6.9-.5-4.9zM135.7,117.7l.4-2 4-6.2-.5,15.1zM136.1,115.7l.5-1.1 3.9,18-.4-23.1zM137.5,129.7l.5-3.4 4.1-26.8-.7,27.2zM139.4,128.1l.6-22.9 3.9,14.9-.5,2.8zM140.5,113.4l.4,3.6 3.9,8.7-.5-4.9zM142.3,132.3l.4-.2 4.2-26.2-.6,6.7zM142.7,132.1l.6-12.5 3.9-.3-.3-13.4zM146.1,129.7l.4,4.7 4.2-22.8-.5-3.5zM146.5,134.4l.6-7.7 4-11.5-.4-3.6zM151.4,133.1l.7-17.4 3.8,5.1-.6,7.1zM153,113.8l.4,13.7 3.7,7-.2-21zM158.2,130.1l.5-1.9 4-10.5-.6,5.1zM159.1,137l.6-11.2 4.1-14-.9,21.3zM163.2,123.3l.2,17.7 4-11.7-.1-22.2zM169.8,111.7l.1,18.9 3.6,8.1-.3-8.6z"/><path fill="#bb3560" d="M59.3,95.7l.5,2.7 3.9-14.9-.3,6.4zM60.7,99.6l.7,6.4 3.5-27.4 0,15.1zM62.3,92.6l.3-4.9 4.4,3.2 0,15.7zM63.8,96.2l.4-1.1 4.4,5.5-.9-18.8zM65.9,108.8l0-15.9 4.2-4.9-.5-2.1zM66.2,86.7l.9,16.3 4.2-2-.7-8.6zM68.2,95.1l.5,1 4.1-6.9-.4,4.1zM68.7,96.1l.5,3.6 3.9-14-.3,3.5zM69.6,96.3l.8,13.9 3.6-24.6-.5-3.5zM70.6,99.8l.2-10.8 4.4,6.8-.5-.8zM70.8,89l1,21.6 3.5-30-.1,15.2zM73,106l.2-9.9 4.5,13.3-1.1-30.8zM76.3,93.1l.5,1.1 4.3,4.8-.3,8.5zM77.7,92.7l.6,8.6 4-9.9-.2,14.2zM79.8,109.2l.1-15.7 4.3,4.4-.5-2.2zM85,118.8l-.1-29 4.5,15.5-.7-14.7zM84.9,89.8l.5,4.8 4.4,8.2-.4,2.5zM86.7,112.1l.1-16.2 4.3,2.6-.5-2.3zM89.4,82.9l1,31.3 3.7-26.9-.1,25.7zM92.3,91.5l.5,1.5 4.4,20.5-.4-.1zM92.8,93l.5,6.3 4.3,9.6-.4,4.6zM93.3,99.3l.4-5.2 4.3,11.1-.4,3.7zM94.8,105.4l.2-16.6 4.5,26.5-.6-14.8zM96.3,114l.2-18 4.2,4.3-.4,8zM97.2,108.9l.5,3.4 4-7.4-.7-16.4zM97.7,112.3l.3-6.2 4-11.1-.3,9.9zM98.8,96.4l.7,17.7 4-15.6-.4,7.5zM99.5,114.1l.3-15 4.1-5.4-.4,4.8zM100.9,109.8l.3-13.4 4.2,12.7-.6-13zM101.2,96.4l.7,22.8 3.9-18.6-.4,8.5zM101.9,119.2l.2-20 4.2,2.1-.5-.7zM102.5,94.6l.6,11.7 4.1,.5-.4,4.6zM104.2,115.9l.3-12.1 4.1-4.2-.5,3.7zM105.5,112.5l.4-10.7 4.1,2.4-.5-5.8zM109.1,98l.5,7.6 4.1-8.4-.4,20.2zM114.4,120.1l.3-24.1 4.2,16.6-.5-9.8zM115.7,103.4l.5,7.3 4.1-4.1-.5-3zM116.2,110.7l.5,2 4,1.1-.4-7.2zM116.7,112.7l.5-4.9 4-5-.5,11zM119.1,114.6l.4,3.7 4-11.5-.4-2.5zM122.9,126.9l.4-7.5 4-13.8-.5-11.2zM123.3,119.4l.5-8.1 4,4-.5-9.7zM123.8,111.3l.4-2.6 4.1,3.3-.5,3.3zM124.2,108.7l.5-1.8 4,16-.4-10.9zM124.7,106.9l.5-4.9 4,14.2-.5,6.7zM126.1,115.5l.5-4 4,3.9-.4-13zM129,105.9l.4,21.8 4.1-29.5-.5,21.8zM129.9,114.2l.5,15.6 4-19.9-.4-10.3zM130.4,129.8l.5-19.7 4-2.7-.5,2.5zM130.9,110.1l.4,19.4 4-17.3-.4-4.8zM131.3,129.5l.6-30.6 4,4.9-.6,8.4zM134.8,95.9l.4,9.7 3.9,14.1-.5,8zM138,126.3l.5-9.1 4-6-.4-11.7zM140,105.2l.5,8.2 3.8,7.4-.4-.7zM142,107.3l.3,25 4-19.7-.4-4.7zM145.7,117.9l.4,11.8 4.1-21.6-.5-.1zM147.1,126.7l.5-2.6 4-9.7-.5,.8zM152.1,115.7l.3,10.8 4-10.5-.5,4.8zM152.4,126.5l.6-12.7 3.9-.3-.5,2.5zM153.9,121.4l.6-8.7 3.7,16.3-.4-5.2zM154.5,112.7l.3,14.5 4.1-16.4-.7,18.2zM154.8,127.2l.5,2.4 4.1-18-.5-.8zM157.3,120.3l.6-4 3.8,1.9-.6,5.8zM157.9,116.3l.3,13.8 3.9-7.3-.4-4.6zM162.1,95.8l.2,20.8 3.4,26.7-.2-19.9zM162.6,127.4l.6-4.1 4.1-16.2-.9,21.1zM164.6,128.2l.2,14.8 4.4-35.3-.4-3.7zM167.4,134.9l.5-1.4 4.2-22.9-.4-.8z"/><path fill="#bf375d" d="M59.9,84.9l.8,14.7 4.2-5.9-1-19.2zM61.4,106l-.1-17.8 4-10.8-.4,1.2zM61.3,88.2l.6,6.2 4.3-1.6-.9-15.4zM65.9,92.9l.3-6.2 4.4,5.7-.5-4.4zM69.2,99.7l.4-3.4 3.9-14.2-.4,3.6zM72.1,86.6l.9,19.4 3.6-27.4 0,22.4zM86.8,95.9l.5,.7 4.2,.1-.4,1.8zM87.3,96.6l.4-4.2 4.2,1.6-.4,2.7zM87.7,92.4l.6,10.1 4.1-8.6-.5,.1zM88.3,102.5l.3-12.7 4.3,11.4-.5-7.3zM88.6,89.8l.6,9.5 4.1-3.1-.4,5zM89.2,99.3l.2-16.4 4.6,30.1-.7-16.8zM90.4,114.2l0-23.9 4.2,.8-.5-3.8zM91.1,100.6l.2-11.6 4.4,16.2-.5-7.7zM96.5,96l.7,12.9 3.8-20.4-.3,11.8zM98,106.1l.4-11.8 4.1,3.2-.5-2.5zM98.4,94.3l.4,2.1 4.3,9.6-.6-8.5zM100.2,95.7l.7,14.1 3.9-13.7-.4,4.2zM102.1,99.2l.4-4.6 4.3,16.8-.5-10.1zM103.1,106.3l.3-16.4 4.2,3.7-.4,13.2zM103.4,89.9l.8,26 3.9-12.6-.5-9.7zM104.9,92l.6,20.5 4-14.1-.5,.5zM105.9,101.8l.4-6.6 4.1,2.5-.4,6.5zM106.3,95.2l.6,22.1 4-18.3-.5-1.3zM107.8,103.2l.4-1.9 4.1,2.5-.5-1.8zM108.2,101.3l.4-5.6 4.2,7.7-.5,.4zM108.6,95.7l.5,2.3 4.2,19.4-.5-14zM109.6,105.6l.6,7.4 3.9-21.3-.4,5.5zM110.2,113l.3-19.2 4.2,13.3-.6-15.4zM110.9,83.8l.6,20.3 4.1-.4-.4,12zM113.3,88.8l.5,14.6 4.2,13.3-.6-13.1zM117.2,107.8l.4,2.8 4.1-11.2-.5,3.4zM121.9,107.8l.4-10.6 4.1,10.5-.5,4.1zM122.3,97.2l.6,29.7 3.9-32.5-.4,13.3zM125.2,102l.5,7.3 4-4.2-.5,11.1zM125.7,109.3l.4,6.2 4.1-13.1-.5,2.7zM129.4,127.7l.5-13.5 4.1-14.6-.5-1.4zM131.9,98.9l.4,15.4 4,4.7-.4-15.2zM134.2,112l.6-16.1 3.8,31.8-.3-28.6zM140.9,117l.6-15.7 3.9,7.4-.6,17zM143.3,119.6l.6-14.8 3.9,2.3-.6,12.2zM144.7,121.8l.5,.8 4.1-20.5-.4-3.7zM145.2,122.6l.5-4.7 4-9.9-.4-5.9zM148.5,126.5l.5,2.4 4-13.4-.1-32.8zM149,128.9l.5-6.2 4.3-33.1-.8,25.9zM150.7,108.4l.3,10.4 3.9,5.4-.4-13.8zM155.3,129.6l.6-6.7 4.1-18.2-.6,6.9zM157,109.6l.3,10.7 3.8,3.7-.3-6.2zM159.7,125.8l.6-8.1 3.9-2.6-.4-3.3zM160.3,117.7l.5,1 3.7,5.3-.3-8.9zM160.8,118.7l.6-5.2 3.7,5.2-.6,5.3zM163.9,136.8l.7-8.6 4.2-24.2-.6,4.4zM164.8,143l.9-21.3 4-14-.5,0zM165.7,121.7l.4,2.1 3.7,3.6-.1-19.7zM166.1,123.8l.5-.7 4.3-22.8-1.1,27.1zM167.2,115.3l.2,19.6 4.3-25.1-.5,.5zM167.9,133.5l.9-19.9 3.7,1.4-.4-4.4zM169,125.7l.8-14 3.4,18.4 0-23.9z"/><path fill="#c63b58" d="M56.7,83.6l1.1,20.7 3.2-37.3-.2,11zM57.8,104.3l-.4-26.8 4.5,4.4-.9-14.9zM59.8,98.4l.1-13.5 4-10.4-.2,9zM90.4,90.3l.7,10.3 4.1-3.1-.6-6.4zM93.7,94.1l.3-14.2 4.3,15.1-.3,10.2zM94,79.9l.8,25.5 4.1-4.9-.6-5.5zM99.8,99.1l.4-3.4 4.2,4.6-.5-6.6zM104.5,103.8l.4-11.8 4.1,6.9-.4,.7zM110.5,93.8l.4-10 4.3,31.9-.5-8.6zM111.5,104.1l.4-6.6 4.1-1.4-.4,7.6zM111.9,97.5l.6,10.2 4-12.4-.5,.8zM112.5,107.7l.3-21.7 4.2,26.2-.5-16.9zM147.6,124.1l.7-22.4 4-4.4-.7,17.1zM149.5,122.7l.5,6.9 4.2-30.6-.4-9.4zM150,129.6l.7-21.2 3.8,2-.3-11.4zM155.9,122.9l.6-14.8 3.8,10.3-.3-13.7zM156.5,108.1l.5,1.5 3.8,8.2-.5,.6zM161.4,113.5l.7-17.7 3.4,27.6-.4-4.7zM168.8,113.6l.2,12.1 4.2-19.5-.7,8.8z"/><path fill="#cc3f54" d="M57.4,77.5l.8,10.6 4-10.8-.3,4.6zM58.5,83.5l.8,12.2 4.1-5.8-1.3-31.3zM112.8,86l.5,2.8 4.1,14.8-.4,8.6zM141.5,101.3l.5,6 3.9,.6-.5,.8zM166.6,123.1l.6-7.8 4-5-.3-10z"/><path fill="#d04251" d="M143.9,104.8l.4,5.5 4.2-21-.7,17.8zM144.3,110.3l.4,11.5 4.2-23.4-.4-9.1z"/><path fill="#d7474c" d="M58.2,88.1l.3-4.6 3.6-24.9 .1,18.7zM148.3,101.7l.2,24.8 4.4-43.8-.6,14.6z"/><path fill="#9c286e" d="M70.7,115l.5,2 4.5,10-1.2-31.5zM71.2,117l.3-9.8 4.3,2-.1,17.8z"/><path fill="#a02a6c" d="M66.2,113.6l.5,2.7 3.9-16.5-.2,10.4zM135,131.9l.5-9.4 3.9,5.6-.5,13.8z"/><path fill="#a82d69" d="M64.2,121.8l.2-10.7 3.8-16-.3,4.5zM68.8,109.9l.8,13.5 3.6-27.3-.2,9.9zM76.6,93.7l.9,19.8 4.3,5.5-.5-1.6zM91.8,121.4l.5,2.8 4-10.2-.6-12.9zM113.6,122.7l.5-5.1 4.1,19.9-.6-26.9zM129.7,119.7l.5,25.2 4-32.9-.5,22.7zM138.3,135.8l.6-19.5 3.8,15.8-.4,.2zM154.2,140.2l.5-.4 4-11.6-.5,1.9zM159.8,124.9l.2,17.8 3.9-5.9-.5,4.2z"/><path fill="#ae2f66" d="M56.8,110.8l.1-9.8 4.5,5-.7-6.4zM59.8,94.4l1.2,24.3 4-10.1-.8-13.5zM65.4,99.9l.8,13.7 4.2-3.4-.8-13.9zM69.6,123.4l-.1-22.9 4.3,1.8-.6-6.2zM71.5,107.2l.5,5.7 4-11.4-.2,7.7zM86.3,119.7l.4,.1 3.7-29.5 0,23.9zM116.4,115l.5,4.7 4.1,7.3-.5-10.1zM123.1,115.7l.4,2.8 4.1,8.4-.5,8.2zM123.5,118.5l.5,9.9 4-13-.4,11.5zM126.9,120.9l.4,9.9 4-1.3-.4-19.4zM144.6,128.7l.5,3.9 3.9-3.7-.5-2.4zM145.1,132.6l.5-2.1 3.9-7.8-.5,6.2zM145.6,130.5l.4,.6 4-1.5-.5-6.9zM150.9,126.9l.4,10.9 4-8.2-.5-2.4zM151.3,137.8l.5,1.5 4.1-16.4-.6,6.7zM153.1,145.4l.6-5.4 4.2-23.7-.6,4zM153.7,140l.5,.2 4-10.1-.3-13.8zM154.7,139.8l.7-19.6 3.7,16.8-.4-8.8zM160,142.7l.8-20.5 3.8,6-.7,8.6z"/><path fill="#b33164" d="M56.2,108.3l.6,2.5 3.9-11.2-.8-14.7zM58.9,94l.7,6 4.2-3.8-.1,12zM61,118.7l-.4-28.3 4.3-.3 .1,18.5zM60.6,90.4l1,18.7 4.3-.3-1-18.7zM63.1,97.8l1.1,24 3.7-22.2-.7-9.4zM64.4,111.1l.1-11.6 4.2-3.4-.5-1zM66.7,116.3l.3-5.6 3.8-21.7-.2,10.8zM67,110.7l.1-15.1 4.7,15-1-21.6zM69.8,95.5l.9,19.5 3.8-19.5-.2,8.2zM76,87.1l.6,6.6 4.7,23.7-.4,.6zM77.5,113.5l0-20.5 4.4,5.3-.1,20.7zM78.7,108.2l.4-6.3 4.1-7.1 0,23.9zM79.7,112.8l.3-8.6 4.4,5.9-.6-7.5zM80,104.2l.3-7.5 4.7,22.1-.6-8.7zM85.8,121.6l.5-1.9 4.1-5.5-1-31.3zM90.9,125.3l.4-4.1 3.7-32.4-.2,16.6zM92.3,124.2l.2-19 4-9.2-.2,18zM93,110l.4-4.1 4.3,6.4-.5-3.4zM95.2,101.8l.8,24 3.8-26.7-.3,15zM96.8,120.9l.5-3.2 3.9-21.3-.3,13.4zM101.6,127.6l.2-19.4 4.1-6.4-.4,10.7zM103.9,128.5l.4-3.4 3.9-23.8-.4,1.9zM105.7,125.6l.3-15 4.2,2.4-.6-7.4zM109.9,122.3l.4-11.7 4.1,9.5-.6-16.7zM111.3,130.1l.4-17.5 4-9.2-.4,17.6zM114.1,117.6l.4-12.9 4.1,7.8-.4,25zM118.4,135.9l.4-23 4.1,14-.6-29.7zM118.8,112.9l.5,7.7 4-1.2-.4,7.5zM122.6,112.4l.5,3.3 4,19.4-.5-23.6zM124,128.4l.5-13.3 4,11.3-.5-11zM125.4,120l.5-4.7 4-1.1-.5,13.5zM125.9,115.3l.5,12.8 4,1.7-.5-15.6zM126.4,128.1l.5-7.2 4-10.8-.5,19.7zM128.3,122l.5-1.3 4,0-.5-6.4zM129.2,126.7l.5-7 4,15-.4-29zM132.1,129.7l.5-3.9 4-11.2-.5,1.1zM134.6,104.1l.4,27.8 3.9,10-.4-24.7zM137.9,125.2l.4,10.6 4-3.5-.3-25zM138.9,116.3l.4,17 4-13.7-.6,12.5zM143.3,108.6l.3,30.7 4-15.2-.5,2.6zM146,131.1l.5,.2 4.2-22.9-.7,21.2zM146.5,131.3l.4,12.9 4.1-25.4-.3-10.4zM146.9,144.2l.8-39 3.7,27.9-.4-14.3zM149,129.7l.4,5.4 4-7.6-.4-13.7zM149.4,135.1l.5-3.9 4-9.8-.5,6.1zM152.7,139.7l.4,5.7 4.2-25.1-.3-10.7zM159.1,135.3l.7-10.4 3.6,16.1-.2-17.7zM160.8,122.2l.4,3.8 3.6,17-.2-14.8z"/><path fill="#bb3560" d="M52.8,98.8l.3-4.1 4.7,9.6-1.1-20.7zM54.6,99.8l.3-6 4.4,1.9-.8-12.2zM54.9,93.8l.2-8.1 4.7,12.7-.5-2.7zM55.1,85.7l1.1,22.6 3.7-23.4-.1,13.5zM56.9,101l.2-6.9 4.2-5.9 .1,17.8zM57.1,94.1l.7,6.8 4.1-6.5-.6-6.2zM59.6,100l.2-5.6 4.4,.7-.4,1.1zM61.6,109.1l-.2-24 4.5,7.8 0,15.9zM62.6,110.6l-.3-24.6 4.8,17-.9-16.3zM67.1,95.6l.1-11.8 5,26.1-.4,.7zM67.9,90.5l.9,19.4 4.2-3.9-.9-19.4zM69.5,100.5l.3-5 4.5,8.2-.5-1.4zM72,112.9l-.1-23.5 4.4,3.7-.3,8.4zM73.1,98.4l.5,5.2 4.1-10.9-.2,13.3zM75.9,102.6l.1-15.5 4.9,30.9-1-24.5zM77.5,71.8l1.2,36.4 4.5,10.5-.5-3.5zM79.1,101.9l.6,10.9 4.1-10.2-.6-7.8zM80.3,96.7l.5-.7 4.1-6.2 .1,29zM86.7,119.8l.1-21.6 4.3,2.4-.7-10.3zM90.3,112.4l.6,12.9 3.9-19.9-.8-25.5zM91.3,121.2l.5,.2 3.9-20.3-.7-12.3zM92.5,105.2l.5,4.8 4.2-1.1-.7-12.9zM93.4,105.9l.4-5 4.2,5.2-.3,6.2zM93.8,100.9l.8,21.7 3.8-28.3-.4,11.8zM94.6,122.6l.2-17.2 4-9-.4-2.1zM96,125.8l.3-14.3 3.9-15.8-.4,3.4zM96.3,111.5l.5,9.4 4.1-11.1-.7-14.1zM97.3,117.7l.3-10.9 4.3,12.4-.7-22.8zM97.6,106.8l.4-.9 4.1-6.7-.2,20zM98.7,119.9l.4-6.7 4-6.9-.6-11.7zM99.9,102.3l.6,18.5 4-17-.3,12.1zM100.8,99.6l.8,28 3.9-15.1-.6-20.5zM102.3,115l.4-6 4.2,8.3-.6-22.1zM102.7,109l.4-7.4 4.3,11.7-.5,4zM103.1,101.6l.8,26.9 3.9-25.3-.4,10.1zM104.3,125.1l.4-3.1 3.9-26.3-.4,5.6zM105.1,108.3l.6,17.3 3.9-20-.5-7.6zM106,110.6l.7,19.6 3.8-36.4-.3,19.2zM108.4,116.6l.6,9.9 3.8-40.5-.3,21.7zM110.7,101.6l.6,28.5 4-9.1-.6-25zM112.1,103.1l.6,14.5 4-4.9-.5-2zM112.7,117.6l.4-7.9 4.1-1.9-.5,4.9zM113.1,109.7l.5,13 4-12.1-.4-2.8zM114.5,104.7l.5,7.3 4.1,2.6-.5-2.1zM115.9,106.2l.5,8.8 4.1,1.9-.5-4.9zM116.9,119.7l.4-18 4.1,4.2-.4,21.1zM117.8,111.1l.6,24.8 3.9-38.7-.4,10.6zM119.3,120.6l.4-8.3 4.1-1-.5,8.1zM119.7,112.3l.5,7.7 4-11.3-.4,2.6zM120.2,120l.5-6.5 4-6.6-.5,1.8zM121.6,120.7l.5-11.9 4,6.7-.4-6.2zM124.5,115.1l.5,.3 4-9.5-.5,20.5zM125,115.4l.4,4.6 4,7.7-.4-21.8zM127.3,130.8l.5-18.8 4.1-13.1-.6,30.6zM128.8,120.7l.4,6 4.1-21-.5,15zM130.2,144.9l.5-23 4.1-26-.6,16.1zM131.1,129.8l.6-21.5 4,9.4-.5-12.1zM131.7,108.3l.4,21.4 4-14-.4,2zM132.6,125.8l.5-14.9 4,4.6-.5-.9zM133.1,110.9l.5-2.8 3.9,21.6-.4-14.2zM133.6,108.1l.5,3.2 3.9,15-.5,3.4zM135.5,122.5l.5-2.2 4-15.1-.6,22.9zM136,120.3l.4,9 4.1-15.9-.5-8.2zM139.3,133.3l.5-1.1 4.1-27.4-.6,14.8zM142.3,114.7l.5-5.8 3.7,25.5-.4-4.7zM142.8,108.9l.5-.3 3.8,18.1-.6,7.7zM148.5,121.9l.5,7.8 4-15.9-.6,12.7zM149.9,131.2l.5-3.4 4.1-15.1-.6,8.7zM150.4,127.8l.5-.9 3.9,.3-.3-14.5zM151.8,139.3l.6-10.9 4.1-20.3-.6,14.8zM152.4,128.4l.3,11.3 4.3-30.1-.5-1.5zM155.4,120.2l.6-7.9 3.7,13.5-.6,11.2zM158.9,117.1l.2,18.2 4.1-12-.6,4.1zM161.2,126l.6-4.3 3.9,0-.9,21.3zM162.4,112.4l0,29.9 4.2-19.2-.5,.7zM162.4,142.3l.8-15.5 4-11.5-.6,7.8zM163.2,126.8l.5,1.9 3.7,6.2-.2-19.6zM163.7,128.7l.7-15.1 3.5,19.9-.5,1.4zM165.6,130.1l.5,1.1 3.8-.6-.1-18.9z"/><path fill="#bf375d" d="M53.1,94.7l.1-10.8 4.2-6.4 .4,26.8zM53.7,85.4l.9,14.4 3.9-16.3-.3,4.6zM57.8,100.9l-.3-24.7 4.8,16.4-.4,1.8zM57.9,74.6l1,19.4 4.8,14.2-1.1-20.5zM61.4,85.1l1.2,25.5 3.6-23.9-.3,6.2zM62.3,86l.8,11.8 4.1-7.6-.1,12.8zM64.5,99.5l0-13.8 4.7,14-.5-3.6zM64.5,85.7l.9,14.2 4.2-3.6-.4,3.4zM72.5,92.3l.6,6.1 4.4,7.6-.7-11.8zM73.6,103.6l.2-11.4 4.5,9.1-.6-8.6zM73.8,92.2l.5-.8 4.5,10.9-.5-1zM74.3,91.4l.5,3.3 4.4,8.6-.4-1zM74.8,94.7l.2-9.1 4.8,23.6-.6-5.9zM75,85.6l.9,17 4-9.1-.1,15.7zM81.8,101.7l.2-15.1 4.7,25.5-.8-16zM82,86.6l.6,9.2 4.2,.1-.1,16.2zM85,101.4l.8,20.2 3.6-38.7-.2,16.4zM86.8,98.2l.6,8.8 3.9-18-.2,11.6zM87.4,107l.4-4 4.3,6.7-.8-20.7zM87.8,103l.4-6.5 4.1-5-.2,18.2zM89.1,95l.7,17 3.9-17.9-.4,5.2zM89.8,112l.5,.4 3.7-32.5-.3,14.2zM94.8,105.4l.4-3.6 4.3,12.3-.7-17.7zM98,105.9l.7,14 3.8-25.3-.4,4.6zM100.5,120.8l.3-21.2 4.1-7.6-.4,11.8zM101.8,108.2l.5,6.8 4-19.8-.4,6.6zM104.7,122l.4-13.7 4-10.3-.5-2.3zM107.5,121.7l.4-16.1 4-8.1-.4,6.6zM107.9,105.6l.5,11 4.1-8.9-.6-10.2zM109,126.5l.4-6.4 3.9-31.3-.5-2.8zM109.4,120.1l.5,2.2 3.9-18.9-.5-14.6zM110.3,110.6l.4-9 4-5.6-.3,24.1zM111.7,112.6l.4-9.5 4.1,7.6-.5-7.3zM115,112l.4-17 4.1,23.3-.4-3.7zM115.4,95l.5,11.2 4.1,5.8-.5,6.3zM120.7,113.5l.4-2.1 4.1-9.4-.5,4.9zM121.1,111.4l.5,9.3 4.1-11.4-.5-7.3zM122.1,108.8l.5,3.6 4-.9-.5,4zM127.8,112l.5,10 4-7.7-.4-15.4zM130.7,121.9l.4,7.9 4.1-24.2-.4-9.7zM134.1,111.3l.5-7.2 3.9,13.1-.5,9.1zM136.4,129.3l.6-22.8 3.9,10.5-.4-3.6zM140.9,102.8l.4,18.7 3.9,1.1-.5-.8zM141.3,121.5l.5-11.1 3.9,7.5-.5,4.7zM141.8,110.4l.5,4.3 3.8,15-.4-11.8zM143.6,139.3l.7-29.4 4-8.2-.7,22.4zM144.3,109.9l.3,18.8 3.9-2.2-.2-24.8zM147.7,105.2l.4,7.7 4,2.8-.7,17.4zM148.1,112.9l.4,9 3.9,4.6-.3-10.8zM156,112.3l.4,7.2 3.9-1.8-.6,8.1zM156.4,119.5l.4,8.3 4-9.1-.5-1zM156.8,127.8l.5-1.8 4.1-12.5-.6,5.2zM158.4,120.2l.5-3.1 3.7,10.3-.3-10.8zM164.4,113.6l.3,10.4 4.1-10.4-.9,19.9z"/><path fill="#c63b58" d="M67.2,83.8l.7,6.7 4.2-3.9 .1,23.3zM71.9,89.4l.6,2.9 4.3,1.9-.5-1.1zM77.5,93l0-21.2 5.2,43.4-.8-16.9zM81,83.5l.8,18.2 4.1-5.6-.5-1.5zM82.6,95.8l.5-.7 4.2,1.5-.5-.7zM83.2,80.2l.9,24.1 4.2-1.8-.6-10.1zM84.1,104.3l.3-10.5 4.2-4-.3,12.7zM84.4,93.8l.6,7.6 4.2-2.1-.6-9.5zM88.6,97.9l.5-2.9 4.2,4.3-.5-6.3zM99.1,113.2l.2-15.6 4.1-7.7-.3,16.4zM99.3,97.6l.6,4.7 4.3,13.6-.8-26zM117.3,101.7l.5,9.4 4.1-3.3-.5-1.9zM137.5,111.3l.4,13.9 4.1-17.9-.5-6zM161.8,121.7l.6-9.3 3.7,11.4-.4-2.1zM164.7,124l.6-6 3.7,7.7-.2-12.1zM165.3,118l.3,12.1 4.2-18.4-.8,14z"/><path fill="#cc3f54" d="M53.2,83.9l.5,1.5 4.5,2.7-.8-10.6zM88.2,96.5l.4,1.4 4.2-4.9-.5-1.5zM106.7,130.2l.1-36.4 4.1-10-.4,10zM106.8,93.8l.7,27.9 4-17.6-.6-20.3zM137,106.5l.5,4.8 4-10-.6,15.7zM139.8,132.2l.7-36.9 3.8,15-.4-5.5zM157.3,126l.6-4.4 4.2-25.8-.7,17.7z"/><path fill="#d04251" d="M57.5,76.2l.4-1.6 4.7,13.1-.3,4.9zM80.8,96l.2-12.5 4.4,11.1-.5-4.8zM83.1,95.1l.1-14.9 4.5,12.2-.4,4.2zM140.5,95.3l.4,7.5 3.8,19-.4-11.5zM157.9,121.6l.5-1.4 3.9-3.6-.2-20.8z"/><path fill="#a02a6c" d="M99.7,129.1l.4-8 4.2,4-.4,3.4zM100.1,121.1l.6,10.5 4-9.6-.4,3.1zM130.9,149.1l.5-10.8 4.1-15.8-.5,9.4zM145.7,164.2l.8-33.3 3.9-3.1-.5,3.4z"/><path fill="#a82d69" d="M61.9,115l.3-6.9 4.5,8.2-.5-2.7zM62.2,108.1l.6,6.9 4.2-4.3-.3,5.6zM64.7,115.6l0-13.1 4.9,20.9-.8-13.5zM119.5,131.3l.5,5.4 4-8.3-.5-9.9zM120,136.7l.5-1.8 4-19.8-.5,13.3z"/><path fill="#ae2f66" d="M61.4,113.1l.5,1.9 4.3-1.4-.8-13.7zM81.4,109.5l.5,3.2 4.4,7-.5,1.9zM87.3,107.9l.7,10.9 4.3,5.4-.5-2.8zM88,118.8l.6,6.9 3.9-20.5-.2,19zM97.3,122.9l.5,1.7 4-16.4-.2,19.4zM100.7,131.6l.3-13.6 4.1-9.7-.4,13.7zM101.5,119.7l.6,9.5 3.9-18.6-.3,15zM102.1,129.2l.3-16.9 4.3,17.9-.7-19.6zM103.5,132l.4-7.9 4-18.5-.4,16.1zM113.9,138.8l.3-22.2 4.2,19.3-.6-24.8zM116.2,131.8l.5,1.3 4-19.6-.5,6.5zM122.8,136.2l.5-8 4,2.6-.4-9.9zM128.1,124.2l.4,18.4 4.1-16.8-.5,3.9zM130.5,130.2l.4,18.9 4.1-17.2-.4-27.8zM140.6,126.1l.4,14.9 4.1-8.4-.5-3.9zM142.7,112.6l.3,28.4 3.9,3.2-.4-12.9zM143,141l.5-1.6 4.2-34.2-.8,39zM145.7,104.8l0,59.4 4.2-33-.5,3.9zM150.5,123.5l.3,14.6 3.9,1.7-.5,.4zM158.8,125.8l0,34 4.4-33-.8,15.5z"/><path fill="#b33164" d="M48.4,99.3l1,14 3.7-18.6-.3,4.1zM50.7,113.7l.2-6.3 4-13.6-.3,6zM56.1,115.3l-.6-33.3 5.5,36.7-1.2-24.3zM57.1,117.2l-.1-18.1 4.6,10-1-18.7zM59,107.1l.1-12.3 5.1,27-1.1-24zM61.2,120l.2-6.9 4-13.2-.9-14.2zM62.8,115l.1-15.2 4.2-4.2-.1,15.1zM63.9,104.5l.8,11.1 4.1-5.7-.9-19.4zM64.7,102.5l.4-3.1 4.4,1.1 .1,22.9zM66.1,100.8l.2-6.5 4.9,22.7-.5-2zM69.5,109l1,21.2 3.3-38-.2,11.4zM71.8,110.4l1.1,26.9 3.1-50.2-.1,15.5zM78.1,128.8l.3-7.7 3.6-34.5-.2,15.1zM81.9,112.7l.1-17.3 4.7,24.4-.4-.1zM83,121.4l.3-5.5 4.1-8.9-.6-8.8zM86.1,116l.2-15.4 4.6,24.7-.6-12.9zM86.3,100.6l.6,9.9 4.4,10.7-.4,4.1zM86.9,110.5l.4-2.6 4.5,13.5-.5-.2zM91.3,121.4l.2-12.9 4.5,17.3-.8-24zM91.5,108.5l.5,2.4 4.3,.6-.3,14.3zM92,110.9l.5,2 4.3,8-.5-9.4zM92.5,112.9l.5,.6 4.3,4.2-.5,3.2zM93,113.5l.7,16.3 3.9-23-.3,10.9zM93.7,129.8l.4-2.9 3.9-21-.4,.9zM94.1,126.9l.3-11.4 4.3,4.4-.7-14zM94.4,115.5l.6,3.7 4.1-6-.4,6.7zM96,127.4l.3-9.4 4.2,2.8-.6-18.5zM99.1,111.4l.6,17.7 4.2-.6-.8-26.9zM101,118l.5,1.7 4.2,5.9-.6-17.3zM107.1,112.6l.5,4.6 4.1-4.6-.4,17.5zM109.6,129.9l.3-17.8 4.2,5.5-.5,5.1zM117.1,120.8l.5,13.2 4-13.3-.5-9.3zM118.6,134.3l.4,.1 4.1-18.7-.5-3.3zM119,134.4l.5-3.1 4-12.8-.4-2.8zM120.5,134.9l.4-.4 4.1-19.1-.5-.3zM120.9,134.5l.5-8.1 4-6.4-.4-4.6zM122.3,117.7l.5,18.5 4.1-15.3-.5,7.2zM126.6,111.4l.5,25.7 4-7.3-.4-7.9zM127.1,137.1l.5-7.5 4.1-21.3-.6,21.5zM128.5,142.6l.5-19.2 4.1-12.5-.5,14.9zM131.4,138.3l.5-4.3 4.1-13.7-.5,2.2zM131.9,134l.5-14 4,9.3-.4-9zM133.9,122.8l.4,7.6 4,5.4-.4-10.6zM134.3,130.4l.5,1.3 4.1-15.4-.6,19.5zM135.4,106.3l.4,30.2 4-4.3-.5,1.1zM141,141l.7-19.6 3.9,9.1-.5,2.1zM141.7,121.4l.3,17.4 4-7.7-.4-.6zM142,138.8l.7-26.2 3.8,18.7-.5-.2zM144.4,138.2l.6-10.6 4,2.1-.5-7.8zM148.9,128.5l.7-13.7 3.5,30.6-.4-5.7zM149.6,114.8l.4,7.8 3.7,17.4-.6,5.4zM150,122.6l.5,.9 3.7,16.7-.5-.2zM158.8,159.8l1.1-39.7 3.8,8.6-.5-1.9zM161.5,141.6l.6-4.6 4-5.8-.5-1.1z"/><path fill="#bb3560" d="M49.4,113.3l.1-9.5 3.7-19.9-.1,10.8zM49.9,102.6l.8,11.1 3.9-13.9-.9-14.4zM50.9,107.4l.2-8 4-13.7-.2,8.1zM51.1,99.4l.2-6.7 4.9,15.6-1.1-22.6zM51.3,92.7l.5-.8 5,18.9-.6-2.5zM51.8,91.9l.4,.3 4.7,8.8-.1,9.8zM52.6,90.5l1.2,21.3 4-10.9-.7-6.8zM53.8,111.8l.3-2.4 3.4-33.2 .3,24.7zM54.8,86.7l1.3,28.6 3.7-20.9-.2,5.6zM55.5,82l1.6,35.2 3.5-26.8 .4,28.3zM57.3,96.8l1,16.9 4.3-3.1-1.2-25.5zM58.3,113.7l-.4-27.7 4.4,0 .3,24.6zM59.1,94.8l.2-9.3 5.1,25.6-.2,10.7zM60.1,98.8l1.1,21.2 3.3-34.3 0,13.8zM62.9,99.8l1.1,25.2 3.2-41.2-.1,11.8zM64,125l-.1-20.5 4-14-.7-6.7zM66.3,94.3l.5,1 4.7,11.9-.3,9.8zM66.8,95.3l.4-2.7 4.8,20.3-.5-5.7zM68.7,116.5l.2-10.5 4.2-7.6-.6-6.1zM68.9,106l.6,3 4.1-5.4-.5-5.2zM70.5,130.2l-.1-20.8 3.9-18-.5,.8zM72.9,137.3l-.6-41.7 4.3-1.9-.6-6.6zM72.8,98l.9,17.4 3.8-22.4 0,20.5zM74.4,107.8l.6,2.8 4.1-8.7-.4,6.3zM75,110.6l-.1-21 4.8,23.2-.6-10.9zM74.9,89.6l1.1,24.8 4-10.2-.3,8.6zM76,114.4l.2-10.7 4.1-7-.3,7.5zM77.1,103.9l1,24.9 3.7-27.1-.8-18.2zM80.7,97.5l.7,12 4.4,12.1-.8-20.2zM82,95.4l1,26 3.8-23.2-.1,21.6zM84.5,126.2l.2-11.1 3.9-17.2-.4-1.4zM84.7,115.1l.6,9 3.8-29.1-.5,2.9zM85.3,124.1l0-26.3 4.5,14.2-.7-17zM85.3,97.8l.8,18.2 4.2-3.6-.5-.4zM88.6,125.7l0-26.6 4.4,10.9-.5-4.8zM90.1,102.8l.5,7.8 4.2-5.2-.2,17.2zM90.6,110.6l.7,10.8 3.9-19.6-.4,3.6zM95,119.2l.3-11.5 4-10.1-.2,15.6zM96.3,118l.3-16.5 4.2-1.9-.3,21.2zM96.6,101.5l.7,21.4 4.3,4.7-.8-28zM97.8,124.6l.3-16.4 4.2,6.8-.5-6.8zM98.1,108.2l.7,20.1 3.9-19.3-.4,6zM98.8,128.3l.3-16.9 4-9.8-.4,7.4zM103.9,124.1l.4-4.3 4.1-3.2-.5-11zM104.3,119.8l.3-21 4.4,27.7-.6-9.9zM104.6,98.8l.5,8.1 4.3,13.2-.4,6.4zM105.1,106.9l.6,6.8 4.2,8.6-.5-2.2zM105.7,113.7l.5,2.6 4.1-5.7-.4,11.7zM106.7,120.3l.4-7.7 4.2,17.5-.6-28.5zM108.9,104.7l.7,25.2 4-7.2-.5-13zM112.2,101.4l.7,30.9 4-12.6-.5-4.7zM114.2,116.6l.5-3.7 4.1,0-.4,23zM114.7,112.9l.5,5.6 4.1,2.1-.5-7.7zM115.2,118.5l.4-1.9 4.1-4.3-.4,8.3zM115.6,116.6l.6,15.2 4-11.8-.5-7.7zM116.7,133.1l.4-12.3 4-9.4-.4,2.1zM117.6,134l.4-17.2 4.1-8-.5,11.9zM118,116.8l.6,17.5 4-21.9-.5-3.6zM123.3,128.2l.5-14.8 4-1.4-.5,18.8zM126.2,97.3l.4,14.1 4.1,10.5-.5,23zM127.6,129.6l.5-5.4 4,5.5-.4-21.4zM132.4,120l.5,21 4.1-34.5-.6,22.8zM134.8,131.7l.6-25.4 3.9,27-.4-17zM139.3,113.7l.4,15.4 3.9,10.2-.3-30.7zM139.7,129.1l.4,1.4 4.2-20.6-.7,29.4zM140.1,130.5l.5-4.4 4,2.6-.3-18.8zM144,133.4l.4,4.8 4.1-16.3-.4-9zM145,127.6l.7-22.8 3.7,30.3-.4-5.4zM147.6,111.1l.3,18.7 3.9,9.5-.5-1.5zM147.9,129.8l.6-10.7 3.9,9.3-.6,10.9zM148.5,119.1l.4,9.4 3.8,11.2-.3-11.3zM150.8,138.1l.7-17.5 3.9-.4-.7,19.6zM153.9,126.7l.3,11.8 4.2-18.3-.5,1.4zM156,116.7l.3,11.3 3.7,14.7-.2-17.8zM156.3,128l.5,.5 4-6.3-.8,20.5zM157.3,126.7l.3,14.7 4.2-19.7-.6,4.3zM157.6,141.4l.5-2.6 4.3-26.4-.6,9.3zM158.1,138.8l.7-13 3.6,16.5 0-29.9zM161.2,132.8l.3,8.8 4.1-11.5-.3-12.1z"/><path fill="#bf375d" d="M49.5,103.8l.4-1.2 3.8-17.2-.5-1.5zM52.2,92.2l.4-1.7 4.5,3.6-.2,6.9zM54.3,101.6l.7,6.5 3.9-14.1-1-19.4zM55,108.1l-.2-21.4 4.8,13.3-.7-6zM57,99.1l.3-2.3 4.1-11.7 .2,24zM59.3,85.5l.8,13.3 4.4,.7-.1,11.6zM65.3,91l.8,9.8 4.6,14.2-.9-19.5zM67.2,92.6l.8,12.4 3.9-15.6 .1,23.5zM68,105l.7,11.5 3.8-24.2-.6-2.9zM70.4,109.4l.3-5.4 4.1-9.3-.5-3.3zM72.3,95.6l.5,2.4 4.7,15.5-.9-19.8zM73.7,115.4l.5,2.3 3.3-45.9 0,21.2zM74.2,117.7l.2-9.9 4.3,.4-1.2-36.4zM78.4,121.1l0-19.2 4.2-6.1-.6-9.2zM79.9,103.4l.5,5.7 4-15.3-.3,10.5zM83.3,115.9l.1-19.4 4.4,6.5-.4,4zM83.4,96.5l1.1,29.7 3.7-29.7-.4,6.5zM88.6,99.1l.7,14.9 4.1-8.1-.4,4.1zM89.3,114l.2-18 4.3,4.9-.4,5zM89.5,96l.6,6.8 4.5,19.8-.8-21.7zM95.3,107.7l.7,19.7 3.9-25.1-.6-4.7zM102.4,112.3l.3-13.6 4.1-4.9-.1,36.4zM102.7,98.7l.8,33.3 4-10.3-.7-27.9zM106.2,116.3l.5,4 4-18.7-.4,9zM107.6,117.2l.4-7.2 4.1-6.9-.4,9.5zM108,110l.5,5.5 4.2,2.1-.6-14.5zM108.5,115.5l.4-10.8 4.2,5-.4,7.9zM111.9,124l.3-22.6 4.2,13.6-.5-8.8zM112.9,132.3l.3-29.8 4.1-.8-.4,18zM113.2,102.5l.7,36.3 3.9-27.7-.5-9.4zM123.8,113.4l.4-.3 4.1,8.9-.5-10zM124.2,113.1l.5-10.7 4.1,18.3-.5,1.3zM125.7,106.6l.5-9.3 4,47.6-.5-25.2zM129,123.4l.5,6.1 4.1-21.4-.5,2.8zM129.5,129.5l.5-14.7 4.1-3.5-.5-3.2zM132.9,141l.5-23 4.1-6.7-.5-4.8zM133.4,118l.5,4.8 4,2.4-.4-13.9zM135.8,136.5l.5-17.4 4.2-23.8-.7,36.9zM143.5,139.4l.5-6 4.1-20.5-.4-7.7zM146.5,130.9l.6-19.2 3.8,15.2-.5,.9zM147.1,111.7l.5-.6 3.7,26.7-.4-10.9zM152.4,126l.4,4.3 4-2.5-.4-8.3zM152.8,130.3l.6-9.4 3.9,5.1-.5,1.8zM153.4,120.9l.5,5.8 4-5.1-.6,4.4zM154.2,138.5l.6-10.5 4.1-10.9-.5,3.1zM154.8,128l.5-1.5 3.8,8.8-.2-18.2zM155.3,126.5l.7-9.8 3.8,8.2-.7,10.4zM156.8,128.5l.5-1.8 3.9-.7-.4-3.8zM159.9,120.1l.2,21.4 4.3-27.9-.7,15.1zM160.1,141.5l.8-19.3 3.8,1.8-.3-10.4z"/><path fill="#c63b58" d="M57.9,86l1.1,21.1 4.1-9.3-.8-11.8zM65.1,99.4l.2-8.4 4.5,4.5-.3,5zM70.9,94l.9,16.4 4.1-7.8-.9-17zM76.2,103.7l.4-2.2 4.2-5.5-.5,.7zM78.4,101.9l.6,4.3 4.1-11.1-.5,.7zM80.4,109.1l.3-11.6 4.3,3.9-.6-7.6zM109.9,112.1l.4-13.8 4.2,6.4-.4,12.9zM110.8,109.6l.6,5.7 4-20.3-.4,17zM111.4,115.3l.5,8.7 4-17.8-.5-11.2zM121.4,126.4l.4-36.5 4.1,25.4-.5,4.7zM121.8,89.9l.5,27.8 4.1,10.4-.5-12.8zM124.7,102.4l.5-2.8 4,27.1-.4-6zM125.2,99.6l.5,7 4,13.1-.5,7zM130,114.8l.5,15.4 4.1-26.1-.5,7.2zM137.3,116.4l.5,1.8 4-7.8-.5,11.1zM160.9,122.2l.3,10.6 4.1-14.8-.6,6z"/><path fill="#cc3f54" d="M54.1,109.4l.2-7.8 3.6-27-.4,1.6zM70.7,104l.2-10 4.1-8.4-.2,9.1zM76.6,101.5l.5,2.4 3.9-20.4-.2,12.5zM79,106.2l.3-5.8 3.9-20.2-.1,14.9zM79.3,100.4l.6,3 4.2,.9-.9-24.1zM110.3,98.3l.5,11.3 4.2,2.4-.5-7.3zM136.8,114.2l.5,2.2 4,5.1-.4-18.7zM137.8,118.2l.5-5 4,1.5-.5-4.3zM152.1,112.7l.3,13.3 4-6.5-.4-7.2z"/><path fill="#d04251" d="M138.3,113.2l.5-5 4,.7-.5,5.8zM151.5,120.6l.6-7.9 3.9-.4-.6,7.9z"/><path fill="#d7474c" d="M138.8,108.2l.5,5.5 4-5.1-.5,.3z"/><path fill="#da4b49" d="M136.3,119.1l.5-4.9 4.1-11.4-.4-7.5z"/><path fill="#9c286e" d="M67.8,123.7l.4,.1 4.7,13.5-1.1-26.9zM89.5,130.3l.5,.2 4.1-3.6-.4,2.9zM90,130.5l.7,13.3 3.7-28.3-.3,11.4zM116.4,151.1l.4-24 4.1,7.4-.4,.4z"/><path fill="#a02a6c" d="M97.5,132.8l.5,7 4.1-10.6-.6-9.5zM126.4,146.1l.5-15.2 4,18.2-.4-18.9zM128.3,146.3l.5,2.2 4.1-7.5-.5-21z"/><path fill="#a82d69" d="M68.2,123.8l.2-9.7 3.9-18.5 .6,41.7zM69.5,118.4l.6,5.5 4.1-6.2-.5-2.3zM88.9,121.7l.6,8.6 4.2-.5-.7-16.3zM90.7,143.8l.1-18.9 4.2-5.7-.6-3.7zM91.4,132.2l.5,4 4.1-8.8-.7-19.7zM112.1,136.3l.4-9.9 4.2,6.7-.5-1.3zM115.8,109l.6,42.1 4.1-16.2-.5,1.8zM126.9,130.9l.5-2.9 4,10.3-.5,10.8zM127.4,128l.5,14.1 4-8.1-.5,4.3zM127.9,142.1l.4,4.2 4.1-26.3-.5,14zM130.3,142.9l.4-1.4 4.1-9.8-.5-1.3zM136.6,135.3l.4,16.3 4-10.6-.4-14.9zM137,151.6l.5-6.8 4.2-23.4-.7,19.6zM154.6,150.2l.5-6.9 3.7,16.5 0-34z"/><path fill="#ae2f66" d="M45.8,112l.4-2.1 4.5,3.8-.8-11.1zM46.2,109.9l.4,1 4.3-3.5-.2,6.3zM67.6,133.1l.2-9.4 4-13.3-.9-16.4zM73.3,105.6l.8,13.7 4.3,1.8-.3,7.7zM77.6,133.2l.1-14.2 4.2-6.3-.5-3.2zM79.7,123.1l.7,10.8 4.1-7.7-1.1-29.7zM80.4,133.9l-.2-29.6 4.5,10.8-.2,11.1zM83.8,122.8l.3-10 4.5,12.9-.6-6.9zM91.9,136.2l.1-24.5 4.3,6.3-.3,9.4zM95.9,119l.5,3.6 4.3,9-.6-10.5zM98,139.8l.2-21.2 4.2-6.3-.3,16.9zM99.2,119l.5,4.7 4.2,.4-.4,7.9zM111.2,137.7l.4-.2 4-20.9-.4,1.9zM111.6,137.5l.5-1.2 4.1-4.5-.6-15.2zM114.9,131.9l.5-6.5 4.1,5.9-.5,3.1zM118.7,132.9l.5-9.6 4.1,4.9-.5,8zM122.6,138.4l.5,2.2 4-3.5-.5-25.7zM123.1,140.6l.4-12 4.1,1-.5,7.5zM125.5,139.8l.4,4.2 4.1-29.2-.5,14.7zM125.9,144l.5,2.1 4.1-15.9-.5-15.4zM155.1,143.3l.5,5 4.3-28.2-1.1,39.7zM157.6,147l.5-3.6 4-6.4-.6,4.6z"/><path fill="#b33164" d="M44.4,98.6l.8,9.9 4.3-4.7-.1,9.5zM45.2,108.5l.6,3.5 4.1-9.4-.4,1.2zM46.6,110.9l.3-5.9 4.2-5.6-.2,8zM49.2,105.7l.2-4.8 4.7,8.5-.3,2.4zM49.4,100.9l1,13.6 3.9-12.9-.2,7.8zM50.4,114.5l0-11.9 4.6,5.5-.7-6.5zM56.9,106.8l.3-3.9 4.7,12.1-.5-1.9zM64,117.6l.1-11.4 4.6,10.3-.7-11.5zM65.2,112l.1-10.9 5.2,29.1-1-21.2zM66.8,119.4l.8,13.7 3.3-39.1-.2,10zM69,118.5l.5-.1 4.2-3-.9-17.4zM70.1,123.9l-.1-18.8 4.4,2.7-.2,9.9zM70.9,122.3l.6,5.4 3.4-38.1 .1,21zM71.5,127.7l.3-9.4 4.2-3.9-1.1-24.8zM73.2,120l.1-14.4 4.8,23.2-1-24.9zM77,126.1l.6,7.1 3.8-23.7-.7-12zM78.4,106.3l.9,20.3 4-10.7-.3,5.5zM79.3,126.6l.4-3.5 3.7-26.6-.1,19.4zM80.2,104.3l.9,20.2 4.2-.4-.6-9zM83.2,112.6l.6,10.2 4.2-4-.7-10.9zM88.2,136.7l.1-20.9 4.2-2.9-.5-2zM90.8,124.9l.6,7.3 3.9-24.5-.3,11.5zM93,118l.5-1 4.3,7.6-.5-1.7zM95.3,109.8l.6,9.2 4.2,2.1-.4,8zM96.4,122.6l.4-6.3 4.2,1.7-.3,13.6zM96.8,116.3l.7,16.5 4-13.1-.5-1.7zM99.7,123.7l.5,.8 4.1-4.7-.4,4.3zM103.6,134.6l.3-10 4.1-14.6-.4,7.2zM103.9,124.6l.7,20.7 3.9-29.8-.5-5.5zM104.6,145.3l.3-19.8 4-20.8-.4,10.8zM109.2,131l.5-3.4 4.2,11.2-.7-36.3zM112.5,126.4l.5-3.8 4.1-1.8-.4,12.3zM113,122.6l.4,2.4 4.2,9-.5-13.2zM114.3,108.8l.6,23.1 4.1,2.5-.4-.1zM115.4,125.4l.4-16.4 4.2,27.7-.5-5.4zM118.2,121l.5,11.9 4.1,3.3-.5-18.5zM125,126.5l.5,13.3 4-10.3-.5-6.1zM128.8,148.5l.5-29.8 4.1-.7-.5,23zM129.8,126.4l.5,16.5 4-12.5-.4-7.6zM130.7,141.5l.5,.3 4.2-35.5-.6,25.4zM131.2,141.8l.5-6 4.1,.7-.4-30.2zM131.7,135.8l.5,2.4 4.1-19.1-.5,17.4zM139.1,121.8l.4,16.7 4,.9-.5,1.6zM146.2,147.7l.6-10.7 4,1.1-.3-14.6zM150.3,133l.4,14.8 4.1-19.8-.6,10.5zM150.7,147.8l.4,5.1 4.2-26.4-.5,1.5zM153.8,129.9l.4,10.1 3.9-1.2-.5,2.6zM154.2,140l.4,10.2 4.2-24.4-.7,13zM155.6,148.3l.4,4.7 4.1-11.5-.2-21.4z"/><path fill="#bb3560" d="M43.9,96.3l.5,2.3 5,14.7-1-14zM46.9,105l.9,12.6 3.5-24.9-.2,6.7zM47.8,117.6l.2-5.6 3.8-20.1-.5,.8zM48.9,111l.3-5.3 4.6,6.1-1.2-21.3zM50.4,102.6l.6,5.3 3.8-21.2 .2,21.4zM51,107.9l.6,4.8 4.5,2.6-1.3-28.6zM52.1,100.8l.5-.2 4.4-1.5 .1,18.1zM52.9,97.8l.6,3.8 4.8,12.1-1-16.9zM55.5,79.1l1.4,27.7 4.5,6.3-.2,6.9zM57.2,102.9l.4-1 4.6,6.2-.3,6.9zM57.6,101.9l.3-6.8 4.9,19.9-.6-6.9zM57.9,95.1l1.1,21.6 3.9-16.9-.1,15.2zM59,116.7l-.5-30.4 5.5,38.7-1.1-25.2zM59.1,91.7l1.2,22.6 4.4,1.3-.8-11.1zM60.3,114.3l-.3-25 4.7,13.2 0,13.1zM61.3,119l.1-10.5 3.9-17.5-.2,8.4zM61.4,108.5l.8,10 3.9-17.7-.8-9.8zM63.2,106.9l.8,10.7 4-12.6-.8-12.4zM64.1,106.2l.3-5.7 4.5,5.5-.2,10.5zM64.4,100.5l.8,11.5 4.3-3-.6-3zM65.3,101.1l.4-3.5 4.7,11.8 .1,20.8zM65.7,97.6l1.1,21.8 3.9-15.4-.3,5.4zM68.4,114.1l.6,4.4 3.8-20.5-.5-2.4zM70,105.1l.9,17.2 4.1-11.7-.6-2.8zM71.8,118.3l-.1-18.8 4.5,4.2-.2,10.7zM72.6,114.5l.6,5.5 3.9-16.1-.5-2.4zM74.1,119.3l-.1-20.8 4.4,3.4 0,19.2zM75,121.6l.5,.3 3.8-21.5-.3,5.8zM75.5,121.9l.3-6 4.1-12.5-.6-3zM76,103.7l1,22.4 3.7-28.6-.3,11.6zM77.7,119l.5-1.3 3.8-22.3-.1,17.3zM78.2,117.7l.2-11.4 4.6,15.1-1-26zM81.1,124.5l.2-11.9 4-14.8 0,26.3zM84.1,112.8l.6,6.2 3.9-19.9 0,26.6zM84.7,119l.4-3.9 4.2-1.1-.7-14.9zM86,117.9l.5-2.5 4.1-4.8-.5-7.8zM86.5,115.4l.4-1.6 4.4,7.6-.7-10.8zM86.9,113.8l.4-3.4 4.2-1.9-.2,12.9zM87.3,110.4l.9,26.3 3.8-25.8-.5-2.4zM88.3,115.8l.6,5.9 4.1-8.2-.5-.6zM93.5,117l.4-2.3 4.2-6.5-.3,16.4zM93.9,114.7l.4-7.5 4.5,21.1-.7-20.1zM94.3,107.2l.6,9.8 4.2-5.6-.3,16.9zM94.9,117l.4-7.2 4.4,19.3-.6-17.7zM98.6,114.9l.6,4.1 4.3,13-.8-33.3zM100.2,124.5l.5,3.4 3.9-29.1-.3,21zM100.7,127.9l.6,8.7 3.8-29.7-.5-8.1zM101.3,136.6l.2-20.7 4.2-2.2-.6-6.8zM102,117.7l.4-5 4.3,7.6-.5-4zM102.9,113.9l.7,20.7 4-17.4-.5-4.6zM104.9,125.5l.4-8 4.3,12.4-.7-25.2zM105.3,117.5l.6,9 4-14.4-.3,17.8zM106.9,132.7l.3-18.9 4.2,1.5-.6-5.7zM107.2,113.8l.5,8.4 4.2,1.8-.5-8.7zM107.7,122.2l.5,2.7 4-23.5-.3,22.6zM108.2,124.9l.4-6.6 4.3,14-.7-30.9zM108.6,118.3l.6,12.7 4-28.5-.3,29.8zM109.7,127.6l.2-32.9 4.3,21.9-.3,22.2zM110.5,119.6l.7,18.1 4-19.2-.5-5.6zM113.4,125l.4-14.6 4.2,6.4-.4,17.2zM116.8,127.1l.4-13.9 4.2,13.2-.5,8.1zM119.2,123.3l.5-2.9 4.1-7-.5,14.8zM123.5,128.6l.5-6 4.1,1.6-.5,5.4zM124,122.6l.5-7.8 4,27.8-.4-18.4zM124.5,114.8l.5,11.7 4-3.1-.5,19.2zM132.2,138.2l.5-3.9 4.1-20.1-.5,4.9zM132.7,134.3l.5,3 4.1-20.9-.5-2.2zM133.2,137.3l.4,11 4.2-30.1-.5-1.8zM133.6,148.3l.6-22.8 4.1-12.3-.5,5zM135.6,127.8l.5-3.3 4,6-.4-1.4zM136.1,124.5l.5,10.8 4-9.2-.5,4.4zM137.5,144.8l.6-23.9 3.9,17.9-.3-17.4zM139.5,138.5l.7-30.1 3.8,25-.5,6zM140.6,122.3l.4,8.8 4-3.5-.6,10.6zM141.4,136.5l.7-23.5 3.6,51.2 0-59.4zM142.1,113l.4,8.6 4,9.3-.8,33.3zM144.4,136.3l.4,9.5 4.1-17.3-.4-9.4zM145.8,139.2l.4,8.5 4.3-24.2-.5-.9zM148.4,130l.3,13.9 4.1-13.6-.4-4.3zM148.7,143.9l.6-8.5 4.1-14.5-.6,9.4zM149.8,136.6l.5-3.6 3.9,5.5-.3-11.8zM151.1,152.9l.6-11 4.3-25.2-.7,9.8zM152.6,148.1l.6-10.2 4.1-11.2-.5,1.8zM153.2,137.9l.6-8 3.8,11.5-.3-14.7zM156,153l.9-26 4-4.8-.8,19.3zM157.3,128.6l.3,18.4 3.9-5.4-.3-8.8z"/><path fill="#bf375d" d="M48,112l-.2-20 4.4,.2-.4-.3zM51.6,112.7l-.3-23.2 4.2-7.5 .6,33.3zM52.6,100.6l.3-2.8 4.4-1-.3,2.3zM53.5,101.6l.2-9.5 4.2-6.1 .4,27.7zM55.8,102.3l-.3-23.2 5.7,40.9-1.1-21.2zM58.5,86.3l.6,5.4 4.8,12.8 .1,20.5zM60,89.3l1.3,29.7 3.8-19.6-.4,3.1zM62.2,118.5l-.1-19.3 4.2-4.9-.2,6.5zM62.9,111.5l.3-4.6 4-14.3-.4,2.7zM71.7,99.5l.9,15 4-13-.4,2.2zM74,98.5l1,23.1 4-15.4-.6-4.3zM75.8,115.9l.2-12.2 4.4,5.4-.5-5.7zM81.3,112.6l.4-1.8 4.4,5.2-.8-18.2zM81.7,110.8l.4-5.5 4.2-4.7-.2,15.4zM82.4,99.3l.8,13.3 4.1-4.7-.4,2.6zM85.1,115.1l.4-3 4-16.1-.2,18zM92.3,99.6l.7,18.4 4.3,4.9-.7-21.4zM101.5,115.9l.5,1.8 4.2-1.4-.5-2.6zM102.4,112.7l.5,1.2 4.2-1.3-.4,7.7zM113.8,110.4l.5-1.6 4.3,25.5-.6-17.5zM117.2,113.2l.6,25.8 4-49.1-.4,36.5zM119.7,120.4l.5,14.6 4-21.9-.4,.3zM120.2,135l.4-9.5 4.1-23.1-.5,10.7zM129.3,118.7l.5,7.7 4.1-3.6-.5-4.8zM138.1,120.9l.5,0 4.1-8.3-.7,26.2zM138.6,120.9l.5,.9 3.9,19.2-.3-28.4zM140.2,108.4l.4,13.9 3.8,15.9-.4-4.8zM141,131.1l.4,5.4 4.3-31.7-.7,22.8zM142.5,121.6l.4,13.3 4.2-23.2-.6,19.2zM144,119.1l.4,17.2 4.1-17.2-.6,10.7zM144.8,145.8l.7-21.5 4.1-9.5-.7,13.7zM146.8,137l.7-21.7 4,5.3-.7,17.5zM147.8,143.4l.6-13.4 4-4-.3-13.3zM149.3,135.4l.5,1.2 4.1-9.9-.5-5.8zM152.5,115.1l.1,33 4.2-19.6-.5-.5z"/><path fill="#c63b58" d="M47.8,92l1.1,19 3.7-20.5-.4,1.7zM51.3,89.5l.8,11.3 5,16.4-1.6-35.2zM54.2,95.7l.4-3.3 4.5,2.4-.1,12.3zM62.1,99.2l.8,12.3 3.9-16.2-.5-1zM82.1,105.3l.3-6 4.5,11.2-.6-9.9zM85.5,112.1l.5,5.8 4.1-15.1-.6-6.8zM92,111.7l.3-12.1 4.3,1.9-.3,16.5zM98.2,118.6l.4-3.7 4.1-16.2-.3,13.6zM105.9,126.5l.3-12.9 4.1-15.3-.4,13.8zM106.2,113.6l.7,19.1 3.9-23.1-.5-11.3zM117.8,139l.4-18 4.1-3.3-.5-27.8zM122.1,120.4l.5,18 4-27-.4-14.1zM134.2,125.5l.5,4.4 4.1-21.7-.5,5zM135.2,114.8l.4,13 4.1,1.3-.4-15.4zM142.9,134.9l.6-4.6 4.1-19.2-.5,.6zM143.5,130.3l.5-11.2 3.9,10.7-.3-18.7zM145.5,124.3l.3,14.9 4.2-16.6-.4-7.8zM147.5,115.3l.3,28.1 4.3-30.7-.6,7.9zM151.7,141.9l.8-26.8 3.8,12.9-.3-11.3zM156.9,127l.4,1.6 3.9,4.2-.3-10.6z"/><path fill="#cc3f54" d="M53.7,92.1l.5,3.6 4.8,11.4-1.1-21.1zM55,90.4l.8,11.9 4.3-3.5-.8-13.3zM109.9,94.7l.6,24.9 4.2-6.7-.5,3.7zM134.7,129.9l.5-15.1 4.1-1.1-.5-5.5z"/><path fill="#d04251" d="M120.6,125.5l.5-4.2 4.1-21.7-.5,2.8zM121.1,121.3l.5-6.8 4.1-7.9-.5-7z"/><path fill="#d7474c" d="M54.6,92.4l.4-2 4.3-4.9-.2,9.3zM121.6,114.5l.5,5.9 4.1-23.1-.5,9.3z"/><path fill="#942571" d="M86,145.7l0-26.1 4.7,24.2-.7-13.3z"/><path fill="#9c286e" d="M63.3,120.7l.9,14.7 4-11.6-.4-.1zM96.3,147.6l.4-1.9 4-17.8-.5-3.4zM124.3,150l.4-16 4.1,14.5-.5-2.2z"/><path fill="#a02a6c" d="M64.2,135.4l.2-8.2 4-13.1-.2,9.7zM66.5,121l.7,6 4.3,.7-.6-5.4zM72.4,114.8l1,22.9 4.2-4.5-.6-7.1zM73.4,137.7l.1-14.4 4.2-4.3-.1,14.2zM118.5,144.2l.5,.1 4.1-3.7-.5-2.2z"/><path fill="#a82d69" d="M62.7,131.4l-.4-28.8 5.3,30.5-.8-13.7zM64.4,127.2l.5,.5 4.1-9.2-.6-4.4zM64.9,127.7l.5,.1 4.1-9.4-.5,.1zM77,133.8l.4-2.2 3.9-19-.2,11.9zM103.7,137.3l.6,17.7 3.9-30.1-.5-2.7zM123.7,122.8l.6,27.2 4-3.7-.4-4.2zM126.2,141.2l.5,.2 4,.1-.4,1.4zM126.7,141.4l.5,3.9 4-3.5-.5-.3zM127.2,145.3l.4,.5 4.1-10-.5,6zM141.7,152.9l.6-12.2 3.9,7-.4-8.5zM142.3,140.7l.3,20.2 4.2-23.9-.6,10.7zM151.8,135.4l.2,19.6 4-2-.4-4.7zM152,155l.5,2.2 4.4-30.2-.9,26zM152.9,167.4l.6-12.4 4.1-8-.3-18.4zM153.5,155l.5,.1 4.1-11.7-.5,3.6z"/><path fill="#ae2f66" d="M42.7,100.1l1.1,17.7 4.2-5.8-.2,5.6zM44.6,115.6l.9,12.1 3.7-22-.3,5.3zM45.5,127.7l.2-5.9 3.7-20.9-.2,4.8zM57,121.2l.3-3.6 4.1-9.1-.1,10.5zM58.6,130.5l.3-4.6 4-14.4-.8-12.3zM62.3,102.6l1,18.1 4.5,3-.2,9.4zM65.4,127.8l-.2-23 4.9,19.1-.6-5.5zM73.5,123.3l.6,3.7 4.1-9.3-.5,1.3zM74.7,115.6l.8,13.3 4.2-5.8-.4,3.5zM75.5,128.9l-.1-22.7 5,27.7-.7-10.8zM77.4,131.6l.5,3 3.8-23.8-.4,1.8zM79.2,128.8l.5,3.5 4.1-9.5-.6-10.2zM82.5,133.1l.5,.2 3.9-19.5-.4,1.6zM83.7,121.9l.5,.9 4.1-7-.1,20.9zM84.6,96.2l1.4,49.5 4-15.2-.5-.2zM86,119.6l.5,2.4 4.3,2.9-.1,18.9zM92,141.9l.2-13.6 4.2-5.7-.5-3.6zM95.4,118.5l.9,29.1 3.9-23.1-.5-.8zM96.7,145.7l0-34.8 4.6,25.7-.6-8.7zM99.8,133l.3-14 4.5,26.3-.7-20.7zM100.1,119l.7,14.5 4.1-8-.3,19.8zM105,129.3l.5,6.9 4.2-8.6-.5,3.4zM112.2,138.1l.4-13.5 4.2,2.5-.4,24zM119,144.3l.4-15.4 4.1-.3-.4,12zM120.9,142.3l.5-1.2 4.1-1.3-.5-13.3zM121.4,141.1l.4-15.4 4.1,18.3-.4-4.2zM122.3,125.6l.5,21.8 4.1-16.5-.5,15.2zM122.8,147.4l.5-7 4.1-12.4-.5,2.9zM124.7,134l.5,12.3 4.1-27.6-.5,29.8zM125.7,146.4l.5-5.2 4.1,1.7-.5-16.5zM127.6,145.8l.5-7.8 4.1,.2-.5-2.4zM132.5,136.6l.5-.8 4,15.8-.4-16.3zM152.5,157.2l.4,10.2 4.4-38.8-.4-1.6z"/><path fill="#b33164" d="M40.1,114.9l.7,5.9 3.6-22.2-.5-2.3zM40.8,120.8l.2-6.1 4.2-6.2-.8-9.9zM45.7,121.8l-.3-21.9 5,14.6-1-13.6zM57.3,117.6l.4-1.1 4.5,2-.8-10zM57.7,116.5l.9,14 3.5-31.3 .1,19.3zM59.4,112l1,16.7 3.7-22.5-.1,11.4zM67.2,127l-.4-29 5,20.3-.3,9.4zM68.2,115.9l.6,4.2 4.4-.1-.6-5.5zM77.9,134.6l.4-5.6 3.8-23.7-.4,5.5zM79.7,132.3l0-20.6 4.4,1.1-.3,10zM81.7,117.9l.8,15.2 4-17.7-.5,2.5zM83.2,119.2l.5,2.7 4.5,14.8-.9-26.3zM86.5,122l.2-13.3 4.7,23.5-.6-7.3zM91.3,131.9l.7,10 3.9-22.9-.6-9.2zM93,118.6l.4-4.8 4.6,26-.5-7zM93.4,113.8l.6,8.7 4.2-3.9-.2,21.2zM99.1,110.7l.7,22.3 4.1-8.4-.3,10zM101.7,132.3l.5,2.6 4-21.3-.3,12.9zM102.2,134.9l.4-4 4.3,1.8-.7-19.1zM104.3,155l.1-42.7 4.2,6-.4,6.6zM110.7,119.4l.6,21 4.1-15-.5,6.5zM111.6,119.4l.6,18.7 4.2,13-.6-42.1zM115.6,140.4l.4-11.3 4.2,5.9-.5-14.6zM116,129.1l.6,14.2 4-17.8-.4,9.5zM116.6,143.3l.4,.5 4.1-22.5-.5,4.2zM118,133.8l.5,10.4 4.1-5.8-.5-18zM121.8,125.7l.5-.1 4.1,20.5-.5-2.1zM123.3,140.4l.4-17.6 4.2,19.3-.5-14.1zM125.2,146.3l.5,.1 4.1-20-.5-7.7zM129.1,126.3l.5,.8 4,21.2-.4-11zM132,145.5l.5-8.9 4.1-1.3-.5-10.8zM133,135.8l.6-22.7 3.9,31.7-.5,6.8zM134.9,149.2l.5-6 4.1-4.7-.4-16.7zM135.4,143.2l.4,14.3 4.4-49.1-.7,30.1zM148.8,136.1l.3,11.9 4.1-10.1-.6,10.2zM149.7,137.7l.4,17.4 4.1-15.1-.4-10.1zM150.1,155.1l.8-33.8 3.7,28.9-.4-10.2zM151.1,145.7l.7-10.3 3.8,12.9-.5-5z"/><path fill="#bb3560" d="M41,114.7l-.5-24.7 5.3,22-.6-3.5zM41.1,94.4l.9,11.2 4.6,5.3-.4-1zM43.8,117.8l0-12.6 4-13.2 .2,20zM43.8,105.2l.8,10.4 4.3-4.6-1.1-19zM45.4,99.9l.6,4.8 4.4-2.1 0,11.9zM46.3,101.6l.5,1.7 4.8,9.4-.6-4.8zM46.8,103.3l1.4,25.3 3.1-39.1 .3,23.2zM48.2,128.6l-.4-23.2 4.3-4.6-.8-11.3zM49.6,117.9l.3-4.8 3.8-21-.2,9.5zM52.3,102.9l.8,10.2 4.1-10.2-.3,3.9zM53.1,113.1l.7,7.8 3.8-19-.4,1zM53.8,120.9l.6,3.6 3.5-29.4-.3,6.8zM54.4,124.5l-.3-20.8 4.9,13-1.1-21.6zM58.9,125.9l-.1-19.5 4.4,.5-.3,4.6zM58.8,106.4l.6,5.6 4.6,5.6-.8-10.7zM60.4,128.7l-.2-19.7 4.2-8.5-.3,5.7zM60.2,109l.8,9.5 4.2-6.5-.8-11.5zM61,118.5l.2-8.8 4.1-8.6-.1,10.9zM61.4,102.9l1.3,28.5 4.1-12-1.1-21.8zM65.2,104.8l.6,5.6 4.2-5.3 .1,18.8zM65.8,110.4l.7,10.6 4.4,1.3-.9-17.2zM67.8,117.6l.4-1.7 4.4-1.4-.9-15zM68.8,120.1l.4-4.4 4.1-10.1-.1,14.4zM69.2,115.7l.2-7 4.7,10.6-.8-13.7zM70.2,118.6l.4-.1 4.4,3.1-1-23.1zM70.6,118.5l0-18.8 4.9,22.2-.5-.3zM70.6,99.7l.9,19.3 4.3-3.1-.3,6zM71.5,119l.5-2 4-13.3-.2,12.2zM72,117l.4-2.2 4.6,11.3-1-22.4zM74.1,127l0-15.9 4.3-4.8-.2,11.4zM74.1,111.1l.6,4.5 4.6,11-.9-20.3zM75.7,98.8l1.3,35 4.1-9.3-.9-20.2zM78.3,129l.5,3 3.6-32.7-.3,6zM78.8,132l.4-3.2 4-16.2-.8-13.3zM79.7,111.7l.7,10.2 4.3-2.9-.6-6.2zM80.4,121.9l.5-1.6 4.2-5.2-.4,3.9zM80.9,120.3l.4-.6 4.2-7.6-.4,3zM81.3,119.7l.4-1.8 4.3,0-.5-5.8zM83,133.3l.2-14.1 4.1-8.8-.4,3.4zM84.2,122.8l.3-5 4.4,3.9-.6-5.9zM84.5,117.8l.1-21.6 4.9,34.1-.6-8.6zM86.7,108.7l.4-4.5 4.8,32-.5-4zM87.1,104.2l.7,11.9 4.2-4.4-.1,24.5zM88.2,114l.9,24.2 3.9-20.2-.7-18.4zM89.1,138.2l0-27 4.4,5.8-.5,1zM90.8,128.8l.5,3.1 4-22.1-.4,7.2zM92.2,128.3l.4-6 4.2-6-.4,6.3zM92.6,122.3l.4-3.7 4.5,14.2-.7-16.5zM94.3,111.6l.8,22.5 4.1-15.1-.6-4.1zM95.1,134.1l.3-15.6 4.3,5.2-.5-4.7zM96.7,110.9l.6,12.2 4.2-7.2-.2,20.7zM98.3,124.6l.6,11 4-21.7-.5-1.2zM98.9,135.6l.2-24.9 4.5,23.9-.7-20.7zM100.8,133.5l.3-15.4 4.2-.6-.4,8zM101.1,118.1l.6,14.2 4.2-5.8-.6-9zM102.6,130.9l.4-13.2 4.2-3.9-.3,18.9zM103,117.7l.7,19.6 4-15.1-.5-8.4zM104.4,112.3l.6,17 4.2,1.7-.6-12.7zM106.8,117.4l.5-.6 4.3,20.7-.4,.2zM107.3,116.8l.4-2.1 4.4,21.6-.5,1.2zM107.7,114.7l.6,10.2 4.2,1.5-.4,9.9zM108.3,124.9l.5,3.4 4.2-5.7-.5,3.8zM108.8,128.3l.5,3.3 4.1-6.6-.4-2.4zM110.3,142.2l.4-22.8 4.2,12.5-.6-23.1zM113.6,124.2l.5,7.2 4.1-10.4-.4,18zM114.1,131.4l.5-3.9 4.1,5.4-.5-11.9zM114.6,127.5l.5,4 4.1-8.2-.5,9.6zM115.1,131.5l.5,8.9 4.1-20-.5,2.9zM117,143.8l.5-4.5 4.1-24.8-.5,6.8zM117.5,139.3l.5-5.5 4.1-13.4-.5-5.9zM119.4,128.9l.5,15.7 4.1-22-.5,6zM119.9,144.6l.5-5.7 4.1-24.1-.5,7.8zM120.4,138.9l.5,3.4 4.1-15.8-.5-11.7zM128.1,138l.5-16 4.1,12.3-.5,3.9zM128.6,122l.5,4.3 4.1,11-.5-3zM129.6,127.1l.5,5.9 4.1-7.5-.6,22.8zM130.1,133l.5,.6 4.1-3.7-.5-4.4zM131.5,137.5l.5,8 4.1-21-.5,3.3zM133.6,113.1l.4,30.2 4.1-22.4-.6,23.9zM136.9,138.7l.5-5.2 4,3-.4-5.4zM140.4,126.6l.4,14.3 4,4.9-.4-9.5zM140.8,140.9l.6-9.5 4.1-7.1-.7,21.5zM141.4,131.4l.3,21.5 4.1-13.7-.3-14.9zM142.6,160.9l.7-26.4 4.2-19.2-.7,21.7zM143.3,134.5l.5,9.5 4-.6-.3-28.1zM143.8,144l.5-8 4.1-6-.6,13.4zM144.3,136l.6-6.5 3.8,14.4-.3-13.9zM144.9,129.5l.4,9.6 4-3.7-.6,8.5zM145.3,139.1l.5,.5 4-3-.5-1.2zM145.8,139.6l.5-2.1 4-4.5-.5,3.6zM146.3,137.5l.6-14.3 3.8,24.6-.4-14.8zM146.9,123.2l.4,10.6 3.8,19.1-.4-5.1zM147.3,133.8l.6-11.3 3.8,19.4-.6,11zM149.1,148l.6-10.3 4.1-7.8-.6,8zM150.9,121.3l.2,24.4 4-2.4-.5,6.9z"/><path fill="#bf375d" d="M40.5,90l.6,4.4 5.1,15.5-.4,2.1zM42,105.6l-.3-19.5 5.2,18.9-.3,5.9zM41.7,86.1l1,14 5.1,17.5-.9-12.6zM46,104.7l.3-3.1 4.7,6.3-.6-5.3zM47.8,105.4l.3-4.4 4.5-.4-.5,.2zM48.6,101.4l1,16.5 3.9-16.3-.6-3.8zM50.1,104.5l1.1,21.2 3.4-33.3-.4,3.3zM51.2,125.7l-.4-26.1 4.2-9.2-.4,2zM50.8,99.6l1.4,27 3.6-24.3-.8-11.9zM52.2,126.6l0-13.6 3.3-33.9 .3,23.2zM55.1,106.9l.6,3.7 4.6,3.7-1.2-22.6zM55.7,96.5l1.3,24.7 4.3-2.2-1.3-29.7zM66.8,98l1,19.6 3.9-18.1 .1,18.8zM69.4,108.7l.8,9.9 3.8-20.1 .1,20.8zM75.4,106.2l.3-7.4 4.5,5.5 .2,29.6zM90.1,115.5l.7,13.3 4.1-11.8-.6-9.8zM94,122.5l.3-10.9 4.3,3.3-.4,3.7zM97.3,123.1l.4-8.4 4.3,3-.5-1.8zM97.7,114.7l.6,9.9 4.1-11.9-.4,5zM105.5,136.2l.4-17.7 4-23.8-.2,32.9zM106.2,106.3l.6,11.1 4.4,20.3-.7-18.1zM109.3,131.6l.4-9.1 4.1-12.1-.4,14.6zM109.7,122.5l.6,19.7 4-33.4-.5,1.6zM111.3,140.4l.3-21 4.2-10.4-.4,16.4zM112.6,124.6l.5-7.3 4.1-4.1-.4,13.9zM113.1,117.3l.5,6.9 4.2,14.8-.6-25.8zM134,143.3l.5-14.4 4.1-8-.5,0zM134.5,128.9l.4,20.3 4.2-27.4-.5-.9zM135.8,157.5l.6-25.8 4.2-9.4-.4-13.9zM136.4,131.7l.5,7 4.1-7.6-.4-8.8zM138.9,135.8l.5-10.8 4.1,5.3-.6,4.6zM148.3,128.7l.5,7.4 3.8,12-.1-33z"/><path fill="#c63b58" d="M48.1,101l.5,.4 4.3-3.6-.3,2.8zM49.9,113.1l.2-8.6 4.1-8.8-.5-3.6zM52.2,113l.1-10.1 4.6,3.9-1.4-27.7zM54.1,103.7l.4-3.3 4-14.1 .5,30.4zM55.7,110.6l0-14.1 4.3-7.2 .3,25zM61.2,109.7l.2-6.8 4.3-5.3-.4,3.5zM87.8,116.1l.4-2.1 4.1-14.4-.3,12.1zM89.1,111.2l.3-10.2 4.5,13.7-.4,2.3zM130.6,133.6l.5-14.1 4.1-4.7-.5,15.1zM131.1,119.5l.4,18 4.1-9.7-.4-13zM138.5,118.3l.4,17.5 4-.9-.4-13.3zM139.4,125l.5,5.6 4.1-11.5-.5,11.2zM139.9,130.6l.5-4 4,9.7-.4-17.2z"/><path fill="#cc3f54" d="M89.4,101l.7,14.5 4.2-8.3-.4,7.5zM137.4,133.5l.6-21 4.1,.5-.7,23.5zM147.9,122.5l.4,6.2 4.2-13.6-.8,26.8z"/><path fill="#d04251" d="M54.5,100.4l.6,6.5 4-15.2-.6-5.4z"/><path fill="#d7474c" d="M105.9,118.5l.3-12.2 4.3,13.3-.6-24.9z"/><path fill="#da4b49" d="M138,112.5l.5,5.8 4,3.3-.4-8.6z"/><path fill="#942571" d="M99.5,143.4l.4-2.2 4.4,13.8-.6-17.7z"/><path fill="#9c286e" d="M53.6,127.3l.8,9.7 4.2-6.5-.9-14zM54.4,137l-.1-18.1 4.6,7-.3,4.6zM91.9,141.3l.2-18.1 4.6,22.5-.4,1.9zM112.5,153.5l.4-6 4.1-3.7-.4-.5zM118.3,162.7l.4-6 4.1-9.3-.5-21.8zM118.7,156.7l.5-7.2 4.1-9.1-.5,7z"/><path fill="#a02a6c" d="M47.3,114.7l1.3,24.9 3.6-26.6 0,13.6zM53.6,140.2l0-12.9 4.1-10.8-.4,1.1zM112.9,147.5l.5,2.7 4.1-10.9-.5,4.5z"/><path fill="#a82d69" d="M35.7,117.8l.6,3.8 4.5-.8-.7-5.9zM52.4,118.6l1.2,21.6 3.7-22.6-.3,3.6zM72.4,124l.7,11 4.3-3.4-.4,2.2zM99.9,141.2l.6,4.1 3.9-33-.1,42.7zM113.4,150.2l.5-.4 4.1-16-.5,5.5zM116.2,143.9l.6,4.8 4.1-6.4-.5-3.4zM116.8,148.7l.4-12 4.2,4.4-.5,1.2zM121.1,142.9l.5,5.5 4.1-2-.5-.1zM131.3,147.5l.5-4.6 4,14.6-.4-14.3zM137.1,161.9l.6-11.5 4,2.5-.3-21.5z"/><path fill="#ae2f66" d="M36.3,121.6l-.4-20.2 5.1,13.3-.2,6.1zM39.4,110.3l1.4,22.9 3.8-17.6-.8-10.4zM40.8,133.2l-1.1-38.8 5.8,33.3-.9-12.1zM43.1,123.3l.3-2.6 4.8,7.9-1.4-25.3zM45.1,116.6l.7,6.1 4.1-9.6-.3,4.8zM55.4,126l.4-2.8 4.6,5.5-1-16.7zM55.8,123.2l.6,6.8 3.8-21 .2,19.7zM56.4,130l.4-3.8 4.2-7.7-.8-9.5zM66.2,136.3l.3-6.5 4.1-11.3-.4,.1zM68.1,103.8l1.4,35.7 4-16.2-.1,14.4zM69.5,139.5l-.3-30.5 4.9,18-.6-3.7zM73.1,135l-.1-24.5 4.9,24.1-.5-3zM76.4,135l.5,1.8 4-16.5-.5,1.6zM79.1,133.4l.6,3.8 4-15.3-.5-2.7zM86.5,125.1l.6,10.9 4.2-4.1-.5-3.1zM87.1,136l.1-20.3 4.8,26.2-.7-10zM87.2,115.7l.9,24.2 4.1-11.6-.2,13.6zM91.1,118.7l.8,22.6 4.4,6.3-.9-29.1zM104.7,145l.5,.1 4.1-13.5-.5-3.3zM111.8,131.9l.7,21.6 4.1-10.2-.6-14.2zM113.9,149.8l.4-15.1 4.2,9.5-.5-10.4zM114.3,134.7l.5,1 4.2,8.6-.5-.1zM114.8,135.7l.5,12.6 4.1-19.4-.4,15.4zM115.7,131l.5,12.9 4.2-5-.5,5.7zM117.7,144.5l.6,18.2 4-37.1-.5,.1zM119.2,149.5l.4-.2 4.1-26.5-.4,17.6zM121.6,148.4l.4-16.2 4.2,9-.5,5.2zM130.8,145.7l.5,1.8 4.1-4.3-.5,6zM145.6,150.1l.5,1.3 4,3.7-.4-17.4zM148.1,146.7l.6-6.8 3.8,17.3-.5-2.2z"/><path fill="#b33164" d="M38.8,117.3l.3-3 4.7,3.5-1.1-17.7zM39.1,114.3l.3-4 4.4-5.1 0,12.6zM40.5,103.4l1.5,26.6 3.4-30.1 .3,21.9zM42,130l.1-8 3.9-17.3-.6-4.8zM45.7,108.9l.8,8.9 4.7,7.9-1.1-21.2zM46.5,117.8l.3-2.7 4-15.5 .4,26.1zM48.6,139.6l-.6-31.6 4.3-5.1-.1,10.1zM49.4,109.9l1,14.9 3.7-21.1 .3,20.8zM56.8,126.2l.5,1.8 3.9-18.3-.2,8.8zM57.3,128l.6,5.8 3.5-30.9-.2,6.8zM57.9,133.8l-.2-22.7 5,20.3-1.3-28.5zM58.8,116l.1-10.7 5.3,30.1-.9-14.7zM58.9,105.3l.7,9.9 4.8,12-.2,8.2zM59.6,115.2l.5,.6 4.8,11.9-.5-.5zM60.1,115.8l.4-4.4 4.9,16.4-.5-.1zM60.5,111.4l1.3,29.2 3.4-35.8 .2,23zM65.3,117.7l.9,18.6 4-17.7-.8-9.9zM67.1,117.2l1,18.3 3.9-18.5-.5,2zM75.8,130.8l.6,4.2 4-13.1-.7-10.2zM77.8,117.7l.4-4.8 4.8,20.4-.5-.2zM78.2,112.9l.9,20.5 4.1-14.2-.2,14.1zM79.7,137.2l0-19.9 4.5,5.5-.5-.9zM81.1,139l.2-12.5 4.7,19.2-1.4-49.5zM81.3,126.5l.2-12.4 4.5,5.5 0,26.1zM83.5,144.3l.3-8 4-20.2-.7-11.9zM84.3,135l.1-16.9 4.7,20.1-.9-24.2zM88.1,139.9l.2-17.7 4.3,.1-.4,6zM92.1,123.2l.7,16.2 3.9-28.5 0,34.8zM96,132.5l.6,9.4 4.2-8.4-.7-14.5zM96.6,141.9l.3-13.9 4.2-9.9-.3,15.4zM96.9,128l.7,12.8 4.1-8.5-.6-14.2zM97.6,140.8l.1-26.8 4.5,20.9-.5-2.6zM98.9,135.6l.6,7.8 4.2-6.1-.7-19.6zM100.7,128.2l.6,6.1 4.2,1.9-.5-6.9zM101.3,134.3l.6,9.8 4-25.6-.4,17.7zM103.8,144.7l.4-2.3 4.1-17.5-.6-10.2zM104.2,142.4l.5,2.6 4.1-16.7-.5-3.4zM105.2,145.1l.4-11.9 4.1-10.7-.4,9.1zM105.6,133.2l.5,1.3 4.2,7.7-.6-19.7zM106.1,134.5l.5,1 4.1-16.1-.4,22.8zM107,127.2l.6,18.7 4-26.5-.3,21zM107.6,145.9l.5-3.9 4.1-3.9-.6-18.7zM108.1,142l.4-10.5 4.1-6.9-.4,13.5zM110.9,132.7l.5,5.6 4.2,2.1-.5-8.9zM111.4,138.3l.4-6.4 4.2-2.8-.4,11.3zM115.3,148.3l.4-17.3 4.2,13.6-.5-15.7zM117.2,136.7l.5,7.8 4.1-18.8-.4,15.4zM119.6,149.3l.5-25.1 4.2,25.8-.6-27.2zM120.6,129.9l.5,13 4.1,3.4-.5-12.3zM122,132.2l.5,2.4 4.2,6.8-.5-.2zM123,126.8l.5,16 4.1,3-.4-.5zM123.5,142.8l.5-16.4 4.1,11.6-.5,7.8zM130.4,134.3l.4,11.4 4.1,3.5-.4-20.3zM131.8,142.9l.5-9.3 4.1-1.9-.6,25.8zM136.8,134.3l.3,27.6 4.3-30.5-.6,9.5zM146.1,151.4l.4,6.5 4.4-36.6-.8,33.8zM146.5,157.9l.5,.2 4.1-12.4-.2-24.4zM147,158.1l.7-15.3 4.1-7.4-.7,10.3zM147.7,142.8l.4,3.9 3.9,8.3-.2-19.6zM148.7,139.9l.6-11 3.6,38.5-.4-10.2zM149.3,128.9l.5,5.1 3.7,21-.6,12.4zM149.8,134l.4,8.8 3.8,12.3-.5-.1z"/><path fill="#bb3560" d="M39.7,94.4l.8,9 5.2,18.4-.2,5.9zM42.1,122l.4-2.4 3.8-18-.3,3.1zM42.5,119.6l.6,3.7 3.7-20-.5-1.7zM43.4,120.7l-.6-27.6 5,12.3 .4,23.2zM44.7,117.4l.4-.8 4.5,1.3-1-16.5zM45.8,122.7l-.1-13.8 4.4-4.4-.2,8.6zM46.8,115.1l.5-.4 4.9,11.9-1.4-27zM48.4,94.1l1,15.8 5,14.6-.6-3.6zM50.4,124.8l.3-2.6 3.8-21.8-.4,3.3zM50.5,102.8l1.2,20.7 4-12.9-.6-3.7zM51.7,123.5l.3-4.8 3.7-22.2 0,14.1zM52,118.7l.4-.1 4.6,2.6-1.3-24.7zM54.3,118.9l.2-5.7 4.3-6.8 .1,19.5zM54.5,113.2l.9,12.8 4-14-.6-5.6zM57.7,111.1l.4-1.9 4.2-6.6 .4,28.8zM61.8,140.6l-.4-27.2 4.4-3-.6-5.6zM61.4,97.3l1,15.9 4.8,13.8-.7-6zM62.4,113.2l.9,15.2 3.5-30.4 .4,29zM63.3,128.4l.1-12.1 4.4,1.3-1-19.6zM63.4,116.3l.2-8.7 4.6,8.3-.4,1.7zM64.2,113.3l.9,15.5 4.1-13.1-.4,4.4zM65.1,128.8l.2-11.1 4.1-9-.2,7zM68.1,135.5l-.3-27.7 4.6,7-.4,2.2zM67.8,107.8l.3-4 5.3,33.9-1-22.9zM71.7,114.7l.7,9.3 4.6,9.8-1.3-35zM73,110.5l.3-6.2 5,24.7-.4,5.6zM73.3,104.3l.7,10.8 4.8,16.9-.5-3zM74,115.1l.4-5.7 4.8,19.4-.4,3.2zM74.4,109.4l.4-2.3 4.9,25.2-.5-3.5zM74.8,107.1l1,23.7 3.9-19.1 0,20.6zM76.9,136.8l-.3-30.8 4.7,13.7-.4,.6zM77.3,115.1l.5,2.6 4.7,15.4-.8-15.2zM79.7,117.3l.8,16.4 4-15.9-.3,5zM80.5,133.7l.6,5.3 3.5-42.8-.1,21.6zM82.7,123.9l.8,20.4 3.6-40.1-.4,4.5zM83.8,136.3l.5-1.3 3.9-21-.4,2.1zM86,125.9l.5-.8 4.3,3.7-.7-13.3zM88.3,122.2l.6,5.6 4.1-9.2-.4,3.7zM89.3,123.3l.7,17.1 4-17.9-.6-8.7zM90,140.4l.3-14.1 4-14.7-.3,10.9zM90.3,126.3l.3-8 4.5,15.8-.8-22.5zM92.8,139.4l.3-12.4 4.2-3.9-.6-12.2zM95.3,113.3l.7,19.2 4.1-13.5-.3,14zM97.7,114l.5,5.4 4.4,11.5-.4,4zM98.2,119.4l.7,16.2 4.1-17.9-.4,13.2zM100.5,145.3l.2-17.1 4.3,1.1-.6-17zM101.9,144.1l.5,0 3.8-37.8-.3,12.2zM102.4,144.1l.4,.3 4-27-.6-11.1zM102.8,144.4l.4-10.6 4.1-17-.5,.6zM103.2,133.8l.6,10.9 3.9-30-.4,2.1zM106.6,135.5l.4-8.3 4.3,13.2-.6-21zM109.4,129.7l.5,2.2 4.2-.5-.5-7.2zM109.9,131.9l.5-4.6 4.2,.2-.5,3.9zM110.4,127.3l.5,5.4 4.2-1.2-.5-4zM120.1,124.2l.5,5.7 4.1,4.1-.4,16zM122.5,134.6l.5-7.8 4.2,18.5-.5-3.9zM125.5,140l.5,5.3 4.1-12.3-.5-5.9zM126,145.3l.4-18.8 4.2,7.1-.5-.6zM127.4,131.6l.5-7.1 4.1,21-.5-8zM127.9,124.5l.5,13 4.1-.9-.5,8.9zM129.4,147.4l.5-3.4 4.1-.7-.4-30.2zM129.9,144l.5-9.7 4.1-5.4-.5,14.4zM134.8,135.9l.4,13.1 4.2-24-.5,10.8zM137.7,150.4l.6-28 4,18.3-.6,12.2zM138.3,122.4l.5,13.5 3.8,25-.3-20.2zM138.8,135.9l.5-2.1 4,.7-.7,26.4zM139.3,133.8l.4,9.7 4.1,.5-.5-9.5zM139.7,143.5l.5-7.8 4.1,.3-.5,8zM141.7,134.5l.5,10.9 4.1-7.9-.5,2.1zM143.1,152.6l.6-6.6 4.2-23.5-.6,11.3zM144.7,137.9l.5,.1 3.9,10-.3-11.9zM145.2,138l.4,12.1 4.1-12.4-.6,10.3z"/><path fill="#bf375d" d="M35.9,101.4l1,14.6 3.6-26 .5,24.7zM38.5,120.2l.3-2.9 3.9-17.2-1-14zM48,108l.2-6.3 4.9,11.4-.8-10.2zM48.2,101.7l.2-7.6 5.4,26.8-.7-7.8zM50.7,122.2l-.2-19.4 4.6,4.1-.6-6.5zM58.1,109.2l.7,6.8 4.5,4.7-1-18.1zM61.4,113.4l0-16.1 5.1,23.7-.7-10.6zM63.6,107.6l.6,5.7 4.6,6.8-.6-4.2zM66.5,129.8l-.1-19.4 4.2-10.7 0,18.8zM70.1,106.4l.6,4.7 4.8,17.8-.8-13.3zM70.7,111.1l.6,8.4 4.1-13.3 .1,22.7zM81.5,114.1l.6,6.4 4.4,1.5-.5-2.4zM82.1,120.5l.6,3.4 4-15.2-.2,13.3zM84.4,118.1l.4-5.9 4.3-1 0,27zM88.9,127.8l.4-4.5 4.1-9.5-.4,4.8zM90.6,118.3l.5,.4 4.3-.2-.3,15.6zM93.1,127l.3-9.9 4.3-2.4-.4,8.4zM93.4,117.1l.6,5.6 4.3,1.9-.6-9.9zM94,122.7l.1-23.2 4.8,36.1-.6-11zM95,128.6l.3-15.3 4.5,19.7-.7-22.3zM108.5,131.5l.4-2.9 4.2-11.3-.5,7.3zM108.9,128.6l.5,1.1 4.2-5.5-.5-6.9zM125,123.5l.5,16.5 4.1-12.9-.5-.8zM126.9,134.6l.5-3 4.1,5.9-.4-18zM128.4,137.5l.5-24.6 4.1,22.9-.5,.8zM132.3,133.6l.5-2.3 4.1,7.4-.5-7zM132.8,131.3l.5-4.1 4.1,6.3-.5,5.2zM134.3,139.2l.5-3.3 4.1-.1-.4-17.5zM135.2,149l.6-14.7 4.1-3.7-.5-5.6zM136.3,130.5l.5,3.8 4,6.6-.4-14.3zM141.2,135l.5-.5 4.1,5.1-.5-.5z"/><path fill="#c63b58" d="M36.9,116l.1-9.8 4.1-11.8-.6-4.4zM37,106.2l.1-8.5 4.9,7.9-.9-11.2zM37.1,97.7l1.4,22.5 3.2-34.1 .3,19.5zM43.1,87.7l1.6,29.7 3.9-16-.5-.4zM66.4,110.4l.7,6.8 4.4,1.8-.9-19.3zM69.2,109l.1-12.8 4.8,14.9 0,15.9zM76.6,106l.7,9.1 4.4,2.8-.4,1.8zM94.1,99.5l.9,29.1 4.1-17.9-.2,24.9zM124,126.4l.5,1.2 4.1-5.6-.5,16zM126.4,126.5l.5,8.1 4.2-15.1-.5,14.1zM128.9,112.9l.5,34.5 4.2-34.3-.6,22.7zM135.8,134.3l.5-3.8 4.1-3.9-.5,4zM140.2,135.7l.6-5.6 4.1-.6-.6,6.5zM140.8,130.1l.4,4.9 4.1,4.1-.4-9.6zM142.2,145.4l.6-17.5 4.1-4.7-.6,14.3zM142.8,127.9l.3,24.7 4.2-18.8-.4-10.6zM144.3,126.1l.4,11.8 4.1-1.8-.5-7.4z"/><path fill="#cc3f54" d="M69.3,96.2l.8,10.2 4.6,9.2-.6-4.5zM71.3,119.5l.4-4.8 4-15.9-.3,7.4zM85.3,111.7l.7,14.2 4.1-10.4-.7-14.5zM124.5,127.6l.5-4.1 4.1,2.8-.5-4.3zM133.3,127.2l.5,5.1 4.2-19.8-.6,21zM143.7,146l.6-19.9 4,2.6-.4-6.2z"/><path fill="#d04251" d="M133.8,132.3l.5,6.9 4.2-20.9-.5-5.8z"/><path fill="#d7474c" d="M42.8,93.1l.3-5.4 5,13.3-.3,4.4zM84.8,112.2l.5-.5 4.1-10.7-.3,10.2z"/><path fill="#811e75" d="M114,153l.6,9.4 4.1-5.7-.4,6z"/><path fill="#9c286e" d="M52.6,133.8l.8,10.5 3.9-16.3-.5-1.8zM95.5,161.6l.1-22.1 4.3,1.7-.4,2.2zM114.6,162.4l.4-18 4.2,5.1-.5,7.2z"/><path fill="#a02a6c" d="M48.7,128.2l.5-.2 4.4-.7 0,12.9zM49.2,128l.3-4.6 4.9,13.6-.8-9.7zM53.4,144.3l-.3-22.1 4.8,11.6-.6-5.8zM72,135.2l.6,4.9 4.3-3.3-.5-1.8zM94.6,132.3l.9,29.3 4-18.2-.6-7.8z"/><path fill="#a82d69" d="M37.1,121.7l.5,.1 4.5,.2-.1,8zM37.6,121.8l.7,7.6 4.2-9.8-.4,2.4zM48.1,124.9l.6,3.3 4.9,12-1.2-21.6zM49.5,123.4l.7,7.7 4.1-12.2 .1,18.1zM57.5,144l-.3-22 4.2-8.6 .4,27.2zM60.9,150.6l-.1-17.1 4.3-4.7-.9-15.5zM68.3,137.7l.4-4.8 4.4,2.1-.7-11zM71.5,133l.5,2.2 4.4-.2-.6-4.2zM75.3,139.3l.7,7.7 3.7-29.7 0,19.9zM78.7,123.1l.9,19.2 4.2-6-.3,8zM79.6,142.3l.4-2.8 4.3-4.5-.5,1.3zM91.9,143.7l.5,2.6 4.2-4.4-.6-9.4zM97.5,132.8l.6,14.2 4.3-2.9-.5,0zM98.1,147l.4-8.8 4.3,6.2-.4-.3zM108.1,137l.6,9 4.2,1.5-.4,6zM108.7,146l.4-6.2 4.3,10.4-.5-2.7zM109.1,139.8l.6,9 4.2,1-.5,.4zM113.4,131.8l.6,21.2 4.3,9.7-.6-18.2zM115,144.4l.5,5.6 4.1-.7-.4,.2zM126.7,156.9l.5,.2 4.1-9.6-.5-1.8zM127.2,157.1l.5,.1 4.1-14.3-.5,4.6z"/><path fill="#ae2f66" d="M31.4,124.9l.2-5.8 4.7,2.5-.6-3.8zM35.2,118.7l.4-1.9 5.2,16.4-1.4-22.9zM38.3,129.4l-.2-17.5 5,11.4-.6-3.7zM42.4,107.1l1.3,22 4.9,10.5-1.3-24.9zM43.7,129.1l-.1-14.5 4.4-6.6 .6,31.6zM45.7,120.1l.9,11.9 4.1-9.8-.3,2.6zM47.5,131.6l.1-8.4 4.4-4.5-.3,4.8zM51.3,111.8l1.3,22 4.2-7.6-.4,3.8zM53.1,122.2l.8,10.2 3.8-21.3 .2,22.7zM56,112.5l1.5,31.5 4.3-3.4-1.3-29.2zM74.5,122.3l.8,17 4.4-2.1-.6-3.8zM76,147l.1-16.5 4.4,3.2-.8-16.4zM76.1,130.5l.4-2.2 4.6,10.7-.6-5.3zM76.5,128.3l.8,17 4-18.8-.2,12.5zM83.2,135.3l.8,12.6 4.1-8-.9-24.2zM84,147.9l.1-19 4.2-6.7-.2,17.7zM85.6,134.9l.6,8.9 4.1-17.5-.3,14.1zM88.5,136.6l.6,7 4-16.6-.3,12.4zM92.4,146.3l.4-6.2 4.1-12.1-.3,13.9zM98.5,138.2l.6,6.9 4.1-11.3-.4,10.6zM99.1,145.1l.4-4.1 4.3,3.7-.6-10.9zM99.5,141l.4-7.1 4.3,8.5-.4,2.3zM109.7,148.8l.4-9 4.2-5.1-.4,15.1zM110.6,143.8l.5,2.3 4.2,2.2-.5-12.6zM116.9,141.3l.5,4.9 4.2,2.2-.5-5.5zM125.2,151.6l.5,2.1 4.2-9.7-.5,3.4zM125.7,153.7l.5,3.1 4.2-22.5-.5,9.7zM126.2,156.8l.5,.1 4.1-11.2-.4-11.4z"/><path fill="#b33164" d="M31.6,119.1l.8,7.5 3.5-25.2 .4,20.2zM35.6,116.8l.7,7.6 3.4-30 1.1,38.8zM36.5,117.7l.6,4 4.9,8.3-1.5-26.6zM40.4,124.7l.3-5 4.4-3.1-.4,.8zM40.7,119.7l.3-1.8 4.8,4.8-.7-6.1zM41,117.9l.8,8.1 3.9-17.1 .1,13.8zM41.8,126l.3-3.5 4.4-4.7-.8-8.9zM46.6,132l0-10.3 3.9-18.9 .2,19.4zM46.6,121.7l.9,9.9 4.2-8.1-1.2-20.7zM47.6,123.2l.5,1.7 4.3-6.3-.4,.1zM50.2,131.1l.3-3.4 4-14.5-.2,5.7zM50.5,127.7l.1-10.1 4.8,8.4-.9-12.8zM50.6,117.6l.5,1.1 4.7,4.5-.4,2.8zM51.1,118.7l.2-6.9 5.1,18.2-.6-6.8zM60.8,133.5l0-16.4 4.5,.6-.2,11.1zM61.4,122.3l.1-13.7 5,21.2-.3,6.5zM64.3,126.1l.5,3.4 4.7,10-1.4-35.7zM64.8,129.5l.3-6.6 4.1-13.9 .3,30.5zM68.7,132.9l.2-8.2 4.1-14.2 .1,24.5zM78.5,134l.2-10.9 4.8,21.2-.8-20.4zM81.8,136.8l.6,5.6 4.1-17.3-.5,.8zM82.4,142.4l.1-19.3 4.6,12.9-.6-10.9zM86.2,143.8l.6,4.2 3.8-29.7-.3,8zM87.1,137.7l.4-3.5 4.4,7.1-.8-22.6zM87.5,134.2l.5,1 4.1-12-.2,18.1zM88,135.2l.5,1.4 4.3,2.8-.7-16.2zM92.8,140.1l.4-6.4 4.4,7.1-.7-12.8zM94.4,150.5l.2-18.2 4.3,3.3-.7-16.2zM95.6,139.5l.2-23.5 4.7,29.3-.6-4.1zM95.8,116l.9,32.3 4-20.1-.2,17.1zM96.7,148.3l.3-11.6 4.3-2.4-.6-6.1zM97,136.7l.5-3.9 4.4,11.3-.6-9.8zM99.9,133.9l.4-8.4 4.4,19.5-.5-2.6zM103.3,137.7l.4-3.8 4.4,8.1-.5,3.9zM103.7,133.9l.6,5.4 4.2-7.8-.4,10.5zM107.2,141.1l.5-.2 4.1-9-.4,6.4zM107.7,140.9l.4-3.9 4.4,16.5-.7-21.6zM110.1,139.8l.5,4 4.2-8.1-.5-1zM111.1,146.1l.4-11.9 4.2-3.2-.4,17.3zM112,137.1l.5,1.2 4.3,10.4-.6-4.8zM112.5,138.3l.5,8.4 4.2-10-.4,12zM113,146.7l.4-14.9 4.3,12.7-.5-7.8zM117.4,146.2l.4-9.9 4.2-4.1-.4,16.2zM118.9,146.7l.5,12.9 4.1-16.8-.5-16zM121.3,133.4l.5,20.2 4.2-8.3-.5-5.3zM127.7,157.2l.5-.8 4.1-22.8-.5,9.3zM128.2,156.4l.5,1.1 4.1-26.2-.5,2.3zM133.1,135.4l.5,4.9 4.1,10.1-.6,11.5zM144.4,161.9l.5,5 4.4-38-.6,11z"/><path fill="#bb3560" d="M32.4,126.6l-.4-19.7 4.9,9.1-1-14.6zM32,106.9l.7,6 4.3-6.7-.1,9.8zM32.7,112.9l1.2,17.4 3.2-32.6-.1,8.5zM33.9,130.3l-1.1-35.3 5.7,25.2-1.4-22.5zM32.8,95l1,13.2 5,9.1-.3,2.9zM33.8,108.2l.5-.8 4.8,6.9-.3,3zM34.3,107.4l.9,11.3 4.2-8.4-.3,4zM38.1,111.9l.3-3.7 5,12.5-.3,2.6zM40.1,128.1l.3-3.4 4.3-7.3-1.6-29.7zM42.1,122.5l.1-10.8 4.6,3.4-.3,2.7zM45.1,117l.6,3.1 4.7,4.7-1-14.9zM53.9,132.4l0-14.2 4.2-9-.4,1.9zM53.9,118.2l.9,14.4 4-16.6-.7-6.8zM54.8,132.6l0-12.8 4.1-14.5-.1,10.7zM55.5,124.9l.2-8.1 4.4-1-.5-.6zM57.9,114.2l.6,2.8 4.8,11.4-.9-15.2zM58.5,117l.6,6.3 4.3-7-.1,12.1zM59.1,108.3l1.8,42.3 3.3-37.3-.6-5.7zM60.8,117.1l.6,5.2 4.8,14-.9-18.6zM62.7,103l1.3,29.5 3.8-24.7 .3,27.7zM66.5,122.1l.8,11.8 4-14.4-.6-8.4zM67.3,133.9l0-15.9 4.4-3.3-.4,4.8zM67.3,118l1,19.7 4.1-13.7-.7-9.3zM70.6,118l.9,15 4.3-2.2-1-23.7zM72.6,140.1l-.1-23.1 4.1-11 .3,30.8zM73.2,128.1l.8,14.2 3.8-24.6-.5-2.6zM74,142.3l-.1-25.6 4.3-3.8-.4,4.8zM77.3,145.3l-.1-27.3 4.3-3.9-.2,12.4zM78,134.5l.5-.5 4.2-10.1-.6-3.4zM80,139.5l.2-15.9 4.2-5.5-.1,16.9zM81,139.5l.4-3.6 3.9-24.2-.5,.5zM81.4,135.9l.4,.9 4.2-10.9-.7-14.2zM82.5,123.1l.7,12.2 4-19.6-.1,20.3zM84.1,128.9l.7,11.9 4.1-13-.6-5.6zM84.8,140.8l.1-17.7 4.4,.2-.4,4.5zM84.9,123.1l.7,11.8 4.4,5.5-.7-17.1zM86.8,148l.3-10.3 4-19-.5-.4zM89.1,143.6l.3-8 4-18.5-.3,9.9zM89.4,135.6l.6,8.6 4-21.5-.6-5.6zM90.9,138.9l.3-8.6 4.1-17-.3,15.3zM91.2,130.3l.7,13.4 4.1-11.2-.7-19.2zM93.2,133.7l.5,6.2 4-25.9-.1,26.8zM93.7,139.9l.7,10.6 3.8-31.1-.5-5.4zM100.3,125.5l.4,.5 4.5,19.1-.5-.1zM100.7,126l.6,5.9 4.3,1.3-.4,11.9zM101.3,131.9l.5,2.6 4.3,0-.5-1.3zM101.8,134.5l.4-11.8 4.4,12.8-.5-1zM102.7,131.8l.6,5.9 4.3,8.2-.6-18.7zM104.3,139.3l.4-6.7 4.2-4-.4,2.9zM104.7,132.6l.6,9.6 4.1-12.5-.5-1.1zM105.3,142.2l.4-5 4.2-5.3-.5-2.2zM106.6,133.3l.6,7.8 4.2-2.8-.5-5.6zM111.5,134.2l.5,2.9 4.2,6.8-.5-12.9zM115.5,150l.3-26.4 4.3,.6-.5,25.1zM116.3,128.5l.6,12.8 4.2,1.6-.5-13zM119.4,159.6l.4-28.1 4.2-5.1-.5,16.4zM120.3,139.3l.5,19.9 4.2-35.7-.5,4.1zM120.8,159.2l.5-25.8 4.2,6.6-.5-16.5zM121.8,153.6l.5-20.3 4.1-6.8-.4,18.8zM124.7,155.7l.5-4.1 4.2-4.2-.5-34.5zM128.7,157.5l.4-.6 4.2-29.7-.5,4.1zM129.1,156.9l.5-5.2 4.2-19.4-.5-5.1zM130.6,141.5l.5,6 4.1,1.5-.4-13.1zM131.1,147.5l.5-6.4 4.2-6.8-.6,14.7zM138.1,146.1l.4,11.3 4.3-29.5-.6,17.5zM138.5,157.4l.7-26.2 3.9,21.4-.3-24.7zM141.7,131l.4,14.7 4,5.7-.5-1.3zM142.1,145.7l.6-24.5 3.8,36.7-.4-6.5zM144.1,141.9l.3,20 4.3-22-.6,6.8zM144.9,166.9l.6-10.3 4.3-22.6-.5-5.1zM145.5,156.6l.6-8.1 4.1-5.7-.4-8.8z"/><path fill="#bf375d" d="M36.3,124.4l.2-6.7 4-14.3-.8-9zM38.4,108.2l.7,6.6 3.7-21.7 .6,27.6zM42.2,111.7l.2-4.6 4.9,7.6-.5,.4zM43.6,114.6l.6,2.3 4-15.2-.2,6.3zM44.2,116.9l.9,11.1 3.3-33.9-.2,7.6zM45.1,128l0-11 4.3-7.1-1-15.8zM54.8,119.8l.7,5.1 4.1-9.7-.7-9.9zM55.7,116.8l.3-4.3 4.5-1.1-.4,4.4zM61.5,108.6l.7,9.4 4.2-7.6 .1,19.4zM62.4,110l.3-7 5.4,32.5-1-18.3zM64,132.5l.3-6.4 3.8-22.3-.3,4zM73.9,116.7l.6,5.6 4.6,11.1-.9-20.5zM77.2,118l.8,16.5 4.1-14-.6-6.4zM80.2,123.6l.8,15.9 3.8-27.3-.4,5.9zM90,144.2l.3-11.3 3.8-33.4-.1,23.2zM90.3,132.9l.6,6 4.1-10.3-.9-29.1zM102.2,122.7l.5,9.1 4.3-4.6-.4,8.3zM117.8,136.3l.5-4.7 4.2,3-.5-2.4zM118.3,131.6l.6,15.1 4.1-19.9-.5,7.8zM122.8,138.9l.4-.4 4.2-6.9-.5,3zM123.7,136.1l.5,3 4.2-1.6-.5-13zM124.2,139.1l.5,16.6 4.2-42.8-.5,24.6zM129.6,151.7l.6-30.6 4.1,18.1-.5-6.9zM132.7,126.5l.4,8.9 4,26.5-.3-27.6zM137.6,134.4l.5,11.7 4.1-.7-.5-10.9zM139.2,131.2l.4,3.9 4.1,10.9-.6,6.6zM140.6,147.8l.5-1.4 4.1-8.4-.5-.1zM141.1,146.4l.6-15.4 3.9,19.1-.4-12.1zM142.7,121.2l.5,12.3 3.8,24.6-.5-.2zM143.2,133.5l.4,4.7 4.1,4.6-.7,15.3zM143.6,138.2l.5,3.7 4,4.8-.4-3.9z"/><path fill="#c63b58" d="M39.1,114.8l1,13.3 3-40.4-.3,5.4zM57.2,122l.4-1.5 3.8-23.2 0,16.1zM57.6,120.5l.3-6.3 4.5-1-1-15.9zM59.1,123.3l0-15 4.5-.7-.2,8.7zM62.2,118l.2-8 4.7,7.2-.7-6.8zM65.1,122.9l.6,2.7 3.6-29.4-.1,12.8zM68.9,124.7l.4-1.7 4-18.7-.3,6.2zM72.5,117l.7,11.1 4.1-13-.7-9.1zM105.7,137.2l.3-24.5 4.4,14.6-.5,4.6zM106,112.7l.6,20.6 4.3-.6-.5-5.4zM119.8,131.5l.5,7.8 4.2-11.7-.5-1.2zM122.3,133.3l.5,5.6 4.1-4.3-.5-8.1zM123.2,138.5l.5-2.4 4.2-11.6-.5,7.1zM130.2,121.1l.4,20.4 4.2-5.6-.5,3.3zM133.6,140.3l.5-8.2 4.2-9.7-.6,28zM134.1,132.1l.5,18.3 4.2-14.5-.5-13.5zM134.6,150.4l.6-33.8 4.1,17.2-.5,2.1zM135.6,138.1l.6-8.5 4,6.1-.5,7.8zM136.2,129.6l.4,17 4.2-16.5-.6,5.6zM136.6,146.6l.5-10.7 4.1-.9-.4-4.9zM137.1,135.9l.5-1.5 4.1,.1-.5,.5zM139.6,135.1l.5,2.3 4.2-11.3-.6,19.9zM140.1,137.4l.5,10.4 4.1-9.9-.4-11.8z"/><path fill="#cc3f54" d="M65.6,107.3l.9,14.8 4.2-11-.6-4.7zM69.3,123l0-17.8 4.7,9.9-.7-10.8zM69.3,105.2l.9,14.9 4.2-10.7-.4,5.7zM70.2,120.1l.4-2.1 4.2-10.9-.4,2.3zM115.8,123.6l.5,4.9 4.3,1.4-.5-5.7zM131.6,141.1l.6-17.1 4.1,6.5-.5,3.8zM135.2,116.6l.4,21.5 4.1,5.4-.4-9.7z"/><path fill="#d04251" d="M65.7,125.6l-.1-18.3 4.5-.9-.8-10.2zM132.2,124l.5,2.5 4.1,7.8-.5-3.8z"/></g>
<g font-family="'DejaVu Sans','Liberation Sans',sans-serif"><defs><linearGradient id="cbg" x1="0" y1="0" x2="0" y2="1"><stop offset="0.000" stop-color="#c4de7a"/><stop offset="0.042" stop-color="#ebe661"/><stop offset="0.083" stop-color="#f9d63b"/><stop offset="0.125" stop-color="#faba2e"/><stop offset="0.167" stop-color="#f9a228"/><stop offset="0.208" stop-color="#f68a28"/><stop offset="0.250" stop-color="#f78918"/><stop offset="0.292" stop-color="#f57c18"/><stop offset="0.333" stop-color="#ed6925"/><stop offset="0.375" stop-color="#e45a31"/><stop offset="0.417" stop-color="#d84c3e"/><stop offset="0.458" stop-color="#ca404a"/><stop offset="0.500" stop-color="#bc3754"/><stop offset="0.542" stop-color="#ab2f5e"/><stop offset="0.583" stop-color="#9a2865"/><stop offset="0.625" stop-color="#8a226a"/><stop offset="0.667" stop-color="#781c6d"/><stop offset="0.708" stop-color="#67166e"/><stop offset="0.750" stop-color="#57106e"/><stop offset="0.792" stop-color="#450a69"/><stop offset="0.833" stop-color="#320a5e"/><stop offset="0.875" stop-color="#210c4a"/><stop offset="0.917" stop-color="#110a30"/><stop offset="0.958" stop-color="#050417"/><stop offset="1.000" stop-color="#000004"/></linearGradient></defs><rect x="260.00" y="42.40" width="24.00" height="119.00" fill="url(#cbg)" stroke="#000" stroke-width="0.43"/><path d="M284.00,148.86h1.88" stroke="#000" stroke-width="0.43"/><text x="287.33" y="150.39" font-size="5.36">60</text><path d="M284.00,126.87h1.88" stroke="#000" stroke-width="0.43"/><text x="287.33" y="128.40" font-size="5.36">70</text><path d="M284.00,104.87h1.88" stroke="#000" stroke-width="0.43"/><text x="287.33" y="106.40" font-size="5.36">80</text><path d="M284.00,82.87h1.88" stroke="#000" stroke-width="0.43"/><text x="287.33" y="84.40" font-size="5.36">90</text><path d="M284.00,60.88h1.88" stroke="#000" stroke-width="0.43"/><text x="287.33" y="62.41" font-size="5.36">100</text><text transform="translate(303.88,101.90) rotate(-90)" text-anchor="middle" font-size="5.36">Total Cost of Best Solution</text></g>
</g>
<g font-family="'DejaVu Sans','Liberation Sans',sans-serif"><rect x="402.60" y="31.10" width="281.80" height="168.10" fill="#fff" stroke="#000" stroke-width="0.65"/>
<path d="M415.5,120.1 415.8,116.3 416,122.6 416.3,118.2 416.5,110.7 416.8,122 417,116.6 417.3,120 417.5,118.7 417.8,121.1 418.1,121.6 418.3,120 418.6,114.6 418.8,122.7 419.1,117 419.3,121.5 419.6,113.9 419.8,122.8 420.1,126.2 420.4,120 420.6,119.1 420.9,122.2 421.1,112.8 421.4,116.8 421.6,104.8 421.9,116.7 422.2,118.6 422.4,120.5 422.7,114 422.9,123.9 423.2,116.6 423.4,117.3 423.7,124.4 423.9,119.6 424.2,116.8 424.5,109.2 424.7,121 425,114 425.2,112.7 425.5,122.1 425.7,114.1 426,114.3 426.2,114.1 426.5,118.1 426.8,112.5 427,118.4 427.3,115.6 427.5,121.7 427.8,115.5 428,111.6 428.3,111.2 428.5,113.1 428.8,116.7 429.1,116.7 429.3,114.8 429.6,114.1 429.8,115.2 430.1,122.3 430.3,110 430.6,123.2 430.8,118.2 431.1,118 431.4,116.6 431.6,117 431.9,115.2 432.1,113.9 432.4,109.8 432.6,114.5 432.9,117.9 433.2,121.1 433.4,116.5 433.7,123.3 433.9,114.8 434.2,111.9 434.4,116.4 434.7,121.8 434.9,125.1 435.2,113.7 435.5,126.1 435.7,119.5 436,116.5 436.2,119.3 436.5,113.6 436.7,114.2 437,108.6 437.2,120.1 437.5,114.5 437.8,108.4 438,116.6 438.3,124.2 438.5,118 438.8,111.5 439,116.9 439.3,115.4 439.5,122 439.8,107.5 440.1,115.6 440.3,116.4 440.6,119.5 440.8,121.5 441.1,117 441.3,115 441.6,112.2 441.8,118.7 442.1,120 442.4,108.8 442.6,117.9 442.9,107.5 443.1,112.2 443.4,117 443.6,110 443.9,114.8 444.1,117.9 444.4,121.6 444.7,113.9 444.9,118.7 445.2,112.2 445.4,119 445.7,112.2 445.9,119.3 446.2,114.3 446.5,123.8 446.7,117 447,118.2 447.2,122.3 447.5,118.8 447.7,116 448,115.5 448.2,117.2 448.5,116.6 448.8,123 449,104.7 449.3,117.2 449.5,116.3 449.8,119.1 450,112.5 450.3,121.4 450.5,113.8 450.8,124.9 451.1,114.7 451.3,121.4 451.6,113.3 451.8,114.3 452.1,115.3 452.3,113.3 452.6,116.3 452.8,118.8 453.1,117.9 453.4,111.3 453.6,121.8 453.9,117.9 454.1,119.8 454.4,115.1 454.6,118.3 454.9,112.7 455.1,112.3 455.4,117.9 455.7,119.7 455.9,110.1 456.2,125.8 456.4,115.8 456.7,110.5 456.9,123.7 457.2,118.1 457.5,112.5 457.7,118.1 458,113.2 458.2,116.3 458.5,123.4 458.7,118.3 459,118.7 459.2,117.3 459.5,123 459.8,119.8 460,121.1 460.3,112.9 460.5,119.1 460.8,115.1 461,117.7 461.3,110.5 461.5,118.9 461.8,115.5 462.1,117.4 462.3,110.1 462.6,121.8 462.8,121.7 463.1,120.3 463.3,114.1 463.6,120.1 463.8,117 464.1,115.7 464.4,108.6 464.6,116.6 464.9,112.9 465.1,118.4 465.4,127.7 465.6,119.4 465.9,109.5 466.1,120.6 466.4,114.5 466.7,117.4 466.9,119.2 467.2,113.6 467.4,110.2 467.7,118.6 467.9,123.6 468.2,116.7 468.5,117.8 468.7,107.8 469,115.7 469.2,119.7 469.5,117.7 469.7,122 470,119.1 470.2,115.6 470.5,121 470.8,117.7 471,122.2 471.3,117.5 471.5,118.2 471.8,120.3 472,117.4 472.3,116.6 472.5,118.2 472.8,114.1 473.1,110.3 473.3,119.4 473.6,117.3 473.8,119.6 474.1,119 474.3,112.1 474.6,119.5 474.8,115.2 475.1,121.8 475.4,118.5 475.6,122.2 475.9,118.4 476.1,116.2 476.4,116.6 476.6,113.9 476.9,119.6 477.1,122.5 477.4,114.1 477.7,112.8 477.9,124.9 478.2,112.4 478.4,118.1 478.7,116.5 478.9,122 479.2,119.6 479.4,122 479.7,115.2 480,111.2 480.2,114.1 480.5,114.5 480.7,122.9 481,110.2 481.2,114.4 481.5,115.8 481.8,115.8 482,123.6 482.3,112.5 482.5,120.6 482.8,110.7 483,117.4 483.3,114.4 483.5,114 483.8,113.5 484.1,121.2 484.3,114.9 484.6,108.8 484.8,118.5 485.1,118.5 485.3,113.3 485.6,115 485.8,112.9 486.1,118.7 486.4,115 486.6,121.5 486.9,117 487.1,113.5 487.4,126.2 487.6,113.6 487.9,116.4 488.1,118.7 488.4,121.1 488.7,108.4 488.9,113.3 489.2,118.1 489.4,116.1 489.7,116.8 489.9,117.5 490.2,116.7 490.4,119.7 490.7,114.5 491,116.9 491.2,113.1 491.5,110.4 491.7,121.9 492,121.7 492.2,111.9 492.5,119.5 492.8,119.8 493,115.9 493.3,119.6 493.5,111.2 493.8,117 494,123.4 494.3,122 494.5,112.2 494.8,123.9 495.1,115.5 495.3,119.5 495.6,120.5 495.8,121.7 496.1,118.1 496.3,122.1 496.6,123.7 496.8,119.5 497.1,115.2 497.4,120.8 497.6,111 497.9,112.7 498.1,119.4 498.4,119.1 498.6,110.5 498.9,112.1 499.1,115.6 499.4,114.2 499.7,111.8 499.9,117.7 500.2,118.9 500.4,115.3 500.7,119 500.9,123.5 501.2,119.1 501.4,124.3 501.7,113.1 502,109.7 502.2,112.7 502.5,121.8 502.7,112.1 503,114.9 503.2,118.1 503.5,121.6 503.8,118.5 504,118.2 504.3,109.5 504.5,117.4 504.8,117.3 505,117.8 505.3,114.8 505.5,116 505.8,116.9 506.1,115.3 506.3,113.3 506.6,124.8 506.8,118.5 507.1,109.5 507.3,113 507.6,116.7 507.8,114.2 508.1,114.6 508.4,119.8 508.6,120.4 508.9,112.6 509.1,117.6 509.4,117.5 509.6,114.7 509.9,114.1 510.1,124.2 510.4,109.4 510.7,117.4 510.9,118.7 511.2,116.8 511.4,116.9 511.7,114.2 511.9,113.8 512.2,118.6 512.4,113.5 512.7,111.7 513,117.7 513.2,109.2 513.5,119.7 513.7,112.8 514,110 514.2,114.5 514.5,106.9 514.8,121.9 515,114.2 515.3,117.4 515.5,113 515.8,113.9 516,112.9 516.3,117.3 516.5,119.4 516.8,117 517.1,110.6 517.3,122.7 517.6,114.4 517.8,117.5 518.1,116 518.3,116 518.6,122.1 518.8,116.4 519.1,119.5 519.4,121.6 519.6,114 519.9,111.1 520.1,110.2 520.4,120.7 520.6,118.9 520.9,114 521.1,119.4 521.4,119.6 521.7,117.1 521.9,109.5 522.2,121.7 522.4,120.7 522.7,122.7 522.9,125.6 523.2,120.1 523.4,118.4 523.7,118.4 524,118.4 524.2,117.9 524.5,115.9 524.7,118.8 525,114.3 525.2,119.3 525.5,111.9 525.7,111.2 526,114 526.3,112.9 526.5,117.5 526.8,116.8 527,118.1 527.3,117.6 527.5,116.4 527.8,120.3 528.1,115.5 528.3,127.8 528.6,111.7 528.8,124.1 529.1,120.5 529.3,120.6 529.6,118.6 529.8,123.6 530.1,109 530.4,122 530.6,119.4 530.9,106.1 531.1,118.1 531.4,113.5 531.6,119.6 531.9,114.4 532.1,112.1 532.4,109.1 532.7,119.9 532.9,119.7 533.2,116 533.4,121.2 533.7,121.8 533.9,117 534.2,120 534.4,119.1 534.7,123.9 535,125.6 535.2,112.8 535.5,115.2 535.7,115.1 536,130 536.2,114.5 536.5,117.5 536.7,118.7 537,120.4 537.3,117.6 537.5,117.1 537.8,113.5 538,109.7 538.3,115.6 538.5,111.5 538.8,105.1 539.1,111.8 539.3,111.3 539.6,116.6 539.8,121.2 540.1,120.7 540.3,117.1 540.6,122.2 540.8,117.7 541.1,114.8 541.4,115.6 541.6,117.9 541.9,111.8 542.1,114.3 542.4,113.1 542.6,110.2 542.9,112.5 543.1,117.7 543.4,111.7 543.7,120.9 543.9,118.2 544.2,113.7 544.4,116.2 544.7,114.4 544.9,121.2 545.2,116 545.4,122.7 545.7,122.7 546,120.5 546.2,109.4 546.5,122.8 546.7,118.3 547,119.9 547.2,113.2 547.5,121.4 547.7,117 548,116.9 548.3,106.9 548.5,118 548.8,119.2 549,114.5 549.3,123.9 549.5,114.7 549.8,118.4 550.1,114.7 550.3,112 550.6,114.2 550.8,112.4 551.1,116 551.3,115.2 551.6,114.7 551.8,120.2 552.1,113.6 552.4,109.8 552.6,124 552.9,110.6 553.1,115 553.4,119.1 553.6,116.8 553.9,114.2 554.1,127.4 554.4,114.5 554.7,118.9 554.9,122.2 555.2,119.4 555.4,120.7 555.7,118 555.9,119.9 556.2,118.5 556.4,120.3 556.7,119.9 557,116.6 557.2,118.1 557.5,121.5 557.7,106.9 558,124.3 558.2,112.4 558.5,116.8 558.7,114.2 559,115.5 559.3,116.8 559.5,116 559.8,113.4 560,114.5 560.3,117.1 560.5,121.6 560.8,107.6 561.1,112 561.3,118.7 561.6,111.2 561.8,107.6 562.1,122.8 562.3,116.9 562.6,113.7 562.8,116.9 563.1,119.1 563.4,115.1 563.6,118.2 563.9,119.6 564.1,117.1 564.4,115.3 564.6,117.8 564.9,115.7 565.1,116.9 565.4,116.1 565.7,113.7 565.9,117.6 566.2,119 566.4,110.4 566.7,116.8 566.9,119.5 567.2,111.4 567.4,121.1 567.7,116 568,123.1 568.2,107.3 568.5,121.2 568.7,113.8 569,123.6 569.2,116.7 569.5,119.6 569.7,120.1 570,123.2 570.3,115.8 570.5,131.9 570.8,113.3 571,125.2 571.3,121.5 571.5,115.5 571.8,115 572,116.7 572.3,124.5 572.6,113.2 572.8,115 573.1,121.2 573.3,116.5 573.6,114.3 573.8,116.1 574.1,121 574.4,120.9 574.6,114.3 574.9,120.7 575.1,123.2 575.4,112 575.6,117.1 575.9,114.9 576.1,109.6 576.4,114 576.7,113.3 576.9,108.6 577.2,115.7 577.4,113.6 577.7,114 577.9,118.3 578.2,115 578.4,118.4 578.7,115.5 579,119.6 579.2,116.3 579.5,114.2 579.7,109.9 580,112.7 580.2,118.5 580.5,121.7 580.7,120.2 581,114 581.3,102.4 581.5,115.9 581.8,119.4 582,114.2 582.3,117.3 582.5,118.4 582.8,119 583,121.7 583.3,113.2 583.6,111.7 583.8,115.8 584.1,118.7 584.3,118.7 584.6,124.1 584.8,109.3 585.1,115.4 585.4,103.1 585.6,108.1 585.9,112.1 586.1,116.3 586.4,121.7 586.6,117.6 586.9,121 587.1,120.2 587.4,122.6 587.7,111.2 587.9,122 588.2,114.8 588.4,110.6 588.7,115.5 588.9,121.6 589.2,121.1 589.4,120.2 589.7,119.4 590,118.6 590.2,122.6 590.5,119.8 590.7,113.1 591,126.6 591.2,122.7 591.5,113.2 591.7,115.6 592,116.6 592.3,117.7 592.5,118.5 592.8,111.4 593,118.2 593.3,111.5 593.5,105.4 593.8,111.7 594,121.3 594.3,113.4 594.6,115.8 594.8,123.8 595.1,117 595.3,112.6 595.6,120.8 595.8,120.3 596.1,119.6 596.4,111.9 596.6,116.6 596.9,119.3 597.1,115.1 597.4,110.6 597.6,118 597.9,122.6 598.1,103.5 598.4,118 598.7,114.8 598.9,116.5 599.2,120.8 599.4,120.8 599.7,107.1 599.9,125 600.2,112.2 600.4,116.1 600.7,114.7 601,111.4 601.2,105.6 601.5,122.4 601.7,119.4 602,118.4 602.2,121.4 602.5,114.2 602.7,112.6 603,124.9 603.3,113.7 603.5,114.7 603.8,116.9 604,120.9 604.3,120.9 604.5,110.6 604.8,125.4 605,111.8 605.3,120 605.6,115.9 605.8,117.2 606.1,119.4 606.3,116 606.6,118.2 606.8,116.4 607.1,114.3 607.4,112.5 607.6,115.5 607.9,115.8 608.1,105.2 608.4,123.2 608.6,119.2 608.9,118.6 609.1,119.2 609.4,111.2 609.7,115.5 609.9,116.1 610.2,116.2 610.4,104.8 610.7,113.1 610.9,116.8 611.2,115.2 611.4,118.9 611.7,116.8 612,116.9 612.2,119.5 612.5,117.4 612.7,119.5 613,114.6 613.2,114.7 613.5,114.4 613.7,118.5 614,118.2 614.3,114.1 614.5,115.7 614.8,113.7 615,112 615.3,120.2 615.5,123 615.8,118.8 616,124.3 616.3,119.5 616.6,118.5 616.8,113.1 617.1,118.1 617.3,119.2 617.6,118.7 617.8,118.3 618.1,119 618.3,119.5 618.6,119 618.9,114.6 619.1,114.8 619.4,110.1 619.6,121.6 619.9,118 620.1,112.6 620.4,116.1 620.7,124.9 620.9,114.5 621.2,115.8 621.4,119.5 621.7,116.3 621.9,109.9 622.2,113.1 622.4,111.9 622.7,123.9 623,118.7 623.2,116.9 623.5,112.7 623.7,112 624,110.2 624.2,120.3 624.5,118.6 624.7,119.7 625,116.9 625.3,127.7 625.5,111.4 625.8,122.7 626,121.3 626.3,119.6 626.5,116.2 626.8,123.1 627,116.4 627.3,110.5 627.6,112.7 627.8,115.2 628.1,120.1 628.3,119.9 628.6,123.9 628.8,116.9 629.1,112.9 629.3,112.4 629.6,117.8 629.9,115 630.1,125.7 630.4,122.5 630.6,116.1 630.9,117.3 631.1,118.7 631.4,114.7 631.7,113.5 631.9,109.1 632.2,116.7 632.4,120.4 632.7,123 632.9,115.1 633.2,116.9 633.4,118 633.7,115.8 634,113.7 634.2,110.4 634.5,116 634.7,116 635,115.6 635.2,122.4 635.5,116.3 635.7,116.7 636,116.7 636.3,118.2 636.5,111.5 636.8,116 637,113.3 637.3,107.3 637.5,127.4 637.8,116.1 638,116.3 638.3,121.9 638.6,113.3 638.8,118.4 639.1,116.2 639.3,113.7 639.6,110.7 639.8,115.7 640.1,112.7 640.3,113.9 640.6,113.9 640.9,113.6 641.1,111.1 641.4,113.4 641.6,115.6 641.9,114.5 642.1,118.1 642.4,120.8 642.7,116.5 642.9,121.3 643.2,107.8 643.4,116.3 643.7,119.3 643.9,117.4 644.2,114.5 644.4,114.4 644.7,119.2 645,120.1 645.2,114.3 645.5,116.1 645.7,119.6 646,109.6 646.2,113.5 646.5,118.5 646.7,118.3 647,122.2 647.3,114.8 647.5,113.9 647.8,119.8 648,119.4 648.3,122.2 648.5,109.7 648.8,111.3 649,118.2 649.3,124 649.6,113.7 649.8,116.7 650.1,118.3 650.3,114.6 650.6,117.3 650.8,108.1 651.1,116.1 651.3,111.6 651.6,113.2 651.9,122.5 652.1,124.5 652.4,118.3 652.6,114.9 652.9,119.7 653.1,111.1 653.4,110.8 653.6,116.6 653.9,125.5 654.2,112.6 654.4,110.7 654.7,111.7 654.9,119.4 655.2,123.5 655.4,122.3 655.7,123.6 656,114.4 656.2,114.7 656.5,113.9 656.7,113.4 657,117.7 657.2,111.7 657.5,123.4 657.7,113.9 658,116.8 658.3,121 658.5,111.3 658.8,120.5 659,109.1 659.3,113.4 659.5,121.1 659.8,124.7 660,122.6 660.3,119.5 660.6,109.6 660.8,109.2 661.1,120.1 661.3,115.1 661.6,117.1 661.8,107.4 662.1,123.3 662.3,112.3 662.6,117.2 662.9,116.2 663.1,118.2 663.4,104.3 663.6,119.5 663.9,116.4 664.1,117.8 664.4,125.1 664.6,119.2 664.9,118.3 665.2,109 665.4,114.4 665.7,111.9 665.9,114.7 666.2,113.2 666.4,122.9 666.7,117.4 667,113.1 667.2,113.9 667.5,124.2 667.7,110.4 668,118.8 668.2,127.9 668.5,121.1 668.7,118.8 669,112.5 669.3,122.2 669.5,119.4 669.8,104.2 670,124.6 670.3,117.1 670.5,115.8 670.8,111.5 671,120.4" fill="none" stroke="#f9a21d" stroke-width="1.12" stroke-dasharray="4.85 1.21 0.76 1.21" stroke-linejoin="round"/>
<path d="M415.5,167.3 415.8,154.3 416,152.6 416.3,147.1 416.5,129.2 416.8,145.1 417,141.7 417.3,156.2 417.5,137.9 417.8,168.4 418.1,172.3 418.3,149.5 418.6,156.7 418.8,151.9 419.1,176 419.3,162.8 419.6,147.3 419.8,149.1 420.1,153.7 420.4,150.9 420.6,161.8 420.9,160.9 421.1,150.7 421.4,166.6 421.6,166 421.9,176.2 422.2,165.7 422.4,163.2 422.7,145.1 422.9,146.5 423.2,146.5 423.4,149 423.7,154.5 423.9,167.1 424.2,135.3 424.5,132.4 424.7,162.9 425,135.6 425.2,144.4 425.5,140.4 425.7,148.2 426,136.7 426.2,157.9 426.5,155.3 426.8,142.3 427,147 427.3,150 427.5,162 427.8,160.3 428,143.6 428.3,144.4 428.5,142.4 428.8,150.2 429.1,164.3 429.3,144.2 429.6,149 429.8,160.3 430.1,153.3 430.3,132.9 430.6,143.5 430.8,160.5 431.1,149.9 431.4,142.8 431.6,151.8 431.9,156.1 432.1,160.2 432.4,135.9 432.6,141 432.9,142.5 433.2,158.1 433.4,159.4 433.7,163.6 433.9,142 434.2,144.1 434.4,160.6 434.7,168.4 434.9,156.3 435.2,147.9 435.5,147.2 435.7,165.1 436,139.2 436.2,142.5 436.5,149.1 436.7,146.3 437,160.7 437.2,150.8 437.5,153.4 437.8,158.4 438,148.5 438.3,153.8 438.5,171.7 438.8,147.8 439,143.9 439.3,161.9 439.5,160.9 439.8,170.4 440.1,146.9 440.3,159 440.6,166.2 440.8,156.3 441.1,143.1 441.3,138.2 441.6,145 441.8,155.3 442.1,150.9 442.4,152.5 442.6,144.8 442.9,136.6 443.1,154.1 443.4,143.7 443.6,143.1 443.9,157.7 444.1,144.5 444.4,142.3 444.7,151.1 444.9,171.3 445.2,153.8 445.4,142.7 445.7,141.5 445.9,137.9 446.2,157.9 446.5,159.1 446.7,138.6 447,155.6 447.2,158.8 447.5,152.5 447.7,158.2 448,171.6 448.2,150.7 448.5,145 448.8,169.4 449,159.4 449.3,166.6 449.5,161 449.8,140.2 450,155.8 450.3,152.4 450.5,142.8 450.8,143.7 451.1,147.4 451.3,155.7 451.6,147.3 451.8,158.1 452.1,163.9 452.3,148 452.6,149 452.8,147.9 453.1,148.5 453.4,145 453.6,169 453.9,145 454.1,146.4 454.4,147 454.6,145 454.9,167.8 455.1,158.4 455.4,157.1 455.7,153.8 455.9,143.7 456.2,153.7 456.4,162 456.7,144.2 456.9,148 457.2,163.7 457.5,153.1 457.7,142.2 458,170.2 458.2,147.1 458.5,162.5 458.7,155.4 459,157.4 459.2,141.3 459.5,169.6 459.8,144.1 460,158.3 460.3,140.4 460.5,139 460.8,159.3 461,144.2 461.3,140.1 461.5,151.4 461.8,140.7 462.1,148.1 462.3,140.8 462.6,157.6 462.8,172.1 463.1,144.2 463.3,149.5 463.6,163.1 463.8,139.4 464.1,164.3 464.4,139.5 464.6,147.9 464.9,138.2 465.1,168.8 465.4,174.1 465.6,162.9 465.9,135.1 466.1,153.8 466.4,150.3 466.7,156.1 466.9,172.4 467.2,149.4 467.4,142.7 467.7,150.6 467.9,174.3 468.2,151.9 468.5,152.6 468.7,151.2 469,136.4 469.2,164.2 469.5,155.9 469.7,153.8 470,158.6 470.2,165.8 470.5,164.2 470.8,158.3 471,156.9 471.3,145.8 471.5,146.2 471.8,161.7 472,160.6 472.3,152.2 472.5,159.3 472.8,148.7 473.1,156.6 473.3,149.5 473.6,133.3 473.8,143.4 474.1,137.5 474.3,146.2 474.6,154.4 474.8,144.7 475.1,177.3 475.4,177.5 475.6,155 475.9,152.2 476.1,147 476.4,151.4 476.6,154 476.9,158.9 477.1,150 477.4,151.2 477.7,163.8 477.9,157.4 478.2,141.6 478.4,154.4 478.7,159.6 478.9,159.3 479.2,164.6 479.4,180.1 479.7,151.8 480,143.4 480.2,148.2 480.5,154.3 480.7,138.6 481,145.5 481.2,149.4 481.5,146.2 481.8,146.6 482,150.2 482.3,170.7 482.5,152.1 482.8,145.3 483,145.6 483.3,154.8 483.5,139.2 483.8,139.3 484.1,148.4 484.3,164.9 484.6,143.9 484.8,150.9 485.1,150.6 485.3,151.3 485.6,144.3 485.8,137.4 486.1,153.5 486.4,167.6 486.6,161.9 486.9,158.4 487.1,144.4 487.4,168.5 487.6,143.7 487.9,141.4 488.1,151.2 488.4,151.7 488.7,149.6 488.9,147.1 489.2,149.7 489.4,145.6 489.7,152.1 489.9,150.2 490.2,164.6 490.4,149.4 490.7,153.7 491,147.6 491.2,142.8 491.5,147.9 491.7,155.9 492,142.2 492.2,138.4 492.5,161.1 492.8,148.9 493,148.8 493.3,152.9 493.5,149.8 493.8,143.1 494,160.3 494.3,164.8 494.5,138.3 494.8,153.7 495.1,188.1 495.3,151.5 495.6,153.6 495.8,158.7 496.1,159.4 496.3,147.7 496.6,167.1 496.8,148.6 497.1,155.8 497.4,148.9 497.6,166.3 497.9,143.8 498.1,147.4 498.4,178.5 498.6,140 498.9,142.3 499.1,148.3 499.4,148.2 499.7,138.9 499.9,145.7 500.2,151.5 500.4,147.3 500.7,153.8 500.9,166 501.2,159.6 501.4,151.8 501.7,151 502,152.7 502.2,150 502.5,160.9 502.7,144.9 503,143.1 503.2,142.4 503.5,158.9 503.8,144.9 504,142.7 504.3,146.9 504.5,155.8 504.8,152.8 505,142.9 505.3,148.5 505.5,159.7 505.8,156.2 506.1,158.9 506.3,145.8 506.6,183.2 506.8,149.8 507.1,132.7 507.3,148.5 507.6,184 507.8,153.1 508.1,143.6 508.4,152.6 508.6,161.3 508.9,139.2 509.1,154.6 509.4,151.1 509.6,153.6 509.9,150 510.1,170.8 510.4,155.4 510.7,138.6 510.9,151.4 511.2,149.9 511.4,161.7 511.7,138.2 511.9,158.4 512.2,151 512.4,143.6 512.7,137.1 513,159.4 513.2,146.7 513.5,152.8 513.7,153.5 514,134.4 514.2,156.6 514.5,156 514.8,146.6 515,150.5 515.3,144.2 515.5,165.9 515.8,142 516,170.8 516.3,156 516.5,149.5 516.8,164.2 517.1,148.9 517.3,161.6 517.6,141.9 517.8,149.3 518.1,153.1 518.3,159.6 518.6,158.1 518.8,144.5 519.1,151.7 519.4,150 519.6,163.7 519.9,152.6 520.1,153.7 520.4,158.3 520.6,159.1 520.9,140.8 521.1,159.3 521.4,151.8 521.7,140.9 521.9,147.2 522.2,149.4 522.4,153.7 522.7,166.8 522.9,155.7 523.2,166.7 523.4,148.8 523.7,147.8 524,156.7 524.2,162.8 524.5,152.6 524.7,149.3 525,138.5 525.2,180.2 525.5,160.5 525.7,143 526,142.9 526.3,147.4 526.5,152.7 526.8,158 527,159 527.3,159.8 527.5,154.2 527.8,144.4 528.1,151.3 528.3,150 528.6,136.8 528.8,167.2 529.1,149 529.3,161.3 529.6,158.3 529.8,157.7 530.1,153.3 530.4,156.2 530.6,153.1 530.9,139.2 531.1,152 531.4,137.8 531.6,154.3 531.9,170.9 532.1,158.9 532.4,141.3 532.7,143.6 532.9,150.2 533.2,156.4 533.4,148.2 533.7,161.5 533.9,141.8 534.2,166.7 534.4,146.8 534.7,161.6 535,166.6 535.2,152.4 535.5,151.5 535.7,142.5 536,154 536.2,146.9 536.5,153.5 536.7,142.7 537,176.1 537.3,152.4 537.5,152.4 537.8,149.3 538,134.8 538.3,172.8 538.5,135.3 538.8,141.1 539.1,144.5 539.3,137.9 539.6,136.9 539.8,148.9 540.1,157.1 540.3,156.7 540.6,161.6 540.8,175.2 541.1,147.7 541.4,169 541.6,151.5 541.9,140.6 542.1,171.6 542.4,157.1 542.6,141.9 542.9,151 543.1,141.4 543.4,166.9 543.7,155.7 543.9,154 544.2,148.5 544.4,163.2 544.7,148.8 544.9,167.6 545.2,160.5 545.4,160.7 545.7,160.5 546,158.8 546.2,139.8 546.5,141.5 546.7,158.4 547,161.7 547.2,136.8 547.5,161.4 547.7,163.7 548,143.7 548.3,142.8 548.5,145.3 548.8,157.1 549,153 549.3,158.2 549.5,139.5 549.8,149.2 550.1,160.8 550.3,158.2 550.6,151.5 550.8,142.1 551.1,179.9 551.3,150.2 551.6,148.1 551.8,176.9 552.1,153.6 552.4,142.6 552.6,149.2 552.9,150.5 553.1,167.2 553.4,157.1 553.6,139.7 553.9,147 554.1,166.6 554.4,135 554.7,157.1 554.9,157.9 555.2,151.2 555.4,151.8 555.7,153.1 555.9,142.5 556.2,152.4 556.4,161.4 556.7,172.1 557,148.1 557.2,165.2 557.5,149.1 557.7,152 558,162.6 558.2,141.2 558.5,145.9 558.7,153.5 559,154.1 559.3,151.3 559.5,149.9 559.8,171.4 560,148.1 560.3,158.1 560.5,161 560.8,140.7 561.1,129.2 561.3,160.9 561.6,153.8 561.8,133.7 562.1,166 562.3,151.8 562.6,145.7 562.8,146.4 563.1,175 563.4,140.2 563.6,157.5 563.9,150.2 564.1,144 564.4,180 564.6,151 564.9,165.5 565.1,157 565.4,141.3 565.7,150.2 565.9,155.3 566.2,150.3 566.4,155.6 566.7,146.9 566.9,156.9 567.2,156.8 567.4,164.2 567.7,147.3 568,156.1 568.2,141.7 568.5,149.3 568.7,136.2 569,149.6 569.2,156.2 569.5,141.1 569.7,152.6 570,162.9 570.3,145.6 570.5,173 570.8,140.2 571,164.4 571.3,152.1 571.5,150.3 571.8,157.1 572,150.4 572.3,151.9 572.6,152.1 572.8,170.5 573.1,166 573.3,139 573.6,149 573.8,174.6 574.1,155.3 574.4,161.5 574.6,151.7 574.9,145.5 575.1,149.7 575.4,146.8 575.6,155 575.9,151.8 576.1,140.1 576.4,147.9 576.7,143.8 576.9,128.7 577.2,140.2 577.4,153.7 577.7,154.5 577.9,150.2 578.2,147.1 578.4,152.7 578.7,161.2 579,157 579.2,143.6 579.5,166.8 579.7,155.3 580,154.8 580.2,163.2 580.5,169.4 580.7,155.3 581,146.4 581.3,139.7 581.5,140 581.8,151.8 582,139.5 582.3,145.8 582.5,163 582.8,157 583,156.7 583.3,167 583.6,147.3 583.8,141 584.1,158.6 584.3,158.3 584.6,152.1 584.8,151.2 585.1,144.6 585.4,136.9 585.6,141.1 585.9,144.1 586.1,135.8 586.4,165.6 586.6,142.7 586.9,163.1 587.1,147.9 587.4,150.9 587.7,151.3 587.9,173.7 588.2,148.7 588.4,139.5 588.7,153.2 588.9,150.6 589.2,166.3 589.4,164.2 589.7,150.4 590,152.9 590.2,145.7 590.5,153.4 590.7,136.6 591,154.6 591.2,158.3 591.5,153.1 591.7,158.8 592,159.8 592.3,157.5 592.5,172.4 592.8,160.6 593,167 593.3,146.5 593.5,133.4 593.8,143.2 594,161.3 594.3,148 594.6,153.1 594.8,143.7 595.1,156.4 595.3,142.9 595.6,145.9 595.8,143 596.1,149.1 596.4,146.5 596.6,147.1 596.9,150.7 597.1,156.2 597.4,149.2 597.6,157.2 597.9,163.7 598.1,138.1 598.4,156.9 598.7,151.3 598.9,149.6 599.2,147.7 599.4,162.6 599.7,142.2 599.9,174.4 600.2,161.7 600.4,149.4 600.7,159.7 601,151 601.2,133 601.5,173.6 601.7,158 602,163 602.2,174.9 602.5,167.6 602.7,149.7 603,164.8 603.3,142.1 603.5,161.7 603.8,139.4 604,149 604.3,141.3 604.5,166.3 604.8,160.8 605,151.3 605.3,164.5 605.6,136.6 605.8,172.7 606.1,147 606.3,155.4 606.6,153.6 606.8,155.2 607.1,162 607.4,154.6 607.6,141.6 607.9,149.5 608.1,139.4 608.4,158.7 608.6,148.5 608.9,169.9 609.1,149 609.4,159.5 609.7,140.9 609.9,166.9 610.2,143.6 610.4,133.9 610.7,149.4 610.9,153.7 611.2,141.1 611.4,163.7 611.7,141.6 612,146.2 612.2,148 612.5,161 612.7,154.5 613,154.5 613.2,154.7 613.5,149.7 613.7,140.2 614,170 614.3,142 614.5,150.9 614.8,163.5 615,145.6 615.3,143.4 615.5,164.7 615.8,154.9 616,148.1 616.3,171 616.6,156.2 616.8,158.8 617.1,143 617.3,152.7 617.6,158.1 617.8,165.4 618.1,147.2 618.3,148.9 618.6,150.7 618.9,153.4 619.1,161.5 619.4,143.7 619.6,149.1 619.9,182 620.1,144.4 620.4,158.3 620.7,167.8 620.9,156.6 621.2,157.9 621.4,158.2 621.7,157.6 621.9,139.6 622.2,158.4 622.4,148.9 622.7,167.3 623,144.9 623.2,146.8 623.5,137.3 623.7,164.6 624,142.2 624.2,168.3 624.5,152.9 624.7,150 625,143.4 625.3,184.8 625.5,140.9 625.8,166.2 626,147.4 626.3,150.4 626.5,142.6 626.8,150.1 627,152.4 627.3,144.5 627.6,166.2 627.8,156.5 628.1,147.3 628.3,180.4 628.6,150.6 628.8,163.6 629.1,144.9 629.3,142.5 629.6,150.1 629.9,147.5 630.1,157.6 630.4,144.8 630.6,164.4 630.9,174.4 631.1,164.1 631.4,151.2 631.7,133.1 631.9,133.5 632.2,156.5 632.4,164.6 632.7,150.1 632.9,153.1 633.2,154.6 633.4,150.1 633.7,154.9 634,144.8 634.2,145.7 634.5,154.4 634.7,185.4 635,151.9 635.2,141.1 635.5,158.3 635.7,139.5 636,157.6 636.3,152.9 636.5,144.4 636.8,153.3 637,160.7 637.3,148 637.5,153.7 637.8,150.4 638,150.3 638.3,159.6 638.6,171.3 638.8,144.8 639.1,157.8 639.3,147.2 639.6,167.2 639.8,154.4 640.1,133.2 640.3,147.1 640.6,176.8 640.9,149.8 641.1,152.1 641.4,149.1 641.6,144.9 641.9,162 642.1,144.5 642.4,159 642.7,150.9 642.9,154.6 643.2,134.7 643.4,159.9 643.7,176.1 643.9,153.9 644.2,147.6 644.4,148.8 644.7,176.9 645,167.1 645.2,157 645.5,137.3 645.7,158.3 646,140.4 646.2,151.3 646.5,146.1 646.7,152.7 647,164.3 647.3,143.9 647.5,153.7 647.8,156.2 648,172.2 648.3,156.5 648.5,142.8 648.8,141.4 649,144.2 649.3,169 649.6,157.2 649.8,149.7 650.1,156.1 650.3,154 650.6,158.3 650.8,149.9 651.1,149.1 651.3,132.2 651.6,143.7 651.9,152 652.1,159.6 652.4,149.5 652.6,139.1 652.9,156.2 653.1,144.9 653.4,161.1 653.6,153.7 653.9,171.3 654.2,151.5 654.4,147.2 654.7,149.5 654.9,147.5 655.2,155.5 655.4,162.2 655.7,158.9 656,147 656.2,150.7 656.5,154.3 656.7,141.5 657,184.3 657.2,147.7 657.5,159.9 657.7,157.9 658,151.4 658.3,159.6 658.5,145 658.8,144.8 659,138 659.3,145.5 659.5,156.7 659.8,177.1 660,165.4 660.3,161.2 660.6,133.6 660.8,161.4 661.1,155.6 661.3,146.7 661.6,170.3 661.8,140.1 662.1,158.7 662.3,162.5 662.6,145.8 662.9,168.8 663.1,159.9 663.4,131.1 663.6,147.6 663.9,155.1 664.1,160.7 664.4,162.7 664.6,168.6 664.9,179.9 665.2,154.2 665.4,145.3 665.7,134.4 665.9,154.6 666.2,162.6 666.4,162.5 666.7,147.9 667,147.2 667.2,142.4 667.5,145 667.7,152.2 668,141.1 668.2,157.7 668.5,154.5 668.7,155.3 669,140.7 669.3,159 669.5,144.4 669.8,147 670,157.5 670.3,148 670.5,153.9 670.8,142.6 671,151.3" fill="none" stroke="#ed1c24" stroke-width="1.12" stroke-dasharray="2.95 1.06" stroke-linejoin="round"/>
<path d="M415.5,91.3 415.8,78.5 416,72.9 416.3,72.9 416.5,59 416.8,82 417,84.1 417.3,90.3 417.5,88.1 417.8,92.6 418.1,96.3 418.3,72.6 418.6,84.9 418.8,98.4 419.1,89.1 419.3,90.8 419.6,86.8 419.8,82.2 420.1,83.4 420.4,91.5 420.6,76.7 420.9,84.7 421.1,73.3 421.4,89.5 421.6,77.9 421.9,90.8 422.2,71.8 422.4,78.6 422.7,81.6 422.9,94.1 423.2,80.9 423.4,86.2 423.7,96.7 423.9,61.8 424.2,82.4 424.5,83.3 424.7,89.2 425,92.3 425.2,69.3 425.5,100.3 425.7,73.3 426,75.9 426.2,71.7 426.5,90.3 426.8,73.8 427,66.2 427.3,72.2 427.5,94.2 427.8,79.4 428,77.6 428.3,87.6 428.5,69 428.8,81.5 429.1,80.4 429.3,72.6 429.6,77 429.8,80.4 430.1,89 430.3,83 430.6,90.7 430.8,82.2 431.1,74.5 431.4,71.5 431.6,75.5 431.9,59.5 432.1,72.1 432.4,71 432.6,62.3 432.9,83.3 433.2,74.6 433.4,84.9 433.7,99.8 433.9,90.2 434.2,76.3 434.4,83.5 434.7,80.1 434.9,85 435.2,82.8 435.5,87.9 435.7,73.8 436,69.1 436.2,88.9 436.5,82.9 436.7,80.5 437,76.1 437.2,77.2 437.5,54.3 437.8,74.2 438,87.7 438.3,94.9 438.5,82 438.8,68.2 439,87.3 439.3,66.5 439.5,97.6 439.8,70.2 440.1,79.2 440.3,76.8 440.6,71.6 440.8,77.9 441.1,65.5 441.3,67.7 441.6,80.6 441.8,72.8 442.1,87 442.4,71.6 442.6,99.6 442.9,76.9 443.1,87.2 443.4,93.2 443.6,82 443.9,73.5 444.1,84.7 444.4,86 444.7,66.1 444.9,84.6 445.2,97.4 445.4,89.8 445.7,89.1 445.9,91 446.2,74.4 446.5,102.9 446.7,80.3 447,83.2 447.2,77.5 447.5,82.2 447.7,74.2 448,89.4 448.2,75.4 448.5,93 448.8,80.9 449,68.1 449.3,89.3 449.5,68.3 449.8,85 450,70.4 450.3,98 450.5,83 450.8,100 451.1,84.3 451.3,77.4 451.6,65.9 451.8,69.3 452.1,93.9 452.3,60.9 452.6,68.8 452.8,67.3 453.1,88.7 453.4,53.3 453.6,81 453.9,96 454.1,89.6 454.4,90.1 454.6,90.3 454.9,63.2 455.1,80.9 455.4,70.9 455.7,77.6 455.9,68.5 456.2,99.5 456.4,64 456.7,87.7 456.9,89.2 457.2,90.2 457.5,71.4 457.7,80 458,93.3 458.2,75.4 458.5,97.1 458.7,59.1 459,71.9 459.2,87.1 459.5,65.3 459.8,92 460,91.7 460.3,77.5 460.5,84.2 460.8,87.1 461,89.5 461.3,76.3 461.5,88.7 461.8,78 462.1,72.6 462.3,83.1 462.6,80.6 462.8,73 463.1,82.5 463.3,67.4 463.6,89.3 463.8,94.6 464.1,60.6 464.4,80.8 464.6,92.4 464.9,76 465.1,65.5 465.4,94.4 465.6,78.2 465.9,67 466.1,85.5 466.4,80.4 466.7,66.3 466.9,97.3 467.2,80.6 467.4,66.5 467.7,80 467.9,87.7 468.2,77.3 468.5,84.9 468.7,89.6 469,91.6 469.2,85.6 469.5,79 469.7,89.5 470,77.5 470.2,77.2 470.5,82.4 470.8,79.6 471,82.3 471.3,90.4 471.5,95.8 471.8,83.7 472,87.7 472.3,75.1 472.5,72.2 472.8,79 473.1,87.4 473.3,91.4 473.6,84.9 473.8,76 474.1,93.1 474.3,91.8 474.6,70.6 474.8,70.1 475.1,93.5 475.4,77.1 475.6,84.2 475.9,88.7 476.1,93.8 476.4,77.4 476.6,82.6 476.9,89.9 477.1,100.4 477.4,71.7 477.7,75.6 477.9,89.5 478.2,93.5 478.4,86.9 478.7,84 478.9,87.5 479.2,53.9 479.4,85.5 479.7,87.7 480,84.7 480.2,82.2 480.5,83.2 480.7,82.9 481,74.3 481.2,72.6 481.5,87.6 481.8,74.3 482,85.1 482.3,81.3 482.5,88.3 482.8,56.5 483,88.3 483.3,78.3 483.5,88.6 483.8,76.8 484.1,78.4 484.3,81.2 484.6,59.9 484.8,61.5 485.1,77.2 485.3,84.3 485.6,88.3 485.8,77.5 486.1,83.2 486.4,67.8 486.6,91.9 486.9,81.2 487.1,70.8 487.4,96.8 487.6,59.9 487.9,90 488.1,89.3 488.4,96.4 488.7,59.5 488.9,86.8 489.2,88.2 489.4,84.5 489.7,75.4 489.9,78 490.2,85.6 490.4,98.7 490.7,76.7 491,96.9 491.2,83.2 491.5,73.3 491.7,91.7 492,97.7 492.2,85.7 492.5,81.6 492.8,82 493,80.6 493.3,85.2 493.5,85.4 493.8,91.8 494,81.2 494.3,95 494.5,83.7 494.8,80.5 495.1,70.9 495.3,82.8 495.6,76.3 495.8,70.7 496.1,87.1 496.3,102.7 496.6,77 496.8,77.8 497.1,82.9 497.4,84.6 497.6,77.3 497.9,71.5 498.1,83.1 498.4,88.7 498.6,79.9 498.9,65.1 499.1,62.5 499.4,71.4 499.7,77.3 499.9,63.9 500.2,62.4 500.4,88.1 500.7,75.7 500.9,84.3 501.2,76.8 501.4,90.3 501.7,85.7 502,78.3 502.2,85.3 502.5,73.6 502.7,70.7 503,68.1 503.2,69.5 503.5,73.8 503.8,83.6 504,83.3 504.3,77.5 504.5,70.3 504.8,90.7 505,89.5 505.3,69.8 505.5,75.1 505.8,88.3 506.1,77.5 506.3,72.1 506.6,61.4 506.8,75.6 507.1,69.8 507.3,73.4 507.6,72.6 507.8,80.1 508.1,81.5 508.4,87.7 508.6,66.6 508.9,79.4 509.1,83.3 509.4,75.7 509.6,81.1 509.9,71.7 510.1,86.7 510.4,70.1 510.7,85 510.9,89.4 511.2,79.5 511.4,72.6 511.7,79.8 511.9,70.5 512.2,65.3 512.4,75.9 512.7,81 513,79.5 513.2,65.6 513.5,81.2 513.7,82.1 514,81.9 514.2,66 514.5,75.1 514.8,103 515,80.3 515.3,58.4 515.5,75.4 515.8,61.4 516,78 516.3,81.1 516.5,73 516.8,82.1 517.1,84.4 517.3,86.3 517.6,76.9 517.8,83.3 518.1,84.6 518.3,79.8 518.6,96.5 518.8,84.8 519.1,96.1 519.4,82.5 519.6,86.7 519.9,45.9 520.1,71.7 520.4,90.3 520.6,88.3 520.9,83.5 521.1,91.4 521.4,79.6 521.7,80.5 521.9,67.1 522.2,68.2 522.4,85.6 522.7,84.8 522.9,100.4 523.2,85.4 523.4,83.7 523.7,87.4 524,78.5 524.2,88.2 524.5,70.5 524.7,88.4 525,88.4 525.2,92.2 525.5,78.7 525.7,75.7 526,82.3 526.3,84 526.5,78.2 526.8,86.9 527,77.2 527.3,86.6 527.5,88.3 527.8,80.5 528.1,90.8 528.3,111 528.6,88.9 528.8,104.6 529.1,87.4 529.3,79.8 529.6,86.2 529.8,77.2 530.1,81.9 530.4,72.5 530.6,79.9 530.9,61.6 531.1,93.4 531.4,79.3 531.6,90.9 531.9,78.5 532.1,64.9 532.4,77.5 532.7,81.6 532.9,90.9 533.2,86.5 533.4,89.2 533.7,84.9 533.9,75.4 534.2,71 534.4,85.4 534.7,93.2 535,100.6 535.2,70.8 535.5,75.9 535.7,100.4 536,90.4 536.2,81.7 536.5,84.8 536.7,90 537,85.2 537.3,81.5 537.5,81.2 537.8,74.6 538,40.6 538.3,72.9 538.5,95.4 538.8,80.7 539.1,85.5 539.3,79.4 539.6,87.8 539.8,96 540.1,91.1 540.3,64.8 540.6,82.1 540.8,67.9 541.1,80 541.4,78.2 541.6,91.8 541.9,74.2 542.1,77.8 542.4,65.4 542.6,56.6 542.9,66.7 543.1,87.7 543.4,80.3 543.7,79.9 543.9,75.6 544.2,76.8 544.4,83.2 544.7,79.5 544.9,94.7 545.2,68.5 545.4,63.8 545.7,93.5 546,78.4 546.2,56.5 546.5,104.9 546.7,82 547,65.5 547.2,58.3 547.5,80.2 547.7,90.6 548,91.4 548.3,70.8 548.5,89.4 548.8,95.5 549,94.6 549.3,88.5 549.5,77.1 549.8,65.2 550.1,75.2 550.3,68.3 550.6,77 550.8,58 551.1,91.5 551.3,86.7 551.6,62.5 551.8,58.3 552.1,65 552.4,76.3 552.6,106.6 552.9,69.5 553.1,85.7 553.4,94.5 553.6,98.1 553.9,86.3 554.1,89.6 554.4,76 554.7,93.1 554.9,84 555.2,85.6 555.4,82.3 555.7,82.1 555.9,93.4 556.2,81.2 556.4,92.1 556.7,62.8 557,79.3 557.2,75.2 557.5,78.3 557.7,77.5 558,92.8 558.2,77.9 558.5,80.1 558.7,86.5 559,84.1 559.3,82.9 559.5,74.2 559.8,78 560,74.5 560.3,73.6 560.5,82.5 560.8,72.3 561.1,88.5 561.3,83.1 561.6,69.5 561.8,65.2 562.1,94.6 562.3,91.2 562.6,56.5 562.8,74 563.1,63.2 563.4,91.8 563.6,87.4 563.9,84 564.1,79.8 564.4,82.5 564.6,87 564.9,70 565.1,80.4 565.4,91.6 565.7,79.6 565.9,73.9 566.2,85 566.4,78.2 566.7,94.4 566.9,57.7 567.2,55.2 567.4,74.8 567.7,73.5 568,63.8 568.2,82.1 568.5,87.4 568.7,68 569,100.3 569.2,73.4 569.5,85.7 569.7,98.3 570,79.6 570.3,88.2 570.5,93.6 570.8,73 571,89 571.3,82.5 571.5,83 571.8,80.4 572,78.6 572.3,99 572.6,79.8 572.8,78.1 573.1,91.4 573.3,90.9 573.6,89.9 573.8,76.7 574.1,87.4 574.4,77.6 574.6,75.3 574.9,78.4 575.1,78.8 575.4,85.4 575.6,90.2 575.9,78.4 576.1,58.7 576.4,92.8 576.7,67.7 576.9,73.9 577.2,75.3 577.4,88 577.7,68.3 577.9,69.7 578.2,78.5 578.4,66.7 578.7,65.7 579,75 579.2,74.7 579.5,78.2 579.7,66.4 580,74.2 580.2,92.9 580.5,68.3 580.7,95.9 581,79.3 581.3,75.6 581.5,91.2 581.8,76.5 582,78.2 582.3,76.9 582.5,80.9 582.8,93.3 583,103.4 583.3,88.3 583.6,37.4 583.8,76.2 584.1,79.1 584.3,96.2 584.6,96.8 584.8,73.9 585.1,84.7 585.4,72.9 585.6,77.6 585.9,78.1 586.1,89.4 586.4,65.6 586.6,98.7 586.9,82.9 587.1,75.7 587.4,83 587.7,52 587.9,93.6 588.2,55.2 588.4,86.9 588.7,88 588.9,82 589.2,91.9 589.4,83.1 589.7,91.6 590,66.6 590.2,87.7 590.5,81 590.7,82.5 591,94.5 591.2,93.5 591.5,74.5 591.7,73.4 592,90 592.3,83.7 592.5,73.9 592.8,71 593,43.2 593.3,67.2 593.5,81.9 593.8,82.6 594,91.1 594.3,74.6 594.6,84.6 594.8,101.5 595.1,83.9 595.3,81.2 595.6,92.4 595.8,83.4 596.1,79.1 596.4,82.6 596.6,88.4 596.9,88.6 597.1,96.1 597.4,73.4 597.6,79.5 597.9,85.7 598.1,77.8 598.4,71.4 598.7,77.2 598.9,66.7 599.2,79.8 599.4,79.9 599.7,77.6 599.9,73.9 600.2,88.4 600.4,85.1 600.7,77.6 601,75 601.2,75.7 601.5,63.8 601.7,82.7 602,82.8 602.2,93.1 602.5,80.7 602.7,69.9 603,80.9 603.3,86.3 603.5,54 603.8,82.2 604,92.6 604.3,86.1 604.5,72.9 604.8,88.9 605,69.9 605.3,94.1 605.6,81.9 605.8,71.9 606.1,78 606.3,70.5 606.6,89.3 606.8,84 607.1,79.7 607.4,90.8 607.6,94.1 607.9,48.7 608.1,54.4 608.4,93.4 608.6,90.4 608.9,67.3 609.1,92.1 609.4,72.1 609.7,77.4 609.9,83.2 610.2,84.5 610.4,68 610.7,73.4 610.9,83.8 611.2,89.6 611.4,83.2 611.7,91.3 612,79.9 612.2,72.5 612.5,79.8 612.7,75.2 613,86.6 613.2,63.5 613.5,77.3 613.7,87.8 614,90 614.3,84.8 614.5,68.9 614.8,90.6 615,64.1 615.3,88 615.5,72.5 615.8,93.2 616,94.2 616.3,69.3 616.6,84.4 616.8,71.4 617.1,80.5 617.3,93.3 617.6,76.3 617.8,75 618.1,67.2 618.3,80.1 618.6,84.4 618.9,79.7 619.1,75.8 619.4,73.7 619.6,75.9 619.9,83.9 620.1,80.8 620.4,88.6 620.7,88.9 620.9,80.6 621.2,86.7 621.4,90.7 621.7,64.3 621.9,75.8 622.2,77.7 622.4,81.1 622.7,84.8 623,83.4 623.2,88.5 623.5,67.3 623.7,79.6 624,77.7 624.2,88 624.5,72.9 624.7,83.8 625,69.6 625.3,70.6 625.5,64.3 625.8,94.6 626,86 626.3,95.2 626.5,71.1 626.8,92.7 627,74.4 627.3,65.8 627.6,74.9 627.8,85.9 628.1,72.8 628.3,70.2 628.6,92.2 628.8,82.3 629.1,86.8 629.3,74.4 629.6,75.1 629.9,72 630.1,93.4 630.4,75.7 630.6,85.8 630.9,83.2 631.1,78.6 631.4,79.1 631.7,90.5 631.9,80.7 632.2,71.5 632.4,86.2 632.7,92.8 632.9,68.7 633.2,70.3 633.4,93.2 633.7,67.8 634,88.4 634.2,51.8 634.5,77.7 634.7,83.1 635,92.1 635.2,72.6 635.5,87.8 635.7,68.1 636,82.7 636.3,85.8 636.5,74.3 636.8,84.5 637,82.6 637.3,76.2 637.5,103.7 637.8,66.1 638,84.5 638.3,89.1 638.6,74.6 638.8,91.9 639.1,92.9 639.3,82.1 639.6,62.7 639.8,75.7 640.1,81.5 640.3,78.6 640.6,83.9 640.9,72.9 641.1,59.6 641.4,77.4 641.6,83.4 641.9,91 642.1,78.3 642.4,65.7 642.7,89.9 642.9,95.4 643.2,80.8 643.4,63.6 643.7,84.7 643.9,45.7 644.2,66.8 644.4,91.1 644.7,65.9 645,78.3 645.2,78.5 645.5,82.8 645.7,93.7 646,66.5 646.2,61.6 646.5,80.6 646.7,96.5 647,82.3 647.3,84 647.5,86.4 647.8,86.1 648,90.1 648.3,85.2 648.5,75.4 648.8,90.7 649,92.7 649.3,94.7 649.6,73.9 649.8,85.9 650.1,96.7 650.3,84.7 650.6,82.1 650.8,68.6 651.1,86.3 651.3,75.7 651.6,61.7 651.9,96.4 652.1,77.3 652.4,80.1 652.6,91.2 652.9,75.4 653.1,81.5 653.4,75.3 653.6,67.3 653.9,55.9 654.2,86.1 654.4,75.6 654.7,85.5 654.9,88.1 655.2,96.4 655.4,91.4 655.7,90.5 656,89.9 656.2,73.6 656.5,71.9 656.7,80.2 657,78.2 657.2,84.4 657.5,95.1 657.7,85.5 658,92.8 658.3,93 658.5,72.8 658.8,94.8 659,82.3 659.3,77.6 659.5,78.3 659.8,99.3 660,72.3 660.3,75.3 660.6,82.6 660.8,67.2 661.1,80.4 661.3,76.8 661.6,86.4 661.8,65.3 662.1,100.9 662.3,86.1 662.6,82.7 662.9,86.6 663.1,73.8 663.4,63.4 663.6,65.5 663.9,86.7 664.1,88.6 664.4,97.9 664.6,89.7 664.9,79.9 665.2,80.6 665.4,87.8 665.7,87.9 665.9,69 666.2,75.7 666.4,77.2 666.7,88.6 667,93.5 667.2,71 667.5,87.2 667.7,75.3 668,89.8 668.2,93.4 668.5,88.1 668.7,91.1 669,87.1 669.3,79.5 669.5,63.9 669.8,76.9 670,83.4 670.3,83.1 670.5,77.3 670.8,74.9 671,90" fill="none" stroke="#2f42aa" stroke-width="1.12" stroke-dasharray="0.91 1.10" stroke-linejoin="round"/>
<path d="M415.50,199.20v1.77" stroke="#000" stroke-width="0.65"/>
<text x="415.50" y="206.57" text-anchor="middle" font-size="5.05">0</text>
<path d="M466.66,199.20v1.77" stroke="#000" stroke-width="0.65"/>
<text x="466.66" y="206.57" text-anchor="middle" font-size="5.05">200</text>
<path d="M517.82,199.20v1.77" stroke="#000" stroke-width="0.65"/>
<text x="517.82" y="206.57" text-anchor="middle" font-size="5.05">400</text>
<path d="M568.98,199.20v1.77" stroke="#000" stroke-width="0.65"/>
<text x="568.98" y="206.57" text-anchor="middle" font-size="5.05">600</text>
<path d="M620.14,199.20v1.77" stroke="#000" stroke-width="0.65"/>
<text x="620.14" y="206.57" text-anchor="middle" font-size="5.05">800</text>
<path d="M671.30,199.20v1.77" stroke="#000" stroke-width="0.65"/>
<text x="671.30" y="206.57" text-anchor="middle" font-size="5.05">1000</text>
<path d="M402.60,174.60h-1.77" stroke="#000" stroke-width="0.65"/>
<text x="399.06" y="176.52" text-anchor="end" font-size="5.05">60</text>
<path d="M402.60,146.32h-1.77" stroke="#000" stroke-width="0.65"/>
<text x="399.06" y="148.24" text-anchor="end" font-size="5.05">70</text>
<path d="M402.60,118.04h-1.77" stroke="#000" stroke-width="0.65"/>
<text x="399.06" y="119.96" text-anchor="end" font-size="5.05">80</text>
<path d="M402.60,89.76h-1.77" stroke="#000" stroke-width="0.65"/>
<text x="399.06" y="91.68" text-anchor="end" font-size="5.05">90</text>
<path d="M402.60,61.48h-1.77" stroke="#000" stroke-width="0.65"/>
<text x="399.06" y="63.40" text-anchor="end" font-size="5.05">100</text>
<path d="M402.60,33.20h-1.77" stroke="#000" stroke-width="0.65"/>
<text x="399.06" y="35.12" text-anchor="end" font-size="5.05">110</text>
<text x="543.50" y="213.70" text-anchor="middle" font-size="5.05">Iterations</text>
<text transform="translate(386.50,115.15) rotate(-90)" text-anchor="middle" font-size="5.05">Total Cost of Best Solution</text>
<rect x="517.00" y="218.00" width="51.20" height="24.60" rx="1.01" fill="#fff" fill-opacity="0.8" stroke="#ccc" stroke-width="0.51"/>
<path d="M519.02,222.95h10.10" stroke="#f9a21d" stroke-width="0.76" stroke-dasharray="4.85 1.21 0.76 1.21"/>
<text x="533.16" y="224.77" font-size="5.05">Average[F(x)]</text>
<path d="M519.02,230.37h10.10" stroke="#ed1c24" stroke-width="0.76" stroke-dasharray="2.80 1.21"/>
<text x="533.16" y="232.19" font-size="5.05">Best [F(x)]</text>
<path d="M519.02,237.80h10.10" stroke="#2f42aa" stroke-width="0.76" stroke-dasharray="0.76 1.25"/>
<text x="533.16" y="239.61" font-size="5.05">Worst [F(x)]</text></g>
</svg>
<div class="cap" id="capa" style="left:0.5px;top:235.5px;letter-spacing:0.67px;word-spacing:1px">(a) Sparrow Algorithm Evolution Over<br>Iterations for Each Sparrow</div>
<div class="cap" id="capb" style="left:387.7px;top:257.5px;letter-spacing:0.72px;word-spacing:1px">(b) Sparrow Algorithm Convergence</div>
</body></html>
